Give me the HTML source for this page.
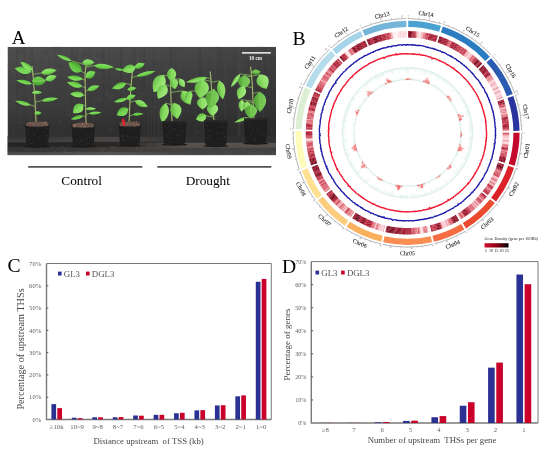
<!DOCTYPE html>
<html><head><meta charset="utf-8"><title>Figure</title><style>html,body{margin:0;padding:0;background:#fff;width:550px;height:452px;overflow:hidden}svg{display:block}</style></head><body>
<svg width="550" height="452" viewBox="0 0 550 452">
<rect width="550" height="452" fill="#fff"/>
<text x="11.7" y="44.2" font-family="Liberation Serif, Times New Roman, serif" font-size="19" fill="#000">A</text>
<defs><linearGradient id="bg" x1="0" y1="0" x2="0" y2="1"><stop offset="0" stop-color="#4c4c4c"/><stop offset="0.3" stop-color="#3f3f3f"/><stop offset="0.55" stop-color="#393939"/><stop offset="0.75" stop-color="#2f2f2f"/><stop offset="0.88" stop-color="#303030"/><stop offset="1" stop-color="#333"/></linearGradient><linearGradient id="bgh" x1="0" y1="0" x2="1" y2="0"><stop offset="0" stop-color="#fff" stop-opacity="0.02"/><stop offset="0.5" stop-color="#000" stop-opacity="0.02"/><stop offset="1" stop-color="#000" stop-opacity="0.1"/></linearGradient><linearGradient id="fl" x1="0" y1="0" x2="0" y2="1"><stop offset="0" stop-color="#3e3e3e"/><stop offset="0.1" stop-color="#57514f"/><stop offset="0.28" stop-color="#4a4644"/><stop offset="0.45" stop-color="#333"/><stop offset="0.7" stop-color="#393939"/><stop offset="0.85" stop-color="#4f4b48"/><stop offset="1" stop-color="#57534f"/></linearGradient><clipPath id="ph"><rect x="7.5" y="46.8" width="268.5" height="108.5"/></clipPath></defs>
<g clip-path="url(#ph)">
<rect x="7.5" y="46.8" width="268.5" height="108.50000000000001" fill="url(#bg)"/>
<rect x="7.5" y="46.8" width="268.5" height="108.50000000000001" fill="url(#bgh)"/>
<rect x="71.39" y="46.8" width="1.32" height="96" fill="#363636" opacity="0.22"/>
<rect x="253.43" y="46.8" width="1.21" height="96" fill="#4e4e4e" opacity="0.22"/>
<rect x="170.1" y="46.8" width="1.86" height="96" fill="#363636" opacity="0.22"/>
<rect x="77.14" y="46.8" width="0.85" height="96" fill="#363636" opacity="0.22"/>
<rect x="152.75" y="46.8" width="1.32" height="96" fill="#363636" opacity="0.22"/>
<rect x="179.09" y="46.8" width="0.73" height="96" fill="#4e4e4e" opacity="0.22"/>
<rect x="240.57" y="46.8" width="1.28" height="96" fill="#4e4e4e" opacity="0.22"/>
<rect x="187.77" y="46.8" width="0.6" height="96" fill="#4e4e4e" opacity="0.22"/>
<rect x="88.39" y="46.8" width="0.55" height="96" fill="#363636" opacity="0.22"/>
<rect x="134.43" y="46.8" width="1.58" height="96" fill="#363636" opacity="0.22"/>
<rect x="199.24" y="46.8" width="1.88" height="96" fill="#363636" opacity="0.22"/>
<rect x="203" y="46.8" width="1.37" height="96" fill="#4e4e4e" opacity="0.22"/>
<rect x="243.48" y="46.8" width="0.65" height="96" fill="#4e4e4e" opacity="0.22"/>
<rect x="140.38" y="46.8" width="0.89" height="96" fill="#363636" opacity="0.22"/>
<rect x="216.65" y="46.8" width="1.78" height="96" fill="#363636" opacity="0.22"/>
<rect x="143.69" y="46.8" width="1.08" height="96" fill="#363636" opacity="0.22"/>
<rect x="150.91" y="46.8" width="1.11" height="96" fill="#4e4e4e" opacity="0.22"/>
<rect x="250.28" y="46.8" width="1.52" height="96" fill="#4e4e4e" opacity="0.22"/>
<rect x="237.44" y="46.8" width="1.99" height="96" fill="#4e4e4e" opacity="0.22"/>
<rect x="195.08" y="46.8" width="0.99" height="96" fill="#4e4e4e" opacity="0.22"/>
<rect x="199.16" y="46.8" width="0.82" height="96" fill="#363636" opacity="0.22"/>
<rect x="84.01" y="46.8" width="0.6" height="96" fill="#363636" opacity="0.22"/>
<rect x="31.27" y="46.8" width="1.7" height="96" fill="#363636" opacity="0.22"/>
<rect x="248.37" y="46.8" width="0.53" height="96" fill="#363636" opacity="0.22"/>
<rect x="213.92" y="46.8" width="1.81" height="96" fill="#4e4e4e" opacity="0.22"/>
<rect x="169.94" y="46.8" width="1.64" height="96" fill="#363636" opacity="0.22"/>
<rect x="200.4" y="46.8" width="1" height="96" fill="#363636" opacity="0.22"/>
<rect x="143.21" y="46.8" width="2" height="96" fill="#363636" opacity="0.22"/>
<rect x="9.44" y="46.8" width="0.66" height="96" fill="#4e4e4e" opacity="0.22"/>
<rect x="262.28" y="46.8" width="1.96" height="96" fill="#363636" opacity="0.22"/>
<rect x="171.41" y="46.8" width="0.73" height="96" fill="#4e4e4e" opacity="0.22"/>
<rect x="270.6" y="46.8" width="1.01" height="96" fill="#363636" opacity="0.22"/>
<rect x="264.9" y="46.8" width="1.84" height="96" fill="#363636" opacity="0.22"/>
<rect x="108.66" y="46.8" width="1.8" height="96" fill="#363636" opacity="0.22"/>
<rect x="180.38" y="46.8" width="1.39" height="96" fill="#4e4e4e" opacity="0.22"/>
<rect x="174" y="46.8" width="1.91" height="96" fill="#363636" opacity="0.22"/>
<rect x="123.27" y="46.8" width="1.58" height="96" fill="#4e4e4e" opacity="0.22"/>
<rect x="258.93" y="46.8" width="1.16" height="96" fill="#363636" opacity="0.22"/>
<rect x="147.42" y="46.8" width="1.32" height="96" fill="#4e4e4e" opacity="0.22"/>
<rect x="219.18" y="46.8" width="1.98" height="96" fill="#363636" opacity="0.22"/>
<rect x="12.88" y="46.8" width="1.42" height="96" fill="#4e4e4e" opacity="0.22"/>
<rect x="23.63" y="46.8" width="1.44" height="96" fill="#363636" opacity="0.22"/>
<rect x="102.26" y="46.8" width="1.88" height="96" fill="#363636" opacity="0.22"/>
<rect x="205.66" y="46.8" width="0.53" height="96" fill="#4e4e4e" opacity="0.22"/>
<rect x="263.87" y="46.8" width="0.53" height="96" fill="#363636" opacity="0.22"/>
<rect x="74.93" y="46.8" width="1.18" height="96" fill="#363636" opacity="0.22"/>
<rect x="55.14" y="46.8" width="0.78" height="96" fill="#363636" opacity="0.22"/>
<rect x="234.07" y="46.8" width="0.9" height="96" fill="#363636" opacity="0.22"/>
<rect x="35.66" y="46.8" width="1.72" height="96" fill="#4e4e4e" opacity="0.22"/>
<rect x="90.74" y="46.8" width="0.83" height="96" fill="#363636" opacity="0.22"/>
<rect x="71.59" y="46.8" width="0.78" height="96" fill="#363636" opacity="0.22"/>
<rect x="181.9" y="46.8" width="0.65" height="96" fill="#363636" opacity="0.22"/>
<rect x="262.35" y="46.8" width="1.51" height="96" fill="#4e4e4e" opacity="0.22"/>
<rect x="125.22" y="46.8" width="1.78" height="96" fill="#4e4e4e" opacity="0.22"/>
<rect x="28.97" y="46.8" width="1.61" height="96" fill="#4e4e4e" opacity="0.22"/>
<rect x="245.1" y="46.8" width="1.18" height="96" fill="#4e4e4e" opacity="0.22"/>
<rect x="218.81" y="46.8" width="0.55" height="96" fill="#4e4e4e" opacity="0.22"/>
<rect x="92.12" y="46.8" width="1.75" height="96" fill="#4e4e4e" opacity="0.22"/>
<rect x="239.41" y="46.8" width="1.01" height="96" fill="#4e4e4e" opacity="0.22"/>
<rect x="223.98" y="46.8" width="1.02" height="96" fill="#4e4e4e" opacity="0.22"/>
<rect x="120.61" y="46.8" width="1.28" height="96" fill="#363636" opacity="0.22"/>
<rect x="132.28" y="46.8" width="1.45" height="96" fill="#363636" opacity="0.22"/>
<rect x="120.21" y="46.8" width="1.11" height="96" fill="#363636" opacity="0.22"/>
<rect x="49.39" y="46.8" width="0.51" height="96" fill="#363636" opacity="0.22"/>
<rect x="157.56" y="46.8" width="1.98" height="96" fill="#4e4e4e" opacity="0.22"/>
<rect x="16.18" y="46.8" width="1.19" height="96" fill="#363636" opacity="0.22"/>
<rect x="153.53" y="46.8" width="1.83" height="96" fill="#4e4e4e" opacity="0.22"/>
<rect x="237.87" y="46.8" width="1.96" height="96" fill="#4e4e4e" opacity="0.22"/>
<rect x="225.04" y="46.8" width="0.57" height="96" fill="#4e4e4e" opacity="0.22"/>
<rect x="248.23" y="46.8" width="1.85" height="96" fill="#4e4e4e" opacity="0.22"/>
<ellipse cx="11.03" cy="116.86" rx="3.01" ry="1.72" fill="#3a3a3a" opacity="0.16"/>
<ellipse cx="12.83" cy="97.28" rx="4.76" ry="2.84" fill="#525252" opacity="0.16"/>
<ellipse cx="99.15" cy="70.53" rx="4.25" ry="1.18" fill="#363636" opacity="0.16"/>
<ellipse cx="66.79" cy="58.29" rx="1.69" ry="3.38" fill="#525252" opacity="0.16"/>
<ellipse cx="254.99" cy="122.57" rx="2.95" ry="2.71" fill="#525252" opacity="0.16"/>
<ellipse cx="114.97" cy="117.91" rx="2.07" ry="2.58" fill="#3a3a3a" opacity="0.16"/>
<ellipse cx="121.07" cy="91.25" rx="4.43" ry="3.33" fill="#525252" opacity="0.16"/>
<ellipse cx="19.9" cy="51.48" rx="4.9" ry="3.56" fill="#363636" opacity="0.16"/>
<ellipse cx="30.63" cy="94" rx="1.63" ry="1.22" fill="#4e4e4e" opacity="0.16"/>
<ellipse cx="111.09" cy="83.43" rx="2.44" ry="1.57" fill="#4e4e4e" opacity="0.16"/>
<ellipse cx="95.78" cy="58.43" rx="3.86" ry="2.14" fill="#525252" opacity="0.16"/>
<ellipse cx="28.95" cy="63.58" rx="2.84" ry="2.95" fill="#4e4e4e" opacity="0.16"/>
<ellipse cx="152.85" cy="106.65" rx="3.49" ry="2.29" fill="#525252" opacity="0.16"/>
<ellipse cx="107.49" cy="93.44" rx="2.68" ry="3.08" fill="#4e4e4e" opacity="0.16"/>
<ellipse cx="131.24" cy="69.84" rx="3.78" ry="1.21" fill="#4e4e4e" opacity="0.16"/>
<ellipse cx="121.58" cy="86.83" rx="4.75" ry="2.12" fill="#525252" opacity="0.16"/>
<ellipse cx="248.57" cy="121.15" rx="1.49" ry="3.07" fill="#4e4e4e" opacity="0.16"/>
<ellipse cx="259.64" cy="115.56" rx="3.67" ry="3.2" fill="#363636" opacity="0.16"/>
<ellipse cx="158.89" cy="56.49" rx="2.89" ry="1.71" fill="#525252" opacity="0.16"/>
<ellipse cx="111.86" cy="96.36" rx="3.64" ry="2.13" fill="#525252" opacity="0.16"/>
<ellipse cx="227.52" cy="78.9" rx="1.1" ry="1.35" fill="#525252" opacity="0.16"/>
<ellipse cx="136.9" cy="112.26" rx="3.32" ry="3.4" fill="#4e4e4e" opacity="0.16"/>
<ellipse cx="17.24" cy="118.94" rx="1.43" ry="3.25" fill="#3a3a3a" opacity="0.16"/>
<ellipse cx="258.43" cy="52.55" rx="4.48" ry="1.54" fill="#4e4e4e" opacity="0.16"/>
<ellipse cx="28.27" cy="140.64" rx="2.82" ry="3.1" fill="#3a3a3a" opacity="0.16"/>
<ellipse cx="260.59" cy="70.57" rx="4.76" ry="2.67" fill="#363636" opacity="0.16"/>
<ellipse cx="266.96" cy="82.08" rx="4.89" ry="2.24" fill="#3a3a3a" opacity="0.16"/>
<ellipse cx="208.18" cy="61.9" rx="1.62" ry="2.2" fill="#363636" opacity="0.16"/>
<ellipse cx="245.81" cy="62.08" rx="3.99" ry="3.75" fill="#363636" opacity="0.16"/>
<ellipse cx="146.38" cy="88.45" rx="1.55" ry="3.26" fill="#3a3a3a" opacity="0.16"/>
<ellipse cx="46.85" cy="95.27" rx="4.41" ry="2.61" fill="#3a3a3a" opacity="0.16"/>
<ellipse cx="216.81" cy="109.91" rx="3.38" ry="2.75" fill="#363636" opacity="0.16"/>
<ellipse cx="271.64" cy="130.4" rx="1.09" ry="2.44" fill="#4e4e4e" opacity="0.16"/>
<ellipse cx="110.27" cy="62.99" rx="1.96" ry="2.45" fill="#4e4e4e" opacity="0.16"/>
<ellipse cx="239.43" cy="86.13" rx="3.81" ry="1.62" fill="#363636" opacity="0.16"/>
<ellipse cx="163.37" cy="131.56" rx="2.93" ry="3.16" fill="#525252" opacity="0.16"/>
<ellipse cx="237.51" cy="84.42" rx="2.87" ry="1.69" fill="#525252" opacity="0.16"/>
<ellipse cx="70.54" cy="114.26" rx="4.83" ry="3.56" fill="#525252" opacity="0.16"/>
<ellipse cx="72.5" cy="64.62" rx="1.55" ry="2.87" fill="#4e4e4e" opacity="0.16"/>
<ellipse cx="188.78" cy="50.26" rx="1.68" ry="1.14" fill="#4e4e4e" opacity="0.16"/>
<ellipse cx="56.71" cy="55.35" rx="1.47" ry="1.79" fill="#525252" opacity="0.16"/>
<ellipse cx="252.84" cy="50.2" rx="3.32" ry="3.03" fill="#363636" opacity="0.16"/>
<ellipse cx="9.35" cy="78.27" rx="2.52" ry="1.23" fill="#363636" opacity="0.16"/>
<ellipse cx="180.5" cy="116.58" rx="2.56" ry="2.63" fill="#363636" opacity="0.16"/>
<ellipse cx="39.5" cy="72.63" rx="1.45" ry="3.66" fill="#363636" opacity="0.16"/>
<ellipse cx="251.5" cy="55.91" rx="3.71" ry="2.11" fill="#4e4e4e" opacity="0.16"/>
<ellipse cx="128.44" cy="109.11" rx="1.43" ry="3.83" fill="#4e4e4e" opacity="0.16"/>
<ellipse cx="98.4" cy="100.01" rx="3.67" ry="2.53" fill="#525252" opacity="0.16"/>
<ellipse cx="23.48" cy="74.48" rx="3.58" ry="3.19" fill="#3a3a3a" opacity="0.16"/>
<ellipse cx="47.65" cy="81.65" rx="1.49" ry="3.8" fill="#363636" opacity="0.16"/>
<ellipse cx="45.46" cy="77.96" rx="3.22" ry="2.94" fill="#363636" opacity="0.16"/>
<ellipse cx="130.39" cy="76.17" rx="3.82" ry="1.32" fill="#3a3a3a" opacity="0.16"/>
<ellipse cx="56.16" cy="98.85" rx="2.44" ry="1.8" fill="#363636" opacity="0.16"/>
<ellipse cx="110.44" cy="128.82" rx="2.91" ry="1.81" fill="#525252" opacity="0.16"/>
<ellipse cx="194.23" cy="95.18" rx="4.78" ry="2.34" fill="#4e4e4e" opacity="0.16"/>
<ellipse cx="224.76" cy="53.31" rx="4.39" ry="1.34" fill="#363636" opacity="0.16"/>
<ellipse cx="80.13" cy="56.17" rx="3.26" ry="3.73" fill="#525252" opacity="0.16"/>
<ellipse cx="37.6" cy="112.43" rx="3.68" ry="2.17" fill="#363636" opacity="0.16"/>
<ellipse cx="271.55" cy="58.88" rx="4.44" ry="3.39" fill="#3a3a3a" opacity="0.16"/>
<ellipse cx="153.76" cy="62.81" rx="1.81" ry="1.75" fill="#3a3a3a" opacity="0.16"/>
<ellipse cx="217.38" cy="49.63" rx="4.56" ry="3.85" fill="#363636" opacity="0.16"/>
<ellipse cx="110.37" cy="98.75" rx="3.53" ry="3.93" fill="#4e4e4e" opacity="0.16"/>
<ellipse cx="191.86" cy="74.94" rx="1.12" ry="1.57" fill="#363636" opacity="0.16"/>
<ellipse cx="177.74" cy="56.9" rx="2.97" ry="2.57" fill="#3a3a3a" opacity="0.16"/>
<ellipse cx="131.15" cy="64.98" rx="1.15" ry="2.5" fill="#3a3a3a" opacity="0.16"/>
<ellipse cx="180.94" cy="88.56" rx="4.84" ry="3.68" fill="#4e4e4e" opacity="0.16"/>
<ellipse cx="43.91" cy="121.28" rx="1.1" ry="2.86" fill="#525252" opacity="0.16"/>
<ellipse cx="143.35" cy="93.67" rx="4.72" ry="1.97" fill="#525252" opacity="0.16"/>
<ellipse cx="241.23" cy="112.1" rx="1.32" ry="3.52" fill="#3a3a3a" opacity="0.16"/>
<ellipse cx="215.68" cy="49.99" rx="3.96" ry="2.03" fill="#525252" opacity="0.16"/>
<ellipse cx="224.09" cy="134.38" rx="2.75" ry="3.27" fill="#3a3a3a" opacity="0.16"/>
<ellipse cx="137.72" cy="57.06" rx="2.63" ry="3.54" fill="#525252" opacity="0.16"/>
<ellipse cx="197.02" cy="83.6" rx="3.8" ry="2.61" fill="#363636" opacity="0.16"/>
<ellipse cx="120.84" cy="107.83" rx="1.09" ry="2.37" fill="#4e4e4e" opacity="0.16"/>
<ellipse cx="193.11" cy="88.01" rx="4.6" ry="3.16" fill="#363636" opacity="0.16"/>
<ellipse cx="106.02" cy="81.67" rx="3.39" ry="1.67" fill="#4e4e4e" opacity="0.16"/>
<ellipse cx="8.23" cy="66.45" rx="1.57" ry="2.38" fill="#4e4e4e" opacity="0.16"/>
<ellipse cx="59.94" cy="66.47" rx="3.34" ry="2.51" fill="#3a3a3a" opacity="0.16"/>
<ellipse cx="178.46" cy="59.89" rx="2.77" ry="1.55" fill="#3a3a3a" opacity="0.16"/>
<ellipse cx="233.47" cy="84.69" rx="2.63" ry="3.11" fill="#4e4e4e" opacity="0.16"/>
<ellipse cx="21.22" cy="84.71" rx="2.97" ry="3.73" fill="#363636" opacity="0.16"/>
<ellipse cx="244.61" cy="69.51" rx="2.9" ry="1.49" fill="#363636" opacity="0.16"/>
<ellipse cx="174.63" cy="79.36" rx="3.38" ry="3.42" fill="#525252" opacity="0.16"/>
<ellipse cx="85.58" cy="139.04" rx="4.16" ry="3.88" fill="#363636" opacity="0.16"/>
<ellipse cx="138.68" cy="99.55" rx="4.26" ry="2.89" fill="#525252" opacity="0.16"/>
<ellipse cx="100.06" cy="55.61" rx="4.88" ry="2.78" fill="#363636" opacity="0.16"/>
<ellipse cx="8.48" cy="49.65" rx="1.08" ry="2.51" fill="#525252" opacity="0.16"/>
<ellipse cx="136.88" cy="64.58" rx="1.8" ry="3.92" fill="#4e4e4e" opacity="0.16"/>
<ellipse cx="135.54" cy="122.34" rx="4.76" ry="1.1" fill="#4e4e4e" opacity="0.16"/>
<ellipse cx="89.32" cy="103.85" rx="1.35" ry="1.88" fill="#363636" opacity="0.16"/>
<ellipse cx="235.7" cy="57.58" rx="3.19" ry="2.61" fill="#363636" opacity="0.16"/>
<ellipse cx="216.48" cy="84.66" rx="4.34" ry="2.66" fill="#363636" opacity="0.16"/>
<ellipse cx="255.46" cy="80.91" rx="2.75" ry="2.33" fill="#363636" opacity="0.16"/>
<ellipse cx="196.19" cy="79.25" rx="3.03" ry="3.26" fill="#3a3a3a" opacity="0.16"/>
<ellipse cx="253.19" cy="112.31" rx="1.17" ry="1.52" fill="#363636" opacity="0.16"/>
<ellipse cx="209.32" cy="124.14" rx="4.03" ry="3.03" fill="#525252" opacity="0.16"/>
<ellipse cx="33.57" cy="69.09" rx="4.51" ry="3.62" fill="#525252" opacity="0.16"/>
<ellipse cx="128.3" cy="131.11" rx="4.99" ry="1" fill="#4e4e4e" opacity="0.16"/>
<ellipse cx="59.81" cy="120.77" rx="2.35" ry="1.93" fill="#525252" opacity="0.16"/>
<ellipse cx="128.41" cy="124.06" rx="1.96" ry="1.15" fill="#3a3a3a" opacity="0.16"/>
<ellipse cx="48.49" cy="107.39" rx="1.45" ry="1.86" fill="#525252" opacity="0.16"/>
<ellipse cx="63.55" cy="126.77" rx="3.02" ry="3.72" fill="#363636" opacity="0.16"/>
<ellipse cx="93.13" cy="129.79" rx="2.87" ry="2.87" fill="#3a3a3a" opacity="0.16"/>
<ellipse cx="18.59" cy="122.59" rx="4.44" ry="1.3" fill="#525252" opacity="0.16"/>
<ellipse cx="260.74" cy="70.77" rx="2.86" ry="1.67" fill="#525252" opacity="0.16"/>
<ellipse cx="230.21" cy="104.65" rx="4.05" ry="3.62" fill="#363636" opacity="0.16"/>
<ellipse cx="100.41" cy="103.49" rx="4.11" ry="1.88" fill="#363636" opacity="0.16"/>
<ellipse cx="261.25" cy="88.51" rx="1.82" ry="2.62" fill="#363636" opacity="0.16"/>
<ellipse cx="132.13" cy="115.23" rx="2.37" ry="1.58" fill="#525252" opacity="0.16"/>
<ellipse cx="209.84" cy="133.65" rx="2.69" ry="2.95" fill="#4e4e4e" opacity="0.16"/>
<ellipse cx="170.18" cy="66.93" rx="4.35" ry="1.19" fill="#4e4e4e" opacity="0.16"/>
<ellipse cx="70.9" cy="88.07" rx="1.87" ry="1.5" fill="#4e4e4e" opacity="0.16"/>
<ellipse cx="257.46" cy="115.08" rx="4.73" ry="2.61" fill="#363636" opacity="0.16"/>
<ellipse cx="119.93" cy="135.92" rx="2.94" ry="3.32" fill="#363636" opacity="0.16"/>
<ellipse cx="116.77" cy="140.55" rx="2.17" ry="3.8" fill="#525252" opacity="0.16"/>
<ellipse cx="57.06" cy="55.81" rx="2.18" ry="2.56" fill="#3a3a3a" opacity="0.16"/>
<ellipse cx="179.14" cy="50.61" rx="2.1" ry="2.3" fill="#3a3a3a" opacity="0.16"/>
<ellipse cx="100.08" cy="116.56" rx="1.57" ry="2.33" fill="#4e4e4e" opacity="0.16"/>
<ellipse cx="251.42" cy="88.52" rx="1.61" ry="3.29" fill="#3a3a3a" opacity="0.16"/>
<ellipse cx="195.56" cy="138.58" rx="4.77" ry="2.29" fill="#4e4e4e" opacity="0.16"/>
<ellipse cx="259.89" cy="91.37" rx="2.44" ry="3.56" fill="#3a3a3a" opacity="0.16"/>
<ellipse cx="84.07" cy="90.34" rx="4.23" ry="1.89" fill="#4e4e4e" opacity="0.16"/>
<ellipse cx="72.64" cy="122.63" rx="1.06" ry="2.89" fill="#525252" opacity="0.16"/>
<ellipse cx="47.54" cy="48.76" rx="1.01" ry="3.95" fill="#525252" opacity="0.16"/>
<ellipse cx="220.46" cy="80.16" rx="4.92" ry="1.11" fill="#4e4e4e" opacity="0.16"/>
<ellipse cx="57.18" cy="48.04" rx="4.62" ry="3.51" fill="#363636" opacity="0.16"/>
<ellipse cx="169.54" cy="123.06" rx="2.25" ry="1.74" fill="#363636" opacity="0.16"/>
<ellipse cx="222.87" cy="86.11" rx="2.36" ry="1.09" fill="#4e4e4e" opacity="0.16"/>
<ellipse cx="17.52" cy="140.42" rx="4.65" ry="3.43" fill="#3a3a3a" opacity="0.16"/>
<ellipse cx="73.92" cy="59.55" rx="3.04" ry="3.49" fill="#363636" opacity="0.16"/>
<ellipse cx="155.67" cy="73.08" rx="1.18" ry="2.46" fill="#3a3a3a" opacity="0.16"/>
<ellipse cx="23.72" cy="123.53" rx="2.87" ry="3" fill="#363636" opacity="0.16"/>
<ellipse cx="256.83" cy="123.32" rx="2.48" ry="2.9" fill="#363636" opacity="0.16"/>
<ellipse cx="86.37" cy="53.73" rx="4.97" ry="2.64" fill="#3a3a3a" opacity="0.16"/>
<ellipse cx="117.09" cy="79.88" rx="2.11" ry="1.77" fill="#363636" opacity="0.16"/>
<ellipse cx="83.5" cy="96.6" rx="1.56" ry="1.11" fill="#4e4e4e" opacity="0.16"/>
<ellipse cx="137.88" cy="68.47" rx="4.73" ry="2.84" fill="#363636" opacity="0.16"/>
<ellipse cx="15.72" cy="100.8" rx="2.95" ry="1.84" fill="#525252" opacity="0.16"/>
<ellipse cx="197.97" cy="132.49" rx="2.74" ry="1.23" fill="#525252" opacity="0.16"/>
<ellipse cx="16.54" cy="92.58" rx="1.78" ry="3.76" fill="#363636" opacity="0.16"/>
<ellipse cx="56.13" cy="82.83" rx="2.26" ry="1.81" fill="#363636" opacity="0.16"/>
<ellipse cx="262.55" cy="135.52" rx="3.44" ry="2.67" fill="#4e4e4e" opacity="0.16"/>
<ellipse cx="17.05" cy="86.03" rx="4.92" ry="1.24" fill="#363636" opacity="0.16"/>
<ellipse cx="69.19" cy="65.6" rx="3.79" ry="1.35" fill="#525252" opacity="0.16"/>
<ellipse cx="177.27" cy="58.42" rx="4.77" ry="3.92" fill="#525252" opacity="0.16"/>
<ellipse cx="193.32" cy="87.34" rx="2.85" ry="1.87" fill="#363636" opacity="0.16"/>
<ellipse cx="157.74" cy="63.22" rx="4.83" ry="1.43" fill="#363636" opacity="0.16"/>
<ellipse cx="250.62" cy="63.52" rx="3.7" ry="2.94" fill="#363636" opacity="0.16"/>
<ellipse cx="45.68" cy="51.93" rx="2.24" ry="2.95" fill="#3a3a3a" opacity="0.16"/>
<ellipse cx="42.61" cy="60.59" rx="3.14" ry="2.15" fill="#3a3a3a" opacity="0.16"/>
<ellipse cx="36.25" cy="83.45" rx="2.12" ry="1.39" fill="#525252" opacity="0.16"/>
<ellipse cx="46.5" cy="58.73" rx="4.75" ry="2.81" fill="#4e4e4e" opacity="0.16"/>
<ellipse cx="258.43" cy="47.5" rx="4.99" ry="3.94" fill="#4e4e4e" opacity="0.16"/>
<ellipse cx="73.54" cy="80.11" rx="1.42" ry="3.54" fill="#363636" opacity="0.16"/>
<ellipse cx="134.43" cy="116.31" rx="3.28" ry="2.39" fill="#363636" opacity="0.16"/>
<ellipse cx="151.99" cy="88.38" rx="4.33" ry="1.6" fill="#363636" opacity="0.16"/>
<ellipse cx="167.07" cy="134.48" rx="2.2" ry="3.58" fill="#3a3a3a" opacity="0.16"/>
<ellipse cx="265" cy="76.59" rx="1.52" ry="2.81" fill="#3a3a3a" opacity="0.16"/>
<ellipse cx="22.79" cy="104.55" rx="1.46" ry="1.04" fill="#3a3a3a" opacity="0.16"/>
<ellipse cx="241.04" cy="121.44" rx="3.1" ry="3.3" fill="#4e4e4e" opacity="0.16"/>
<defs><linearGradient id="fl0" x1="0" y1="0" x2="0" y2="1"><stop offset="0" stop-color="#323232"/><stop offset="0.02" stop-color="#333333"/><stop offset="0.04" stop-color="#343434"/><stop offset="0.06" stop-color="#353535"/><stop offset="0.08" stop-color="#363636"/><stop offset="0.1" stop-color="#373737"/><stop offset="0.12" stop-color="#373737"/><stop offset="0.15" stop-color="#383838"/><stop offset="0.17" stop-color="#393939"/><stop offset="0.19" stop-color="#3b3b3b"/><stop offset="0.21" stop-color="#3d3d3d"/><stop offset="0.23" stop-color="#3f3f3f"/><stop offset="0.25" stop-color="#3f3f3f"/><stop offset="0.27" stop-color="#3e3e3e"/><stop offset="0.29" stop-color="#3e3e3e"/><stop offset="0.31" stop-color="#3d3d3d"/><stop offset="0.33" stop-color="#373737"/><stop offset="0.35" stop-color="#232323"/><stop offset="0.37" stop-color="#232323"/><stop offset="0.39" stop-color="#242424"/><stop offset="0.41" stop-color="#242424"/><stop offset="0.44" stop-color="#242424"/><stop offset="0.46" stop-color="#242424"/><stop offset="0.48" stop-color="#252525"/><stop offset="0.5" stop-color="#252525"/><stop offset="0.52" stop-color="#252525"/><stop offset="0.54" stop-color="#262626"/><stop offset="0.56" stop-color="#262626"/><stop offset="0.58" stop-color="#2f2f2f"/><stop offset="0.6" stop-color="#353535"/><stop offset="0.62" stop-color="#353535"/><stop offset="0.64" stop-color="#353535"/><stop offset="0.66" stop-color="#353535"/><stop offset="0.68" stop-color="#353535"/><stop offset="0.7" stop-color="#363636"/><stop offset="0.73" stop-color="#363636"/><stop offset="0.75" stop-color="#363636"/><stop offset="0.77" stop-color="#363636"/><stop offset="0.79" stop-color="#363636"/><stop offset="0.81" stop-color="#383838"/><stop offset="0.83" stop-color="#404040"/><stop offset="0.85" stop-color="#484848"/><stop offset="0.87" stop-color="#4b4b4b"/><stop offset="0.89" stop-color="#4b4b4b"/><stop offset="0.91" stop-color="#4c4c4c"/><stop offset="0.93" stop-color="#4d4d4d"/><stop offset="0.95" stop-color="#4e4e4e"/><stop offset="0.97" stop-color="#4f4f4f"/><stop offset="0.99" stop-color="#505050"/></linearGradient><linearGradient id="fl1" x1="0" y1="0" x2="0" y2="1"><stop offset="0" stop-color="#323232"/><stop offset="0.02" stop-color="#333333"/><stop offset="0.04" stop-color="#343434"/><stop offset="0.06" stop-color="#353535"/><stop offset="0.08" stop-color="#363636"/><stop offset="0.1" stop-color="#373737"/><stop offset="0.12" stop-color="#373737"/><stop offset="0.15" stop-color="#383838"/><stop offset="0.17" stop-color="#393939"/><stop offset="0.19" stop-color="#3b3b3b"/><stop offset="0.21" stop-color="#3d3d3d"/><stop offset="0.23" stop-color="#3f3f3f"/><stop offset="0.25" stop-color="#3f3f3f"/><stop offset="0.27" stop-color="#3e3e3e"/><stop offset="0.29" stop-color="#3e3e3e"/><stop offset="0.31" stop-color="#3d3d3d"/><stop offset="0.33" stop-color="#373737"/><stop offset="0.35" stop-color="#232323"/><stop offset="0.37" stop-color="#232323"/><stop offset="0.39" stop-color="#242424"/><stop offset="0.41" stop-color="#242424"/><stop offset="0.44" stop-color="#242424"/><stop offset="0.46" stop-color="#242424"/><stop offset="0.48" stop-color="#252525"/><stop offset="0.5" stop-color="#252525"/><stop offset="0.52" stop-color="#252525"/><stop offset="0.54" stop-color="#262626"/><stop offset="0.56" stop-color="#262626"/><stop offset="0.58" stop-color="#2f2f2f"/><stop offset="0.6" stop-color="#353535"/><stop offset="0.62" stop-color="#353535"/><stop offset="0.64" stop-color="#353535"/><stop offset="0.66" stop-color="#353535"/><stop offset="0.68" stop-color="#353535"/><stop offset="0.7" stop-color="#363636"/><stop offset="0.73" stop-color="#363636"/><stop offset="0.75" stop-color="#363636"/><stop offset="0.77" stop-color="#363636"/><stop offset="0.79" stop-color="#363636"/><stop offset="0.81" stop-color="#383838"/><stop offset="0.83" stop-color="#404040"/><stop offset="0.85" stop-color="#484848"/><stop offset="0.87" stop-color="#4b4b4b"/><stop offset="0.89" stop-color="#4b4b4b"/><stop offset="0.91" stop-color="#4c4c4c"/><stop offset="0.93" stop-color="#4d4d4d"/><stop offset="0.95" stop-color="#4e4e4e"/><stop offset="0.97" stop-color="#4f4f4f"/><stop offset="0.99" stop-color="#505050"/></linearGradient><linearGradient id="fl2" x1="0" y1="0" x2="0" y2="1"><stop offset="0" stop-color="#323232"/><stop offset="0.02" stop-color="#333333"/><stop offset="0.04" stop-color="#343434"/><stop offset="0.06" stop-color="#353535"/><stop offset="0.08" stop-color="#363636"/><stop offset="0.1" stop-color="#373737"/><stop offset="0.12" stop-color="#373737"/><stop offset="0.15" stop-color="#383838"/><stop offset="0.17" stop-color="#393939"/><stop offset="0.19" stop-color="#3b3b3b"/><stop offset="0.21" stop-color="#3d3d3d"/><stop offset="0.23" stop-color="#3f3f3f"/><stop offset="0.25" stop-color="#3f3f3f"/><stop offset="0.27" stop-color="#3e3e3e"/><stop offset="0.29" stop-color="#3e3e3e"/><stop offset="0.31" stop-color="#3d3d3d"/><stop offset="0.33" stop-color="#373737"/><stop offset="0.35" stop-color="#232323"/><stop offset="0.37" stop-color="#232323"/><stop offset="0.39" stop-color="#242424"/><stop offset="0.41" stop-color="#242424"/><stop offset="0.44" stop-color="#242424"/><stop offset="0.46" stop-color="#242424"/><stop offset="0.48" stop-color="#252525"/><stop offset="0.5" stop-color="#252525"/><stop offset="0.52" stop-color="#252525"/><stop offset="0.54" stop-color="#262626"/><stop offset="0.56" stop-color="#262626"/><stop offset="0.58" stop-color="#2f2f2f"/><stop offset="0.6" stop-color="#353535"/><stop offset="0.62" stop-color="#353535"/><stop offset="0.64" stop-color="#353535"/><stop offset="0.66" stop-color="#353535"/><stop offset="0.68" stop-color="#353535"/><stop offset="0.7" stop-color="#363636"/><stop offset="0.73" stop-color="#363636"/><stop offset="0.75" stop-color="#363636"/><stop offset="0.77" stop-color="#363636"/><stop offset="0.79" stop-color="#363636"/><stop offset="0.81" stop-color="#383838"/><stop offset="0.83" stop-color="#404040"/><stop offset="0.85" stop-color="#484848"/><stop offset="0.87" stop-color="#4b4b4b"/><stop offset="0.89" stop-color="#4b4b4b"/><stop offset="0.91" stop-color="#4c4c4c"/><stop offset="0.93" stop-color="#4d4d4d"/><stop offset="0.95" stop-color="#4e4e4e"/><stop offset="0.97" stop-color="#4f4f4f"/><stop offset="0.99" stop-color="#505050"/></linearGradient><linearGradient id="fl3" x1="0" y1="0" x2="0" y2="1"><stop offset="0" stop-color="#323232"/><stop offset="0.02" stop-color="#333333"/><stop offset="0.04" stop-color="#343434"/><stop offset="0.06" stop-color="#353535"/><stop offset="0.08" stop-color="#363636"/><stop offset="0.1" stop-color="#373737"/><stop offset="0.12" stop-color="#383838"/><stop offset="0.15" stop-color="#393939"/><stop offset="0.17" stop-color="#3a3a3a"/><stop offset="0.19" stop-color="#3b3b3b"/><stop offset="0.21" stop-color="#3d3d3d"/><stop offset="0.23" stop-color="#404040"/><stop offset="0.25" stop-color="#40403f"/><stop offset="0.27" stop-color="#3f3f3f"/><stop offset="0.29" stop-color="#3e3e3e"/><stop offset="0.31" stop-color="#3c3c3c"/><stop offset="0.33" stop-color="#363636"/><stop offset="0.35" stop-color="#232323"/><stop offset="0.37" stop-color="#232323"/><stop offset="0.39" stop-color="#242424"/><stop offset="0.41" stop-color="#242424"/><stop offset="0.44" stop-color="#242424"/><stop offset="0.46" stop-color="#252525"/><stop offset="0.48" stop-color="#252525"/><stop offset="0.5" stop-color="#252525"/><stop offset="0.52" stop-color="#252525"/><stop offset="0.54" stop-color="#262626"/><stop offset="0.56" stop-color="#262626"/><stop offset="0.58" stop-color="#2f2f2f"/><stop offset="0.6" stop-color="#353535"/><stop offset="0.62" stop-color="#353535"/><stop offset="0.64" stop-color="#363535"/><stop offset="0.66" stop-color="#363635"/><stop offset="0.68" stop-color="#363636"/><stop offset="0.7" stop-color="#363636"/><stop offset="0.73" stop-color="#363636"/><stop offset="0.75" stop-color="#363636"/><stop offset="0.77" stop-color="#363636"/><stop offset="0.79" stop-color="#363636"/><stop offset="0.81" stop-color="#383838"/><stop offset="0.83" stop-color="#404040"/><stop offset="0.85" stop-color="#484848"/><stop offset="0.87" stop-color="#4b4b4b"/><stop offset="0.89" stop-color="#4c4c4c"/><stop offset="0.91" stop-color="#4d4d4d"/><stop offset="0.93" stop-color="#4d4d4d"/><stop offset="0.95" stop-color="#4e4e4e"/><stop offset="0.97" stop-color="#4f4f4f"/><stop offset="0.99" stop-color="#505050"/></linearGradient><linearGradient id="fl4" x1="0" y1="0" x2="0" y2="1"><stop offset="0" stop-color="#323232"/><stop offset="0.02" stop-color="#333333"/><stop offset="0.04" stop-color="#343434"/><stop offset="0.06" stop-color="#363636"/><stop offset="0.08" stop-color="#393938"/><stop offset="0.1" stop-color="#3a3939"/><stop offset="0.12" stop-color="#3b3a3a"/><stop offset="0.15" stop-color="#3b3b3a"/><stop offset="0.17" stop-color="#3c3c3b"/><stop offset="0.19" stop-color="#3d3d3c"/><stop offset="0.21" stop-color="#3f3f3e"/><stop offset="0.23" stop-color="#414140"/><stop offset="0.25" stop-color="#414040"/><stop offset="0.27" stop-color="#40403f"/><stop offset="0.29" stop-color="#3f3e3e"/><stop offset="0.31" stop-color="#3b3b3b"/><stop offset="0.33" stop-color="#343434"/><stop offset="0.35" stop-color="#242424"/><stop offset="0.37" stop-color="#242424"/><stop offset="0.39" stop-color="#242424"/><stop offset="0.41" stop-color="#242424"/><stop offset="0.44" stop-color="#252525"/><stop offset="0.46" stop-color="#252525"/><stop offset="0.48" stop-color="#252525"/><stop offset="0.5" stop-color="#262626"/><stop offset="0.52" stop-color="#262626"/><stop offset="0.54" stop-color="#262626"/><stop offset="0.56" stop-color="#282727"/><stop offset="0.58" stop-color="#30302f"/><stop offset="0.6" stop-color="#373636"/><stop offset="0.62" stop-color="#373636"/><stop offset="0.64" stop-color="#373636"/><stop offset="0.66" stop-color="#373636"/><stop offset="0.68" stop-color="#373636"/><stop offset="0.7" stop-color="#373636"/><stop offset="0.73" stop-color="#373736"/><stop offset="0.75" stop-color="#373736"/><stop offset="0.77" stop-color="#383736"/><stop offset="0.79" stop-color="#383737"/><stop offset="0.81" stop-color="#3a3939"/><stop offset="0.83" stop-color="#424141"/><stop offset="0.85" stop-color="#4a4a4a"/><stop offset="0.87" stop-color="#4c4c4c"/><stop offset="0.89" stop-color="#4d4d4d"/><stop offset="0.91" stop-color="#4e4e4e"/><stop offset="0.93" stop-color="#4f4f4f"/><stop offset="0.95" stop-color="#4f4f4f"/><stop offset="0.97" stop-color="#505050"/><stop offset="0.99" stop-color="#515151"/></linearGradient><linearGradient id="fl5" x1="0" y1="0" x2="0" y2="1"><stop offset="0" stop-color="#323232"/><stop offset="0.02" stop-color="#333333"/><stop offset="0.04" stop-color="#343434"/><stop offset="0.06" stop-color="#383737"/><stop offset="0.08" stop-color="#3c3b3a"/><stop offset="0.1" stop-color="#3d3b3b"/><stop offset="0.12" stop-color="#3d3c3b"/><stop offset="0.15" stop-color="#3e3d3c"/><stop offset="0.17" stop-color="#3f3d3d"/><stop offset="0.19" stop-color="#3f3e3e"/><stop offset="0.21" stop-color="#41403f"/><stop offset="0.23" stop-color="#434141"/><stop offset="0.25" stop-color="#434141"/><stop offset="0.27" stop-color="#424140"/><stop offset="0.29" stop-color="#403f3e"/><stop offset="0.31" stop-color="#3a3939"/><stop offset="0.33" stop-color="#323232"/><stop offset="0.35" stop-color="#242424"/><stop offset="0.37" stop-color="#242424"/><stop offset="0.39" stop-color="#252525"/><stop offset="0.41" stop-color="#252525"/><stop offset="0.44" stop-color="#252525"/><stop offset="0.46" stop-color="#252525"/><stop offset="0.48" stop-color="#262626"/><stop offset="0.5" stop-color="#262626"/><stop offset="0.52" stop-color="#262626"/><stop offset="0.54" stop-color="#262626"/><stop offset="0.56" stop-color="#292828"/><stop offset="0.58" stop-color="#313030"/><stop offset="0.6" stop-color="#383736"/><stop offset="0.62" stop-color="#383736"/><stop offset="0.64" stop-color="#383736"/><stop offset="0.66" stop-color="#383736"/><stop offset="0.68" stop-color="#383737"/><stop offset="0.7" stop-color="#393737"/><stop offset="0.73" stop-color="#393737"/><stop offset="0.75" stop-color="#393837"/><stop offset="0.77" stop-color="#393837"/><stop offset="0.79" stop-color="#393837"/><stop offset="0.81" stop-color="#3b3a39"/><stop offset="0.83" stop-color="#434342"/><stop offset="0.85" stop-color="#4b4b4b"/><stop offset="0.87" stop-color="#4e4e4e"/><stop offset="0.89" stop-color="#4f4f4f"/><stop offset="0.91" stop-color="#4f4f4f"/><stop offset="0.93" stop-color="#505050"/><stop offset="0.95" stop-color="#505050"/><stop offset="0.97" stop-color="#515151"/><stop offset="0.99" stop-color="#515151"/></linearGradient><linearGradient id="fl6" x1="0" y1="0" x2="0" y2="1"><stop offset="0" stop-color="#323232"/><stop offset="0.02" stop-color="#333333"/><stop offset="0.04" stop-color="#333333"/><stop offset="0.06" stop-color="#393838"/><stop offset="0.08" stop-color="#3f3d3c"/><stop offset="0.1" stop-color="#3f3e3d"/><stop offset="0.12" stop-color="#403e3d"/><stop offset="0.15" stop-color="#403f3e"/><stop offset="0.17" stop-color="#413f3e"/><stop offset="0.19" stop-color="#42403f"/><stop offset="0.21" stop-color="#434140"/><stop offset="0.23" stop-color="#444242"/><stop offset="0.25" stop-color="#444241"/><stop offset="0.27" stop-color="#444241"/><stop offset="0.29" stop-color="#41403f"/><stop offset="0.31" stop-color="#383837"/><stop offset="0.33" stop-color="#2f2f2f"/><stop offset="0.35" stop-color="#242424"/><stop offset="0.37" stop-color="#252525"/><stop offset="0.39" stop-color="#252525"/><stop offset="0.41" stop-color="#252525"/><stop offset="0.44" stop-color="#252525"/><stop offset="0.46" stop-color="#262626"/><stop offset="0.48" stop-color="#262626"/><stop offset="0.5" stop-color="#262626"/><stop offset="0.52" stop-color="#262626"/><stop offset="0.54" stop-color="#272727"/><stop offset="0.56" stop-color="#2a2929"/><stop offset="0.58" stop-color="#333131"/><stop offset="0.6" stop-color="#393736"/><stop offset="0.62" stop-color="#393737"/><stop offset="0.64" stop-color="#393837"/><stop offset="0.66" stop-color="#3a3837"/><stop offset="0.68" stop-color="#3a3837"/><stop offset="0.7" stop-color="#3a3837"/><stop offset="0.73" stop-color="#3a3837"/><stop offset="0.75" stop-color="#3a3837"/><stop offset="0.77" stop-color="#3a3838"/><stop offset="0.79" stop-color="#3a3938"/><stop offset="0.81" stop-color="#3d3b3a"/><stop offset="0.83" stop-color="#454443"/><stop offset="0.85" stop-color="#4d4d4d"/><stop offset="0.87" stop-color="#4f4f4f"/><stop offset="0.89" stop-color="#505050"/><stop offset="0.91" stop-color="#505050"/><stop offset="0.93" stop-color="#515151"/><stop offset="0.95" stop-color="#515151"/><stop offset="0.97" stop-color="#525252"/><stop offset="0.99" stop-color="#525252"/></linearGradient><linearGradient id="fl7" x1="0" y1="0" x2="0" y2="1"><stop offset="0" stop-color="#323232"/><stop offset="0.02" stop-color="#333333"/><stop offset="0.04" stop-color="#333333"/><stop offset="0.06" stop-color="#3b3939"/><stop offset="0.08" stop-color="#423f3e"/><stop offset="0.1" stop-color="#42403f"/><stop offset="0.12" stop-color="#43403f"/><stop offset="0.15" stop-color="#43413f"/><stop offset="0.17" stop-color="#434140"/><stop offset="0.19" stop-color="#444140"/><stop offset="0.21" stop-color="#454241"/><stop offset="0.23" stop-color="#464342"/><stop offset="0.25" stop-color="#464342"/><stop offset="0.27" stop-color="#454342"/><stop offset="0.29" stop-color="#42403f"/><stop offset="0.31" stop-color="#373636"/><stop offset="0.33" stop-color="#2d2d2d"/><stop offset="0.35" stop-color="#252525"/><stop offset="0.37" stop-color="#252525"/><stop offset="0.39" stop-color="#252525"/><stop offset="0.41" stop-color="#262626"/><stop offset="0.44" stop-color="#262626"/><stop offset="0.46" stop-color="#262626"/><stop offset="0.48" stop-color="#262626"/><stop offset="0.5" stop-color="#272727"/><stop offset="0.52" stop-color="#272727"/><stop offset="0.54" stop-color="#272727"/><stop offset="0.56" stop-color="#2b2a2a"/><stop offset="0.58" stop-color="#343231"/><stop offset="0.6" stop-color="#3a3837"/><stop offset="0.62" stop-color="#3b3837"/><stop offset="0.64" stop-color="#3b3837"/><stop offset="0.66" stop-color="#3b3937"/><stop offset="0.68" stop-color="#3b3937"/><stop offset="0.7" stop-color="#3b3938"/><stop offset="0.73" stop-color="#3b3938"/><stop offset="0.75" stop-color="#3c3938"/><stop offset="0.77" stop-color="#3c3938"/><stop offset="0.79" stop-color="#3c3938"/><stop offset="0.81" stop-color="#3e3c3b"/><stop offset="0.83" stop-color="#464545"/><stop offset="0.85" stop-color="#4f4e4e"/><stop offset="0.87" stop-color="#515151"/><stop offset="0.89" stop-color="#515151"/><stop offset="0.91" stop-color="#525252"/><stop offset="0.93" stop-color="#525252"/><stop offset="0.95" stop-color="#525252"/><stop offset="0.97" stop-color="#535353"/><stop offset="0.99" stop-color="#535353"/></linearGradient><linearGradient id="fl8" x1="0" y1="0" x2="0" y2="1"><stop offset="0" stop-color="#323232"/><stop offset="0.02" stop-color="#333333"/><stop offset="0.04" stop-color="#333333"/><stop offset="0.06" stop-color="#3c3b3a"/><stop offset="0.08" stop-color="#454240"/><stop offset="0.1" stop-color="#454241"/><stop offset="0.12" stop-color="#454241"/><stop offset="0.15" stop-color="#454341"/><stop offset="0.17" stop-color="#464341"/><stop offset="0.19" stop-color="#464342"/><stop offset="0.21" stop-color="#474442"/><stop offset="0.23" stop-color="#474443"/><stop offset="0.25" stop-color="#474443"/><stop offset="0.27" stop-color="#474443"/><stop offset="0.29" stop-color="#434140"/><stop offset="0.31" stop-color="#363534"/><stop offset="0.33" stop-color="#2a2a2a"/><stop offset="0.35" stop-color="#252525"/><stop offset="0.37" stop-color="#262626"/><stop offset="0.39" stop-color="#262626"/><stop offset="0.41" stop-color="#262626"/><stop offset="0.44" stop-color="#262626"/><stop offset="0.46" stop-color="#262626"/><stop offset="0.48" stop-color="#272727"/><stop offset="0.5" stop-color="#272727"/><stop offset="0.52" stop-color="#272727"/><stop offset="0.54" stop-color="#272727"/><stop offset="0.56" stop-color="#2c2c2b"/><stop offset="0.58" stop-color="#353332"/><stop offset="0.6" stop-color="#3c3937"/><stop offset="0.62" stop-color="#3c3937"/><stop offset="0.64" stop-color="#3c3938"/><stop offset="0.66" stop-color="#3c3938"/><stop offset="0.68" stop-color="#3c3938"/><stop offset="0.7" stop-color="#3d3a38"/><stop offset="0.73" stop-color="#3d3a38"/><stop offset="0.75" stop-color="#3d3a38"/><stop offset="0.77" stop-color="#3d3a39"/><stop offset="0.79" stop-color="#3d3a39"/><stop offset="0.81" stop-color="#403d3b"/><stop offset="0.83" stop-color="#484646"/><stop offset="0.85" stop-color="#505050"/><stop offset="0.87" stop-color="#525252"/><stop offset="0.89" stop-color="#535353"/><stop offset="0.91" stop-color="#535353"/><stop offset="0.93" stop-color="#535353"/><stop offset="0.95" stop-color="#535353"/><stop offset="0.97" stop-color="#535353"/><stop offset="0.99" stop-color="#545454"/></linearGradient><linearGradient id="fl9" x1="0" y1="0" x2="0" y2="1"><stop offset="0" stop-color="#323232"/><stop offset="0.02" stop-color="#333333"/><stop offset="0.04" stop-color="#333333"/><stop offset="0.06" stop-color="#3d3c3b"/><stop offset="0.08" stop-color="#484442"/><stop offset="0.1" stop-color="#484442"/><stop offset="0.12" stop-color="#484443"/><stop offset="0.15" stop-color="#484443"/><stop offset="0.17" stop-color="#484543"/><stop offset="0.19" stop-color="#484543"/><stop offset="0.21" stop-color="#494543"/><stop offset="0.23" stop-color="#494543"/><stop offset="0.25" stop-color="#494543"/><stop offset="0.27" stop-color="#494543"/><stop offset="0.29" stop-color="#454140"/><stop offset="0.31" stop-color="#353333"/><stop offset="0.33" stop-color="#282828"/><stop offset="0.35" stop-color="#262626"/><stop offset="0.37" stop-color="#262626"/><stop offset="0.39" stop-color="#262626"/><stop offset="0.41" stop-color="#262626"/><stop offset="0.44" stop-color="#272727"/><stop offset="0.46" stop-color="#272727"/><stop offset="0.48" stop-color="#272727"/><stop offset="0.5" stop-color="#272727"/><stop offset="0.52" stop-color="#272727"/><stop offset="0.54" stop-color="#282828"/><stop offset="0.56" stop-color="#2e2d2c"/><stop offset="0.58" stop-color="#363433"/><stop offset="0.6" stop-color="#3d3938"/><stop offset="0.62" stop-color="#3d3a38"/><stop offset="0.64" stop-color="#3d3a38"/><stop offset="0.66" stop-color="#3e3a38"/><stop offset="0.68" stop-color="#3e3a38"/><stop offset="0.7" stop-color="#3e3a39"/><stop offset="0.73" stop-color="#3e3b39"/><stop offset="0.75" stop-color="#3e3b39"/><stop offset="0.77" stop-color="#3f3b39"/><stop offset="0.79" stop-color="#3f3b39"/><stop offset="0.81" stop-color="#413e3c"/><stop offset="0.83" stop-color="#494847"/><stop offset="0.85" stop-color="#525151"/><stop offset="0.87" stop-color="#545454"/><stop offset="0.89" stop-color="#545454"/><stop offset="0.91" stop-color="#545454"/><stop offset="0.93" stop-color="#545454"/><stop offset="0.95" stop-color="#545454"/><stop offset="0.97" stop-color="#545454"/><stop offset="0.99" stop-color="#545454"/></linearGradient><linearGradient id="fl10" x1="0" y1="0" x2="0" y2="1"><stop offset="0" stop-color="#323232"/><stop offset="0.02" stop-color="#323232"/><stop offset="0.04" stop-color="#333333"/><stop offset="0.06" stop-color="#3e3c3b"/><stop offset="0.08" stop-color="#494544"/><stop offset="0.1" stop-color="#494544"/><stop offset="0.12" stop-color="#494544"/><stop offset="0.15" stop-color="#494544"/><stop offset="0.17" stop-color="#494544"/><stop offset="0.19" stop-color="#494544"/><stop offset="0.21" stop-color="#494544"/><stop offset="0.23" stop-color="#494544"/><stop offset="0.25" stop-color="#494544"/><stop offset="0.27" stop-color="#494544"/><stop offset="0.29" stop-color="#454240"/><stop offset="0.31" stop-color="#333231"/><stop offset="0.33" stop-color="#262626"/><stop offset="0.35" stop-color="#272727"/><stop offset="0.37" stop-color="#282727"/><stop offset="0.39" stop-color="#282828"/><stop offset="0.41" stop-color="#282828"/><stop offset="0.44" stop-color="#282828"/><stop offset="0.46" stop-color="#282828"/><stop offset="0.48" stop-color="#292828"/><stop offset="0.5" stop-color="#292928"/><stop offset="0.52" stop-color="#292929"/><stop offset="0.54" stop-color="#292929"/><stop offset="0.56" stop-color="#302e2e"/><stop offset="0.58" stop-color="#383534"/><stop offset="0.6" stop-color="#3f3a38"/><stop offset="0.62" stop-color="#3f3b39"/><stop offset="0.64" stop-color="#3f3b39"/><stop offset="0.66" stop-color="#3f3b39"/><stop offset="0.68" stop-color="#3f3b39"/><stop offset="0.7" stop-color="#3f3b39"/><stop offset="0.73" stop-color="#3f3b39"/><stop offset="0.75" stop-color="#403c3a"/><stop offset="0.77" stop-color="#403c3a"/><stop offset="0.79" stop-color="#403c3a"/><stop offset="0.81" stop-color="#423f3d"/><stop offset="0.83" stop-color="#4a4847"/><stop offset="0.85" stop-color="#535252"/><stop offset="0.87" stop-color="#555555"/><stop offset="0.89" stop-color="#555555"/><stop offset="0.91" stop-color="#555555"/><stop offset="0.93" stop-color="#555555"/><stop offset="0.95" stop-color="#555555"/><stop offset="0.97" stop-color="#555555"/><stop offset="0.99" stop-color="#555555"/></linearGradient><linearGradient id="fl11" x1="0" y1="0" x2="0" y2="1"><stop offset="0" stop-color="#323232"/><stop offset="0.02" stop-color="#323232"/><stop offset="0.04" stop-color="#333333"/><stop offset="0.06" stop-color="#3c3b3a"/><stop offset="0.08" stop-color="#464341"/><stop offset="0.1" stop-color="#464341"/><stop offset="0.12" stop-color="#464341"/><stop offset="0.15" stop-color="#464341"/><stop offset="0.17" stop-color="#464341"/><stop offset="0.19" stop-color="#464341"/><stop offset="0.21" stop-color="#464341"/><stop offset="0.23" stop-color="#464341"/><stop offset="0.25" stop-color="#464341"/><stop offset="0.27" stop-color="#464341"/><stop offset="0.29" stop-color="#423f3e"/><stop offset="0.31" stop-color="#333231"/><stop offset="0.33" stop-color="#282828"/><stop offset="0.35" stop-color="#2b2a2a"/><stop offset="0.37" stop-color="#2e2d2c"/><stop offset="0.39" stop-color="#2e2d2c"/><stop offset="0.41" stop-color="#2e2d2d"/><stop offset="0.44" stop-color="#2e2d2d"/><stop offset="0.46" stop-color="#2e2d2d"/><stop offset="0.48" stop-color="#2e2e2d"/><stop offset="0.5" stop-color="#2f2e2d"/><stop offset="0.52" stop-color="#2f2e2d"/><stop offset="0.54" stop-color="#2f2e2d"/><stop offset="0.56" stop-color="#343231"/><stop offset="0.58" stop-color="#3c3837"/><stop offset="0.6" stop-color="#413d3b"/><stop offset="0.62" stop-color="#403c3a"/><stop offset="0.64" stop-color="#3f3b3a"/><stop offset="0.66" stop-color="#3f3b3a"/><stop offset="0.68" stop-color="#3f3c3a"/><stop offset="0.7" stop-color="#3f3c3a"/><stop offset="0.73" stop-color="#403c3a"/><stop offset="0.75" stop-color="#403c3b"/><stop offset="0.77" stop-color="#403d3b"/><stop offset="0.79" stop-color="#403d3b"/><stop offset="0.81" stop-color="#423f3e"/><stop offset="0.83" stop-color="#494847"/><stop offset="0.85" stop-color="#515050"/><stop offset="0.87" stop-color="#535353"/><stop offset="0.89" stop-color="#535353"/><stop offset="0.91" stop-color="#535353"/><stop offset="0.93" stop-color="#535353"/><stop offset="0.95" stop-color="#535353"/><stop offset="0.97" stop-color="#535353"/><stop offset="0.99" stop-color="#545454"/></linearGradient><linearGradient id="fl12" x1="0" y1="0" x2="0" y2="1"><stop offset="0" stop-color="#313131"/><stop offset="0.02" stop-color="#323232"/><stop offset="0.04" stop-color="#323232"/><stop offset="0.06" stop-color="#3b3938"/><stop offset="0.08" stop-color="#43403f"/><stop offset="0.1" stop-color="#43403f"/><stop offset="0.12" stop-color="#43403f"/><stop offset="0.15" stop-color="#43403f"/><stop offset="0.17" stop-color="#43403f"/><stop offset="0.19" stop-color="#43403f"/><stop offset="0.21" stop-color="#43403f"/><stop offset="0.23" stop-color="#43403f"/><stop offset="0.25" stop-color="#43403f"/><stop offset="0.27" stop-color="#43403f"/><stop offset="0.29" stop-color="#403d3c"/><stop offset="0.31" stop-color="#333131"/><stop offset="0.33" stop-color="#292929"/><stop offset="0.35" stop-color="#2f2e2d"/><stop offset="0.37" stop-color="#343331"/><stop offset="0.39" stop-color="#343331"/><stop offset="0.41" stop-color="#343331"/><stop offset="0.44" stop-color="#343331"/><stop offset="0.46" stop-color="#343331"/><stop offset="0.48" stop-color="#343331"/><stop offset="0.5" stop-color="#343331"/><stop offset="0.52" stop-color="#343331"/><stop offset="0.54" stop-color="#343332"/><stop offset="0.56" stop-color="#393735"/><stop offset="0.58" stop-color="#3f3c39"/><stop offset="0.6" stop-color="#433f3d"/><stop offset="0.62" stop-color="#413e3c"/><stop offset="0.64" stop-color="#3f3c3b"/><stop offset="0.66" stop-color="#3f3c3b"/><stop offset="0.68" stop-color="#3f3c3b"/><stop offset="0.7" stop-color="#403d3b"/><stop offset="0.73" stop-color="#403d3b"/><stop offset="0.75" stop-color="#403d3c"/><stop offset="0.77" stop-color="#403d3c"/><stop offset="0.79" stop-color="#413e3c"/><stop offset="0.81" stop-color="#42403e"/><stop offset="0.83" stop-color="#494746"/><stop offset="0.85" stop-color="#4f4f4e"/><stop offset="0.87" stop-color="#515151"/><stop offset="0.89" stop-color="#515151"/><stop offset="0.91" stop-color="#515151"/><stop offset="0.93" stop-color="#525252"/><stop offset="0.95" stop-color="#525252"/><stop offset="0.97" stop-color="#525252"/><stop offset="0.99" stop-color="#525252"/></linearGradient><linearGradient id="fl13" x1="0" y1="0" x2="0" y2="1"><stop offset="0" stop-color="#313131"/><stop offset="0.02" stop-color="#323232"/><stop offset="0.04" stop-color="#323232"/><stop offset="0.06" stop-color="#393837"/><stop offset="0.08" stop-color="#403d3c"/><stop offset="0.1" stop-color="#403d3c"/><stop offset="0.12" stop-color="#403d3c"/><stop offset="0.15" stop-color="#403d3c"/><stop offset="0.17" stop-color="#403d3c"/><stop offset="0.19" stop-color="#403d3c"/><stop offset="0.21" stop-color="#403d3c"/><stop offset="0.23" stop-color="#403d3c"/><stop offset="0.25" stop-color="#403d3c"/><stop offset="0.27" stop-color="#403d3c"/><stop offset="0.29" stop-color="#3d3b3a"/><stop offset="0.31" stop-color="#323131"/><stop offset="0.33" stop-color="#2a2a2a"/><stop offset="0.35" stop-color="#323130"/><stop offset="0.37" stop-color="#3b3836"/><stop offset="0.39" stop-color="#3b3836"/><stop offset="0.41" stop-color="#3b3836"/><stop offset="0.44" stop-color="#3b3836"/><stop offset="0.46" stop-color="#3a3836"/><stop offset="0.48" stop-color="#3a3836"/><stop offset="0.5" stop-color="#3a3836"/><stop offset="0.52" stop-color="#3a3836"/><stop offset="0.54" stop-color="#3a3836"/><stop offset="0.56" stop-color="#3e3b39"/><stop offset="0.58" stop-color="#433f3c"/><stop offset="0.6" stop-color="#46413f"/><stop offset="0.62" stop-color="#433f3d"/><stop offset="0.64" stop-color="#403d3c"/><stop offset="0.66" stop-color="#3f3d3c"/><stop offset="0.68" stop-color="#403d3c"/><stop offset="0.7" stop-color="#403d3c"/><stop offset="0.73" stop-color="#403e3d"/><stop offset="0.75" stop-color="#403e3d"/><stop offset="0.77" stop-color="#413e3d"/><stop offset="0.79" stop-color="#413f3d"/><stop offset="0.81" stop-color="#42403f"/><stop offset="0.83" stop-color="#484746"/><stop offset="0.85" stop-color="#4d4d4d"/><stop offset="0.87" stop-color="#4f4f4f"/><stop offset="0.89" stop-color="#4f4f4f"/><stop offset="0.91" stop-color="#505050"/><stop offset="0.93" stop-color="#505050"/><stop offset="0.95" stop-color="#505050"/><stop offset="0.97" stop-color="#515151"/><stop offset="0.99" stop-color="#515151"/></linearGradient><linearGradient id="fl14" x1="0" y1="0" x2="0" y2="1"><stop offset="0" stop-color="#313131"/><stop offset="0.02" stop-color="#313131"/><stop offset="0.04" stop-color="#313131"/><stop offset="0.06" stop-color="#373636"/><stop offset="0.08" stop-color="#3c3b3a"/><stop offset="0.1" stop-color="#3c3b3a"/><stop offset="0.12" stop-color="#3c3b3a"/><stop offset="0.15" stop-color="#3c3b3a"/><stop offset="0.17" stop-color="#3c3b3a"/><stop offset="0.19" stop-color="#3c3b3a"/><stop offset="0.21" stop-color="#3c3b3a"/><stop offset="0.23" stop-color="#3c3b3a"/><stop offset="0.25" stop-color="#3c3b3a"/><stop offset="0.27" stop-color="#3c3b3a"/><stop offset="0.29" stop-color="#3a3938"/><stop offset="0.31" stop-color="#323131"/><stop offset="0.33" stop-color="#2b2b2b"/><stop offset="0.35" stop-color="#363433"/><stop offset="0.37" stop-color="#413e3b"/><stop offset="0.39" stop-color="#413e3b"/><stop offset="0.41" stop-color="#413d3b"/><stop offset="0.44" stop-color="#413d3b"/><stop offset="0.46" stop-color="#413d3b"/><stop offset="0.48" stop-color="#403d3b"/><stop offset="0.5" stop-color="#403d3a"/><stop offset="0.52" stop-color="#403d3a"/><stop offset="0.54" stop-color="#403c3a"/><stop offset="0.56" stop-color="#433f3c"/><stop offset="0.58" stop-color="#47423f"/><stop offset="0.6" stop-color="#484441"/><stop offset="0.62" stop-color="#44413f"/><stop offset="0.64" stop-color="#403e3d"/><stop offset="0.66" stop-color="#403e3d"/><stop offset="0.68" stop-color="#403e3d"/><stop offset="0.7" stop-color="#403e3d"/><stop offset="0.73" stop-color="#403f3e"/><stop offset="0.75" stop-color="#413f3e"/><stop offset="0.77" stop-color="#413f3e"/><stop offset="0.79" stop-color="#413f3e"/><stop offset="0.81" stop-color="#434140"/><stop offset="0.83" stop-color="#474645"/><stop offset="0.85" stop-color="#4b4b4b"/><stop offset="0.87" stop-color="#4d4d4d"/><stop offset="0.89" stop-color="#4d4d4d"/><stop offset="0.91" stop-color="#4e4e4e"/><stop offset="0.93" stop-color="#4e4e4e"/><stop offset="0.95" stop-color="#4f4f4f"/><stop offset="0.97" stop-color="#505050"/><stop offset="0.99" stop-color="#505050"/></linearGradient><linearGradient id="fl15" x1="0" y1="0" x2="0" y2="1"><stop offset="0" stop-color="#313131"/><stop offset="0.02" stop-color="#313131"/><stop offset="0.04" stop-color="#313131"/><stop offset="0.06" stop-color="#353434"/><stop offset="0.08" stop-color="#393837"/><stop offset="0.1" stop-color="#393837"/><stop offset="0.12" stop-color="#393837"/><stop offset="0.15" stop-color="#393837"/><stop offset="0.17" stop-color="#393837"/><stop offset="0.19" stop-color="#393837"/><stop offset="0.21" stop-color="#393837"/><stop offset="0.23" stop-color="#393837"/><stop offset="0.25" stop-color="#393837"/><stop offset="0.27" stop-color="#393837"/><stop offset="0.29" stop-color="#383636"/><stop offset="0.31" stop-color="#313130"/><stop offset="0.33" stop-color="#2c2c2c"/><stop offset="0.35" stop-color="#3a3836"/><stop offset="0.37" stop-color="#484340"/><stop offset="0.39" stop-color="#474340"/><stop offset="0.41" stop-color="#474340"/><stop offset="0.44" stop-color="#47433f"/><stop offset="0.46" stop-color="#47423f"/><stop offset="0.48" stop-color="#46423f"/><stop offset="0.5" stop-color="#46423f"/><stop offset="0.52" stop-color="#46423f"/><stop offset="0.54" stop-color="#45413f"/><stop offset="0.56" stop-color="#474340"/><stop offset="0.58" stop-color="#4a4542"/><stop offset="0.6" stop-color="#4b4643"/><stop offset="0.62" stop-color="#464240"/><stop offset="0.64" stop-color="#413f3e"/><stop offset="0.66" stop-color="#403e3e"/><stop offset="0.68" stop-color="#403f3e"/><stop offset="0.7" stop-color="#403f3e"/><stop offset="0.73" stop-color="#413f3f"/><stop offset="0.75" stop-color="#41403f"/><stop offset="0.77" stop-color="#41403f"/><stop offset="0.79" stop-color="#424040"/><stop offset="0.81" stop-color="#434141"/><stop offset="0.83" stop-color="#464545"/><stop offset="0.85" stop-color="#494949"/><stop offset="0.87" stop-color="#4b4b4b"/><stop offset="0.89" stop-color="#4b4b4b"/><stop offset="0.91" stop-color="#4c4c4c"/><stop offset="0.93" stop-color="#4d4d4d"/><stop offset="0.95" stop-color="#4e4e4e"/><stop offset="0.97" stop-color="#4e4e4e"/><stop offset="0.99" stop-color="#4f4f4f"/></linearGradient><linearGradient id="fl16" x1="0" y1="0" x2="0" y2="1"><stop offset="0" stop-color="#303030"/><stop offset="0.02" stop-color="#313131"/><stop offset="0.04" stop-color="#313131"/><stop offset="0.06" stop-color="#333333"/><stop offset="0.08" stop-color="#363535"/><stop offset="0.1" stop-color="#363535"/><stop offset="0.12" stop-color="#363535"/><stop offset="0.15" stop-color="#363535"/><stop offset="0.17" stop-color="#363535"/><stop offset="0.19" stop-color="#363535"/><stop offset="0.21" stop-color="#363535"/><stop offset="0.23" stop-color="#363535"/><stop offset="0.25" stop-color="#363535"/><stop offset="0.27" stop-color="#363535"/><stop offset="0.29" stop-color="#353434"/><stop offset="0.31" stop-color="#313030"/><stop offset="0.33" stop-color="#2e2e2e"/><stop offset="0.35" stop-color="#3e3b39"/><stop offset="0.37" stop-color="#4e4945"/><stop offset="0.39" stop-color="#4e4845"/><stop offset="0.41" stop-color="#4d4844"/><stop offset="0.44" stop-color="#4d4844"/><stop offset="0.46" stop-color="#4d4744"/><stop offset="0.48" stop-color="#4c4744"/><stop offset="0.5" stop-color="#4c4743"/><stop offset="0.52" stop-color="#4b4743"/><stop offset="0.54" stop-color="#4b4643"/><stop offset="0.56" stop-color="#4c4744"/><stop offset="0.58" stop-color="#4e4845"/><stop offset="0.6" stop-color="#4d4845"/><stop offset="0.62" stop-color="#474442"/><stop offset="0.64" stop-color="#41403f"/><stop offset="0.66" stop-color="#403f3f"/><stop offset="0.68" stop-color="#403f3f"/><stop offset="0.7" stop-color="#41403f"/><stop offset="0.73" stop-color="#414040"/><stop offset="0.75" stop-color="#414040"/><stop offset="0.77" stop-color="#424140"/><stop offset="0.79" stop-color="#424141"/><stop offset="0.81" stop-color="#434242"/><stop offset="0.83" stop-color="#454544"/><stop offset="0.85" stop-color="#474747"/><stop offset="0.87" stop-color="#494949"/><stop offset="0.89" stop-color="#494949"/><stop offset="0.91" stop-color="#4a4a4a"/><stop offset="0.93" stop-color="#4b4b4b"/><stop offset="0.95" stop-color="#4c4c4c"/><stop offset="0.97" stop-color="#4d4d4d"/><stop offset="0.99" stop-color="#4e4e4e"/></linearGradient><linearGradient id="fl17" x1="0" y1="0" x2="0" y2="1"><stop offset="0" stop-color="#303030"/><stop offset="0.02" stop-color="#303030"/><stop offset="0.04" stop-color="#303030"/><stop offset="0.06" stop-color="#323131"/><stop offset="0.08" stop-color="#333232"/><stop offset="0.1" stop-color="#333232"/><stop offset="0.12" stop-color="#333232"/><stop offset="0.15" stop-color="#333232"/><stop offset="0.17" stop-color="#333232"/><stop offset="0.19" stop-color="#333232"/><stop offset="0.21" stop-color="#333232"/><stop offset="0.23" stop-color="#333232"/><stop offset="0.25" stop-color="#333232"/><stop offset="0.27" stop-color="#333232"/><stop offset="0.29" stop-color="#323232"/><stop offset="0.31" stop-color="#303030"/><stop offset="0.33" stop-color="#2f2f2f"/><stop offset="0.35" stop-color="#423f3c"/><stop offset="0.37" stop-color="#554e4a"/><stop offset="0.39" stop-color="#544e49"/><stop offset="0.41" stop-color="#544d49"/><stop offset="0.44" stop-color="#534d49"/><stop offset="0.46" stop-color="#534d49"/><stop offset="0.48" stop-color="#524c48"/><stop offset="0.5" stop-color="#524c48"/><stop offset="0.52" stop-color="#514c48"/><stop offset="0.54" stop-color="#514b47"/><stop offset="0.56" stop-color="#514b47"/><stop offset="0.58" stop-color="#514c48"/><stop offset="0.6" stop-color="#504b47"/><stop offset="0.62" stop-color="#494644"/><stop offset="0.64" stop-color="#424140"/><stop offset="0.66" stop-color="#40403f"/><stop offset="0.68" stop-color="#414040"/><stop offset="0.7" stop-color="#414040"/><stop offset="0.73" stop-color="#414141"/><stop offset="0.75" stop-color="#424141"/><stop offset="0.77" stop-color="#424241"/><stop offset="0.79" stop-color="#424242"/><stop offset="0.81" stop-color="#434342"/><stop offset="0.83" stop-color="#444444"/><stop offset="0.85" stop-color="#454545"/><stop offset="0.87" stop-color="#474747"/><stop offset="0.89" stop-color="#484848"/><stop offset="0.91" stop-color="#494949"/><stop offset="0.93" stop-color="#4a4a4a"/><stop offset="0.95" stop-color="#4b4b4b"/><stop offset="0.97" stop-color="#4c4c4c"/><stop offset="0.99" stop-color="#4d4d4d"/></linearGradient><linearGradient id="fl18" x1="0" y1="0" x2="0" y2="1"><stop offset="0" stop-color="#303030"/><stop offset="0.02" stop-color="#303030"/><stop offset="0.04" stop-color="#303030"/><stop offset="0.06" stop-color="#303030"/><stop offset="0.08" stop-color="#303030"/><stop offset="0.1" stop-color="#303030"/><stop offset="0.12" stop-color="#303030"/><stop offset="0.15" stop-color="#303030"/><stop offset="0.17" stop-color="#303030"/><stop offset="0.19" stop-color="#303030"/><stop offset="0.21" stop-color="#303030"/><stop offset="0.23" stop-color="#303030"/><stop offset="0.25" stop-color="#303030"/><stop offset="0.27" stop-color="#303030"/><stop offset="0.29" stop-color="#303030"/><stop offset="0.31" stop-color="#303030"/><stop offset="0.33" stop-color="#303030"/><stop offset="0.35" stop-color="#45423f"/><stop offset="0.37" stop-color="#5a534e"/><stop offset="0.39" stop-color="#59534e"/><stop offset="0.41" stop-color="#59524d"/><stop offset="0.44" stop-color="#58524d"/><stop offset="0.46" stop-color="#58514d"/><stop offset="0.48" stop-color="#57514c"/><stop offset="0.5" stop-color="#57504c"/><stop offset="0.52" stop-color="#56504b"/><stop offset="0.54" stop-color="#564f4b"/><stop offset="0.56" stop-color="#554f4b"/><stop offset="0.58" stop-color="#544e4a"/><stop offset="0.6" stop-color="#524d49"/><stop offset="0.62" stop-color="#4a4745"/><stop offset="0.64" stop-color="#424141"/><stop offset="0.66" stop-color="#404040"/><stop offset="0.68" stop-color="#414141"/><stop offset="0.7" stop-color="#414141"/><stop offset="0.73" stop-color="#424242"/><stop offset="0.75" stop-color="#424242"/><stop offset="0.77" stop-color="#424242"/><stop offset="0.79" stop-color="#434343"/><stop offset="0.81" stop-color="#434343"/><stop offset="0.83" stop-color="#444444"/><stop offset="0.85" stop-color="#444444"/><stop offset="0.87" stop-color="#454545"/><stop offset="0.89" stop-color="#464646"/><stop offset="0.91" stop-color="#474747"/><stop offset="0.93" stop-color="#484848"/><stop offset="0.95" stop-color="#494949"/><stop offset="0.97" stop-color="#4b4b4b"/><stop offset="0.99" stop-color="#4c4c4c"/></linearGradient><linearGradient id="fl19" x1="0" y1="0" x2="0" y2="1"><stop offset="0" stop-color="#303030"/><stop offset="0.02" stop-color="#303030"/><stop offset="0.04" stop-color="#303030"/><stop offset="0.06" stop-color="#303030"/><stop offset="0.08" stop-color="#303030"/><stop offset="0.1" stop-color="#303030"/><stop offset="0.12" stop-color="#303030"/><stop offset="0.15" stop-color="#303030"/><stop offset="0.17" stop-color="#303030"/><stop offset="0.19" stop-color="#303030"/><stop offset="0.21" stop-color="#303030"/><stop offset="0.23" stop-color="#303030"/><stop offset="0.25" stop-color="#303030"/><stop offset="0.27" stop-color="#303030"/><stop offset="0.29" stop-color="#303030"/><stop offset="0.31" stop-color="#303030"/><stop offset="0.33" stop-color="#303030"/><stop offset="0.35" stop-color="#45423f"/><stop offset="0.37" stop-color="#5a534e"/><stop offset="0.39" stop-color="#59534e"/><stop offset="0.41" stop-color="#59524d"/><stop offset="0.44" stop-color="#58524d"/><stop offset="0.46" stop-color="#58514d"/><stop offset="0.48" stop-color="#57514c"/><stop offset="0.5" stop-color="#57504c"/><stop offset="0.52" stop-color="#56504b"/><stop offset="0.54" stop-color="#564f4b"/><stop offset="0.56" stop-color="#554f4b"/><stop offset="0.58" stop-color="#544e4a"/><stop offset="0.6" stop-color="#524d49"/><stop offset="0.62" stop-color="#4a4745"/><stop offset="0.64" stop-color="#424141"/><stop offset="0.66" stop-color="#404040"/><stop offset="0.68" stop-color="#414141"/><stop offset="0.7" stop-color="#414141"/><stop offset="0.73" stop-color="#424242"/><stop offset="0.75" stop-color="#424242"/><stop offset="0.77" stop-color="#424242"/><stop offset="0.79" stop-color="#434343"/><stop offset="0.81" stop-color="#434343"/><stop offset="0.83" stop-color="#444444"/><stop offset="0.85" stop-color="#444444"/><stop offset="0.87" stop-color="#454545"/><stop offset="0.89" stop-color="#464646"/><stop offset="0.91" stop-color="#474747"/><stop offset="0.93" stop-color="#484848"/><stop offset="0.95" stop-color="#494949"/><stop offset="0.97" stop-color="#4b4b4b"/><stop offset="0.99" stop-color="#4c4c4c"/></linearGradient><linearGradient id="fl20" x1="0" y1="0" x2="0" y2="1"><stop offset="0" stop-color="#303030"/><stop offset="0.02" stop-color="#303030"/><stop offset="0.04" stop-color="#303030"/><stop offset="0.06" stop-color="#303030"/><stop offset="0.08" stop-color="#303030"/><stop offset="0.1" stop-color="#303030"/><stop offset="0.12" stop-color="#303030"/><stop offset="0.15" stop-color="#303030"/><stop offset="0.17" stop-color="#303030"/><stop offset="0.19" stop-color="#303030"/><stop offset="0.21" stop-color="#303030"/><stop offset="0.23" stop-color="#303030"/><stop offset="0.25" stop-color="#303030"/><stop offset="0.27" stop-color="#303030"/><stop offset="0.29" stop-color="#303030"/><stop offset="0.31" stop-color="#303030"/><stop offset="0.33" stop-color="#303030"/><stop offset="0.35" stop-color="#45423f"/><stop offset="0.37" stop-color="#5a534e"/><stop offset="0.39" stop-color="#59534e"/><stop offset="0.41" stop-color="#59524d"/><stop offset="0.44" stop-color="#58524d"/><stop offset="0.46" stop-color="#58514d"/><stop offset="0.48" stop-color="#57514c"/><stop offset="0.5" stop-color="#57504c"/><stop offset="0.52" stop-color="#56504b"/><stop offset="0.54" stop-color="#564f4b"/><stop offset="0.56" stop-color="#554f4b"/><stop offset="0.58" stop-color="#544e4a"/><stop offset="0.6" stop-color="#524d49"/><stop offset="0.62" stop-color="#4a4745"/><stop offset="0.64" stop-color="#424141"/><stop offset="0.66" stop-color="#404040"/><stop offset="0.68" stop-color="#414141"/><stop offset="0.7" stop-color="#414141"/><stop offset="0.73" stop-color="#424242"/><stop offset="0.75" stop-color="#424242"/><stop offset="0.77" stop-color="#424242"/><stop offset="0.79" stop-color="#434343"/><stop offset="0.81" stop-color="#434343"/><stop offset="0.83" stop-color="#444444"/><stop offset="0.85" stop-color="#444444"/><stop offset="0.87" stop-color="#454545"/><stop offset="0.89" stop-color="#464646"/><stop offset="0.91" stop-color="#474747"/><stop offset="0.93" stop-color="#484848"/><stop offset="0.95" stop-color="#494949"/><stop offset="0.97" stop-color="#4b4b4b"/><stop offset="0.99" stop-color="#4c4c4c"/></linearGradient><linearGradient id="fl21" x1="0" y1="0" x2="0" y2="1"><stop offset="0" stop-color="#303030"/><stop offset="0.02" stop-color="#303030"/><stop offset="0.04" stop-color="#303030"/><stop offset="0.06" stop-color="#303030"/><stop offset="0.08" stop-color="#303030"/><stop offset="0.1" stop-color="#303030"/><stop offset="0.12" stop-color="#303030"/><stop offset="0.15" stop-color="#303030"/><stop offset="0.17" stop-color="#303030"/><stop offset="0.19" stop-color="#303030"/><stop offset="0.21" stop-color="#303030"/><stop offset="0.23" stop-color="#303030"/><stop offset="0.25" stop-color="#303030"/><stop offset="0.27" stop-color="#303030"/><stop offset="0.29" stop-color="#303030"/><stop offset="0.31" stop-color="#303030"/><stop offset="0.33" stop-color="#303030"/><stop offset="0.35" stop-color="#45423f"/><stop offset="0.37" stop-color="#5a534e"/><stop offset="0.39" stop-color="#59534e"/><stop offset="0.41" stop-color="#59524d"/><stop offset="0.44" stop-color="#58524d"/><stop offset="0.46" stop-color="#58514d"/><stop offset="0.48" stop-color="#57514c"/><stop offset="0.5" stop-color="#57504c"/><stop offset="0.52" stop-color="#56504b"/><stop offset="0.54" stop-color="#564f4b"/><stop offset="0.56" stop-color="#554f4b"/><stop offset="0.58" stop-color="#544e4a"/><stop offset="0.6" stop-color="#524d49"/><stop offset="0.62" stop-color="#4a4745"/><stop offset="0.64" stop-color="#424141"/><stop offset="0.66" stop-color="#404040"/><stop offset="0.68" stop-color="#414141"/><stop offset="0.7" stop-color="#414141"/><stop offset="0.73" stop-color="#424242"/><stop offset="0.75" stop-color="#424242"/><stop offset="0.77" stop-color="#424242"/><stop offset="0.79" stop-color="#434343"/><stop offset="0.81" stop-color="#434343"/><stop offset="0.83" stop-color="#444444"/><stop offset="0.85" stop-color="#444444"/><stop offset="0.87" stop-color="#454545"/><stop offset="0.89" stop-color="#464646"/><stop offset="0.91" stop-color="#474747"/><stop offset="0.93" stop-color="#484848"/><stop offset="0.95" stop-color="#494949"/><stop offset="0.97" stop-color="#4b4b4b"/><stop offset="0.99" stop-color="#4c4c4c"/></linearGradient><linearGradient id="fl22" x1="0" y1="0" x2="0" y2="1"><stop offset="0" stop-color="#303030"/><stop offset="0.02" stop-color="#303030"/><stop offset="0.04" stop-color="#303030"/><stop offset="0.06" stop-color="#303030"/><stop offset="0.08" stop-color="#303030"/><stop offset="0.1" stop-color="#303030"/><stop offset="0.12" stop-color="#303030"/><stop offset="0.15" stop-color="#303030"/><stop offset="0.17" stop-color="#303030"/><stop offset="0.19" stop-color="#303030"/><stop offset="0.21" stop-color="#303030"/><stop offset="0.23" stop-color="#303030"/><stop offset="0.25" stop-color="#303030"/><stop offset="0.27" stop-color="#303030"/><stop offset="0.29" stop-color="#303030"/><stop offset="0.31" stop-color="#303030"/><stop offset="0.33" stop-color="#303030"/><stop offset="0.35" stop-color="#45423f"/><stop offset="0.37" stop-color="#5a534e"/><stop offset="0.39" stop-color="#59534e"/><stop offset="0.41" stop-color="#59524d"/><stop offset="0.44" stop-color="#58524d"/><stop offset="0.46" stop-color="#58514d"/><stop offset="0.48" stop-color="#57514c"/><stop offset="0.5" stop-color="#57504c"/><stop offset="0.52" stop-color="#56504b"/><stop offset="0.54" stop-color="#564f4b"/><stop offset="0.56" stop-color="#554f4b"/><stop offset="0.58" stop-color="#544e4a"/><stop offset="0.6" stop-color="#524d49"/><stop offset="0.62" stop-color="#4a4745"/><stop offset="0.64" stop-color="#424141"/><stop offset="0.66" stop-color="#404040"/><stop offset="0.68" stop-color="#414141"/><stop offset="0.7" stop-color="#414141"/><stop offset="0.73" stop-color="#424242"/><stop offset="0.75" stop-color="#424242"/><stop offset="0.77" stop-color="#424242"/><stop offset="0.79" stop-color="#434343"/><stop offset="0.81" stop-color="#434343"/><stop offset="0.83" stop-color="#444444"/><stop offset="0.85" stop-color="#444444"/><stop offset="0.87" stop-color="#454545"/><stop offset="0.89" stop-color="#464646"/><stop offset="0.91" stop-color="#474747"/><stop offset="0.93" stop-color="#484848"/><stop offset="0.95" stop-color="#494949"/><stop offset="0.97" stop-color="#4b4b4b"/><stop offset="0.99" stop-color="#4c4c4c"/></linearGradient><linearGradient id="fl23" x1="0" y1="0" x2="0" y2="1"><stop offset="0" stop-color="#303030"/><stop offset="0.02" stop-color="#303030"/><stop offset="0.04" stop-color="#303030"/><stop offset="0.06" stop-color="#303030"/><stop offset="0.08" stop-color="#303030"/><stop offset="0.1" stop-color="#303030"/><stop offset="0.12" stop-color="#303030"/><stop offset="0.15" stop-color="#303030"/><stop offset="0.17" stop-color="#303030"/><stop offset="0.19" stop-color="#303030"/><stop offset="0.21" stop-color="#303030"/><stop offset="0.23" stop-color="#303030"/><stop offset="0.25" stop-color="#303030"/><stop offset="0.27" stop-color="#303030"/><stop offset="0.29" stop-color="#303030"/><stop offset="0.31" stop-color="#303030"/><stop offset="0.33" stop-color="#303030"/><stop offset="0.35" stop-color="#45423f"/><stop offset="0.37" stop-color="#5a534e"/><stop offset="0.39" stop-color="#59534e"/><stop offset="0.41" stop-color="#59524d"/><stop offset="0.44" stop-color="#58524d"/><stop offset="0.46" stop-color="#58514d"/><stop offset="0.48" stop-color="#57514c"/><stop offset="0.5" stop-color="#57504c"/><stop offset="0.52" stop-color="#56504b"/><stop offset="0.54" stop-color="#564f4b"/><stop offset="0.56" stop-color="#554f4b"/><stop offset="0.58" stop-color="#544e4a"/><stop offset="0.6" stop-color="#524d49"/><stop offset="0.62" stop-color="#4a4745"/><stop offset="0.64" stop-color="#424141"/><stop offset="0.66" stop-color="#404040"/><stop offset="0.68" stop-color="#414141"/><stop offset="0.7" stop-color="#414141"/><stop offset="0.73" stop-color="#424242"/><stop offset="0.75" stop-color="#424242"/><stop offset="0.77" stop-color="#424242"/><stop offset="0.79" stop-color="#434343"/><stop offset="0.81" stop-color="#434343"/><stop offset="0.83" stop-color="#444444"/><stop offset="0.85" stop-color="#444444"/><stop offset="0.87" stop-color="#454545"/><stop offset="0.89" stop-color="#464646"/><stop offset="0.91" stop-color="#474747"/><stop offset="0.93" stop-color="#484848"/><stop offset="0.95" stop-color="#494949"/><stop offset="0.97" stop-color="#4b4b4b"/><stop offset="0.99" stop-color="#4c4c4c"/></linearGradient><linearGradient id="fl24" x1="0" y1="0" x2="0" y2="1"><stop offset="0" stop-color="#303030"/><stop offset="0.02" stop-color="#303030"/><stop offset="0.04" stop-color="#303030"/><stop offset="0.06" stop-color="#303030"/><stop offset="0.08" stop-color="#303030"/><stop offset="0.1" stop-color="#303030"/><stop offset="0.12" stop-color="#303030"/><stop offset="0.15" stop-color="#303030"/><stop offset="0.17" stop-color="#303030"/><stop offset="0.19" stop-color="#303030"/><stop offset="0.21" stop-color="#303030"/><stop offset="0.23" stop-color="#303030"/><stop offset="0.25" stop-color="#303030"/><stop offset="0.27" stop-color="#303030"/><stop offset="0.29" stop-color="#303030"/><stop offset="0.31" stop-color="#303030"/><stop offset="0.33" stop-color="#303030"/><stop offset="0.35" stop-color="#45423f"/><stop offset="0.37" stop-color="#5a534e"/><stop offset="0.39" stop-color="#59534e"/><stop offset="0.41" stop-color="#59524d"/><stop offset="0.44" stop-color="#58524d"/><stop offset="0.46" stop-color="#58514d"/><stop offset="0.48" stop-color="#57514c"/><stop offset="0.5" stop-color="#57504c"/><stop offset="0.52" stop-color="#56504b"/><stop offset="0.54" stop-color="#564f4b"/><stop offset="0.56" stop-color="#554f4b"/><stop offset="0.58" stop-color="#544e4a"/><stop offset="0.6" stop-color="#524d49"/><stop offset="0.62" stop-color="#4a4745"/><stop offset="0.64" stop-color="#424141"/><stop offset="0.66" stop-color="#404040"/><stop offset="0.68" stop-color="#414141"/><stop offset="0.7" stop-color="#414141"/><stop offset="0.73" stop-color="#424242"/><stop offset="0.75" stop-color="#424242"/><stop offset="0.77" stop-color="#424242"/><stop offset="0.79" stop-color="#434343"/><stop offset="0.81" stop-color="#434343"/><stop offset="0.83" stop-color="#444444"/><stop offset="0.85" stop-color="#444444"/><stop offset="0.87" stop-color="#454545"/><stop offset="0.89" stop-color="#464646"/><stop offset="0.91" stop-color="#474747"/><stop offset="0.93" stop-color="#484848"/><stop offset="0.95" stop-color="#494949"/><stop offset="0.97" stop-color="#4b4b4b"/><stop offset="0.99" stop-color="#4c4c4c"/></linearGradient><linearGradient id="fl25" x1="0" y1="0" x2="0" y2="1"><stop offset="0" stop-color="#303030"/><stop offset="0.02" stop-color="#303030"/><stop offset="0.04" stop-color="#303030"/><stop offset="0.06" stop-color="#303030"/><stop offset="0.08" stop-color="#303030"/><stop offset="0.1" stop-color="#303030"/><stop offset="0.12" stop-color="#303030"/><stop offset="0.15" stop-color="#303030"/><stop offset="0.17" stop-color="#303030"/><stop offset="0.19" stop-color="#303030"/><stop offset="0.21" stop-color="#303030"/><stop offset="0.23" stop-color="#303030"/><stop offset="0.25" stop-color="#303030"/><stop offset="0.27" stop-color="#303030"/><stop offset="0.29" stop-color="#303030"/><stop offset="0.31" stop-color="#303030"/><stop offset="0.33" stop-color="#303030"/><stop offset="0.35" stop-color="#45423f"/><stop offset="0.37" stop-color="#5a534e"/><stop offset="0.39" stop-color="#59534e"/><stop offset="0.41" stop-color="#59524d"/><stop offset="0.44" stop-color="#58524d"/><stop offset="0.46" stop-color="#58514d"/><stop offset="0.48" stop-color="#57514c"/><stop offset="0.5" stop-color="#57504c"/><stop offset="0.52" stop-color="#56504b"/><stop offset="0.54" stop-color="#564f4b"/><stop offset="0.56" stop-color="#554f4b"/><stop offset="0.58" stop-color="#544e4a"/><stop offset="0.6" stop-color="#524d49"/><stop offset="0.62" stop-color="#4a4745"/><stop offset="0.64" stop-color="#424141"/><stop offset="0.66" stop-color="#404040"/><stop offset="0.68" stop-color="#414141"/><stop offset="0.7" stop-color="#414141"/><stop offset="0.73" stop-color="#424242"/><stop offset="0.75" stop-color="#424242"/><stop offset="0.77" stop-color="#424242"/><stop offset="0.79" stop-color="#434343"/><stop offset="0.81" stop-color="#434343"/><stop offset="0.83" stop-color="#444444"/><stop offset="0.85" stop-color="#444444"/><stop offset="0.87" stop-color="#454545"/><stop offset="0.89" stop-color="#464646"/><stop offset="0.91" stop-color="#474747"/><stop offset="0.93" stop-color="#484848"/><stop offset="0.95" stop-color="#494949"/><stop offset="0.97" stop-color="#4b4b4b"/><stop offset="0.99" stop-color="#4c4c4c"/></linearGradient><linearGradient id="fl26" x1="0" y1="0" x2="0" y2="1"><stop offset="0" stop-color="#303030"/><stop offset="0.02" stop-color="#303030"/><stop offset="0.04" stop-color="#303030"/><stop offset="0.06" stop-color="#303030"/><stop offset="0.08" stop-color="#303030"/><stop offset="0.1" stop-color="#303030"/><stop offset="0.12" stop-color="#303030"/><stop offset="0.15" stop-color="#303030"/><stop offset="0.17" stop-color="#303030"/><stop offset="0.19" stop-color="#303030"/><stop offset="0.21" stop-color="#303030"/><stop offset="0.23" stop-color="#303030"/><stop offset="0.25" stop-color="#303030"/><stop offset="0.27" stop-color="#303030"/><stop offset="0.29" stop-color="#303030"/><stop offset="0.31" stop-color="#303030"/><stop offset="0.33" stop-color="#303030"/><stop offset="0.35" stop-color="#45423f"/><stop offset="0.37" stop-color="#5a534e"/><stop offset="0.39" stop-color="#59534e"/><stop offset="0.41" stop-color="#59524d"/><stop offset="0.44" stop-color="#58524d"/><stop offset="0.46" stop-color="#58514d"/><stop offset="0.48" stop-color="#57514c"/><stop offset="0.5" stop-color="#57504c"/><stop offset="0.52" stop-color="#56504b"/><stop offset="0.54" stop-color="#564f4b"/><stop offset="0.56" stop-color="#554f4b"/><stop offset="0.58" stop-color="#544e4a"/><stop offset="0.6" stop-color="#524d49"/><stop offset="0.62" stop-color="#4a4745"/><stop offset="0.64" stop-color="#424141"/><stop offset="0.66" stop-color="#404040"/><stop offset="0.68" stop-color="#414141"/><stop offset="0.7" stop-color="#414141"/><stop offset="0.73" stop-color="#424242"/><stop offset="0.75" stop-color="#424242"/><stop offset="0.77" stop-color="#424242"/><stop offset="0.79" stop-color="#434343"/><stop offset="0.81" stop-color="#434343"/><stop offset="0.83" stop-color="#444444"/><stop offset="0.85" stop-color="#444444"/><stop offset="0.87" stop-color="#454545"/><stop offset="0.89" stop-color="#464646"/><stop offset="0.91" stop-color="#474747"/><stop offset="0.93" stop-color="#484848"/><stop offset="0.95" stop-color="#494949"/><stop offset="0.97" stop-color="#4b4b4b"/><stop offset="0.99" stop-color="#4c4c4c"/></linearGradient></defs>
<rect x="7.2" y="136" width="10.54" height="19.3" fill="url(#fl0)"/><rect x="17.14" y="136" width="10.54" height="19.3" fill="url(#fl1)"/><rect x="27.09" y="136" width="10.54" height="19.3" fill="url(#fl2)"/><rect x="37.03" y="136" width="10.54" height="19.3" fill="url(#fl3)"/><rect x="46.98" y="136" width="10.54" height="19.3" fill="url(#fl4)"/><rect x="56.92" y="136" width="10.54" height="19.3" fill="url(#fl5)"/><rect x="66.87" y="136" width="10.54" height="19.3" fill="url(#fl6)"/><rect x="76.81" y="136" width="10.54" height="19.3" fill="url(#fl7)"/><rect x="86.76" y="136" width="10.54" height="19.3" fill="url(#fl8)"/><rect x="96.7" y="136" width="10.54" height="19.3" fill="url(#fl9)"/><rect x="106.64" y="136" width="10.54" height="19.3" fill="url(#fl10)"/><rect x="116.59" y="136" width="10.54" height="19.3" fill="url(#fl11)"/><rect x="126.53" y="136" width="10.54" height="19.3" fill="url(#fl12)"/><rect x="136.48" y="136" width="10.54" height="19.3" fill="url(#fl13)"/><rect x="146.42" y="136" width="10.54" height="19.3" fill="url(#fl14)"/><rect x="156.37" y="136" width="10.54" height="19.3" fill="url(#fl15)"/><rect x="166.31" y="136" width="10.54" height="19.3" fill="url(#fl16)"/><rect x="176.26" y="136" width="10.54" height="19.3" fill="url(#fl17)"/><rect x="186.2" y="136" width="10.54" height="19.3" fill="url(#fl18)"/><rect x="196.14" y="136" width="10.54" height="19.3" fill="url(#fl19)"/><rect x="206.09" y="136" width="10.54" height="19.3" fill="url(#fl20)"/><rect x="216.03" y="136" width="10.54" height="19.3" fill="url(#fl21)"/><rect x="225.98" y="136" width="10.54" height="19.3" fill="url(#fl22)"/><rect x="235.92" y="136" width="10.54" height="19.3" fill="url(#fl23)"/><rect x="245.87" y="136" width="10.54" height="19.3" fill="url(#fl24)"/><rect x="255.81" y="136" width="10.54" height="19.3" fill="url(#fl25)"/><rect x="265.76" y="136" width="10.54" height="19.3" fill="url(#fl26)"/>
<circle cx="32.34" cy="150.32" r="0.48" fill="#6a6662" opacity="0.6"/>
<circle cx="46.79" cy="150.8" r="0.43" fill="#6a6662" opacity="0.6"/>
<circle cx="143.47" cy="148.99" r="0.43" fill="#6a6662" opacity="0.6"/>
<circle cx="103.74" cy="150.81" r="0.69" fill="#6a6662" opacity="0.6"/>
<circle cx="258.86" cy="152.9" r="0.63" fill="#6a6662" opacity="0.6"/>
<circle cx="84.5" cy="153.81" r="0.41" fill="#6a6662" opacity="0.6"/>
<circle cx="40.57" cy="150.01" r="0.59" fill="#6a6662" opacity="0.6"/>
<circle cx="99.06" cy="151.16" r="0.41" fill="#6a6662" opacity="0.6"/>
<circle cx="267.12" cy="149.62" r="0.49" fill="#6a6662" opacity="0.6"/>
<circle cx="150.19" cy="153" r="0.69" fill="#6a6662" opacity="0.6"/>
<circle cx="149.4" cy="149.53" r="0.55" fill="#6a6662" opacity="0.6"/>
<circle cx="26.1" cy="149.4" r="0.64" fill="#6a6662" opacity="0.6"/>
<circle cx="216.23" cy="146.47" r="0.64" fill="#6a6662" opacity="0.6"/>
<circle cx="110.61" cy="153.85" r="0.45" fill="#6a6662" opacity="0.6"/>
<circle cx="65.13" cy="150.39" r="0.65" fill="#6a6662" opacity="0.6"/>
<circle cx="123.25" cy="152.94" r="0.58" fill="#6a6662" opacity="0.6"/>
<circle cx="104.57" cy="148.4" r="0.5" fill="#6a6662" opacity="0.6"/>
<circle cx="114.63" cy="148.98" r="0.56" fill="#6a6662" opacity="0.6"/>
<circle cx="242.47" cy="150.68" r="0.36" fill="#6a6662" opacity="0.6"/>
<circle cx="66.55" cy="148.97" r="0.55" fill="#6a6662" opacity="0.6"/>
<circle cx="44.96" cy="146.65" r="0.43" fill="#6a6662" opacity="0.6"/>
<circle cx="83.48" cy="146.24" r="0.52" fill="#6a6662" opacity="0.6"/>
<circle cx="254.87" cy="150.27" r="0.59" fill="#6a6662" opacity="0.6"/>
<circle cx="229.93" cy="152.7" r="0.67" fill="#6a6662" opacity="0.6"/>
<circle cx="126.02" cy="151.46" r="0.35" fill="#6a6662" opacity="0.6"/>
<circle cx="243.77" cy="149.03" r="0.49" fill="#6a6662" opacity="0.6"/>
<circle cx="246.55" cy="148.29" r="0.38" fill="#6a6662" opacity="0.6"/>
<circle cx="228.63" cy="150.79" r="0.33" fill="#6a6662" opacity="0.6"/>
<circle cx="15.03" cy="148.81" r="0.3" fill="#6a6662" opacity="0.6"/>
<circle cx="231.01" cy="147.47" r="0.41" fill="#6a6662" opacity="0.6"/>
<circle cx="111.89" cy="150.09" r="0.47" fill="#6a6662" opacity="0.6"/>
<circle cx="176.3" cy="151.28" r="0.47" fill="#6a6662" opacity="0.6"/>
<circle cx="33.55" cy="153.83" r="0.58" fill="#6a6662" opacity="0.6"/>
<circle cx="29.93" cy="149.53" r="0.6" fill="#6a6662" opacity="0.6"/>
<circle cx="273.79" cy="146.53" r="0.3" fill="#6a6662" opacity="0.6"/>
<circle cx="136.36" cy="149.38" r="0.66" fill="#6a6662" opacity="0.6"/>
<circle cx="229.41" cy="148.65" r="0.47" fill="#6a6662" opacity="0.6"/>
<circle cx="164" cy="153.07" r="0.38" fill="#6a6662" opacity="0.6"/>
<circle cx="112.72" cy="146.71" r="0.56" fill="#6a6662" opacity="0.6"/>
<circle cx="14.63" cy="153.48" r="0.51" fill="#6a6662" opacity="0.6"/>
<circle cx="161.59" cy="146.68" r="0.39" fill="#6a6662" opacity="0.6"/>
<circle cx="133.37" cy="152.86" r="0.52" fill="#6a6662" opacity="0.6"/>
<circle cx="83.92" cy="153.86" r="0.56" fill="#6a6662" opacity="0.6"/>
<circle cx="149.37" cy="147.62" r="0.42" fill="#6a6662" opacity="0.6"/>
<circle cx="249.11" cy="147.06" r="0.51" fill="#6a6662" opacity="0.6"/>
<circle cx="173.96" cy="148.84" r="0.61" fill="#6a6662" opacity="0.6"/>
<circle cx="251.82" cy="152.86" r="0.6" fill="#6a6662" opacity="0.6"/>
<circle cx="62.16" cy="146.48" r="0.47" fill="#6a6662" opacity="0.6"/>
<circle cx="91.3" cy="147.55" r="0.65" fill="#6a6662" opacity="0.6"/>
<circle cx="65.52" cy="152.58" r="0.68" fill="#6a6662" opacity="0.6"/>
<circle cx="39.65" cy="153.31" r="0.46" fill="#6a6662" opacity="0.6"/>
<circle cx="64.41" cy="147.49" r="0.32" fill="#6a6662" opacity="0.6"/>
<circle cx="141.42" cy="149.07" r="0.64" fill="#6a6662" opacity="0.6"/>
<circle cx="231.16" cy="146.46" r="0.46" fill="#6a6662" opacity="0.6"/>
<circle cx="112" cy="147.42" r="0.4" fill="#6a6662" opacity="0.6"/>
<circle cx="78.21" cy="151.55" r="0.44" fill="#6a6662" opacity="0.6"/>
<circle cx="37.35" cy="147.76" r="0.48" fill="#6a6662" opacity="0.6"/>
<circle cx="159.16" cy="147.96" r="0.58" fill="#6a6662" opacity="0.6"/>
<circle cx="65.34" cy="151.37" r="0.54" fill="#6a6662" opacity="0.6"/>
<circle cx="54.69" cy="152.01" r="0.46" fill="#6a6662" opacity="0.6"/>
<circle cx="152.37" cy="150.78" r="0.55" fill="#6a6662" opacity="0.6"/>
<circle cx="126.27" cy="146.45" r="0.61" fill="#6a6662" opacity="0.6"/>
<circle cx="238.31" cy="149.92" r="0.53" fill="#6a6662" opacity="0.6"/>
<circle cx="79.58" cy="153.19" r="0.57" fill="#6a6662" opacity="0.6"/>
<circle cx="67.08" cy="152.54" r="0.69" fill="#6a6662" opacity="0.6"/>
<circle cx="100.39" cy="153.96" r="0.49" fill="#6a6662" opacity="0.6"/>
<circle cx="55.49" cy="151.74" r="0.44" fill="#6a6662" opacity="0.6"/>
<circle cx="204.13" cy="150.67" r="0.34" fill="#6a6662" opacity="0.6"/>
<circle cx="149.29" cy="152.81" r="0.49" fill="#6a6662" opacity="0.6"/>
<circle cx="152.31" cy="152.91" r="0.48" fill="#6a6662" opacity="0.6"/>
<circle cx="139.79" cy="150.66" r="0.63" fill="#6a6662" opacity="0.6"/>
<circle cx="62.04" cy="146.75" r="0.6" fill="#6a6662" opacity="0.6"/>
<circle cx="155.87" cy="148.42" r="0.66" fill="#6a6662" opacity="0.6"/>
<circle cx="245.02" cy="150.33" r="0.7" fill="#6a6662" opacity="0.6"/>
<circle cx="231.96" cy="151.98" r="0.42" fill="#6a6662" opacity="0.6"/>
<circle cx="10.41" cy="151.43" r="0.59" fill="#6a6662" opacity="0.6"/>
<circle cx="101.65" cy="149.83" r="0.53" fill="#6a6662" opacity="0.6"/>
<circle cx="74.58" cy="151.58" r="0.53" fill="#6a6662" opacity="0.6"/>
<circle cx="111.01" cy="146.88" r="0.52" fill="#6a6662" opacity="0.6"/>
<circle cx="93.33" cy="151.8" r="0.37" fill="#6a6662" opacity="0.6"/>
<circle cx="113.39" cy="147.57" r="0.46" fill="#6a6662" opacity="0.6"/>
<circle cx="162.26" cy="146.86" r="0.32" fill="#6a6662" opacity="0.6"/>
<circle cx="136.99" cy="147.61" r="0.5" fill="#6a6662" opacity="0.6"/>
<circle cx="52.39" cy="146.81" r="0.52" fill="#6a6662" opacity="0.6"/>
<circle cx="255.38" cy="152.95" r="0.51" fill="#6a6662" opacity="0.6"/>
<circle cx="114.18" cy="146.53" r="0.41" fill="#6a6662" opacity="0.6"/>
<circle cx="91.87" cy="153.53" r="0.35" fill="#6a6662" opacity="0.6"/>
<circle cx="262.03" cy="149.81" r="0.47" fill="#6a6662" opacity="0.6"/>
<circle cx="77.92" cy="153.7" r="0.37" fill="#6a6662" opacity="0.6"/>
<circle cx="160.91" cy="150.09" r="0.38" fill="#6a6662" opacity="0.6"/>
</g>
<defs><linearGradient id="lg1a" x1="0" y1="0" x2="0" y2="1"><stop offset="0" stop-color="#84e064"/><stop offset="0.5" stop-color="#6cd048"/><stop offset="1" stop-color="#56b43a"/></linearGradient><linearGradient id="lg1b" x1="0" y1="0" x2="0" y2="1"><stop offset="0" stop-color="#74d054"/><stop offset="0.5" stop-color="#5cc03c"/><stop offset="1" stop-color="#46a030"/></linearGradient><linearGradient id="lg1c" x1="0" y1="0" x2="0" y2="1"><stop offset="0" stop-color="#94e674"/><stop offset="0.5" stop-color="#7ad854"/><stop offset="1" stop-color="#60be44"/></linearGradient><linearGradient id="lg2a" x1="0" y1="0" x2="0" y2="1"><stop offset="0" stop-color="#98e472"/><stop offset="0.5" stop-color="#80d858"/><stop offset="1" stop-color="#62b444"/></linearGradient><linearGradient id="lg2b" x1="0" y1="0" x2="0" y2="1"><stop offset="0" stop-color="#82d060"/><stop offset="0.5" stop-color="#6ac048"/><stop offset="1" stop-color="#4e9e36"/></linearGradient><linearGradient id="lg2c" x1="0" y1="0" x2="0" y2="1"><stop offset="0" stop-color="#a6ea82"/><stop offset="0.5" stop-color="#8cde64"/><stop offset="1" stop-color="#6ec050"/></linearGradient></defs>
<g clip-path="url(#ph)">
<polyline points="36,122 35,100 33,75 32,66" fill="none" stroke="#a6b870" stroke-width="1.1"/>
<line x1="32.81" y1="73.27" x2="31.31" y2="71.77" stroke="#8cc860" stroke-width="0.7"/>
<path d="M0,0 C3.74,-5.04 10.54,-4.79 17,0 C10.54,4.79 3.74,5.04 0,0 Z" transform="translate(31.31 71.77) rotate(192)" fill="url(#lg1a)"/>
<line x1="0" y1="0" x2="14.45" y2="0" transform="translate(31.31 71.77) rotate(192)" stroke="#a8ec8c" stroke-width="0.35" opacity="0.8"/>
<line x1="32.64" y1="71.8" x2="32.64" y2="70.3" stroke="#8cc860" stroke-width="0.7"/>
<path d="M0,0 C3.3,-3.64 9.3,-3.46 15,0 C9.3,3.46 3.3,3.64 0,0 Z" transform="translate(32.64 70.3) rotate(215)" fill="url(#lg1c)"/>
<line x1="0" y1="0" x2="12.75" y2="0" transform="translate(32.64 70.3) rotate(215)" stroke="#a8ec8c" stroke-width="0.35" opacity="0.8"/>
<line x1="32.93" y1="74.39" x2="41.12" y2="72.89" stroke="#8cc860" stroke-width="0.7"/>
<path d="M0,0 C3.52,-4.2 9.92,-3.99 16,0 C9.92,3.99 3.52,4.2 0,0 Z" transform="translate(41.12 72.89) rotate(-10)" fill="url(#lg1c)"/>
<line x1="0" y1="0" x2="13.6" y2="0" transform="translate(41.12 72.89) rotate(-10)" stroke="#a8ec8c" stroke-width="0.35" opacity="0.8"/>
<line x1="33.6" y1="82.5" x2="32" y2="81" stroke="#8cc860" stroke-width="0.7"/>
<path d="M0,0 C3.08,-6.3 8.68,-5.98 14,0 C8.68,5.98 3.08,6.3 0,0 Z" transform="translate(32 81) rotate(0)" fill="url(#lg1b)"/>
<line x1="0" y1="0" x2="11.9" y2="0" transform="translate(32 81) rotate(0)" stroke="#a8ec8c" stroke-width="0.35" opacity="0.8"/>
<line x1="33.52" y1="81.55" x2="45.36" y2="80.05" stroke="#8cc860" stroke-width="0.7"/>
<path d="M0,0 C2.64,-4.2 7.44,-3.99 12,0 C7.44,3.99 2.64,4.2 0,0 Z" transform="translate(45.36 80.05) rotate(-20)" fill="url(#lg1c)"/>
<line x1="0" y1="0" x2="10.2" y2="0" transform="translate(45.36 80.05) rotate(-20)" stroke="#a8ec8c" stroke-width="0.35" opacity="0.8"/>
<line x1="33.81" y1="85.16" x2="31.83" y2="83.66" stroke="#8cc860" stroke-width="0.7"/>
<path d="M0,0 C3.52,-2.8 9.92,-2.66 16,0 C9.92,2.66 3.52,2.8 0,0 Z" transform="translate(31.83 83.66) rotate(192)" fill="url(#lg1a)"/>
<line x1="0" y1="0" x2="13.6" y2="0" transform="translate(31.83 83.66) rotate(192)" stroke="#a8ec8c" stroke-width="0.35" opacity="0.8"/>
<line x1="34.52" y1="94" x2="32" y2="92.5" stroke="#8cc860" stroke-width="0.7"/>
<path d="M0,0 C2.2,-2.24 6.2,-2.13 10,0 C6.2,2.13 2.2,2.24 0,0 Z" transform="translate(32 92.5) rotate(0)" fill="url(#lg1c)"/>
<line x1="0" y1="0" x2="8.5" y2="0" transform="translate(32 92.5) rotate(0)" stroke="#a8ec8c" stroke-width="0.35" opacity="0.8"/>
<line x1="35.1" y1="102.18" x2="41.58" y2="100.68" stroke="#8cc860" stroke-width="0.7"/>
<path d="M0,0 C3.74,-2.8 10.54,-2.66 17,0 C10.54,2.66 3.74,2.8 0,0 Z" transform="translate(41.58 100.68) rotate(-8)" fill="url(#lg1a)"/>
<line x1="0" y1="0" x2="14.45" y2="0" transform="translate(41.58 100.68) rotate(-8)" stroke="#a8ec8c" stroke-width="0.35" opacity="0.8"/>
<line x1="35.3" y1="106.57" x2="30.73" y2="105.07" stroke="#8cc860" stroke-width="0.7"/>
<path d="M0,0 C3.52,-2.8 9.92,-2.66 16,0 C9.92,2.66 3.52,2.8 0,0 Z" transform="translate(30.73 105.07) rotate(195)" fill="url(#lg1a)"/>
<line x1="0" y1="0" x2="13.6" y2="0" transform="translate(30.73 105.07) rotate(195)" stroke="#a8ec8c" stroke-width="0.35" opacity="0.8"/>
<line x1="35.66" y1="114.5" x2="34.5" y2="113" stroke="#8cc860" stroke-width="0.7"/>
<path d="M0,0 C1.54,-2.52 4.34,-2.39 7,0 C4.34,2.39 1.54,2.52 0,0 Z" transform="translate(34.5 113) rotate(0)" fill="url(#lg1a)"/>
<line x1="0" y1="0" x2="5.95" y2="0" transform="translate(34.5 113) rotate(0)" stroke="#a8ec8c" stroke-width="0.35" opacity="0.8"/>
<polyline points="86,123 85.5,100 85,75 86,65" fill="none" stroke="#a6b870" stroke-width="1.1"/>
<line x1="86" y1="65" x2="71.42" y2="60.8" stroke="#8cc860" stroke-width="0.7"/>
<path d="M0,0 C3.52,-2.52 9.92,-2.39 16,0 C9.92,2.39 3.52,2.52 0,0 Z" transform="translate(71.42 60.8) rotate(202)" fill="url(#lg1a)"/>
<line x1="0" y1="0" x2="13.6" y2="0" transform="translate(71.42 60.8) rotate(202)" stroke="#a8ec8c" stroke-width="0.35" opacity="0.8"/>
<line x1="85.19" y1="73.09" x2="81.55" y2="71.59" stroke="#8cc860" stroke-width="0.7"/>
<path d="M0,0 C3.52,-6.3 9.92,-5.98 16,0 C9.92,5.98 3.52,6.3 0,0 Z" transform="translate(81.55 71.59) rotate(215)" fill="url(#lg1b)"/>
<line x1="0" y1="0" x2="13.6" y2="0" transform="translate(81.55 71.59) rotate(215)" stroke="#a8ec8c" stroke-width="0.35" opacity="0.8"/>
<line x1="86" y1="65" x2="82.5" y2="62.4" stroke="#8cc860" stroke-width="0.7"/>
<path d="M0,0 C2.64,-4.2 7.44,-3.99 12,0 C7.44,3.99 2.64,4.2 0,0 Z" transform="translate(82.5 62.4) rotate(0)" fill="url(#lg1c)"/>
<line x1="0" y1="0" x2="10.2" y2="0" transform="translate(82.5 62.4) rotate(0)" stroke="#a8ec8c" stroke-width="0.35" opacity="0.8"/>
<line x1="85.79" y1="67.13" x2="94.04" y2="65.63" stroke="#8cc860" stroke-width="0.7"/>
<path d="M0,0 C4.4,-3.64 12.4,-3.46 20,0 C12.4,3.46 4.4,3.64 0,0 Z" transform="translate(94.04 65.63) rotate(5)" fill="url(#lg1a)"/>
<line x1="0" y1="0" x2="17" y2="0" transform="translate(94.04 65.63) rotate(5)" stroke="#a8ec8c" stroke-width="0.35" opacity="0.8"/>
<line x1="85.08" y1="78.75" x2="85.84" y2="77.25" stroke="#8cc860" stroke-width="0.7"/>
<path d="M0,0 C2.42,-4.9 6.82,-4.65 11,0 C6.82,4.65 2.42,4.9 0,0 Z" transform="translate(85.84 77.25) rotate(-30)" fill="url(#lg1a)"/>
<line x1="0" y1="0" x2="9.35" y2="0" transform="translate(85.84 77.25) rotate(-30)" stroke="#a8ec8c" stroke-width="0.35" opacity="0.8"/>
<line x1="85.11" y1="80.61" x2="82.92" y2="79.11" stroke="#8cc860" stroke-width="0.7"/>
<path d="M0,0 C3.52,-3.5 9.92,-3.32 16,0 C9.92,3.32 3.52,3.5 0,0 Z" transform="translate(82.92 79.11) rotate(188)" fill="url(#lg1a)"/>
<line x1="0" y1="0" x2="13.6" y2="0" transform="translate(82.92 79.11) rotate(188)" stroke="#a8ec8c" stroke-width="0.35" opacity="0.8"/>
<line x1="85.26" y1="87.97" x2="82.23" y2="86.47" stroke="#8cc860" stroke-width="0.7"/>
<path d="M0,0 C3.52,-3.92 9.92,-3.72 16,0 C9.92,3.72 3.52,3.92 0,0 Z" transform="translate(82.23 86.47) rotate(195)" fill="url(#lg1a)"/>
<line x1="0" y1="0" x2="13.6" y2="0" transform="translate(82.23 86.47) rotate(195)" stroke="#a8ec8c" stroke-width="0.35" opacity="0.8"/>
<line x1="85.33" y1="91.72" x2="87.39" y2="90.22" stroke="#8cc860" stroke-width="0.7"/>
<path d="M0,0 C2.86,-3.5 8.06,-3.32 13,0 C8.06,3.32 2.86,3.5 0,0 Z" transform="translate(87.39 90.22) rotate(-20)" fill="url(#lg1a)"/>
<line x1="0" y1="0" x2="11.05" y2="0" transform="translate(87.39 90.22) rotate(-20)" stroke="#a8ec8c" stroke-width="0.35" opacity="0.8"/>
<line x1="85.43" y1="96.41" x2="83.97" y2="94.91" stroke="#8cc860" stroke-width="0.7"/>
<path d="M0,0 C3.08,-3.92 8.68,-3.72 14,0 C8.68,3.72 3.08,3.92 0,0 Z" transform="translate(83.97 94.91) rotate(185)" fill="url(#lg1c)"/>
<line x1="0" y1="0" x2="11.9" y2="0" transform="translate(83.97 94.91) rotate(185)" stroke="#a8ec8c" stroke-width="0.35" opacity="0.8"/>
<line x1="85.63" y1="106.12" x2="82.98" y2="104.62" stroke="#8cc860" stroke-width="0.7"/>
<path d="M0,0 C2.86,-6.3 8.06,-5.98 13,0 C8.06,5.98 2.86,6.3 0,0 Z" transform="translate(82.98 104.62) rotate(140)" fill="url(#lg1c)"/>
<line x1="0" y1="0" x2="11.05" y2="0" transform="translate(82.98 104.62) rotate(140)" stroke="#a8ec8c" stroke-width="0.35" opacity="0.8"/>
<line x1="85.72" y1="110.3" x2="86" y2="108.8" stroke="#8cc860" stroke-width="0.7"/>
<path d="M0,0 C2.2,-2.1 6.2,-1.99 10,0 C6.2,1.99 2.2,2.1 0,0 Z" transform="translate(86 108.8) rotate(0)" fill="url(#lg1c)"/>
<line x1="0" y1="0" x2="8.5" y2="0" transform="translate(86 108.8) rotate(0)" stroke="#a8ec8c" stroke-width="0.35" opacity="0.8"/>
<line x1="85.83" y1="115.07" x2="88.52" y2="113.57" stroke="#8cc860" stroke-width="0.7"/>
<path d="M0,0 C2.86,-2.1 8.06,-1.99 13,0 C8.06,1.99 2.86,2.1 0,0 Z" transform="translate(88.52 113.57) rotate(-5)" fill="url(#lg1a)"/>
<line x1="0" y1="0" x2="11.05" y2="0" transform="translate(88.52 113.57) rotate(-5)" stroke="#a8ec8c" stroke-width="0.35" opacity="0.8"/>
<line x1="85.88" y1="117.32" x2="83.28" y2="115.82" stroke="#8cc860" stroke-width="0.7"/>
<path d="M0,0 C2.86,-2.8 8.06,-2.66 13,0 C8.06,2.66 2.86,2.8 0,0 Z" transform="translate(83.28 115.82) rotate(165)" fill="url(#lg1b)"/>
<line x1="0" y1="0" x2="11.05" y2="0" transform="translate(83.28 115.82) rotate(165)" stroke="#a8ec8c" stroke-width="0.35" opacity="0.8"/>
<polyline points="129,123 130,100 132,75 133,68" fill="none" stroke="#a6b870" stroke-width="1.1"/>
<line x1="132.9" y1="68.69" x2="135.76" y2="67.19" stroke="#8cc860" stroke-width="0.7"/>
<path d="M0,0 C3.08,-5.6 8.68,-5.32 14,0 C8.68,5.32 3.08,5.6 0,0 Z" transform="translate(135.76 67.19) rotate(165)" fill="url(#lg1c)"/>
<line x1="0" y1="0" x2="11.9" y2="0" transform="translate(135.76 67.19) rotate(165)" stroke="#a8ec8c" stroke-width="0.35" opacity="0.8"/>
<line x1="132.87" y1="68.88" x2="134.63" y2="67.38" stroke="#8cc860" stroke-width="0.7"/>
<path d="M0,0 C2.42,-3.92 6.82,-3.72 11,0 C6.82,3.72 2.42,3.92 0,0 Z" transform="translate(134.63 67.38) rotate(-20)" fill="url(#lg1a)"/>
<line x1="0" y1="0" x2="9.35" y2="0" transform="translate(134.63 67.38) rotate(-20)" stroke="#a8ec8c" stroke-width="0.35" opacity="0.8"/>
<line x1="132.49" y1="71.6" x2="123.53" y2="70.1" stroke="#8cc860" stroke-width="0.7"/>
<path d="M0,0 C2.02,-1.82 5.7,-1.73 9.2,0 C5.7,1.73 2.02,1.82 0,0 Z" transform="translate(123.53 70.1) rotate(190)" fill="url(#lg1b)"/>
<line x1="0" y1="0" x2="7.82" y2="0" transform="translate(123.53 70.1) rotate(190)" stroke="#a8ec8c" stroke-width="0.35" opacity="0.8"/>
<line x1="131.78" y1="77.69" x2="136.34" y2="76.19" stroke="#8cc860" stroke-width="0.7"/>
<path d="M0,0 C4.4,-2.8 12.4,-2.66 20,0 C12.4,2.66 4.4,2.8 0,0 Z" transform="translate(136.34 76.19) rotate(-15)" fill="url(#lg1a)"/>
<line x1="0" y1="0" x2="17" y2="0" transform="translate(136.34 76.19) rotate(-15)" stroke="#a8ec8c" stroke-width="0.35" opacity="0.8"/>
<line x1="131.21" y1="84.93" x2="126.05" y2="83.43" stroke="#8cc860" stroke-width="0.7"/>
<path d="M0,0 C3.3,-4.2 9.3,-3.99 15,0 C9.3,3.99 3.3,4.2 0,0 Z" transform="translate(126.05 83.43) rotate(160)" fill="url(#lg1a)"/>
<line x1="0" y1="0" x2="12.75" y2="0" transform="translate(126.05 83.43) rotate(160)" stroke="#a8ec8c" stroke-width="0.35" opacity="0.8"/>
<line x1="130.72" y1="90.98" x2="127.57" y2="89.48" stroke="#8cc860" stroke-width="0.7"/>
<path d="M0,0 C1.98,-2.8 5.58,-2.66 9,0 C5.58,2.66 1.98,2.8 0,0 Z" transform="translate(127.57 89.48) rotate(-10)" fill="url(#lg1a)"/>
<line x1="0" y1="0" x2="7.65" y2="0" transform="translate(127.57 89.48) rotate(-10)" stroke="#a8ec8c" stroke-width="0.35" opacity="0.8"/>
<line x1="129.99" y1="100.21" x2="126.3" y2="98.71" stroke="#8cc860" stroke-width="0.7"/>
<path d="M0,0 C2.2,-3.5 6.2,-3.32 10,0 C6.2,3.32 2.2,3.5 0,0 Z" transform="translate(126.3 98.71) rotate(-20)" fill="url(#lg1a)"/>
<line x1="0" y1="0" x2="8.5" y2="0" transform="translate(126.3 98.71) rotate(-20)" stroke="#a8ec8c" stroke-width="0.35" opacity="0.8"/>
<line x1="130" y1="99.99" x2="127.26" y2="98.49" stroke="#8cc860" stroke-width="0.7"/>
<path d="M0,0 C3.08,-2.52 8.68,-2.39 14,0 C8.68,2.39 3.08,2.52 0,0 Z" transform="translate(127.26 98.49) rotate(165)" fill="url(#lg1a)"/>
<line x1="0" y1="0" x2="11.9" y2="0" transform="translate(127.26 98.49) rotate(165)" stroke="#a8ec8c" stroke-width="0.35" opacity="0.8"/>
<line x1="129.9" y1="102.34" x2="135.06" y2="100.84" stroke="#8cc860" stroke-width="0.7"/>
<path d="M0,0 C3.08,-4.2 8.68,-3.99 14,0 C8.68,3.99 3.08,4.2 0,0 Z" transform="translate(135.06 100.84) rotate(25)" fill="url(#lg1c)"/>
<line x1="0" y1="0" x2="11.9" y2="0" transform="translate(135.06 100.84) rotate(25)" stroke="#a8ec8c" stroke-width="0.35" opacity="0.8"/>
<line x1="129.55" y1="110.25" x2="128.03" y2="108.75" stroke="#8cc860" stroke-width="0.7"/>
<path d="M0,0 C2.86,-5.6 8.06,-5.32 13,0 C8.06,5.32 2.86,5.6 0,0 Z" transform="translate(128.03 108.75) rotate(150)" fill="url(#lg1a)"/>
<line x1="0" y1="0" x2="11.05" y2="0" transform="translate(128.03 108.75) rotate(150)" stroke="#a8ec8c" stroke-width="0.35" opacity="0.8"/>
<line x1="129.29" y1="116.28" x2="132.52" y2="114.78" stroke="#8cc860" stroke-width="0.7"/>
<path d="M0,0 C2.42,-2.1 6.82,-1.99 11,0 C6.82,1.99 2.42,2.1 0,0 Z" transform="translate(132.52 114.78) rotate(-5)" fill="url(#lg1b)"/>
<line x1="0" y1="0" x2="9.35" y2="0" transform="translate(132.52 114.78) rotate(-5)" stroke="#a8ec8c" stroke-width="0.35" opacity="0.8"/>
<polyline points="172,121 171,100 170.5,82 171,70" fill="none" stroke="#a6b870" stroke-width="1.1"/>
<line x1="170.73" y1="76.54" x2="163.7" y2="75.04" stroke="#8cc860" stroke-width="0.7"/>
<path d="M0,0 C4.4,-8.4 12.4,-7.98 20,0 C12.4,7.98 4.4,8.4 0,0 Z" transform="translate(163.7 75.04) rotate(120)" fill="url(#lg2c)"/>
<line x1="0" y1="0" x2="17" y2="0" transform="translate(163.7 75.04) rotate(120)" stroke="#a8ec8c" stroke-width="0.35" opacity="0.8"/>
<line x1="170.62" y1="86.27" x2="166" y2="84.77" stroke="#8cc860" stroke-width="0.7"/>
<path d="M0,0 C3.52,-7 9.92,-6.65 16,0 C9.92,6.65 3.52,7 0,0 Z" transform="translate(166 84.77) rotate(120)" fill="url(#lg2c)"/>
<line x1="0" y1="0" x2="13.6" y2="0" transform="translate(166 84.77) rotate(120)" stroke="#a8ec8c" stroke-width="0.35" opacity="0.8"/>
<line x1="171" y1="70" x2="171.6" y2="68" stroke="#8cc860" stroke-width="0.7"/>
<path d="M0,0 C3.08,-6.3 8.68,-5.98 14,0 C8.68,5.98 3.08,6.3 0,0 Z" transform="translate(171.6 68) rotate(90)" fill="url(#lg2a)"/>
<line x1="0" y1="0" x2="11.9" y2="0" transform="translate(171.6 68) rotate(90)" stroke="#a8ec8c" stroke-width="0.35" opacity="0.8"/>
<line x1="170.63" y1="78.99" x2="172.96" y2="77.49" stroke="#8cc860" stroke-width="0.7"/>
<path d="M0,0 C2.64,-5.6 7.44,-5.32 12,0 C7.44,5.32 2.64,5.6 0,0 Z" transform="translate(172.96 77.49) rotate(80)" fill="url(#lg2a)"/>
<line x1="0" y1="0" x2="10.2" y2="0" transform="translate(172.96 77.49) rotate(80)" stroke="#a8ec8c" stroke-width="0.35" opacity="0.8"/>
<line x1="170.79" y1="92.37" x2="182.4" y2="90.87" stroke="#8cc860" stroke-width="0.7"/>
<path d="M0,0 C3.52,-7 9.92,-6.65 16,0 C9.92,6.65 3.52,7 0,0 Z" transform="translate(182.4 90.87) rotate(60)" fill="url(#lg2a)"/>
<line x1="0" y1="0" x2="13.6" y2="0" transform="translate(182.4 90.87) rotate(60)" stroke="#a8ec8c" stroke-width="0.35" opacity="0.8"/>
<line x1="170.58" y1="80.17" x2="179.5" y2="78.67" stroke="#8cc860" stroke-width="0.7"/>
<path d="M0,0 C2.2,-4.2 6.2,-3.99 10,0 C6.2,3.99 2.2,4.2 0,0 Z" transform="translate(179.5 78.67) rotate(60)" fill="url(#lg2c)"/>
<line x1="0" y1="0" x2="8.5" y2="0" transform="translate(179.5 78.67) rotate(60)" stroke="#a8ec8c" stroke-width="0.35" opacity="0.8"/>
<line x1="171.22" y1="104.65" x2="165.74" y2="103.15" stroke="#8cc860" stroke-width="0.7"/>
<path d="M0,0 C4.4,-6.3 12.4,-5.98 20,0 C12.4,5.98 4.4,6.3 0,0 Z" transform="translate(165.74 103.15) rotate(100)" fill="url(#lg2a)"/>
<line x1="0" y1="0" x2="17" y2="0" transform="translate(165.74 103.15) rotate(100)" stroke="#a8ec8c" stroke-width="0.35" opacity="0.8"/>
<line x1="171.22" y1="104.62" x2="174.61" y2="103.12" stroke="#8cc860" stroke-width="0.7"/>
<path d="M0,0 C3.52,-7.7 9.92,-7.31 16,0 C9.92,7.31 3.52,7.7 0,0 Z" transform="translate(174.61 103.12) rotate(80)" fill="url(#lg2a)"/>
<line x1="0" y1="0" x2="13.6" y2="0" transform="translate(174.61 103.12) rotate(80)" stroke="#a8ec8c" stroke-width="0.35" opacity="0.8"/>
<polyline points="214,120 212,100 211,80 210.2,71.5" fill="none" stroke="#a6b870" stroke-width="1.1"/>
<line x1="210.93" y1="79.21" x2="207.26" y2="77.71" stroke="#8cc860" stroke-width="0.7"/>
<path d="M0,0 C4.84,-3.36 13.64,-3.19 22,0 C13.64,3.19 4.84,3.36 0,0 Z" transform="translate(207.26 77.71) rotate(168)" fill="url(#lg2a)"/>
<line x1="0" y1="0" x2="18.7" y2="0" transform="translate(207.26 77.71) rotate(168)" stroke="#a8ec8c" stroke-width="0.35" opacity="0.8"/>
<line x1="211.07" y1="81.34" x2="203.25" y2="79.84" stroke="#8cc860" stroke-width="0.7"/>
<path d="M0,0 C4.18,-9.8 11.78,-9.31 19,0 C11.78,9.31 4.18,9.8 0,0 Z" transform="translate(203.25 79.84) rotate(100)" fill="url(#lg2a)"/>
<line x1="0" y1="0" x2="16.15" y2="0" transform="translate(203.25 79.84) rotate(100)" stroke="#a8ec8c" stroke-width="0.35" opacity="0.8"/>
<line x1="211.12" y1="82.34" x2="219.65" y2="80.84" stroke="#8cc860" stroke-width="0.7"/>
<path d="M0,0 C4.18,-5.6 11.78,-5.32 19,0 C11.78,5.32 4.18,5.6 0,0 Z" transform="translate(219.65 80.84) rotate(80)" fill="url(#lg2a)"/>
<line x1="0" y1="0" x2="16.15" y2="0" transform="translate(219.65 80.84) rotate(80)" stroke="#a8ec8c" stroke-width="0.35" opacity="0.8"/>
<line x1="211.57" y1="91.31" x2="214.33" y2="89.81" stroke="#8cc860" stroke-width="0.7"/>
<path d="M0,0 C3.96,-9.1 11.16,-8.64 18,0 C11.16,8.64 3.96,9.1 0,0 Z" transform="translate(214.33 89.81) rotate(105)" fill="url(#lg2a)"/>
<line x1="0" y1="0" x2="15.3" y2="0" transform="translate(214.33 89.81) rotate(105)" stroke="#a8ec8c" stroke-width="0.35" opacity="0.8"/>
<line x1="211.95" y1="99" x2="202.6" y2="97.5" stroke="#8cc860" stroke-width="0.7"/>
<path d="M0,0 C2.64,-7.7 7.44,-7.31 12,0 C7.44,7.31 2.64,7.7 0,0 Z" transform="translate(202.6 97.5) rotate(90)" fill="url(#lg2c)"/>
<line x1="0" y1="0" x2="10.2" y2="0" transform="translate(202.6 97.5) rotate(90)" stroke="#a8ec8c" stroke-width="0.35" opacity="0.8"/>
<line x1="212.45" y1="104.5" x2="212.5" y2="103" stroke="#8cc860" stroke-width="0.7"/>
<path d="M0,0 C2.86,-7.7 8.06,-7.31 13,0 C8.06,7.31 2.86,7.7 0,0 Z" transform="translate(212.5 103) rotate(90)" fill="url(#lg2c)"/>
<line x1="0" y1="0" x2="11.05" y2="0" transform="translate(212.5 103) rotate(90)" stroke="#a8ec8c" stroke-width="0.35" opacity="0.8"/>
<line x1="213.72" y1="117.22" x2="206.37" y2="115.72" stroke="#8cc860" stroke-width="0.7"/>
<path d="M0,0 C2.42,-5.6 6.82,-5.32 11,0 C6.82,5.32 2.42,5.6 0,0 Z" transform="translate(206.37 115.72) rotate(160)" fill="url(#lg2a)"/>
<line x1="0" y1="0" x2="9.35" y2="0" transform="translate(206.37 115.72) rotate(160)" stroke="#a8ec8c" stroke-width="0.35" opacity="0.8"/>
<line x1="211.53" y1="90.65" x2="213.74" y2="89.15" stroke="#8cc860" stroke-width="0.7"/>
<path d="M0,0 C4.4,-8.4 12.4,-7.98 20,0 C12.4,7.98 4.4,8.4 0,0 Z" transform="translate(213.74 89.15) rotate(100)" fill="url(#lg2b)"/>
<line x1="0" y1="0" x2="17" y2="0" transform="translate(213.74 89.15) rotate(100)" stroke="#a8ec8c" stroke-width="0.35" opacity="0.8"/>
<line x1="211.62" y1="92.39" x2="190.72" y2="90.89" stroke="#8cc860" stroke-width="0.7"/>
<path d="M0,0 C2.86,-4.9 8.06,-4.65 13,0 C8.06,4.65 2.86,4.9 0,0 Z" transform="translate(190.72 90.89) rotate(110)" fill="url(#lg2a)"/>
<line x1="0" y1="0" x2="11.05" y2="0" transform="translate(190.72 90.89) rotate(110)" stroke="#a8ec8c" stroke-width="0.35" opacity="0.8"/>
<polyline points="254,120 253,100 252,80 250.6,66.6" fill="none" stroke="#a6b870" stroke-width="1.1"/>
<line x1="251.52" y1="75.45" x2="240.09" y2="73.95" stroke="#8cc860" stroke-width="0.7"/>
<path d="M0,0 C3.52,-2.8 9.92,-2.66 16,0 C9.92,2.66 3.52,2.8 0,0 Z" transform="translate(240.09 73.95) rotate(125)" fill="url(#lg2c)"/>
<line x1="0" y1="0" x2="13.6" y2="0" transform="translate(240.09 73.95) rotate(125)" stroke="#a8ec8c" stroke-width="0.35" opacity="0.8"/>
<line x1="251.69" y1="77" x2="244" y2="75.5" stroke="#8cc860" stroke-width="0.7"/>
<path d="M0,0 C2.86,-8.4 8.06,-7.98 13,0 C8.06,7.98 2.86,8.4 0,0 Z" transform="translate(244 75.5) rotate(90)" fill="url(#lg2b)"/>
<line x1="0" y1="0" x2="11.05" y2="0" transform="translate(244 75.5) rotate(90)" stroke="#a8ec8c" stroke-width="0.35" opacity="0.8"/>
<line x1="251.32" y1="73.5" x2="251.8" y2="72" stroke="#8cc860" stroke-width="0.7"/>
<path d="M0,0 C1.98,-3.5 5.58,-3.32 9,0 C5.58,3.32 1.98,3.5 0,0 Z" transform="translate(251.8 72) rotate(0)" fill="url(#lg2b)"/>
<line x1="0" y1="0" x2="7.65" y2="0" transform="translate(251.8 72) rotate(0)" stroke="#a8ec8c" stroke-width="0.35" opacity="0.8"/>
<line x1="251.59" y1="76.05" x2="259.62" y2="74.55" stroke="#8cc860" stroke-width="0.7"/>
<path d="M0,0 C3.52,-8.4 9.92,-7.98 16,0 C9.92,7.98 3.52,8.4 0,0 Z" transform="translate(259.62 74.55) rotate(65)" fill="url(#lg2c)"/>
<line x1="0" y1="0" x2="13.6" y2="0" transform="translate(259.62 74.55) rotate(65)" stroke="#a8ec8c" stroke-width="0.35" opacity="0.8"/>
<line x1="252.38" y1="87.52" x2="243.59" y2="86.02" stroke="#8cc860" stroke-width="0.7"/>
<path d="M0,0 C3.08,-6.3 8.68,-5.98 14,0 C8.68,5.98 3.08,6.3 0,0 Z" transform="translate(243.59 86.02) rotate(110)" fill="url(#lg2c)"/>
<line x1="0" y1="0" x2="11.9" y2="0" transform="translate(243.59 86.02) rotate(110)" stroke="#a8ec8c" stroke-width="0.35" opacity="0.8"/>
<line x1="252.68" y1="93.5" x2="260" y2="92" stroke="#8cc860" stroke-width="0.7"/>
<path d="M0,0 C4.4,-8.4 12.4,-7.98 20,0 C12.4,7.98 4.4,8.4 0,0 Z" transform="translate(260 92) rotate(90)" fill="url(#lg2b)"/>
<line x1="0" y1="0" x2="17" y2="0" transform="translate(260 92) rotate(90)" stroke="#a8ec8c" stroke-width="0.35" opacity="0.8"/>
<line x1="253.06" y1="101.2" x2="241.7" y2="99.7" stroke="#8cc860" stroke-width="0.7"/>
<path d="M0,0 C2.64,-4.2 7.44,-3.99 12,0 C7.44,3.99 2.64,4.2 0,0 Z" transform="translate(241.7 99.7) rotate(90)" fill="url(#lg2c)"/>
<line x1="0" y1="0" x2="10.2" y2="0" transform="translate(241.7 99.7) rotate(90)" stroke="#a8ec8c" stroke-width="0.35" opacity="0.8"/>
<line x1="253.15" y1="103" x2="246.7" y2="101.5" stroke="#8cc860" stroke-width="0.7"/>
<path d="M0,0 C2.2,-5.6 6.2,-5.32 10,0 C6.2,5.32 2.2,5.6 0,0 Z" transform="translate(246.7 101.5) rotate(90)" fill="url(#lg2c)"/>
<line x1="0" y1="0" x2="8.5" y2="0" transform="translate(246.7 101.5) rotate(90)" stroke="#a8ec8c" stroke-width="0.35" opacity="0.8"/>
<line x1="253.3" y1="106" x2="251" y2="104.5" stroke="#8cc860" stroke-width="0.7"/>
<path d="M0,0 C3.08,-8.4 8.68,-7.98 14,0 C8.68,7.98 3.08,8.4 0,0 Z" transform="translate(251 104.5) rotate(90)" fill="url(#lg2b)"/>
<line x1="0" y1="0" x2="11.9" y2="0" transform="translate(251 104.5) rotate(90)" stroke="#a8ec8c" stroke-width="0.35" opacity="0.8"/>
<line x1="253.96" y1="119.11" x2="247.58" y2="117.61" stroke="#8cc860" stroke-width="0.7"/>
<path d="M0,0 C3.08,-2.24 8.68,-2.13 14,0 C8.68,2.13 3.08,2.24 0,0 Z" transform="translate(247.58 117.61) rotate(160)" fill="url(#lg2a)"/>
<line x1="0" y1="0" x2="11.9" y2="0" transform="translate(247.58 117.61) rotate(160)" stroke="#a8ec8c" stroke-width="0.35" opacity="0.8"/>
<ellipse cx="37.25" cy="146.5" rx="13.25" ry="1.2" fill="#181818"/>
<path d="M25,122.5 L49.5,122.5 L48.3,143.5 Q47.9,146.5 45,146.5 L29.5,146.5 Q26.6,146.5 26.2,143.5 Z" fill="#1e1e1e"/>
<circle cx="39.77" cy="139.34" r="0.7" fill="#3a3a3a" opacity="0.8"/>
<circle cx="46.32" cy="139.3" r="0.76" fill="#3a3a3a" opacity="0.8"/>
<circle cx="27.59" cy="133.81" r="0.77" fill="#3a3a3a" opacity="0.8"/>
<circle cx="40.3" cy="142.52" r="0.36" fill="#3a3a3a" opacity="0.8"/>
<circle cx="36.62" cy="129.43" r="0.57" fill="#3a3a3a" opacity="0.8"/>
<circle cx="38.77" cy="124.76" r="0.41" fill="#3a3a3a" opacity="0.8"/>
<circle cx="32.73" cy="142.83" r="0.68" fill="#3a3a3a" opacity="0.8"/>
<circle cx="30.27" cy="140.44" r="0.37" fill="#3a3a3a" opacity="0.8"/>
<circle cx="39.66" cy="127.03" r="0.3" fill="#3a3a3a" opacity="0.8"/>
<circle cx="44.86" cy="128.69" r="0.41" fill="#3a3a3a" opacity="0.8"/>
<circle cx="47.14" cy="141.95" r="0.44" fill="#3a3a3a" opacity="0.8"/>
<circle cx="46.71" cy="135.28" r="0.64" fill="#3a3a3a" opacity="0.8"/>
<circle cx="31.2" cy="143.32" r="0.65" fill="#3a3a3a" opacity="0.8"/>
<circle cx="46.81" cy="142.37" r="0.45" fill="#3a3a3a" opacity="0.8"/>
<circle cx="34.4" cy="127.82" r="0.37" fill="#3a3a3a" opacity="0.8"/>
<circle cx="28.34" cy="130.53" r="0.6" fill="#3a3a3a" opacity="0.8"/>
<circle cx="27.07" cy="138.06" r="0.47" fill="#3a3a3a" opacity="0.8"/>
<circle cx="33.35" cy="140.87" r="0.54" fill="#3a3a3a" opacity="0.8"/>
<circle cx="33.47" cy="134.12" r="0.65" fill="#3a3a3a" opacity="0.8"/>
<circle cx="28.17" cy="144" r="0.31" fill="#3a3a3a" opacity="0.8"/>
<circle cx="42.37" cy="141.4" r="0.31" fill="#3a3a3a" opacity="0.8"/>
<circle cx="43.15" cy="131.82" r="0.59" fill="#3a3a3a" opacity="0.8"/>
<circle cx="27.19" cy="125.43" r="0.39" fill="#3a3a3a" opacity="0.8"/>
<circle cx="46.58" cy="128.43" r="0.68" fill="#3a3a3a" opacity="0.8"/>
<circle cx="46.06" cy="143.34" r="0.47" fill="#3a3a3a" opacity="0.8"/>
<circle cx="34.27" cy="134.99" r="0.69" fill="#3a3a3a" opacity="0.8"/>
<circle cx="29.22" cy="139.47" r="0.7" fill="#3a3a3a" opacity="0.8"/>
<circle cx="44.62" cy="125.23" r="0.77" fill="#3a3a3a" opacity="0.8"/>
<rect x="25" y="122.5" width="24.5" height="1.6" fill="#2a2826"/>
<ellipse cx="83.25" cy="146.5" rx="12.75" ry="1.2" fill="#181818"/>
<path d="M71.5,123.5 L95,123.5 L93.8,143.5 Q93.4,146.5 90.5,146.5 L76,146.5 Q73.1,146.5 72.7,143.5 Z" fill="#1e1e1e"/>
<circle cx="75.28" cy="131.97" r="0.61" fill="#3a3a3a" opacity="0.8"/>
<circle cx="91.4" cy="131.96" r="0.76" fill="#3a3a3a" opacity="0.8"/>
<circle cx="84.13" cy="131.44" r="0.46" fill="#3a3a3a" opacity="0.8"/>
<circle cx="76.96" cy="126.99" r="0.37" fill="#3a3a3a" opacity="0.8"/>
<circle cx="86.94" cy="144.44" r="0.38" fill="#3a3a3a" opacity="0.8"/>
<circle cx="74.45" cy="144.25" r="0.57" fill="#3a3a3a" opacity="0.8"/>
<circle cx="81.41" cy="130.01" r="0.6" fill="#3a3a3a" opacity="0.8"/>
<circle cx="89.61" cy="134.16" r="0.51" fill="#3a3a3a" opacity="0.8"/>
<circle cx="74.59" cy="142.91" r="0.32" fill="#3a3a3a" opacity="0.8"/>
<circle cx="83.12" cy="141.43" r="0.37" fill="#3a3a3a" opacity="0.8"/>
<circle cx="87.77" cy="143.55" r="0.62" fill="#3a3a3a" opacity="0.8"/>
<circle cx="88.87" cy="127.53" r="0.52" fill="#3a3a3a" opacity="0.8"/>
<circle cx="76.41" cy="141.55" r="0.45" fill="#3a3a3a" opacity="0.8"/>
<circle cx="82.34" cy="144.49" r="0.73" fill="#3a3a3a" opacity="0.8"/>
<circle cx="92.53" cy="134.12" r="0.54" fill="#3a3a3a" opacity="0.8"/>
<circle cx="87.73" cy="134.6" r="0.45" fill="#3a3a3a" opacity="0.8"/>
<circle cx="81.37" cy="128.28" r="0.49" fill="#3a3a3a" opacity="0.8"/>
<circle cx="92.77" cy="143.74" r="0.61" fill="#3a3a3a" opacity="0.8"/>
<circle cx="83.24" cy="131.93" r="0.34" fill="#3a3a3a" opacity="0.8"/>
<circle cx="78.81" cy="140.36" r="0.73" fill="#3a3a3a" opacity="0.8"/>
<circle cx="80.55" cy="140.43" r="0.69" fill="#3a3a3a" opacity="0.8"/>
<circle cx="87.04" cy="138.12" r="0.68" fill="#3a3a3a" opacity="0.8"/>
<circle cx="80.59" cy="138.88" r="0.44" fill="#3a3a3a" opacity="0.8"/>
<circle cx="82.97" cy="140.13" r="0.65" fill="#3a3a3a" opacity="0.8"/>
<circle cx="79.23" cy="143.47" r="0.62" fill="#3a3a3a" opacity="0.8"/>
<circle cx="84.82" cy="125.72" r="0.57" fill="#3a3a3a" opacity="0.8"/>
<circle cx="78.39" cy="138.26" r="0.53" fill="#3a3a3a" opacity="0.8"/>
<circle cx="89.43" cy="137.8" r="0.7" fill="#3a3a3a" opacity="0.8"/>
<rect x="71.5" y="123.5" width="23.5" height="1.6" fill="#2a2826"/>
<ellipse cx="129.8" cy="145.5" rx="12.2" ry="1.2" fill="#181818"/>
<path d="M118.6,122.3 L141,122.3 L139.8,142.5 Q139.4,145.5 136.5,145.5 L123.1,145.5 Q120.2,145.5 119.8,142.5 Z" fill="#1e1e1e"/>
<circle cx="127" cy="136.67" r="0.67" fill="#3a3a3a" opacity="0.8"/>
<circle cx="135.84" cy="131.02" r="0.72" fill="#3a3a3a" opacity="0.8"/>
<circle cx="136.61" cy="137.52" r="0.79" fill="#3a3a3a" opacity="0.8"/>
<circle cx="138.2" cy="134.25" r="0.56" fill="#3a3a3a" opacity="0.8"/>
<circle cx="123.66" cy="140.36" r="0.77" fill="#3a3a3a" opacity="0.8"/>
<circle cx="129.38" cy="137.58" r="0.66" fill="#3a3a3a" opacity="0.8"/>
<circle cx="134.04" cy="127.6" r="0.69" fill="#3a3a3a" opacity="0.8"/>
<circle cx="131.29" cy="137.08" r="0.51" fill="#3a3a3a" opacity="0.8"/>
<circle cx="132.08" cy="139.17" r="0.62" fill="#3a3a3a" opacity="0.8"/>
<circle cx="133.86" cy="124.83" r="0.38" fill="#3a3a3a" opacity="0.8"/>
<circle cx="128.72" cy="136.78" r="0.41" fill="#3a3a3a" opacity="0.8"/>
<circle cx="133.22" cy="136.41" r="0.32" fill="#3a3a3a" opacity="0.8"/>
<circle cx="129.28" cy="128.64" r="0.33" fill="#3a3a3a" opacity="0.8"/>
<circle cx="123.06" cy="130.39" r="0.39" fill="#3a3a3a" opacity="0.8"/>
<circle cx="124.16" cy="124.98" r="0.53" fill="#3a3a3a" opacity="0.8"/>
<circle cx="127.6" cy="136.05" r="0.6" fill="#3a3a3a" opacity="0.8"/>
<circle cx="124.98" cy="141.64" r="0.3" fill="#3a3a3a" opacity="0.8"/>
<circle cx="128.06" cy="129.65" r="0.51" fill="#3a3a3a" opacity="0.8"/>
<circle cx="122.72" cy="140.26" r="0.49" fill="#3a3a3a" opacity="0.8"/>
<circle cx="121.26" cy="136.08" r="0.35" fill="#3a3a3a" opacity="0.8"/>
<circle cx="130.63" cy="130.82" r="0.59" fill="#3a3a3a" opacity="0.8"/>
<circle cx="138.23" cy="140.02" r="0.51" fill="#3a3a3a" opacity="0.8"/>
<circle cx="135.56" cy="136.63" r="0.48" fill="#3a3a3a" opacity="0.8"/>
<circle cx="123.21" cy="135.74" r="0.58" fill="#3a3a3a" opacity="0.8"/>
<circle cx="138.21" cy="142.89" r="0.6" fill="#3a3a3a" opacity="0.8"/>
<circle cx="127.06" cy="141.45" r="0.3" fill="#3a3a3a" opacity="0.8"/>
<circle cx="122.59" cy="135.16" r="0.61" fill="#3a3a3a" opacity="0.8"/>
<circle cx="123.19" cy="136.39" r="0.75" fill="#3a3a3a" opacity="0.8"/>
<rect x="118.6" y="122.3" width="22.4" height="1.6" fill="#2a2826"/>
<ellipse cx="174.4" cy="144.5" rx="13.1" ry="1.2" fill="#181818"/>
<path d="M162.3,121 L186.5,121 L185.3,141.5 Q184.9,144.5 182,144.5 L166.8,144.5 Q163.9,144.5 163.5,141.5 Z" fill="#1e1e1e"/>
<circle cx="171.89" cy="131.42" r="0.41" fill="#3a3a3a" opacity="0.8"/>
<circle cx="170.19" cy="141.96" r="0.49" fill="#3a3a3a" opacity="0.8"/>
<circle cx="183.72" cy="140.82" r="0.6" fill="#3a3a3a" opacity="0.8"/>
<circle cx="169.55" cy="142.13" r="0.55" fill="#3a3a3a" opacity="0.8"/>
<circle cx="172.69" cy="129.22" r="0.79" fill="#3a3a3a" opacity="0.8"/>
<circle cx="174.23" cy="128.58" r="0.54" fill="#3a3a3a" opacity="0.8"/>
<circle cx="166.76" cy="135.12" r="0.52" fill="#3a3a3a" opacity="0.8"/>
<circle cx="170.22" cy="138.24" r="0.71" fill="#3a3a3a" opacity="0.8"/>
<circle cx="164.57" cy="133.39" r="0.44" fill="#3a3a3a" opacity="0.8"/>
<circle cx="183.19" cy="138.25" r="0.42" fill="#3a3a3a" opacity="0.8"/>
<circle cx="169.71" cy="126.02" r="0.79" fill="#3a3a3a" opacity="0.8"/>
<circle cx="170.22" cy="134.86" r="0.54" fill="#3a3a3a" opacity="0.8"/>
<circle cx="177.33" cy="134.78" r="0.67" fill="#3a3a3a" opacity="0.8"/>
<circle cx="166.69" cy="137.83" r="0.45" fill="#3a3a3a" opacity="0.8"/>
<circle cx="175.08" cy="129.55" r="0.45" fill="#3a3a3a" opacity="0.8"/>
<circle cx="175" cy="132.05" r="0.48" fill="#3a3a3a" opacity="0.8"/>
<circle cx="179.35" cy="134.52" r="0.32" fill="#3a3a3a" opacity="0.8"/>
<circle cx="169.4" cy="131.88" r="0.76" fill="#3a3a3a" opacity="0.8"/>
<circle cx="182.24" cy="133.64" r="0.31" fill="#3a3a3a" opacity="0.8"/>
<circle cx="180.02" cy="131.34" r="0.59" fill="#3a3a3a" opacity="0.8"/>
<circle cx="178.61" cy="135.33" r="0.54" fill="#3a3a3a" opacity="0.8"/>
<circle cx="182.72" cy="130.52" r="0.5" fill="#3a3a3a" opacity="0.8"/>
<circle cx="181.51" cy="126.83" r="0.45" fill="#3a3a3a" opacity="0.8"/>
<circle cx="181.07" cy="124.29" r="0.72" fill="#3a3a3a" opacity="0.8"/>
<circle cx="178.33" cy="131.44" r="0.44" fill="#3a3a3a" opacity="0.8"/>
<circle cx="180.07" cy="140.76" r="0.37" fill="#3a3a3a" opacity="0.8"/>
<circle cx="173.96" cy="133.71" r="0.55" fill="#3a3a3a" opacity="0.8"/>
<circle cx="170.98" cy="125.99" r="0.59" fill="#3a3a3a" opacity="0.8"/>
<rect x="162.3" y="121" width="24.2" height="1.6" fill="#2a2826"/>
<ellipse cx="215.75" cy="146" rx="12.75" ry="1.2" fill="#181818"/>
<path d="M204,120.5 L227.5,120.5 L226.3,143 Q225.9,146 223,146 L208.5,146 Q205.6,146 205.2,143 Z" fill="#1e1e1e"/>
<circle cx="221.83" cy="123.97" r="0.42" fill="#3a3a3a" opacity="0.8"/>
<circle cx="221.98" cy="139.52" r="0.63" fill="#3a3a3a" opacity="0.8"/>
<circle cx="206.5" cy="138.04" r="0.79" fill="#3a3a3a" opacity="0.8"/>
<circle cx="225.47" cy="137.58" r="0.32" fill="#3a3a3a" opacity="0.8"/>
<circle cx="222.42" cy="127.21" r="0.62" fill="#3a3a3a" opacity="0.8"/>
<circle cx="224.57" cy="137.82" r="0.37" fill="#3a3a3a" opacity="0.8"/>
<circle cx="211.7" cy="142.24" r="0.37" fill="#3a3a3a" opacity="0.8"/>
<circle cx="217.91" cy="131.4" r="0.38" fill="#3a3a3a" opacity="0.8"/>
<circle cx="218.14" cy="123.44" r="0.35" fill="#3a3a3a" opacity="0.8"/>
<circle cx="213.39" cy="124.05" r="0.33" fill="#3a3a3a" opacity="0.8"/>
<circle cx="217.22" cy="138.46" r="0.74" fill="#3a3a3a" opacity="0.8"/>
<circle cx="208.62" cy="131.78" r="0.46" fill="#3a3a3a" opacity="0.8"/>
<circle cx="217.7" cy="133.03" r="0.77" fill="#3a3a3a" opacity="0.8"/>
<circle cx="213.3" cy="123.7" r="0.65" fill="#3a3a3a" opacity="0.8"/>
<circle cx="208.95" cy="136.07" r="0.55" fill="#3a3a3a" opacity="0.8"/>
<circle cx="223.75" cy="134.43" r="0.61" fill="#3a3a3a" opacity="0.8"/>
<circle cx="211.13" cy="134.36" r="0.43" fill="#3a3a3a" opacity="0.8"/>
<circle cx="220.64" cy="133.62" r="0.37" fill="#3a3a3a" opacity="0.8"/>
<circle cx="210.57" cy="130.48" r="0.67" fill="#3a3a3a" opacity="0.8"/>
<circle cx="209.5" cy="137.84" r="0.63" fill="#3a3a3a" opacity="0.8"/>
<circle cx="207.66" cy="136.86" r="0.35" fill="#3a3a3a" opacity="0.8"/>
<circle cx="208.43" cy="135.27" r="0.42" fill="#3a3a3a" opacity="0.8"/>
<circle cx="223.1" cy="132.83" r="0.46" fill="#3a3a3a" opacity="0.8"/>
<circle cx="221.53" cy="123.13" r="0.66" fill="#3a3a3a" opacity="0.8"/>
<circle cx="207.05" cy="125.74" r="0.78" fill="#3a3a3a" opacity="0.8"/>
<circle cx="219.28" cy="127.3" r="0.36" fill="#3a3a3a" opacity="0.8"/>
<circle cx="224.97" cy="136.8" r="0.71" fill="#3a3a3a" opacity="0.8"/>
<circle cx="208.73" cy="135.93" r="0.48" fill="#3a3a3a" opacity="0.8"/>
<rect x="204" y="120.5" width="23.5" height="1.6" fill="#2a2826"/>
<ellipse cx="255.75" cy="143.5" rx="12.75" ry="1.2" fill="#181818"/>
<path d="M244,118.5 L267.5,118.5 L266.3,140.5 Q265.9,143.5 263,143.5 L248.5,143.5 Q245.6,143.5 245.2,140.5 Z" fill="#1e1e1e"/>
<circle cx="250.58" cy="127.5" r="0.61" fill="#3a3a3a" opacity="0.8"/>
<circle cx="252.8" cy="128.6" r="0.37" fill="#3a3a3a" opacity="0.8"/>
<circle cx="262.21" cy="134.11" r="0.7" fill="#3a3a3a" opacity="0.8"/>
<circle cx="254.45" cy="138.38" r="0.56" fill="#3a3a3a" opacity="0.8"/>
<circle cx="257.56" cy="132.54" r="0.67" fill="#3a3a3a" opacity="0.8"/>
<circle cx="253.71" cy="122.54" r="0.32" fill="#3a3a3a" opacity="0.8"/>
<circle cx="249.95" cy="121.33" r="0.74" fill="#3a3a3a" opacity="0.8"/>
<circle cx="255.38" cy="136.47" r="0.3" fill="#3a3a3a" opacity="0.8"/>
<circle cx="255.17" cy="139.19" r="0.61" fill="#3a3a3a" opacity="0.8"/>
<circle cx="254.36" cy="130.28" r="0.35" fill="#3a3a3a" opacity="0.8"/>
<circle cx="249.02" cy="123.84" r="0.49" fill="#3a3a3a" opacity="0.8"/>
<circle cx="253.52" cy="138.99" r="0.38" fill="#3a3a3a" opacity="0.8"/>
<circle cx="250.95" cy="126.33" r="0.38" fill="#3a3a3a" opacity="0.8"/>
<circle cx="251.6" cy="125.44" r="0.54" fill="#3a3a3a" opacity="0.8"/>
<circle cx="246.63" cy="139.91" r="0.48" fill="#3a3a3a" opacity="0.8"/>
<circle cx="264.29" cy="134.94" r="0.64" fill="#3a3a3a" opacity="0.8"/>
<circle cx="255.2" cy="140.35" r="0.36" fill="#3a3a3a" opacity="0.8"/>
<circle cx="259.04" cy="126.61" r="0.64" fill="#3a3a3a" opacity="0.8"/>
<circle cx="260.22" cy="123.93" r="0.4" fill="#3a3a3a" opacity="0.8"/>
<circle cx="246.49" cy="125.34" r="0.34" fill="#3a3a3a" opacity="0.8"/>
<circle cx="253.82" cy="140.95" r="0.48" fill="#3a3a3a" opacity="0.8"/>
<circle cx="252.08" cy="130.33" r="0.44" fill="#3a3a3a" opacity="0.8"/>
<circle cx="260.28" cy="135.58" r="0.38" fill="#3a3a3a" opacity="0.8"/>
<circle cx="250.69" cy="134.62" r="0.77" fill="#3a3a3a" opacity="0.8"/>
<circle cx="258.59" cy="129.54" r="0.79" fill="#3a3a3a" opacity="0.8"/>
<circle cx="246.12" cy="121.78" r="0.69" fill="#3a3a3a" opacity="0.8"/>
<circle cx="254" cy="121.44" r="0.57" fill="#3a3a3a" opacity="0.8"/>
<circle cx="265.3" cy="131.4" r="0.48" fill="#3a3a3a" opacity="0.8"/>
<rect x="244" y="118.5" width="23.5" height="1.6" fill="#2a2826"/>
<path d="M25.6,122.9 Q37.25,120.3 48.9,122.9 L48.3,126.1 Q37.25,127.5 26.2,126.1 Z" fill="#65534a"/>
<circle cx="36.49" cy="123.47" r="0.35" fill="#a08070"/>
<circle cx="33.94" cy="123.85" r="0.51" fill="#c0a090"/>
<circle cx="38.36" cy="124.49" r="0.31" fill="#b04040"/>
<circle cx="30.47" cy="125.87" r="0.63" fill="#b04040"/>
<circle cx="30.22" cy="122.9" r="0.34" fill="#a08070"/>
<circle cx="42.87" cy="123.51" r="0.56" fill="#a08070"/>
<circle cx="45.84" cy="122.76" r="0.38" fill="#b04040"/>
<circle cx="45.24" cy="125.14" r="0.62" fill="#b04040"/>
<circle cx="32.76" cy="125.3" r="0.37" fill="#a08070"/>
<circle cx="45.03" cy="122.13" r="0.43" fill="#b04040"/>
<circle cx="29.85" cy="122.89" r="0.56" fill="#a08070"/>
<circle cx="46.76" cy="121.92" r="0.57" fill="#8a6a5a"/>
<circle cx="45.35" cy="122.75" r="0.3" fill="#a08070"/>
<circle cx="29.73" cy="125.75" r="0.48" fill="#b04040"/>
<circle cx="38.02" cy="122.73" r="0.32" fill="#8a6a5a"/>
<circle cx="40.09" cy="122.29" r="0.5" fill="#8a6a5a"/>
<circle cx="46.26" cy="124.92" r="0.31" fill="#c0a090"/>
<circle cx="38.38" cy="124.45" r="0.35" fill="#c0a090"/>
<circle cx="42.11" cy="124.32" r="0.31" fill="#b04040"/>
<circle cx="46.49" cy="122.89" r="0.51" fill="#a08070"/>
<circle cx="42.09" cy="125.45" r="0.48" fill="#a08070"/>
<circle cx="44.78" cy="122.36" r="0.61" fill="#c0a090"/>
<path d="M72.1,123.9 Q83.25,121.3 94.4,123.9 L93.8,127.1 Q83.25,128.5 72.7,127.1 Z" fill="#65534a"/>
<circle cx="82.3" cy="124.59" r="0.65" fill="#a08070"/>
<circle cx="80.89" cy="125.45" r="0.3" fill="#a08070"/>
<circle cx="77.66" cy="124.76" r="0.41" fill="#a08070"/>
<circle cx="79.49" cy="124.1" r="0.48" fill="#a08070"/>
<circle cx="74" cy="126.18" r="0.58" fill="#b04040"/>
<circle cx="80.25" cy="126.17" r="0.5" fill="#a08070"/>
<circle cx="81.79" cy="123.87" r="0.64" fill="#b04040"/>
<circle cx="83.44" cy="126.91" r="0.5" fill="#8a6a5a"/>
<circle cx="86.52" cy="123.62" r="0.6" fill="#c0a090"/>
<circle cx="74.07" cy="126.85" r="0.58" fill="#c0a090"/>
<circle cx="91.96" cy="127.04" r="0.51" fill="#a08070"/>
<circle cx="74.45" cy="124.79" r="0.58" fill="#c0a090"/>
<circle cx="85.43" cy="126.96" r="0.42" fill="#8a6a5a"/>
<circle cx="82.88" cy="124.07" r="0.64" fill="#c0a090"/>
<circle cx="87.07" cy="123.18" r="0.46" fill="#b04040"/>
<circle cx="84.97" cy="126.27" r="0.53" fill="#c0a090"/>
<circle cx="88.55" cy="126.6" r="0.47" fill="#a08070"/>
<circle cx="91.5" cy="124.06" r="0.34" fill="#a08070"/>
<circle cx="76.66" cy="126.22" r="0.6" fill="#8a6a5a"/>
<circle cx="76.93" cy="124.82" r="0.5" fill="#b04040"/>
<circle cx="75.12" cy="125.2" r="0.51" fill="#c0a090"/>
<circle cx="83.94" cy="126.85" r="0.31" fill="#b04040"/>
<path d="M119.2,122.7 Q129.8,120.1 140.4,122.7 L139.8,125.9 Q129.8,127.3 119.8,125.9 Z" fill="#65534a"/>
<circle cx="130.62" cy="123.9" r="0.49" fill="#a08070"/>
<circle cx="136.74" cy="124.11" r="0.63" fill="#a08070"/>
<circle cx="133.94" cy="124.73" r="0.34" fill="#b04040"/>
<circle cx="128.94" cy="123.76" r="0.52" fill="#a08070"/>
<circle cx="133.09" cy="121.82" r="0.39" fill="#b04040"/>
<circle cx="124.85" cy="125.16" r="0.56" fill="#b04040"/>
<circle cx="136.72" cy="121.85" r="0.51" fill="#a08070"/>
<circle cx="133.08" cy="123.41" r="0.32" fill="#8a6a5a"/>
<circle cx="121.23" cy="124.86" r="0.33" fill="#a08070"/>
<circle cx="127.13" cy="123.68" r="0.49" fill="#a08070"/>
<circle cx="133.55" cy="122.02" r="0.33" fill="#c0a090"/>
<circle cx="120.76" cy="125.71" r="0.51" fill="#b04040"/>
<circle cx="138.75" cy="125.2" r="0.34" fill="#c0a090"/>
<circle cx="132.95" cy="123.6" r="0.35" fill="#8a6a5a"/>
<circle cx="122.6" cy="121.92" r="0.33" fill="#a08070"/>
<circle cx="127.45" cy="124.81" r="0.46" fill="#8a6a5a"/>
<circle cx="127.4" cy="124.37" r="0.38" fill="#c0a090"/>
<circle cx="134.65" cy="124.57" r="0.31" fill="#c0a090"/>
<circle cx="137.97" cy="121.79" r="0.34" fill="#b04040"/>
<circle cx="121.66" cy="122.76" r="0.6" fill="#8a6a5a"/>
<circle cx="132.36" cy="124.56" r="0.35" fill="#a08070"/>
<circle cx="135.33" cy="125.8" r="0.58" fill="#b04040"/>
<rect x="122.2" y="119" width="2.6" height="6.5" fill="#e8202c" transform="rotate(-12 123.5 122)"/>
</g>
<rect x="242" y="52" width="28.8" height="1.7" fill="#dedede"/>
<text x="255.5" y="59.6" font-family="Liberation Serif, Times New Roman, serif" font-size="5.1" font-weight="bold" fill="#f4f4f4" text-anchor="middle">10 cm</text>
<rect x="28.2" y="166.2" width="114.1" height="1.4" fill="#2a2a2a"/>
<rect x="157.3" y="166.2" width="114" height="1.4" fill="#2a2a2a"/>
<text x="81.6" y="184.8" font-family="Liberation Serif, Times New Roman, serif" font-size="13.3" fill="#000" text-anchor="middle">Control</text>
<text x="207.8" y="184.8" font-family="Liberation Serif, Times New Roman, serif" font-size="13.3" fill="#000" text-anchor="middle">Drought</text>
<text x="292.6" y="44.7" font-family="Liberation Serif, Times New Roman, serif" font-size="19.6" fill="#000">B</text>
<path d="M521.8,132.8 A114.3,114.3 0 0 1 516.72,166.49" fill="none" stroke="#888" stroke-width="0.6"/>
<line x1="521.8" y1="132.8" x2="523.4" y2="132.8" stroke="#888" stroke-width="0.4"/>
<text x="523.8" y="132.8" font-family="Liberation Serif, Times New Roman, serif" font-size="2.2" fill="#777" text-anchor="middle" transform="rotate(90 523.8 132.8)">0</text>
<line x1="521.68" y1="138.04" x2="522.48" y2="138.08" stroke="#888" stroke-width="0.4"/>
<line x1="521.32" y1="143.28" x2="522.91" y2="143.42" stroke="#888" stroke-width="0.4"/>
<line x1="520.72" y1="148.49" x2="521.51" y2="148.59" stroke="#888" stroke-width="0.4"/>
<line x1="519.88" y1="153.66" x2="521.45" y2="153.95" stroke="#888" stroke-width="0.4"/>
<text x="521.85" y="154.03" font-family="Liberation Serif, Times New Roman, serif" font-size="2.2" fill="#777" text-anchor="middle" transform="rotate(-79.48 521.85 154.03)">20</text>
<line x1="518.8" y1="158.8" x2="519.58" y2="158.98" stroke="#888" stroke-width="0.4"/>
<line x1="517.5" y1="163.87" x2="519.03" y2="164.31" stroke="#888" stroke-width="0.4"/>
<path d="M519.6,132.8 A112.1,112.1 0 0 1 514.62,165.84 L508.7,164.01 A105.9,105.9 0 0 0 513.4,132.8 Z" fill="#c40a2c"/>
<path d="M509.2,132.8 A101.7,101.7 0 0 1 509.2,133.78 L502.7,133.72 A95.2,95.2 0 0 0 502.7,132.8 Z" fill="#ba2339"/>
<path d="M509.2,133.69 A101.7,101.7 0 0 1 509.18,134.68 L502.68,134.56 A95.2,95.2 0 0 0 502.7,133.64 Z" fill="#db606e"/>
<path d="M509.18,134.59 A101.7,101.7 0 0 1 509.16,135.57 L502.66,135.4 A95.2,95.2 0 0 0 502.69,134.48 Z" fill="#e3727e"/>
<path d="M509.16,135.48 A101.7,101.7 0 0 1 509.13,136.47 L502.64,136.23 A95.2,95.2 0 0 0 502.67,135.31 Z" fill="#f1acb4"/>
<path d="M509.14,136.38 A101.7,101.7 0 0 1 509.1,137.36 L502.6,137.07 A95.2,95.2 0 0 0 502.64,136.15 Z" fill="#f6bfc6"/>
<path d="M509.1,137.27 A101.7,101.7 0 0 1 509.05,138.26 L502.56,137.91 A95.2,95.2 0 0 0 502.61,136.99 Z" fill="#f6c0c6"/>
<path d="M509.06,138.17 A101.7,101.7 0 0 1 509,139.15 L502.51,138.74 A95.2,95.2 0 0 0 502.57,137.82 Z" fill="#fbdcdf"/>
<path d="M509.01,139.06 A101.7,101.7 0 0 1 508.94,140.04 L502.46,139.58 A95.2,95.2 0 0 0 502.52,138.66 Z" fill="#fad3d8"/>
<path d="M508.95,139.95 A101.7,101.7 0 0 1 508.87,140.93 L502.39,140.41 A95.2,95.2 0 0 0 502.46,139.5 Z" fill="#f6bec4"/>
<path d="M508.88,140.85 A101.7,101.7 0 0 1 508.8,141.83 L502.32,141.25 A95.2,95.2 0 0 0 502.4,140.33 Z" fill="#e88893"/>
<path d="M508.81,141.74 A101.7,101.7 0 0 1 508.72,142.72 L502.25,142.08 A95.2,95.2 0 0 0 502.33,141.17 Z" fill="#f8cbd0"/>
<path d="M508.72,142.63 A101.7,101.7 0 0 1 508.62,143.61 L502.16,142.92 A95.2,95.2 0 0 0 502.25,142 Z" fill="#f8cbd1"/>
<path d="M508.63,143.52 A101.7,101.7 0 0 1 508.53,144.5 L502.07,143.75 A95.2,95.2 0 0 0 502.17,142.83 Z" fill="#fad5d9"/>
<path d="M508.54,144.41 A101.7,101.7 0 0 1 508.42,145.39 L501.97,144.58 A95.2,95.2 0 0 0 502.08,143.67 Z" fill="#e88892"/>
<path d="M508.43,145.3 A101.7,101.7 0 0 1 508.3,146.27 L501.86,145.41 A95.2,95.2 0 0 0 501.98,144.5 Z" fill="#da5e6c"/>
<path d="M508.32,146.18 A101.7,101.7 0 0 1 508.18,147.16 L501.75,146.24 A95.2,95.2 0 0 0 501.87,145.33 Z" fill="#efa4ac"/>
<path d="M508.19,147.07 A101.7,101.7 0 0 1 508.05,148.04 L501.62,147.07 A95.2,95.2 0 0 0 501.76,146.16 Z" fill="#cb4355"/>
<path d="M508.06,147.96 A101.7,101.7 0 0 1 507.91,148.93 L501.5,147.9 A95.2,95.2 0 0 0 501.64,146.99 Z" fill="#b01b31"/>
<path d="M507.93,148.84 A101.7,101.7 0 0 1 507.77,149.81 L501.36,148.72 A95.2,95.2 0 0 0 501.51,147.82 Z" fill="#b82036"/>
<path d="M507.78,149.72 A101.7,101.7 0 0 1 507.61,150.69 L501.21,149.55 A95.2,95.2 0 0 0 501.37,148.64 Z" fill="#be2a3f"/>
<path d="M507.63,150.61 A101.7,101.7 0 0 1 507.45,151.57 L501.06,150.37 A95.2,95.2 0 0 0 501.23,149.47 Z" fill="#df6976"/>
<path d="M507.47,151.49 A101.7,101.7 0 0 1 507.28,152.45 L500.91,151.2 A95.2,95.2 0 0 0 501.08,150.29 Z" fill="#ea8f99"/>
<path d="M507.3,152.37 A101.7,101.7 0 0 1 507.11,153.33 L500.74,152.02 A95.2,95.2 0 0 0 500.92,151.11 Z" fill="#d14f5f"/>
<path d="M507.12,153.24 A101.7,101.7 0 0 1 506.92,154.21 L500.57,152.84 A95.2,95.2 0 0 0 500.76,151.94 Z" fill="#dc6270"/>
<path d="M506.94,154.12 A101.7,101.7 0 0 1 506.73,155.08 L500.39,153.66 A95.2,95.2 0 0 0 500.58,152.76 Z" fill="#d25161"/>
<path d="M506.75,154.99 A101.7,101.7 0 0 1 506.53,155.95 L500.2,154.47 A95.2,95.2 0 0 0 500.41,153.57 Z" fill="#c43649"/>
<path d="M506.55,155.87 A101.7,101.7 0 0 1 506.32,156.82 L500.01,155.29 A95.2,95.2 0 0 0 500.22,154.39 Z" fill="#d25060"/>
<path d="M506.34,156.74 A101.7,101.7 0 0 1 506.11,157.69 L499.8,156.1 A95.2,95.2 0 0 0 500.03,155.21 Z" fill="#bb253a"/>
<path d="M506.13,157.6 A101.7,101.7 0 0 1 505.88,158.56 L499.6,156.91 A95.2,95.2 0 0 0 499.82,156.02 Z" fill="#ae1a30"/>
<path d="M505.91,158.47 A101.7,101.7 0 0 1 505.65,159.42 L499.38,157.72 A95.2,95.2 0 0 0 499.62,156.83 Z" fill="#85051c"/>
<path d="M505.68,159.34 A101.7,101.7 0 0 1 505.42,160.29 L499.16,158.53 A95.2,95.2 0 0 0 499.4,157.64 Z" fill="#8a061e"/>
<path d="M505.44,160.2 A101.7,101.7 0 0 1 505.17,161.15 L498.93,159.33 A95.2,95.2 0 0 0 499.18,158.45 Z" fill="#83041b"/>
<path d="M505.19,161.06 A101.7,101.7 0 0 1 504.92,162 L498.69,160.14 A95.2,95.2 0 0 0 498.95,159.25 Z" fill="#8a061e"/>
<path d="M504.94,161.92 A101.7,101.7 0 0 1 504.68,162.78 L498.47,160.86 A95.2,95.2 0 0 0 498.71,160.06 Z" fill="#81041b"/>
<text x="528.53" y="151.04" font-family="Liberation Serif, Times New Roman, serif" font-size="6" fill="#1a1a1a" stroke="#1a1a1a" stroke-width="0.07" text-anchor="middle" transform="rotate(-81.43 528.53 151.04)">Chr01</text>
<path d="M516.12,168.39 A114.3,114.3 0 0 1 497.8,202.87" fill="none" stroke="#888" stroke-width="0.6"/>
<line x1="516.12" y1="168.39" x2="517.64" y2="168.89" stroke="#888" stroke-width="0.4"/>
<text x="518.02" y="169.01" font-family="Liberation Serif, Times New Roman, serif" font-size="2.2" fill="#777" text-anchor="middle" transform="rotate(-71.86 518.02 169.01)">0</text>
<line x1="514.37" y1="173.34" x2="515.12" y2="173.62" stroke="#888" stroke-width="0.4"/>
<line x1="512.4" y1="178.19" x2="513.87" y2="178.83" stroke="#888" stroke-width="0.4"/>
<line x1="510.21" y1="182.96" x2="510.93" y2="183.31" stroke="#888" stroke-width="0.4"/>
<line x1="507.8" y1="187.62" x2="509.2" y2="188.38" stroke="#888" stroke-width="0.4"/>
<text x="509.55" y="188.58" font-family="Liberation Serif, Times New Roman, serif" font-size="2.2" fill="#777" text-anchor="middle" transform="rotate(-61.34 509.55 188.58)">20</text>
<line x1="505.18" y1="192.16" x2="505.86" y2="192.58" stroke="#888" stroke-width="0.4"/>
<line x1="502.35" y1="196.58" x2="503.68" y2="197.47" stroke="#888" stroke-width="0.4"/>
<line x1="499.33" y1="200.86" x2="499.97" y2="201.34" stroke="#888" stroke-width="0.4"/>
<path d="M514.03,167.71 A112.1,112.1 0 0 1 496.07,201.52 L491.17,197.72 A105.9,105.9 0 0 0 508.14,165.77 Z" fill="#dc2027"/>
<path d="M504.14,164.47 A101.7,101.7 0 0 1 503.83,165.4 L497.68,163.32 A95.2,95.2 0 0 0 497.97,162.44 Z" fill="#980c24"/>
<path d="M503.86,165.32 A101.7,101.7 0 0 1 503.54,166.25 L497.4,164.11 A95.2,95.2 0 0 0 497.7,163.24 Z" fill="#ae1a30"/>
<path d="M503.57,166.16 A101.7,101.7 0 0 1 503.24,167.09 L497.13,164.9 A95.2,95.2 0 0 0 497.43,164.03 Z" fill="#81041b"/>
<path d="M503.27,167.01 A101.7,101.7 0 0 1 502.94,167.93 L496.84,165.69 A95.2,95.2 0 0 0 497.15,164.82 Z" fill="#700016"/>
<path d="M502.97,167.85 A101.7,101.7 0 0 1 502.63,168.77 L496.55,166.47 A95.2,95.2 0 0 0 496.87,165.61 Z" fill="#700016"/>
<path d="M502.66,168.69 A101.7,101.7 0 0 1 502.31,169.61 L496.25,167.25 A95.2,95.2 0 0 0 496.58,166.39 Z" fill="#7b0319"/>
<path d="M502.34,169.52 A101.7,101.7 0 0 1 501.98,170.44 L495.94,168.03 A95.2,95.2 0 0 0 496.28,167.18 Z" fill="#a5142b"/>
<path d="M502.01,170.36 A101.7,101.7 0 0 1 501.64,171.27 L495.63,168.81 A95.2,95.2 0 0 0 495.97,167.96 Z" fill="#c4374a"/>
<path d="M501.68,171.19 A101.7,101.7 0 0 1 501.3,172.1 L495.31,169.58 A95.2,95.2 0 0 0 495.66,168.73 Z" fill="#d45463"/>
<path d="M501.34,172.01 A101.7,101.7 0 0 1 500.95,172.92 L494.98,170.36 A95.2,95.2 0 0 0 495.34,169.51 Z" fill="#e98c96"/>
<path d="M500.99,172.84 A101.7,101.7 0 0 1 500.6,173.74 L494.65,171.12 A95.2,95.2 0 0 0 495.01,170.28 Z" fill="#d14e5f"/>
<path d="M500.63,173.66 A101.7,101.7 0 0 1 500.23,174.56 L494.3,171.89 A95.2,95.2 0 0 0 494.68,171.05 Z" fill="#de6673"/>
<path d="M500.27,174.48 A101.7,101.7 0 0 1 499.86,175.37 L493.96,172.65 A95.2,95.2 0 0 0 494.34,171.81 Z" fill="#c83e50"/>
<path d="M499.9,175.29 A101.7,101.7 0 0 1 499.48,176.18 L493.6,173.41 A95.2,95.2 0 0 0 493.99,172.58 Z" fill="#e06b77"/>
<path d="M499.52,176.1 A101.7,101.7 0 0 1 499.1,176.99 L493.24,174.17 A95.2,95.2 0 0 0 493.64,173.34 Z" fill="#c83e51"/>
<path d="M499.13,176.91 A101.7,101.7 0 0 1 498.7,177.8 L492.87,174.92 A95.2,95.2 0 0 0 493.28,174.09 Z" fill="#c63b4d"/>
<path d="M498.74,177.72 A101.7,101.7 0 0 1 498.3,178.6 L492.5,175.67 A95.2,95.2 0 0 0 492.91,174.85 Z" fill="#f4bac1"/>
<path d="M498.34,178.52 A101.7,101.7 0 0 1 497.9,179.4 L492.12,176.42 A95.2,95.2 0 0 0 492.54,175.6 Z" fill="#fad4d9"/>
<path d="M497.94,179.32 A101.7,101.7 0 0 1 497.48,180.19 L491.73,177.16 A95.2,95.2 0 0 0 492.16,176.34 Z" fill="#ea8f99"/>
<path d="M497.53,180.11 A101.7,101.7 0 0 1 497.06,180.98 L491.34,177.9 A95.2,95.2 0 0 0 491.77,177.09 Z" fill="#ee9ea6"/>
<path d="M497.11,180.9 A101.7,101.7 0 0 1 496.64,181.77 L490.94,178.64 A95.2,95.2 0 0 0 491.38,177.83 Z" fill="#d75968"/>
<path d="M496.68,181.69 A101.7,101.7 0 0 1 496.2,182.55 L490.53,179.37 A95.2,95.2 0 0 0 490.98,178.56 Z" fill="#e88690"/>
<path d="M496.25,182.47 A101.7,101.7 0 0 1 495.76,183.33 L490.12,180.1 A95.2,95.2 0 0 0 490.57,179.3 Z" fill="#f8cbd1"/>
<path d="M495.8,183.25 A101.7,101.7 0 0 1 495.31,184.1 L489.7,180.82 A95.2,95.2 0 0 0 490.16,180.03 Z" fill="#eea1aa"/>
<path d="M495.36,184.03 A101.7,101.7 0 0 1 494.86,184.87 L489.27,181.54 A95.2,95.2 0 0 0 489.74,180.75 Z" fill="#de6673"/>
<path d="M494.9,184.8 A101.7,101.7 0 0 1 494.4,185.64 L488.84,182.26 A95.2,95.2 0 0 0 489.32,181.47 Z" fill="#e98b95"/>
<path d="M494.44,185.56 A101.7,101.7 0 0 1 493.93,186.4 L488.4,182.98 A95.2,95.2 0 0 0 488.89,182.19 Z" fill="#f3b5bc"/>
<path d="M493.97,186.33 A101.7,101.7 0 0 1 493.45,187.16 L487.96,183.69 A95.2,95.2 0 0 0 488.45,182.91 Z" fill="#eea0a9"/>
<path d="M493.5,187.09 A101.7,101.7 0 0 1 492.97,187.92 L487.51,184.39 A95.2,95.2 0 0 0 488,183.62 Z" fill="#c4374a"/>
<path d="M493.02,187.84 A101.7,101.7 0 0 1 492.48,188.67 L487.05,185.09 A95.2,95.2 0 0 0 487.55,184.32 Z" fill="#b11c32"/>
<path d="M492.53,188.59 A101.7,101.7 0 0 1 491.99,189.41 L486.59,185.79 A95.2,95.2 0 0 0 487.1,185.03 Z" fill="#d35362"/>
<path d="M492.04,189.34 A101.7,101.7 0 0 1 491.49,190.15 L486.12,186.49 A95.2,95.2 0 0 0 486.63,185.72 Z" fill="#da5f6d"/>
<path d="M491.54,190.08 A101.7,101.7 0 0 1 490.98,190.89 L485.64,187.18 A95.2,95.2 0 0 0 486.16,186.42 Z" fill="#e57985"/>
<path d="M491.03,190.82 A101.7,101.7 0 0 1 490.46,191.62 L485.16,187.86 A95.2,95.2 0 0 0 485.69,187.11 Z" fill="#e98c96"/>
<path d="M490.51,191.55 A101.7,101.7 0 0 1 489.94,192.35 L484.67,188.54 A95.2,95.2 0 0 0 485.21,187.79 Z" fill="#be2b40"/>
<path d="M489.99,192.28 A101.7,101.7 0 0 1 489.42,193.07 L484.18,189.22 A95.2,95.2 0 0 0 484.72,188.48 Z" fill="#cd4758"/>
<path d="M489.47,193 A101.7,101.7 0 0 1 488.88,193.79 L483.68,189.89 A95.2,95.2 0 0 0 484.23,189.15 Z" fill="#b82036"/>
<path d="M488.93,193.72 A101.7,101.7 0 0 1 488.34,194.51 L483.17,190.56 A95.2,95.2 0 0 0 483.73,189.83 Z" fill="#b21c32"/>
<path d="M488.4,194.43 A101.7,101.7 0 0 1 487.85,195.14 L482.71,191.16 A95.2,95.2 0 0 0 483.23,190.5 Z" fill="#c13044"/>
<text x="515.6" y="190.22" font-family="Liberation Serif, Times New Roman, serif" font-size="6" fill="#1a1a1a" stroke="#1a1a1a" stroke-width="0.07" text-anchor="middle" transform="rotate(-62.02 515.6 190.22)">Chr02</text>
<path d="M496.57,204.43 A114.3,114.3 0 0 1 467.18,230.28" fill="none" stroke="#888" stroke-width="0.6"/>
<line x1="496.57" y1="204.43" x2="497.81" y2="205.44" stroke="#888" stroke-width="0.4"/>
<text x="498.13" y="205.69" font-family="Liberation Serif, Times New Roman, serif" font-size="2.2" fill="#777" text-anchor="middle" transform="rotate(-51.19 498.13 205.69)">0</text>
<line x1="493.19" y1="208.44" x2="493.79" y2="208.97" stroke="#888" stroke-width="0.4"/>
<line x1="489.63" y1="212.29" x2="490.78" y2="213.41" stroke="#888" stroke-width="0.4"/>
<line x1="485.9" y1="215.98" x2="486.44" y2="216.56" stroke="#888" stroke-width="0.4"/>
<line x1="482" y1="219.49" x2="483.04" y2="220.7" stroke="#888" stroke-width="0.4"/>
<text x="483.3" y="221" font-family="Liberation Serif, Times New Roman, serif" font-size="2.2" fill="#777" text-anchor="middle" transform="rotate(-40.68 483.3 221)">20</text>
<line x1="477.94" y1="222.81" x2="478.44" y2="223.44" stroke="#888" stroke-width="0.4"/>
<line x1="473.74" y1="225.95" x2="474.67" y2="227.25" stroke="#888" stroke-width="0.4"/>
<line x1="469.4" y1="228.89" x2="469.83" y2="229.56" stroke="#888" stroke-width="0.4"/>
<path d="M494.85,203.05 A112.1,112.1 0 0 1 466.03,228.41 L462.79,223.12 A105.9,105.9 0 0 0 490.02,199.17 Z" fill="#ea4a2e"/>
<path d="M486.75,196.54 A101.7,101.7 0 0 1 486.13,197.3 L481.1,193.18 A95.2,95.2 0 0 0 481.68,192.46 Z" fill="#8f071f"/>
<path d="M486.18,197.23 A101.7,101.7 0 0 1 485.56,197.99 L480.57,193.83 A95.2,95.2 0 0 0 481.16,193.12 Z" fill="#be2c40"/>
<path d="M485.61,197.93 A101.7,101.7 0 0 1 484.98,198.68 L480.03,194.47 A95.2,95.2 0 0 0 480.62,193.76 Z" fill="#b21c33"/>
<path d="M485.03,198.61 A101.7,101.7 0 0 1 484.39,199.36 L479.48,195.11 A95.2,95.2 0 0 0 480.08,194.41 Z" fill="#d65766"/>
<path d="M484.45,199.29 A101.7,101.7 0 0 1 483.8,200.04 L478.93,195.74 A95.2,95.2 0 0 0 479.53,195.04 Z" fill="#d65766"/>
<path d="M483.86,199.97 A101.7,101.7 0 0 1 483.21,200.71 L478.37,196.37 A95.2,95.2 0 0 0 478.98,195.68 Z" fill="#e57a86"/>
<path d="M483.27,200.64 A101.7,101.7 0 0 1 482.6,201.37 L477.8,196.99 A95.2,95.2 0 0 0 478.42,196.31 Z" fill="#ea8d97"/>
<path d="M482.66,201.31 A101.7,101.7 0 0 1 482,202.03 L477.23,197.61 A95.2,95.2 0 0 0 477.86,196.93 Z" fill="#c73b4d"/>
<path d="M482.06,201.97 A101.7,101.7 0 0 1 481.38,202.69 L476.66,198.22 A95.2,95.2 0 0 0 477.29,197.55 Z" fill="#be2c40"/>
<path d="M481.44,202.62 A101.7,101.7 0 0 1 480.76,203.34 L476.08,198.83 A95.2,95.2 0 0 0 476.72,198.16 Z" fill="#e06b78"/>
<path d="M480.82,203.27 A101.7,101.7 0 0 1 480.14,203.98 L475.49,199.43 A95.2,95.2 0 0 0 476.14,198.77 Z" fill="#cd4758"/>
<path d="M480.2,203.92 A101.7,101.7 0 0 1 479.51,204.62 L474.9,200.03 A95.2,95.2 0 0 0 475.55,199.37 Z" fill="#ec97a0"/>
<path d="M479.57,204.56 A101.7,101.7 0 0 1 478.87,205.25 L474.31,200.62 A95.2,95.2 0 0 0 474.96,199.97 Z" fill="#f2b1b9"/>
<path d="M478.93,205.19 A101.7,101.7 0 0 1 478.23,205.88 L473.71,201.21 A95.2,95.2 0 0 0 474.37,200.56 Z" fill="#e67f8a"/>
<path d="M478.29,205.82 A101.7,101.7 0 0 1 477.58,206.5 L473.1,201.79 A95.2,95.2 0 0 0 473.77,201.15 Z" fill="#e98b95"/>
<path d="M477.64,206.44 A101.7,101.7 0 0 1 476.93,207.12 L472.49,202.37 A95.2,95.2 0 0 0 473.16,201.73 Z" fill="#fad4d9"/>
<path d="M476.99,207.05 A101.7,101.7 0 0 1 476.27,207.73 L471.87,202.94 A95.2,95.2 0 0 0 472.55,202.31 Z" fill="#e57a85"/>
<path d="M476.33,207.67 A101.7,101.7 0 0 1 475.6,208.33 L471.25,203.5 A95.2,95.2 0 0 0 471.93,202.88 Z" fill="#efa4ad"/>
<path d="M475.67,208.27 A101.7,101.7 0 0 1 474.94,208.93 L470.63,204.06 A95.2,95.2 0 0 0 471.31,203.45 Z" fill="#f0a9b1"/>
<path d="M475,208.87 A101.7,101.7 0 0 1 474.26,209.52 L469.99,204.62 A95.2,95.2 0 0 0 470.69,204.01 Z" fill="#d55564"/>
<path d="M474.33,209.46 A101.7,101.7 0 0 1 473.58,210.11 L469.36,205.16 A95.2,95.2 0 0 0 470.06,204.56 Z" fill="#d85c6a"/>
<path d="M473.65,210.05 A101.7,101.7 0 0 1 472.9,210.69 L468.72,205.71 A95.2,95.2 0 0 0 469.42,205.11 Z" fill="#d75a69"/>
<path d="M472.96,210.63 A101.7,101.7 0 0 1 472.21,211.26 L468.07,206.25 A95.2,95.2 0 0 0 468.78,205.65 Z" fill="#e16d79"/>
<path d="M472.28,211.2 A101.7,101.7 0 0 1 471.51,211.83 L467.42,206.78 A95.2,95.2 0 0 0 468.14,206.19 Z" fill="#e16c78"/>
<path d="M471.58,211.77 A101.7,101.7 0 0 1 470.81,212.39 L466.77,207.3 A95.2,95.2 0 0 0 467.49,206.72 Z" fill="#c02f43"/>
<path d="M470.88,212.33 A101.7,101.7 0 0 1 470.11,212.95 L466.11,207.82 A95.2,95.2 0 0 0 466.83,207.25 Z" fill="#c5384b"/>
<path d="M470.18,212.89 A101.7,101.7 0 0 1 469.4,213.49 L465.44,208.34 A95.2,95.2 0 0 0 466.17,207.77 Z" fill="#aa172e"/>
<path d="M469.47,213.44 A101.7,101.7 0 0 1 468.68,214.04 L464.77,208.85 A95.2,95.2 0 0 0 465.51,208.29 Z" fill="#ab182f"/>
<path d="M468.75,213.98 A101.7,101.7 0 0 1 467.96,214.57 L464.1,209.35 A95.2,95.2 0 0 0 464.84,208.8 Z" fill="#a3132a"/>
<path d="M468.04,214.52 A101.7,101.7 0 0 1 467.24,215.1 L463.42,209.84 A95.2,95.2 0 0 0 464.17,209.3 Z" fill="#790219"/>
<path d="M467.31,215.05 A101.7,101.7 0 0 1 466.51,215.63 L462.74,210.33 A95.2,95.2 0 0 0 463.49,209.8 Z" fill="#950a22"/>
<path d="M466.58,215.58 A101.7,101.7 0 0 1 465.78,216.15 L462.05,210.82 A95.2,95.2 0 0 0 462.81,210.29 Z" fill="#a5142b"/>
<path d="M465.85,216.1 A101.7,101.7 0 0 1 465.04,216.66 L461.36,211.3 A95.2,95.2 0 0 0 462.12,210.77 Z" fill="#9b0e25"/>
<path d="M465.11,216.61 A101.7,101.7 0 0 1 464.3,217.16 L460.67,211.77 A95.2,95.2 0 0 0 461.43,211.25 Z" fill="#d25161"/>
<path d="M464.37,217.11 A101.7,101.7 0 0 1 463.55,217.66 L459.97,212.24 A95.2,95.2 0 0 0 460.74,211.72 Z" fill="#ec98a1"/>
<path d="M463.63,217.61 A101.7,101.7 0 0 1 462.8,218.15 L459.27,212.7 A95.2,95.2 0 0 0 460.04,212.19 Z" fill="#d55665"/>
<path d="M462.87,218.1 A101.7,101.7 0 0 1 462.04,218.64 L458.56,213.15 A95.2,95.2 0 0 0 459.34,212.65 Z" fill="#c73c4f"/>
<path d="M462.12,218.59 A101.7,101.7 0 0 1 461.29,219.11 L457.85,213.6 A95.2,95.2 0 0 0 458.63,213.1 Z" fill="#e67e89"/>
<path d="M461.36,219.07 A101.7,101.7 0 0 1 460.6,219.54 L457.2,213.99 A95.2,95.2 0 0 0 457.92,213.55 Z" fill="#f3b2ba"/>
<text x="488.34" y="224.71" font-family="Liberation Serif, Times New Roman, serif" font-size="6" fill="#1a1a1a" stroke="#1a1a1a" stroke-width="0.07" text-anchor="middle" transform="rotate(-41.33 488.34 224.71)">Chr03</text>
<path d="M465.47,231.31 A114.3,114.3 0 0 1 434.47,243.87" fill="none" stroke="#888" stroke-width="0.6"/>
<line x1="465.47" y1="231.31" x2="466.28" y2="232.69" stroke="#888" stroke-width="0.4"/>
<text x="466.48" y="233.04" font-family="Liberation Serif, Times New Roman, serif" font-size="2.2" fill="#777" text-anchor="middle" transform="rotate(-30.47 466.48 233.04)">0</text>
<line x1="460.89" y1="233.87" x2="461.26" y2="234.57" stroke="#888" stroke-width="0.4"/>
<line x1="456.19" y1="236.21" x2="456.87" y2="237.66" stroke="#888" stroke-width="0.4"/>
<line x1="451.4" y1="238.33" x2="451.71" y2="239.07" stroke="#888" stroke-width="0.4"/>
<line x1="446.51" y1="240.24" x2="447.06" y2="241.74" stroke="#888" stroke-width="0.4"/>
<text x="447.19" y="242.12" font-family="Liberation Serif, Times New Roman, serif" font-size="2.2" fill="#777" text-anchor="middle" transform="rotate(-19.96 447.19 242.12)">20</text>
<line x1="441.54" y1="241.91" x2="441.78" y2="242.68" stroke="#888" stroke-width="0.4"/>
<line x1="436.5" y1="243.36" x2="436.91" y2="244.91" stroke="#888" stroke-width="0.4"/>
<path d="M464.35,229.42 A112.1,112.1 0 0 1 433.95,241.74 L432.49,235.71 A105.9,105.9 0 0 0 461.21,224.07 Z" fill="#f46d43"/>
<path d="M459.08,220.45 A101.7,101.7 0 0 1 458.22,220.95 L454.98,215.32 A95.2,95.2 0 0 0 455.78,214.85 Z" fill="#8c071e"/>
<path d="M458.29,220.91 A101.7,101.7 0 0 1 457.43,221.4 L454.24,215.74 A95.2,95.2 0 0 0 455.05,215.28 Z" fill="#750118"/>
<path d="M457.51,221.36 A101.7,101.7 0 0 1 456.64,221.84 L453.5,216.15 A95.2,95.2 0 0 0 454.31,215.7 Z" fill="#a5142b"/>
<path d="M456.72,221.8 A101.7,101.7 0 0 1 455.85,222.27 L452.76,216.56 A95.2,95.2 0 0 0 453.57,216.11 Z" fill="#84051c"/>
<path d="M455.92,222.23 A101.7,101.7 0 0 1 455.05,222.7 L452.01,216.95 A95.2,95.2 0 0 0 452.83,216.52 Z" fill="#790219"/>
<path d="M455.13,222.66 A101.7,101.7 0 0 1 454.25,223.12 L451.26,217.35 A95.2,95.2 0 0 0 452.08,216.92 Z" fill="#8a061e"/>
<path d="M454.32,223.08 A101.7,101.7 0 0 1 453.44,223.53 L450.5,217.73 A95.2,95.2 0 0 0 451.33,217.31 Z" fill="#a4132a"/>
<path d="M453.52,223.49 A101.7,101.7 0 0 1 452.63,223.94 L449.75,218.11 A95.2,95.2 0 0 0 450.58,217.7 Z" fill="#cc4556"/>
<path d="M452.71,223.9 A101.7,101.7 0 0 1 451.82,224.34 L448.98,218.49 A95.2,95.2 0 0 0 449.82,218.08 Z" fill="#e67d88"/>
<path d="M451.9,224.3 A101.7,101.7 0 0 1 451,224.73 L448.22,218.85 A95.2,95.2 0 0 0 449.06,218.45 Z" fill="#c5384b"/>
<path d="M451.08,224.69 A101.7,101.7 0 0 1 450.18,225.11 L447.45,219.21 A95.2,95.2 0 0 0 448.3,218.82 Z" fill="#e7848e"/>
<path d="M450.26,225.07 A101.7,101.7 0 0 1 449.36,225.49 L446.68,219.56 A95.2,95.2 0 0 0 447.53,219.18 Z" fill="#e57b87"/>
<path d="M449.44,225.45 A101.7,101.7 0 0 1 448.53,225.86 L445.91,219.91 A95.2,95.2 0 0 0 446.76,219.53 Z" fill="#f8c9cf"/>
<path d="M448.61,225.82 A101.7,101.7 0 0 1 447.7,226.22 L445.13,220.25 A95.2,95.2 0 0 0 445.99,219.87 Z" fill="#efa5ad"/>
<path d="M447.78,226.18 A101.7,101.7 0 0 1 446.87,226.57 L444.35,220.58 A95.2,95.2 0 0 0 445.21,220.21 Z" fill="#eea1a9"/>
<path d="M446.95,226.54 A101.7,101.7 0 0 1 446.03,226.92 L443.57,220.9 A95.2,95.2 0 0 0 444.43,220.55 Z" fill="#f8c9cf"/>
<path d="M446.11,226.88 A101.7,101.7 0 0 1 445.19,227.26 L442.78,221.22 A95.2,95.2 0 0 0 443.65,220.87 Z" fill="#fad7db"/>
<path d="M445.28,227.22 A101.7,101.7 0 0 1 444.35,227.59 L442,221.53 A95.2,95.2 0 0 0 442.86,221.19 Z" fill="#f3b2ba"/>
<path d="M444.43,227.56 A101.7,101.7 0 0 1 443.51,227.91 L441.21,221.83 A95.2,95.2 0 0 0 442.07,221.5 Z" fill="#f9d1d6"/>
<path d="M443.59,227.88 A101.7,101.7 0 0 1 442.66,228.23 L440.41,222.13 A95.2,95.2 0 0 0 441.28,221.8 Z" fill="#f6c1c8"/>
<path d="M442.74,228.2 A101.7,101.7 0 0 1 441.81,228.54 L439.62,222.42 A95.2,95.2 0 0 0 440.49,222.1 Z" fill="#df6975"/>
<path d="M441.89,228.51 A101.7,101.7 0 0 1 440.95,228.84 L438.82,222.7 A95.2,95.2 0 0 0 439.69,222.39 Z" fill="#a7152c"/>
<path d="M441.04,228.81 A101.7,101.7 0 0 1 440.1,229.13 L438.02,222.98 A95.2,95.2 0 0 0 438.89,222.67 Z" fill="#8d071f"/>
<path d="M440.18,229.11 A101.7,101.7 0 0 1 439.24,229.42 L437.21,223.24 A95.2,95.2 0 0 0 438.09,222.95 Z" fill="#990d24"/>
<path d="M439.32,229.39 A101.7,101.7 0 0 1 438.38,229.7 L436.41,223.51 A95.2,95.2 0 0 0 437.29,223.22 Z" fill="#760118"/>
<path d="M438.46,229.67 A101.7,101.7 0 0 1 437.52,229.97 L435.6,223.76 A95.2,95.2 0 0 0 436.48,223.48 Z" fill="#9a0d25"/>
<path d="M437.6,229.94 A101.7,101.7 0 0 1 436.65,230.23 L434.79,224.01 A95.2,95.2 0 0 0 435.68,223.73 Z" fill="#bf2c41"/>
<path d="M436.73,230.21 A101.7,101.7 0 0 1 435.78,230.49 L433.97,224.24 A95.2,95.2 0 0 0 434.87,223.98 Z" fill="#be2b40"/>
<path d="M435.87,230.46 A101.7,101.7 0 0 1 434.91,230.74 L433.16,224.48 A95.2,95.2 0 0 0 434.05,224.22 Z" fill="#b01b31"/>
<path d="M435,230.71 A101.7,101.7 0 0 1 434.04,230.98 L432.34,224.7 A95.2,95.2 0 0 0 433.24,224.45 Z" fill="#c5394c"/>
<path d="M434.12,230.95 A101.7,101.7 0 0 1 433.16,231.21 L431.52,224.92 A95.2,95.2 0 0 0 432.42,224.68 Z" fill="#c83e50"/>
<path d="M433.25,231.19 A101.7,101.7 0 0 1 432.29,231.43 L430.7,225.13 A95.2,95.2 0 0 0 431.6,224.9 Z" fill="#bc283d"/>
<path d="M432.37,231.41 A101.7,101.7 0 0 1 431.49,231.63 L429.96,225.31 A95.2,95.2 0 0 0 430.78,225.11 Z" fill="#a3132a"/>
<text x="453.47" y="246.24" font-family="Liberation Serif, Times New Roman, serif" font-size="6" fill="#1a1a1a" stroke="#1a1a1a" stroke-width="0.07" text-anchor="middle" transform="rotate(-22.06 453.47 246.24)">Chr04</text>
<path d="M432.52,244.33 A114.3,114.3 0 0 1 382.68,244.37" fill="none" stroke="#888" stroke-width="0.6"/>
<line x1="432.52" y1="244.33" x2="432.87" y2="245.89" stroke="#888" stroke-width="0.4"/>
<text x="432.96" y="246.28" font-family="Liberation Serif, Times New Roman, serif" font-size="2.2" fill="#777" text-anchor="middle" transform="rotate(-12.65 432.96 246.28)">0</text>
<line x1="427.38" y1="245.36" x2="427.52" y2="246.15" stroke="#888" stroke-width="0.4"/>
<line x1="422.2" y1="246.15" x2="422.4" y2="247.74" stroke="#888" stroke-width="0.4"/>
<line x1="416.98" y1="246.71" x2="417.05" y2="247.5" stroke="#888" stroke-width="0.4"/>
<line x1="411.75" y1="247.02" x2="411.81" y2="248.62" stroke="#888" stroke-width="0.4"/>
<text x="411.82" y="249.02" font-family="Liberation Serif, Times New Roman, serif" font-size="2.2" fill="#777" text-anchor="middle" transform="rotate(-2.13 411.82 249.02)">20</text>
<line x1="406.5" y1="247.1" x2="406.5" y2="247.9" stroke="#888" stroke-width="0.4"/>
<line x1="401.26" y1="246.93" x2="401.17" y2="248.53" stroke="#888" stroke-width="0.4"/>
<line x1="396.03" y1="246.52" x2="395.95" y2="247.32" stroke="#888" stroke-width="0.4"/>
<line x1="390.83" y1="245.88" x2="390.6" y2="247.46" stroke="#888" stroke-width="0.4"/>
<text x="390.54" y="247.86" font-family="Liberation Serif, Times New Roman, serif" font-size="2.2" fill="#777" text-anchor="middle" transform="rotate(8.39 390.54 247.86)">40</text>
<line x1="385.66" y1="244.99" x2="385.51" y2="245.78" stroke="#888" stroke-width="0.4"/>
<path d="M432.04,242.18 A112.1,112.1 0 0 1 383.16,242.23 L384.51,236.17 A105.9,105.9 0 0 0 430.69,236.13 Z" fill="#f98d52"/>
<path d="M429.77,232.03 A101.7,101.7 0 0 1 428.81,232.24 L427.44,225.89 A95.2,95.2 0 0 0 428.34,225.69 Z" fill="#fbdcdf"/>
<path d="M428.89,232.22 A101.7,101.7 0 0 1 427.93,232.43 L426.62,226.06 A95.2,95.2 0 0 0 427.53,225.87 Z" fill="#fbd9dd"/>
<path d="M428.02,232.41 A101.7,101.7 0 0 1 427.05,232.6 L425.8,226.22 A95.2,95.2 0 0 0 426.71,226.04 Z" fill="#efa3ac"/>
<path d="M427.14,232.59 A101.7,101.7 0 0 1 426.18,232.77 L424.98,226.38 A95.2,95.2 0 0 0 425.89,226.21 Z" fill="#de6774"/>
<path d="M426.26,232.75 A101.7,101.7 0 0 1 425.3,232.93 L424.16,226.53 A95.2,95.2 0 0 0 425.06,226.37 Z" fill="#e37480"/>
<path d="M425.38,232.92 A101.7,101.7 0 0 1 424.41,233.08 L423.33,226.67 A95.2,95.2 0 0 0 424.24,226.52 Z" fill="#e47681"/>
<path d="M424.5,233.07 A101.7,101.7 0 0 1 423.53,233.23 L422.51,226.81 A95.2,95.2 0 0 0 423.42,226.66 Z" fill="#e88690"/>
<path d="M423.62,233.21 A101.7,101.7 0 0 1 422.65,233.37 L421.68,226.94 A95.2,95.2 0 0 0 422.59,226.8 Z" fill="#f9ccd1"/>
<path d="M422.74,233.35 A101.7,101.7 0 0 1 421.76,233.49 L420.85,227.06 A95.2,95.2 0 0 0 421.76,226.93 Z" fill="#fbe0e3"/>
<path d="M421.85,233.48 A101.7,101.7 0 0 1 420.88,233.62 L420.02,227.17 A95.2,95.2 0 0 0 420.93,227.05 Z" fill="#fdebed"/>
<path d="M420.97,233.6 A101.7,101.7 0 0 1 419.99,233.73 L419.19,227.28 A95.2,95.2 0 0 0 420.11,227.16 Z" fill="#f2b0b7"/>
<path d="M420.08,233.72 A101.7,101.7 0 0 1 419.1,233.84 L418.36,227.38 A95.2,95.2 0 0 0 419.28,227.27 Z" fill="#e7848e"/>
<path d="M419.19,233.83 A101.7,101.7 0 0 1 418.21,233.93 L417.53,227.47 A95.2,95.2 0 0 0 418.44,227.37 Z" fill="#cc4556"/>
<path d="M418.3,233.92 A101.7,101.7 0 0 1 417.33,234.02 L416.7,227.55 A95.2,95.2 0 0 0 417.61,227.46 Z" fill="#efa4ac"/>
<path d="M417.41,234.02 A101.7,101.7 0 0 1 416.43,234.11 L415.86,227.63 A95.2,95.2 0 0 0 416.78,227.55 Z" fill="#e47883"/>
<path d="M416.52,234.1 A101.7,101.7 0 0 1 415.54,234.18 L415.03,227.7 A95.2,95.2 0 0 0 415.95,227.62 Z" fill="#e3737e"/>
<path d="M415.63,234.17 A101.7,101.7 0 0 1 414.65,234.25 L414.2,227.76 A95.2,95.2 0 0 0 415.11,227.7 Z" fill="#cf4a5b"/>
<path d="M414.74,234.24 A101.7,101.7 0 0 1 413.76,234.31 L413.36,227.82 A95.2,95.2 0 0 0 414.28,227.76 Z" fill="#de6673"/>
<path d="M413.85,234.3 A101.7,101.7 0 0 1 412.87,234.36 L412.52,227.87 A95.2,95.2 0 0 0 413.44,227.81 Z" fill="#b21c33"/>
<path d="M412.96,234.35 A101.7,101.7 0 0 1 411.97,234.4 L411.69,227.91 A95.2,95.2 0 0 0 412.61,227.86 Z" fill="#db626f"/>
<path d="M412.06,234.4 A101.7,101.7 0 0 1 411.08,234.44 L410.85,227.94 A95.2,95.2 0 0 0 411.77,227.9 Z" fill="#d04c5c"/>
<path d="M411.17,234.43 A101.7,101.7 0 0 1 410.19,234.46 L410.02,227.97 A95.2,95.2 0 0 0 410.94,227.94 Z" fill="#bc283d"/>
<path d="M410.28,234.46 A101.7,101.7 0 0 1 409.29,234.48 L409.18,227.99 A95.2,95.2 0 0 0 410.1,227.96 Z" fill="#a21229"/>
<path d="M409.38,234.48 A101.7,101.7 0 0 1 408.4,234.5 L408.34,228 A95.2,95.2 0 0 0 409.26,227.98 Z" fill="#a01128"/>
<path d="M408.49,234.5 A101.7,101.7 0 0 1 407.5,234.5 L407.5,228 A95.2,95.2 0 0 0 408.42,228 Z" fill="#a11229"/>
<path d="M407.59,234.5 A101.7,101.7 0 0 1 406.61,234.5 L406.67,228 A95.2,95.2 0 0 0 407.59,228 Z" fill="#9a0d25"/>
<path d="M406.7,234.5 A101.7,101.7 0 0 1 405.72,234.48 L405.83,227.99 A95.2,95.2 0 0 0 406.75,228 Z" fill="#8b061e"/>
<path d="M405.81,234.49 A101.7,101.7 0 0 1 404.82,234.46 L404.99,227.97 A95.2,95.2 0 0 0 405.91,227.99 Z" fill="#b21c33"/>
<path d="M404.91,234.47 A101.7,101.7 0 0 1 403.93,234.44 L404.16,227.94 A95.2,95.2 0 0 0 405.08,227.97 Z" fill="#ab182e"/>
<path d="M404.02,234.44 A101.7,101.7 0 0 1 403.04,234.4 L403.32,227.91 A95.2,95.2 0 0 0 404.24,227.94 Z" fill="#930921"/>
<path d="M403.12,234.41 A101.7,101.7 0 0 1 402.14,234.36 L402.48,227.87 A95.2,95.2 0 0 0 403.4,227.91 Z" fill="#88061d"/>
<path d="M402.23,234.36 A101.7,101.7 0 0 1 401.25,234.31 L401.65,227.82 A95.2,95.2 0 0 0 402.57,227.87 Z" fill="#a4132a"/>
<path d="M401.34,234.31 A101.7,101.7 0 0 1 400.36,234.25 L400.81,227.76 A95.2,95.2 0 0 0 401.73,227.83 Z" fill="#910820"/>
<path d="M400.45,234.26 A101.7,101.7 0 0 1 399.47,234.18 L399.98,227.7 A95.2,95.2 0 0 0 400.9,227.77 Z" fill="#80041b"/>
<path d="M399.55,234.19 A101.7,101.7 0 0 1 398.57,234.11 L399.15,227.63 A95.2,95.2 0 0 0 400.06,227.71 Z" fill="#8b061e"/>
<path d="M398.66,234.12 A101.7,101.7 0 0 1 397.68,234.03 L398.31,227.56 A95.2,95.2 0 0 0 399.23,227.64 Z" fill="#8b061e"/>
<path d="M397.77,234.03 A101.7,101.7 0 0 1 396.8,233.94 L397.48,227.47 A95.2,95.2 0 0 0 398.39,227.56 Z" fill="#9d0f27"/>
<path d="M396.88,233.94 A101.7,101.7 0 0 1 395.91,233.84 L396.65,227.38 A95.2,95.2 0 0 0 397.56,227.48 Z" fill="#940921"/>
<path d="M395.99,233.85 A101.7,101.7 0 0 1 395.02,233.73 L395.82,227.28 A95.2,95.2 0 0 0 396.73,227.39 Z" fill="#8b061e"/>
<path d="M395.11,233.74 A101.7,101.7 0 0 1 394.13,233.62 L394.99,227.17 A95.2,95.2 0 0 0 395.9,227.29 Z" fill="#b01b32"/>
<path d="M394.22,233.63 A101.7,101.7 0 0 1 393.25,233.5 L394.16,227.06 A95.2,95.2 0 0 0 395.07,227.18 Z" fill="#950a22"/>
<path d="M393.33,233.51 A101.7,101.7 0 0 1 392.36,233.37 L393.33,226.94 A95.2,95.2 0 0 0 394.24,227.07 Z" fill="#700016"/>
<path d="M392.45,233.38 A101.7,101.7 0 0 1 391.48,233.23 L392.5,226.81 A95.2,95.2 0 0 0 393.41,226.95 Z" fill="#700016"/>
<path d="M391.56,233.24 A101.7,101.7 0 0 1 390.59,233.09 L391.68,226.68 A95.2,95.2 0 0 0 392.58,226.82 Z" fill="#700016"/>
<path d="M390.68,233.1 A101.7,101.7 0 0 1 389.71,232.93 L390.85,226.53 A95.2,95.2 0 0 0 391.76,226.69 Z" fill="#82041b"/>
<path d="M389.8,232.95 A101.7,101.7 0 0 1 388.83,232.77 L390.03,226.38 A95.2,95.2 0 0 0 390.93,226.55 Z" fill="#770218"/>
<path d="M388.92,232.79 A101.7,101.7 0 0 1 387.96,232.6 L389.21,226.23 A95.2,95.2 0 0 0 390.11,226.4 Z" fill="#7d031a"/>
<path d="M388.04,232.62 A101.7,101.7 0 0 1 387.08,232.43 L388.38,226.06 A95.2,95.2 0 0 0 389.29,226.24 Z" fill="#8b061e"/>
<path d="M387.17,232.45 A101.7,101.7 0 0 1 386.2,232.25 L387.57,225.89 A95.2,95.2 0 0 0 388.47,226.08 Z" fill="#740117"/>
<path d="M386.29,232.26 A101.7,101.7 0 0 1 385.42,232.07 L386.83,225.73 A95.2,95.2 0 0 0 387.65,225.91 Z" fill="#a3132a"/>
<text x="407.61" y="255.2" font-family="Liberation Serif, Times New Roman, serif" font-size="6" fill="#1a1a1a" stroke="#1a1a1a" stroke-width="0.07" text-anchor="middle" transform="rotate(-0.05 407.61 255.2)">Chr05</text>
<path d="M380.74,243.92 A114.3,114.3 0 0 1 345.34,228.72" fill="none" stroke="#888" stroke-width="0.6"/>
<line x1="380.74" y1="243.92" x2="380.36" y2="245.48" stroke="#888" stroke-width="0.4"/>
<text x="380.27" y="245.87" font-family="Liberation Serif, Times New Roman, serif" font-size="2.2" fill="#777" text-anchor="middle" transform="rotate(13.54 380.27 245.87)">0</text>
<line x1="375.67" y1="242.58" x2="375.45" y2="243.35" stroke="#888" stroke-width="0.4"/>
<line x1="370.67" y1="241" x2="370.15" y2="242.52" stroke="#888" stroke-width="0.4"/>
<line x1="365.74" y1="239.2" x2="365.45" y2="239.94" stroke="#888" stroke-width="0.4"/>
<line x1="360.91" y1="237.17" x2="360.25" y2="238.63" stroke="#888" stroke-width="0.4"/>
<text x="360.09" y="239" font-family="Liberation Serif, Times New Roman, serif" font-size="2.2" fill="#777" text-anchor="middle" transform="rotate(24.06 360.09 239)">20</text>
<line x1="356.17" y1="234.92" x2="355.81" y2="235.64" stroke="#888" stroke-width="0.4"/>
<line x1="351.54" y1="232.46" x2="350.75" y2="233.86" stroke="#888" stroke-width="0.4"/>
<line x1="347.02" y1="229.79" x2="346.6" y2="230.47" stroke="#888" stroke-width="0.4"/>
<path d="M381.25,241.78 A112.1,112.1 0 0 1 346.54,226.87 L349.91,221.67 A105.9,105.9 0 0 0 382.7,235.76 Z" fill="#fbb05e"/>
<path d="M383.69,231.67 A101.7,101.7 0 0 1 382.72,231.44 L384.31,225.13 A95.2,95.2 0 0 0 385.21,225.35 Z" fill="#eea0a9"/>
<path d="M382.81,231.46 A101.7,101.7 0 0 1 381.84,231.21 L383.48,224.92 A95.2,95.2 0 0 0 384.39,225.15 Z" fill="#fad9dc"/>
<path d="M381.93,231.23 A101.7,101.7 0 0 1 380.97,230.98 L382.66,224.7 A95.2,95.2 0 0 0 383.56,224.94 Z" fill="#f8cad0"/>
<path d="M381.05,231 A101.7,101.7 0 0 1 380.09,230.74 L381.85,224.48 A95.2,95.2 0 0 0 382.74,224.72 Z" fill="#f8c7cd"/>
<path d="M380.18,230.76 A101.7,101.7 0 0 1 379.22,230.49 L381.03,224.25 A95.2,95.2 0 0 0 381.93,224.5 Z" fill="#fad4d8"/>
<path d="M379.31,230.51 A101.7,101.7 0 0 1 378.35,230.23 L380.22,224.01 A95.2,95.2 0 0 0 381.11,224.27 Z" fill="#f3b3ba"/>
<path d="M378.44,230.26 A101.7,101.7 0 0 1 377.49,229.97 L379.4,223.76 A95.2,95.2 0 0 0 380.3,224.03 Z" fill="#f3b3ba"/>
<path d="M377.57,230 A101.7,101.7 0 0 1 376.62,229.7 L378.59,223.51 A95.2,95.2 0 0 0 379.48,223.78 Z" fill="#ee9fa8"/>
<path d="M376.71,229.73 A101.7,101.7 0 0 1 375.76,229.42 L377.79,223.24 A95.2,95.2 0 0 0 378.67,223.53 Z" fill="#d65867"/>
<path d="M375.84,229.45 A101.7,101.7 0 0 1 374.9,229.13 L376.98,222.98 A95.2,95.2 0 0 0 377.87,223.27 Z" fill="#e88691"/>
<path d="M374.98,229.16 A101.7,101.7 0 0 1 374.04,228.84 L376.18,222.7 A95.2,95.2 0 0 0 377.06,223 Z" fill="#f6bec5"/>
<path d="M374.13,228.87 A101.7,101.7 0 0 1 373.19,228.54 L375.38,222.42 A95.2,95.2 0 0 0 376.26,222.73 Z" fill="#f0a7af"/>
<path d="M373.27,228.57 A101.7,101.7 0 0 1 372.34,228.23 L374.58,222.13 A95.2,95.2 0 0 0 375.46,222.45 Z" fill="#d75a69"/>
<path d="M372.42,228.26 A101.7,101.7 0 0 1 371.49,227.91 L373.79,221.83 A95.2,95.2 0 0 0 374.66,222.16 Z" fill="#e16b78"/>
<path d="M371.57,227.94 A101.7,101.7 0 0 1 370.64,227.59 L373,221.53 A95.2,95.2 0 0 0 373.87,221.86 Z" fill="#e3727d"/>
<path d="M370.72,227.62 A101.7,101.7 0 0 1 369.8,227.25 L372.21,221.22 A95.2,95.2 0 0 0 373.07,221.56 Z" fill="#ad1930"/>
<path d="M369.88,227.29 A101.7,101.7 0 0 1 368.96,226.91 L371.42,220.9 A95.2,95.2 0 0 0 372.28,221.25 Z" fill="#a3132a"/>
<path d="M369.04,226.95 A101.7,101.7 0 0 1 368.12,226.57 L370.64,220.57 A95.2,95.2 0 0 0 371.5,220.93 Z" fill="#b01b31"/>
<path d="M368.2,226.6 A101.7,101.7 0 0 1 367.29,226.21 L369.86,220.24 A95.2,95.2 0 0 0 370.71,220.61 Z" fill="#90071f"/>
<path d="M367.37,226.25 A101.7,101.7 0 0 1 366.45,225.85 L369.08,219.9 A95.2,95.2 0 0 0 369.93,220.27 Z" fill="#ae1a30"/>
<path d="M366.54,225.88 A101.7,101.7 0 0 1 365.63,225.48 L368.3,219.56 A95.2,95.2 0 0 0 369.15,219.94 Z" fill="#a11129"/>
<path d="M365.71,225.52 A101.7,101.7 0 0 1 364.8,225.1 L367.53,219.2 A95.2,95.2 0 0 0 368.38,219.59 Z" fill="#c02f43"/>
<path d="M364.88,225.14 A101.7,101.7 0 0 1 363.98,224.72 L366.76,218.84 A95.2,95.2 0 0 0 367.61,219.24 Z" fill="#be2b3f"/>
<path d="M364.06,224.76 A101.7,101.7 0 0 1 363.16,224.33 L366,218.48 A95.2,95.2 0 0 0 366.84,218.88 Z" fill="#9d0f26"/>
<path d="M363.24,224.37 A101.7,101.7 0 0 1 362.35,223.93 L365.24,218.1 A95.2,95.2 0 0 0 366.07,218.51 Z" fill="#82041b"/>
<path d="M362.43,223.97 A101.7,101.7 0 0 1 361.54,223.52 L364.48,217.72 A95.2,95.2 0 0 0 365.31,218.14 Z" fill="#760118"/>
<path d="M361.62,223.56 A101.7,101.7 0 0 1 360.73,223.11 L363.72,217.34 A95.2,95.2 0 0 0 364.55,217.76 Z" fill="#960a22"/>
<path d="M360.81,223.15 A101.7,101.7 0 0 1 359.93,222.69 L362.97,216.94 A95.2,95.2 0 0 0 363.8,217.38 Z" fill="#920820"/>
<path d="M360.01,222.73 A101.7,101.7 0 0 1 359.13,222.26 L362.22,216.54 A95.2,95.2 0 0 0 363.04,216.98 Z" fill="#a4132a"/>
<path d="M359.21,222.3 A101.7,101.7 0 0 1 358.34,221.83 L361.48,216.14 A95.2,95.2 0 0 0 362.3,216.58 Z" fill="#ba2339"/>
<path d="M358.41,221.87 A101.7,101.7 0 0 1 357.54,221.39 L360.74,215.72 A95.2,95.2 0 0 0 361.55,216.18 Z" fill="#a4142b"/>
<path d="M357.62,221.43 A101.7,101.7 0 0 1 356.76,220.94 L360,215.3 A95.2,95.2 0 0 0 360.81,215.76 Z" fill="#7b0319"/>
<path d="M356.83,220.98 A101.7,101.7 0 0 1 355.97,220.48 L359.27,214.88 A95.2,95.2 0 0 0 360.07,215.34 Z" fill="#700016"/>
<path d="M356.05,220.53 A101.7,101.7 0 0 1 355.19,220.02 L358.54,214.44 A95.2,95.2 0 0 0 359.34,214.92 Z" fill="#700016"/>
<path d="M355.27,220.06 A101.7,101.7 0 0 1 354.42,219.55 L357.81,214 A95.2,95.2 0 0 0 358.61,214.49 Z" fill="#700016"/>
<path d="M354.49,219.59 A101.7,101.7 0 0 1 353.65,219.07 L357.09,213.56 A95.2,95.2 0 0 0 357.88,214.05 Z" fill="#80041b"/>
<path d="M353.72,219.12 A101.7,101.7 0 0 1 352.88,218.59 L356.37,213.11 A95.2,95.2 0 0 0 357.16,213.6 Z" fill="#a3132a"/>
<path d="M352.96,218.64 A101.7,101.7 0 0 1 352.19,218.15 L355.73,212.69 A95.2,95.2 0 0 0 356.44,213.15 Z" fill="#a01128"/>
<text x="359.2" y="245.27" font-family="Liberation Serif, Times New Roman, serif" font-size="6" fill="#1a1a1a" stroke="#1a1a1a" stroke-width="0.07" text-anchor="middle" transform="rotate(23.24 359.2 245.27)">Chr06</text>
<path d="M343.68,227.62 A114.3,114.3 0 0 1 316.24,201.62" fill="none" stroke="#888" stroke-width="0.6"/>
<line x1="343.68" y1="227.62" x2="342.78" y2="228.95" stroke="#888" stroke-width="0.4"/>
<text x="342.56" y="229.28" font-family="Liberation Serif, Times New Roman, serif" font-size="2.2" fill="#777" text-anchor="middle" transform="rotate(33.94 342.56 229.28)">0</text>
<line x1="339.39" y1="224.59" x2="338.92" y2="225.24" stroke="#888" stroke-width="0.4"/>
<line x1="335.26" y1="221.37" x2="334.24" y2="222.61" stroke="#888" stroke-width="0.4"/>
<line x1="331.27" y1="217.97" x2="330.73" y2="218.56" stroke="#888" stroke-width="0.4"/>
<line x1="327.44" y1="214.38" x2="326.32" y2="215.52" stroke="#888" stroke-width="0.4"/>
<text x="326.04" y="215.81" font-family="Liberation Serif, Times New Roman, serif" font-size="2.2" fill="#777" text-anchor="middle" transform="rotate(44.46 326.04 215.81)">20</text>
<line x1="323.78" y1="210.62" x2="323.2" y2="211.17" stroke="#888" stroke-width="0.4"/>
<line x1="320.3" y1="206.7" x2="319.08" y2="207.73" stroke="#888" stroke-width="0.4"/>
<line x1="317" y1="202.62" x2="316.37" y2="203.11" stroke="#888" stroke-width="0.4"/>
<path d="M344.91,225.8 A112.1,112.1 0 0 1 318,200.3 L322.95,196.56 A105.9,105.9 0 0 0 348.37,220.65 Z" fill="#fccd7e"/>
<path d="M350.71,217.17 A101.7,101.7 0 0 1 349.9,216.62 L353.59,211.26 A95.2,95.2 0 0 0 354.34,211.78 Z" fill="#e57c87"/>
<path d="M349.98,216.67 A101.7,101.7 0 0 1 349.17,216.11 L352.9,210.79 A95.2,95.2 0 0 0 353.65,211.31 Z" fill="#ed9ca5"/>
<path d="M349.25,216.16 A101.7,101.7 0 0 1 348.45,215.6 L352.22,210.31 A95.2,95.2 0 0 0 352.97,210.83 Z" fill="#eb919b"/>
<path d="M348.52,215.65 A101.7,101.7 0 0 1 347.73,215.08 L351.55,209.82 A95.2,95.2 0 0 0 352.29,210.36 Z" fill="#e16d79"/>
<path d="M347.8,215.13 A101.7,101.7 0 0 1 347.01,214.55 L350.87,209.33 A95.2,95.2 0 0 0 351.61,209.87 Z" fill="#e26e7a"/>
<path d="M347.08,214.61 A101.7,101.7 0 0 1 346.3,214.02 L350.21,208.83 A95.2,95.2 0 0 0 350.94,209.38 Z" fill="#e98c96"/>
<path d="M346.37,214.08 A101.7,101.7 0 0 1 345.59,213.48 L349.55,208.33 A95.2,95.2 0 0 0 350.27,208.88 Z" fill="#d35262"/>
<path d="M345.66,213.54 A101.7,101.7 0 0 1 344.89,212.94 L348.89,207.82 A95.2,95.2 0 0 0 349.61,208.38 Z" fill="#ba2439"/>
<path d="M344.96,212.99 A101.7,101.7 0 0 1 344.19,212.39 L348.23,207.3 A95.2,95.2 0 0 0 348.95,207.87 Z" fill="#d35261"/>
<path d="M344.26,212.44 A101.7,101.7 0 0 1 343.49,211.83 L347.58,206.78 A95.2,95.2 0 0 0 348.3,207.35 Z" fill="#f0a6ae"/>
<path d="M343.56,211.89 A101.7,101.7 0 0 1 342.81,211.27 L346.94,206.25 A95.2,95.2 0 0 0 347.65,206.83 Z" fill="#f9d0d5"/>
<path d="M342.87,211.33 A101.7,101.7 0 0 1 342.12,210.7 L346.3,205.72 A95.2,95.2 0 0 0 347,206.31 Z" fill="#e67f8a"/>
<path d="M342.19,210.76 A101.7,101.7 0 0 1 341.44,210.13 L345.66,205.18 A95.2,95.2 0 0 0 346.36,205.78 Z" fill="#f6c1c8"/>
<path d="M341.51,210.18 A101.7,101.7 0 0 1 340.77,209.55 L345.03,204.64 A95.2,95.2 0 0 0 345.73,205.24 Z" fill="#e67d88"/>
<path d="M340.84,209.6 A101.7,101.7 0 0 1 340.1,208.96 L344.41,204.09 A95.2,95.2 0 0 0 345.1,204.7 Z" fill="#e06b77"/>
<path d="M340.17,209.02 A101.7,101.7 0 0 1 339.44,208.37 L343.79,203.54 A95.2,95.2 0 0 0 344.47,204.15 Z" fill="#e88590"/>
<path d="M339.5,208.43 A101.7,101.7 0 0 1 338.78,207.77 L343.17,202.98 A95.2,95.2 0 0 0 343.85,203.59 Z" fill="#d04d5d"/>
<path d="M338.85,207.83 A101.7,101.7 0 0 1 338.13,207.17 L342.56,202.41 A95.2,95.2 0 0 0 343.23,203.03 Z" fill="#ec99a2"/>
<path d="M338.19,207.23 A101.7,101.7 0 0 1 337.48,206.56 L341.95,201.84 A95.2,95.2 0 0 0 342.62,202.47 Z" fill="#f2b1b9"/>
<path d="M337.54,206.62 A101.7,101.7 0 0 1 336.84,205.94 L341.35,201.27 A95.2,95.2 0 0 0 342.01,201.9 Z" fill="#e88791"/>
<path d="M336.9,206 A101.7,101.7 0 0 1 336.2,205.32 L340.76,200.69 A95.2,95.2 0 0 0 341.41,201.32 Z" fill="#f0a8b0"/>
<path d="M336.26,205.38 A101.7,101.7 0 0 1 335.57,204.69 L340.17,200.1 A95.2,95.2 0 0 0 340.82,200.74 Z" fill="#c94052"/>
<path d="M335.63,204.76 A101.7,101.7 0 0 1 334.94,204.06 L339.58,199.51 A95.2,95.2 0 0 0 340.23,200.16 Z" fill="#d45363"/>
<path d="M335.01,204.13 A101.7,101.7 0 0 1 334.32,203.43 L339,198.91 A95.2,95.2 0 0 0 339.64,199.57 Z" fill="#dd6572"/>
<path d="M334.38,203.49 A101.7,101.7 0 0 1 333.71,202.78 L338.42,198.31 A95.2,95.2 0 0 0 339.06,198.97 Z" fill="#e47782"/>
<path d="M333.77,202.85 A101.7,101.7 0 0 1 333.1,202.14 L337.85,197.7 A95.2,95.2 0 0 0 338.48,198.37 Z" fill="#be2c40"/>
<path d="M333.16,202.2 A101.7,101.7 0 0 1 332.5,201.48 L337.29,197.09 A95.2,95.2 0 0 0 337.91,197.77 Z" fill="#b11c32"/>
<path d="M332.56,201.55 A101.7,101.7 0 0 1 331.9,200.82 L336.73,196.48 A95.2,95.2 0 0 0 337.35,197.15 Z" fill="#9c0e26"/>
<path d="M331.96,200.89 A101.7,101.7 0 0 1 331.31,200.16 L336.18,195.86 A95.2,95.2 0 0 0 336.79,196.54 Z" fill="#8f071f"/>
<path d="M331.37,200.23 A101.7,101.7 0 0 1 330.72,199.49 L335.63,195.23 A95.2,95.2 0 0 0 336.23,195.92 Z" fill="#7c0319"/>
<path d="M330.78,199.56 A101.7,101.7 0 0 1 330.14,198.82 L335.08,194.6 A95.2,95.2 0 0 0 335.68,195.29 Z" fill="#700016"/>
<path d="M330.2,198.89 A101.7,101.7 0 0 1 329.57,198.14 L334.55,193.96 A95.2,95.2 0 0 0 335.14,194.66 Z" fill="#700016"/>
<path d="M329.62,198.21 A101.7,101.7 0 0 1 329,197.46 L334.02,193.32 A95.2,95.2 0 0 0 334.6,194.03 Z" fill="#980c23"/>
<path d="M329.05,197.52 A101.7,101.7 0 0 1 328.44,196.77 L333.49,192.68 A95.2,95.2 0 0 0 334.07,193.39 Z" fill="#990c24"/>
<path d="M328.49,196.84 A101.7,101.7 0 0 1 327.88,196.07 L332.97,192.03 A95.2,95.2 0 0 0 333.54,192.74 Z" fill="#b31d33"/>
<path d="M327.93,196.14 A101.7,101.7 0 0 1 327.33,195.37 L332.45,191.38 A95.2,95.2 0 0 0 333.02,192.09 Z" fill="#cb4354"/>
<path d="M327.38,195.44 A101.7,101.7 0 0 1 326.79,194.67 L331.94,190.72 A95.2,95.2 0 0 0 332.5,191.44 Z" fill="#b61f35"/>
<path d="M326.84,194.74 A101.7,101.7 0 0 1 326.3,194.03 L331.49,190.12 A95.2,95.2 0 0 0 331.99,190.78 Z" fill="#930921"/>
<text x="323.3" y="221.64" font-family="Liberation Serif, Times New Roman, serif" font-size="6" fill="#1a1a1a" stroke="#1a1a1a" stroke-width="0.07" text-anchor="middle" transform="rotate(43.46 323.3 221.64)">Chr07</text>
<path d="M315.05,200.02 A114.3,114.3 0 0 1 299.83,171.17" fill="none" stroke="#888" stroke-width="0.6"/>
<line x1="315.05" y1="200.02" x2="313.76" y2="200.96" stroke="#888" stroke-width="0.4"/>
<text x="313.44" y="201.19" font-family="Liberation Serif, Times New Roman, serif" font-size="2.2" fill="#777" text-anchor="middle" transform="rotate(53.98 313.44 201.19)">0</text>
<line x1="312.07" y1="195.71" x2="311.4" y2="196.15" stroke="#888" stroke-width="0.4"/>
<line x1="309.28" y1="191.26" x2="307.91" y2="192.08" stroke="#888" stroke-width="0.4"/>
<line x1="306.7" y1="186.7" x2="306" y2="187.07" stroke="#888" stroke-width="0.4"/>
<line x1="304.34" y1="182.02" x2="302.89" y2="182.7" stroke="#888" stroke-width="0.4"/>
<text x="302.53" y="182.88" font-family="Liberation Serif, Times New Roman, serif" font-size="2.2" fill="#777" text-anchor="middle" transform="rotate(64.5 302.53 182.88)">20</text>
<line x1="302.19" y1="177.23" x2="301.45" y2="177.54" stroke="#888" stroke-width="0.4"/>
<line x1="300.26" y1="172.35" x2="298.76" y2="172.91" stroke="#888" stroke-width="0.4"/>
<path d="M316.83,198.72 A112.1,112.1 0 0 1 301.91,170.43 L307.75,168.35 A105.9,105.9 0 0 0 321.85,195.08 Z" fill="#fee090"/>
<path d="M325.24,192.61 A101.7,101.7 0 0 1 324.66,191.8 L329.96,188.03 A95.2,95.2 0 0 0 330.5,188.79 Z" fill="#e47681"/>
<path d="M324.71,191.87 A101.7,101.7 0 0 1 324.14,191.05 L329.46,187.33 A95.2,95.2 0 0 0 330,188.09 Z" fill="#e98994"/>
<path d="M324.19,191.13 A101.7,101.7 0 0 1 323.62,190.31 L328.98,186.63 A95.2,95.2 0 0 0 329.51,187.4 Z" fill="#e98c96"/>
<path d="M323.67,190.38 A101.7,101.7 0 0 1 323.11,189.55 L328.5,185.93 A95.2,95.2 0 0 0 329.03,186.7 Z" fill="#d95e6c"/>
<path d="M323.16,189.63 A101.7,101.7 0 0 1 322.6,188.79 L328.03,185.22 A95.2,95.2 0 0 0 328.55,185.99 Z" fill="#db606e"/>
<path d="M322.65,188.87 A101.7,101.7 0 0 1 322.11,188.03 L327.56,184.5 A95.2,95.2 0 0 0 328.08,185.29 Z" fill="#d65867"/>
<path d="M322.15,188.11 A101.7,101.7 0 0 1 321.61,187.27 L327.1,183.79 A95.2,95.2 0 0 0 327.61,184.57 Z" fill="#cb4455"/>
<path d="M321.66,187.34 A101.7,101.7 0 0 1 321.13,186.5 L326.65,183.06 A95.2,95.2 0 0 0 327.15,183.86 Z" fill="#e16b78"/>
<path d="M321.18,186.57 A101.7,101.7 0 0 1 320.65,185.72 L326.2,182.34 A95.2,95.2 0 0 0 326.69,183.13 Z" fill="#d14f5f"/>
<path d="M320.7,185.8 A101.7,101.7 0 0 1 320.18,184.94 L325.76,181.61 A95.2,95.2 0 0 0 326.25,182.41 Z" fill="#c23346"/>
<path d="M320.23,185.02 A101.7,101.7 0 0 1 319.72,184.16 L325.33,180.88 A95.2,95.2 0 0 0 325.81,181.68 Z" fill="#e98c96"/>
<path d="M319.77,184.24 A101.7,101.7 0 0 1 319.26,183.37 L324.9,180.14 A95.2,95.2 0 0 0 325.37,180.95 Z" fill="#cb4355"/>
<path d="M319.31,183.45 A101.7,101.7 0 0 1 318.82,182.58 L324.48,179.4 A95.2,95.2 0 0 0 324.95,180.21 Z" fill="#c43649"/>
<path d="M318.86,182.66 A101.7,101.7 0 0 1 318.37,181.78 L324.07,178.65 A95.2,95.2 0 0 0 324.52,179.47 Z" fill="#e67d88"/>
<path d="M318.42,181.86 A101.7,101.7 0 0 1 317.94,180.98 L323.66,177.9 A95.2,95.2 0 0 0 324.11,178.73 Z" fill="#e47480"/>
<path d="M317.98,181.06 A101.7,101.7 0 0 1 317.51,180.18 L323.26,177.15 A95.2,95.2 0 0 0 323.7,177.98 Z" fill="#d55665"/>
<path d="M317.55,180.26 A101.7,101.7 0 0 1 317.09,179.37 L322.87,176.4 A95.2,95.2 0 0 0 323.3,177.23 Z" fill="#b51e34"/>
<path d="M317.13,179.45 A101.7,101.7 0 0 1 316.68,178.56 L322.48,175.64 A95.2,95.2 0 0 0 322.91,176.47 Z" fill="#c83d4f"/>
<path d="M316.72,178.64 A101.7,101.7 0 0 1 316.27,177.75 L322.1,174.88 A95.2,95.2 0 0 0 322.52,175.71 Z" fill="#c23245"/>
<path d="M316.31,177.83 A101.7,101.7 0 0 1 315.87,176.93 L321.73,174.11 A95.2,95.2 0 0 0 322.14,174.95 Z" fill="#a21229"/>
<path d="M315.91,177.01 A101.7,101.7 0 0 1 315.48,176.11 L321.36,173.34 A95.2,95.2 0 0 0 321.77,174.18 Z" fill="#940921"/>
<path d="M315.52,176.19 A101.7,101.7 0 0 1 315.1,175.28 L321,172.57 A95.2,95.2 0 0 0 321.4,173.42 Z" fill="#7f041b"/>
<path d="M315.14,175.36 A101.7,101.7 0 0 1 314.72,174.46 L320.65,171.79 A95.2,95.2 0 0 0 321.04,172.64 Z" fill="#970b23"/>
<path d="M314.76,174.54 A101.7,101.7 0 0 1 314.35,173.62 L320.31,171.01 A95.2,95.2 0 0 0 320.69,171.87 Z" fill="#950a22"/>
<path d="M314.39,173.7 A101.7,101.7 0 0 1 313.99,172.79 L319.97,170.23 A95.2,95.2 0 0 0 320.34,171.09 Z" fill="#b82036"/>
<path d="M314.03,172.87 A101.7,101.7 0 0 1 313.64,171.95 L319.64,169.45 A95.2,95.2 0 0 0 320,170.31 Z" fill="#9d0f27"/>
<path d="M313.67,172.03 A101.7,101.7 0 0 1 313.29,171.11 L319.31,168.66 A95.2,95.2 0 0 0 319.67,169.52 Z" fill="#86051c"/>
<path d="M313.32,171.19 A101.7,101.7 0 0 1 312.95,170.26 L318.99,167.87 A95.2,95.2 0 0 0 319.34,168.74 Z" fill="#86051c"/>
<path d="M312.98,170.35 A101.7,101.7 0 0 1 312.62,169.42 L318.68,167.08 A95.2,95.2 0 0 0 319.03,167.95 Z" fill="#7e031a"/>
<path d="M312.65,169.5 A101.7,101.7 0 0 1 312.3,168.57 L318.38,166.28 A95.2,95.2 0 0 0 318.71,167.15 Z" fill="#a11129"/>
<path d="M312.33,168.65 A101.7,101.7 0 0 1 311.98,167.71 L318.09,165.48 A95.2,95.2 0 0 0 318.41,166.36 Z" fill="#7b0319"/>
<path d="M312.01,167.8 A101.7,101.7 0 0 1 311.7,166.94 L317.82,164.76 A95.2,95.2 0 0 0 318.11,165.56 Z" fill="#700016"/>
<text x="299.25" y="189.92" font-family="Liberation Serif, Times New Roman, serif" font-size="6" fill="#1a1a1a" stroke="#1a1a1a" stroke-width="0.07" text-anchor="middle" transform="rotate(62.18 299.25 189.92)">Chr08</text>
<path d="M299.18,169.29 A114.3,114.3 0 0 1 293.21,131.02" fill="none" stroke="#888" stroke-width="0.6"/>
<line x1="299.18" y1="169.29" x2="297.66" y2="169.8" stroke="#888" stroke-width="0.4"/>
<text x="297.28" y="169.92" font-family="Liberation Serif, Times New Roman, serif" font-size="2.2" fill="#777" text-anchor="middle" transform="rotate(71.39 297.28 169.92)">0</text>
<line x1="297.62" y1="164.28" x2="296.85" y2="164.5" stroke="#888" stroke-width="0.4"/>
<line x1="296.29" y1="159.2" x2="294.73" y2="159.57" stroke="#888" stroke-width="0.4"/>
<line x1="295.2" y1="154.08" x2="294.41" y2="154.22" stroke="#888" stroke-width="0.4"/>
<line x1="294.34" y1="148.9" x2="292.76" y2="149.13" stroke="#888" stroke-width="0.4"/>
<text x="292.36" y="149.18" font-family="Liberation Serif, Times New Roman, serif" font-size="2.2" fill="#777" text-anchor="middle" transform="rotate(81.9 292.36 149.18)">20</text>
<line x1="293.72" y1="143.69" x2="292.92" y2="143.77" stroke="#888" stroke-width="0.4"/>
<line x1="293.34" y1="138.46" x2="291.74" y2="138.54" stroke="#888" stroke-width="0.4"/>
<line x1="293.2" y1="133.22" x2="292.4" y2="133.22" stroke="#888" stroke-width="0.4"/>
<path d="M301.26,168.58 A112.1,112.1 0 0 1 295.41,131.05 L301.61,131.15 A105.9,105.9 0 0 0 307.14,166.6 Z" fill="#fefcb8"/>
<path d="M311.12,165.26 A101.7,101.7 0 0 1 310.81,164.34 L316.99,162.32 A95.2,95.2 0 0 0 317.28,163.19 Z" fill="#700016"/>
<path d="M310.84,164.42 A101.7,101.7 0 0 1 310.54,163.49 L316.74,161.53 A95.2,95.2 0 0 0 317.02,162.4 Z" fill="#7e031a"/>
<path d="M310.57,163.58 A101.7,101.7 0 0 1 310.28,162.64 L316.49,160.74 A95.2,95.2 0 0 0 316.76,161.61 Z" fill="#740117"/>
<path d="M310.3,162.73 A101.7,101.7 0 0 1 310.02,161.79 L316.25,159.94 A95.2,95.2 0 0 0 316.52,160.82 Z" fill="#930921"/>
<path d="M310.05,161.88 A101.7,101.7 0 0 1 309.77,160.94 L316.02,159.14 A95.2,95.2 0 0 0 316.27,160.02 Z" fill="#780218"/>
<path d="M309.8,161.03 A101.7,101.7 0 0 1 309.53,160.09 L315.79,158.34 A95.2,95.2 0 0 0 316.04,159.22 Z" fill="#700016"/>
<path d="M309.55,160.17 A101.7,101.7 0 0 1 309.29,159.23 L315.57,157.54 A95.2,95.2 0 0 0 315.81,158.42 Z" fill="#910820"/>
<path d="M309.32,159.32 A101.7,101.7 0 0 1 309.07,158.37 L315.36,156.74 A95.2,95.2 0 0 0 315.59,157.62 Z" fill="#bd293e"/>
<path d="M309.09,158.46 A101.7,101.7 0 0 1 308.85,157.51 L315.15,155.93 A95.2,95.2 0 0 0 315.38,156.82 Z" fill="#b82137"/>
<path d="M308.87,157.6 A101.7,101.7 0 0 1 308.64,156.65 L314.95,155.13 A95.2,95.2 0 0 0 315.17,156.01 Z" fill="#ad1930"/>
<path d="M308.66,156.74 A101.7,101.7 0 0 1 308.43,155.79 L314.76,154.32 A95.2,95.2 0 0 0 314.97,155.21 Z" fill="#950a22"/>
<path d="M308.45,155.87 A101.7,101.7 0 0 1 308.23,154.92 L314.58,153.51 A95.2,95.2 0 0 0 314.78,154.4 Z" fill="#a11229"/>
<path d="M308.25,155.01 A101.7,101.7 0 0 1 308.05,154.05 L314.4,152.69 A95.2,95.2 0 0 0 314.6,153.59 Z" fill="#cd4859"/>
<path d="M308.06,154.14 A101.7,101.7 0 0 1 307.86,153.18 L314.23,151.88 A95.2,95.2 0 0 0 314.42,152.78 Z" fill="#ab182f"/>
<path d="M307.88,153.27 A101.7,101.7 0 0 1 307.69,152.31 L314.07,151.07 A95.2,95.2 0 0 0 314.25,151.96 Z" fill="#d25161"/>
<path d="M307.71,152.4 A101.7,101.7 0 0 1 307.52,151.44 L313.91,150.25 A95.2,95.2 0 0 0 314.08,151.15 Z" fill="#b31d33"/>
<path d="M307.54,151.53 A101.7,101.7 0 0 1 307.36,150.57 L313.76,149.43 A95.2,95.2 0 0 0 313.93,150.33 Z" fill="#d14e5e"/>
<path d="M307.38,150.65 A101.7,101.7 0 0 1 307.21,149.69 L313.62,148.61 A95.2,95.2 0 0 0 313.78,149.51 Z" fill="#d75a68"/>
<path d="M307.23,149.78 A101.7,101.7 0 0 1 307.07,148.82 L313.49,147.79 A95.2,95.2 0 0 0 313.64,148.69 Z" fill="#bb263c"/>
<path d="M307.08,148.9 A101.7,101.7 0 0 1 306.93,147.94 L313.36,146.97 A95.2,95.2 0 0 0 313.5,147.87 Z" fill="#dc6370"/>
<path d="M306.95,148.03 A101.7,101.7 0 0 1 306.8,147.06 L313.24,146.15 A95.2,95.2 0 0 0 313.37,147.05 Z" fill="#e98993"/>
<path d="M306.82,147.15 A101.7,101.7 0 0 1 306.68,146.18 L313.13,145.33 A95.2,95.2 0 0 0 313.25,146.23 Z" fill="#e16b78"/>
<path d="M306.7,146.27 A101.7,101.7 0 0 1 306.57,145.3 L313.02,144.5 A95.2,95.2 0 0 0 313.14,145.41 Z" fill="#d35261"/>
<path d="M306.58,145.39 A101.7,101.7 0 0 1 306.47,144.42 L312.92,143.68 A95.2,95.2 0 0 0 313.03,144.58 Z" fill="#c83d50"/>
<path d="M306.48,144.51 A101.7,101.7 0 0 1 306.37,143.54 L312.83,142.85 A95.2,95.2 0 0 0 312.93,143.76 Z" fill="#d14f5f"/>
<path d="M306.38,143.62 A101.7,101.7 0 0 1 306.28,142.65 L312.75,142.02 A95.2,95.2 0 0 0 312.84,142.93 Z" fill="#c94052"/>
<path d="M306.29,142.74 A101.7,101.7 0 0 1 306.2,141.77 L312.67,141.2 A95.2,95.2 0 0 0 312.76,142.11 Z" fill="#e67f8a"/>
<path d="M306.2,141.86 A101.7,101.7 0 0 1 306.12,140.88 L312.6,140.37 A95.2,95.2 0 0 0 312.68,141.28 Z" fill="#e06a77"/>
<path d="M306.13,140.97 A101.7,101.7 0 0 1 306.06,140 L312.54,139.54 A95.2,95.2 0 0 0 312.61,140.45 Z" fill="#fad5d9"/>
<path d="M306.06,140.09 A101.7,101.7 0 0 1 306,139.11 L312.48,138.71 A95.2,95.2 0 0 0 312.54,139.62 Z" fill="#fce1e4"/>
<path d="M306,139.2 A101.7,101.7 0 0 1 305.94,138.23 L312.44,137.88 A95.2,95.2 0 0 0 312.49,138.79 Z" fill="#ec98a1"/>
<path d="M305.95,138.31 A101.7,101.7 0 0 1 305.9,137.34 L312.39,137.05 A95.2,95.2 0 0 0 312.44,137.96 Z" fill="#e16c78"/>
<path d="M305.91,137.43 A101.7,101.7 0 0 1 305.87,136.45 L312.36,136.22 A95.2,95.2 0 0 0 312.4,137.13 Z" fill="#c5374a"/>
<path d="M305.87,136.54 A101.7,101.7 0 0 1 305.84,135.56 L312.34,135.39 A95.2,95.2 0 0 0 312.36,136.3 Z" fill="#ba2439"/>
<path d="M305.84,135.65 A101.7,101.7 0 0 1 305.82,134.68 L312.32,134.56 A95.2,95.2 0 0 0 312.34,135.47 Z" fill="#bc273c"/>
<path d="M305.82,134.77 A101.7,101.7 0 0 1 305.8,133.79 L312.3,133.73 A95.2,95.2 0 0 0 312.32,134.64 Z" fill="#a01128"/>
<path d="M305.81,133.88 A101.7,101.7 0 0 1 305.8,132.9 L312.3,132.89 A95.2,95.2 0 0 0 312.31,133.81 Z" fill="#a8162c"/>
<path d="M305.8,132.99 A101.7,101.7 0 0 1 305.8,132.01 L312.3,132.06 A95.2,95.2 0 0 0 312.3,132.98 Z" fill="#be2c40"/>
<path d="M305.8,132.1 A101.7,101.7 0 0 1 305.81,131.21 L312.31,131.32 A95.2,95.2 0 0 0 312.3,132.15 Z" fill="#c33548"/>
<text x="286.56" y="151.65" font-family="Liberation Serif, Times New Roman, serif" font-size="6" fill="#1a1a1a" stroke="#1a1a1a" stroke-width="0.07" text-anchor="middle" transform="rotate(81.14 286.56 151.65)">Chr09</text>
<path d="M293.26,129.02 A114.3,114.3 0 0 1 302.89,86.73" fill="none" stroke="#888" stroke-width="0.6"/>
<line x1="293.26" y1="129.02" x2="291.66" y2="128.97" stroke="#888" stroke-width="0.4"/>
<text x="291.26" y="128.96" font-family="Liberation Serif, Times New Roman, serif" font-size="2.2" fill="#777" text-anchor="middle" transform="rotate(271.89 291.26 128.96)">0</text>
<line x1="293.56" y1="123.79" x2="292.76" y2="123.72" stroke="#888" stroke-width="0.4"/>
<line x1="294.09" y1="118.57" x2="292.5" y2="118.37" stroke="#888" stroke-width="0.4"/>
<line x1="294.86" y1="113.38" x2="294.07" y2="113.25" stroke="#888" stroke-width="0.4"/>
<line x1="295.87" y1="108.24" x2="294.31" y2="107.89" stroke="#888" stroke-width="0.4"/>
<text x="293.92" y="107.81" font-family="Liberation Serif, Times New Roman, serif" font-size="2.2" fill="#777" text-anchor="middle" transform="rotate(282.41 293.92 107.81)">20</text>
<line x1="297.11" y1="103.14" x2="296.34" y2="102.93" stroke="#888" stroke-width="0.4"/>
<line x1="298.59" y1="98.11" x2="297.07" y2="97.62" stroke="#888" stroke-width="0.4"/>
<line x1="300.3" y1="93.15" x2="299.55" y2="92.87" stroke="#888" stroke-width="0.4"/>
<line x1="302.23" y1="88.27" x2="300.76" y2="87.65" stroke="#888" stroke-width="0.4"/>
<text x="300.39" y="87.49" font-family="Liberation Serif, Times New Roman, serif" font-size="2.2" fill="#777" text-anchor="middle" transform="rotate(292.93 300.39 87.49)">40</text>
<path d="M295.46,129.1 A112.1,112.1 0 0 1 304.91,87.62 L310.58,90.12 A105.9,105.9 0 0 0 301.66,129.3 Z" fill="#dcefd4"/>
<path d="M305.86,129.44 A101.7,101.7 0 0 1 305.89,128.45 L312.39,128.73 A95.2,95.2 0 0 0 312.35,129.65 Z" fill="#b51e34"/>
<path d="M305.89,128.54 A101.7,101.7 0 0 1 305.94,127.55 L312.43,127.88 A95.2,95.2 0 0 0 312.38,128.81 Z" fill="#a11229"/>
<path d="M305.93,127.64 A101.7,101.7 0 0 1 305.99,126.65 L312.47,127.04 A95.2,95.2 0 0 0 312.42,127.97 Z" fill="#cf4a5b"/>
<path d="M305.98,126.73 A101.7,101.7 0 0 1 306.05,125.74 L312.53,126.2 A95.2,95.2 0 0 0 312.47,127.12 Z" fill="#b82137"/>
<path d="M306.04,125.83 A101.7,101.7 0 0 1 306.11,124.84 L312.59,125.35 A95.2,95.2 0 0 0 312.52,126.28 Z" fill="#a01128"/>
<path d="M306.1,124.93 A101.7,101.7 0 0 1 306.19,123.94 L312.66,124.51 A95.2,95.2 0 0 0 312.59,125.44 Z" fill="#ba2339"/>
<path d="M306.18,124.03 A101.7,101.7 0 0 1 306.27,123.04 L312.74,123.67 A95.2,95.2 0 0 0 312.65,124.59 Z" fill="#c33448"/>
<path d="M306.26,123.13 A101.7,101.7 0 0 1 306.36,122.15 L312.82,122.83 A95.2,95.2 0 0 0 312.73,123.75 Z" fill="#e3717c"/>
<path d="M306.35,122.23 A101.7,101.7 0 0 1 306.46,121.25 L312.92,121.99 A95.2,95.2 0 0 0 312.82,122.91 Z" fill="#de6673"/>
<path d="M306.45,121.34 A101.7,101.7 0 0 1 306.56,120.35 L313.02,121.15 A95.2,95.2 0 0 0 312.91,122.07 Z" fill="#de6673"/>
<path d="M306.55,120.44 A101.7,101.7 0 0 1 306.68,119.46 L313.12,120.31 A95.2,95.2 0 0 0 313.01,121.23 Z" fill="#d75a69"/>
<path d="M306.67,119.54 A101.7,101.7 0 0 1 306.8,118.56 L313.24,119.47 A95.2,95.2 0 0 0 313.11,120.39 Z" fill="#f1a9b1"/>
<path d="M306.79,118.65 A101.7,101.7 0 0 1 306.93,117.67 L313.36,118.64 A95.2,95.2 0 0 0 313.23,119.55 Z" fill="#d04d5d"/>
<path d="M306.92,117.76 A101.7,101.7 0 0 1 307.07,116.78 L313.49,117.8 A95.2,95.2 0 0 0 313.35,118.72 Z" fill="#d75968"/>
<path d="M307.06,116.86 A101.7,101.7 0 0 1 307.22,115.88 L313.63,116.97 A95.2,95.2 0 0 0 313.48,117.88 Z" fill="#e16d79"/>
<path d="M307.2,115.97 A101.7,101.7 0 0 1 307.37,115 L313.77,116.13 A95.2,95.2 0 0 0 313.61,117.05 Z" fill="#ca4253"/>
<path d="M307.36,115.08 A101.7,101.7 0 0 1 307.53,114.11 L313.92,115.3 A95.2,95.2 0 0 0 313.76,116.21 Z" fill="#ce4859"/>
<path d="M307.52,114.19 A101.7,101.7 0 0 1 307.7,113.22 L314.08,114.47 A95.2,95.2 0 0 0 313.91,115.38 Z" fill="#d45564"/>
<path d="M307.69,113.31 A101.7,101.7 0 0 1 307.88,112.33 L314.25,113.64 A95.2,95.2 0 0 0 314.07,114.55 Z" fill="#c94052"/>
<path d="M307.86,112.42 A101.7,101.7 0 0 1 308.07,111.45 L314.42,112.82 A95.2,95.2 0 0 0 314.23,113.72 Z" fill="#e98a94"/>
<path d="M308.05,111.54 A101.7,101.7 0 0 1 308.26,110.57 L314.6,111.99 A95.2,95.2 0 0 0 314.4,112.9 Z" fill="#e26d79"/>
<path d="M308.24,110.66 A101.7,101.7 0 0 1 308.46,109.69 L314.79,111.17 A95.2,95.2 0 0 0 314.58,112.07 Z" fill="#e26f7b"/>
<path d="M308.44,109.78 A101.7,101.7 0 0 1 308.67,108.81 L314.99,110.34 A95.2,95.2 0 0 0 314.77,111.25 Z" fill="#b71f35"/>
<path d="M308.65,108.9 A101.7,101.7 0 0 1 308.89,107.93 L315.19,109.52 A95.2,95.2 0 0 0 314.97,110.42 Z" fill="#990d24"/>
<path d="M308.87,108.02 A101.7,101.7 0 0 1 309.11,107.06 L315.4,108.7 A95.2,95.2 0 0 0 315.17,109.6 Z" fill="#bd293e"/>
<path d="M309.09,107.15 A101.7,101.7 0 0 1 309.34,106.19 L315.62,107.89 A95.2,95.2 0 0 0 315.38,108.78 Z" fill="#bc283d"/>
<path d="M309.32,106.27 A101.7,101.7 0 0 1 309.58,105.32 L315.84,107.07 A95.2,95.2 0 0 0 315.6,107.97 Z" fill="#d25160"/>
<path d="M309.56,105.4 A101.7,101.7 0 0 1 309.83,104.45 L316.07,106.26 A95.2,95.2 0 0 0 315.82,107.15 Z" fill="#c5394c"/>
<path d="M309.81,104.53 A101.7,101.7 0 0 1 310.09,103.58 L316.31,105.45 A95.2,95.2 0 0 0 316.05,106.34 Z" fill="#9c0e26"/>
<path d="M310.06,103.67 A101.7,101.7 0 0 1 310.35,102.72 L316.56,104.64 A95.2,95.2 0 0 0 316.29,105.53 Z" fill="#7b0319"/>
<path d="M310.32,102.8 A101.7,101.7 0 0 1 310.62,101.86 L316.81,103.83 A95.2,95.2 0 0 0 316.54,104.72 Z" fill="#8a061e"/>
<path d="M310.59,101.94 A101.7,101.7 0 0 1 310.9,101 L317.07,103.03 A95.2,95.2 0 0 0 316.79,103.91 Z" fill="#a11229"/>
<path d="M310.87,101.08 A101.7,101.7 0 0 1 311.19,100.14 L317.34,102.23 A95.2,95.2 0 0 0 317.05,103.11 Z" fill="#b92237"/>
<path d="M311.16,100.23 A101.7,101.7 0 0 1 311.48,99.29 L317.62,101.43 A95.2,95.2 0 0 0 317.32,102.31 Z" fill="#a11129"/>
<path d="M311.45,99.37 A101.7,101.7 0 0 1 311.78,98.44 L317.9,100.63 A95.2,95.2 0 0 0 317.59,101.51 Z" fill="#7b0319"/>
<path d="M311.75,98.52 A101.7,101.7 0 0 1 312.09,97.59 L318.19,99.84 A95.2,95.2 0 0 0 317.87,100.71 Z" fill="#a7152c"/>
<path d="M312.06,97.67 A101.7,101.7 0 0 1 312.41,96.74 L318.48,99.05 A95.2,95.2 0 0 0 318.16,99.92 Z" fill="#89061d"/>
<path d="M312.38,96.83 A101.7,101.7 0 0 1 312.73,95.9 L318.79,98.26 A95.2,95.2 0 0 0 318.46,99.12 Z" fill="#b72036"/>
<path d="M312.7,95.98 A101.7,101.7 0 0 1 313.06,95.06 L319.1,97.47 A95.2,95.2 0 0 0 318.76,98.34 Z" fill="#c13044"/>
<path d="M313.03,95.14 A101.7,101.7 0 0 1 313.4,94.22 L319.41,96.69 A95.2,95.2 0 0 0 319.07,97.55 Z" fill="#c33448"/>
<path d="M313.37,94.3 A101.7,101.7 0 0 1 313.75,93.39 L319.74,95.91 A95.2,95.2 0 0 0 319.38,96.77 Z" fill="#9f1027"/>
<path d="M313.71,93.47 A101.7,101.7 0 0 1 314.1,92.56 L320.07,95.13 A95.2,95.2 0 0 0 319.71,95.98 Z" fill="#a8162d"/>
<path d="M314.07,92.64 A101.7,101.7 0 0 1 314.43,91.81 L320.37,94.43 A95.2,95.2 0 0 0 320.04,95.21 Z" fill="#aa172e"/>
<text x="292.06" y="106.51" font-family="Liberation Serif, Times New Roman, serif" font-size="6" fill="#1a1a1a" stroke="#1a1a1a" stroke-width="0.07" text-anchor="middle" transform="rotate(282.83 292.06 106.51)">Chr10</text>
<path d="M303.71,84.91 A114.3,114.3 0 0 1 329.49,49.26" fill="none" stroke="#888" stroke-width="0.6"/>
<line x1="303.71" y1="84.91" x2="302.26" y2="84.24" stroke="#888" stroke-width="0.4"/>
<text x="301.9" y="84.08" font-family="Liberation Serif, Times New Roman, serif" font-size="2.2" fill="#777" text-anchor="middle" transform="rotate(294.77 301.9 84.08)">0</text>
<line x1="306.02" y1="80.2" x2="305.31" y2="79.84" stroke="#888" stroke-width="0.4"/>
<line x1="308.54" y1="75.6" x2="307.15" y2="74.8" stroke="#888" stroke-width="0.4"/>
<line x1="311.27" y1="71.13" x2="310.59" y2="70.69" stroke="#888" stroke-width="0.4"/>
<line x1="314.2" y1="66.78" x2="312.89" y2="65.85" stroke="#888" stroke-width="0.4"/>
<text x="312.57" y="65.62" font-family="Liberation Serif, Times New Roman, serif" font-size="2.2" fill="#777" text-anchor="middle" transform="rotate(305.28 312.57 65.62)">20</text>
<line x1="317.32" y1="62.57" x2="316.69" y2="62.07" stroke="#888" stroke-width="0.4"/>
<line x1="320.64" y1="58.5" x2="319.43" y2="57.46" stroke="#888" stroke-width="0.4"/>
<line x1="324.14" y1="54.6" x2="323.56" y2="54.05" stroke="#888" stroke-width="0.4"/>
<line x1="327.82" y1="50.86" x2="326.7" y2="49.71" stroke="#888" stroke-width="0.4"/>
<text x="326.42" y="49.42" font-family="Liberation Serif, Times New Roman, serif" font-size="2.2" fill="#777" text-anchor="middle" transform="rotate(315.8 326.42 49.42)">40</text>
<path d="M305.71,85.84 A112.1,112.1 0 0 1 330.99,50.87 L335.22,55.4 A105.9,105.9 0 0 0 311.34,88.43 Z" fill="#b4dcea"/>
<path d="M315.16,90.19 A101.7,101.7 0 0 1 315.57,89.3 L321.45,92.08 A95.2,95.2 0 0 0 321.06,92.92 Z" fill="#970b23"/>
<path d="M315.53,89.38 A101.7,101.7 0 0 1 315.96,88.49 L321.81,91.33 A95.2,95.2 0 0 0 321.41,92.16 Z" fill="#c02f43"/>
<path d="M315.92,88.57 A101.7,101.7 0 0 1 316.35,87.69 L322.18,90.57 A95.2,95.2 0 0 0 321.77,91.4 Z" fill="#a5142b"/>
<path d="M316.31,87.77 A101.7,101.7 0 0 1 316.75,86.89 L322.55,89.82 A95.2,95.2 0 0 0 322.14,90.65 Z" fill="#c93f51"/>
<path d="M316.71,86.97 A101.7,101.7 0 0 1 317.16,86.09 L322.93,89.08 A95.2,95.2 0 0 0 322.51,89.9 Z" fill="#c02f43"/>
<path d="M317.12,86.17 A101.7,101.7 0 0 1 317.57,85.3 L323.32,88.34 A95.2,95.2 0 0 0 322.9,89.15 Z" fill="#d04c5c"/>
<path d="M317.53,85.38 A101.7,101.7 0 0 1 318,84.51 L323.72,87.6 A95.2,95.2 0 0 0 323.28,88.41 Z" fill="#de6673"/>
<path d="M317.95,84.59 A101.7,101.7 0 0 1 318.42,83.72 L324.12,86.86 A95.2,95.2 0 0 0 323.68,87.67 Z" fill="#cf4b5b"/>
<path d="M318.38,83.8 A101.7,101.7 0 0 1 318.86,82.94 L324.53,86.13 A95.2,95.2 0 0 0 324.08,86.93 Z" fill="#cf4c5c"/>
<path d="M318.82,83.02 A101.7,101.7 0 0 1 319.3,82.16 L324.94,85.4 A95.2,95.2 0 0 0 324.48,86.2 Z" fill="#d65867"/>
<path d="M319.26,82.24 A101.7,101.7 0 0 1 319.75,81.39 L325.36,84.67 A95.2,95.2 0 0 0 324.9,85.47 Z" fill="#da5f6d"/>
<path d="M319.71,81.47 A101.7,101.7 0 0 1 320.21,80.62 L325.79,83.95 A95.2,95.2 0 0 0 325.32,84.75 Z" fill="#d65766"/>
<path d="M320.16,80.69 A101.7,101.7 0 0 1 320.67,79.85 L326.22,83.24 A95.2,95.2 0 0 0 325.74,84.03 Z" fill="#e98c96"/>
<path d="M320.62,79.93 A101.7,101.7 0 0 1 321.14,79.09 L326.66,82.52 A95.2,95.2 0 0 0 326.18,83.31 Z" fill="#f0a9b1"/>
<path d="M321.09,79.17 A101.7,101.7 0 0 1 321.62,78.33 L327.1,81.81 A95.2,95.2 0 0 0 326.62,82.59 Z" fill="#e57c87"/>
<path d="M321.57,78.41 A101.7,101.7 0 0 1 322.1,77.58 L327.56,81.11 A95.2,95.2 0 0 0 327.06,81.88 Z" fill="#de6774"/>
<path d="M322.05,77.65 A101.7,101.7 0 0 1 322.59,76.83 L328.01,80.41 A95.2,95.2 0 0 0 327.51,81.18 Z" fill="#e2707c"/>
<path d="M322.54,76.9 A101.7,101.7 0 0 1 323.08,76.08 L328.48,79.71 A95.2,95.2 0 0 0 327.97,80.48 Z" fill="#d14e5e"/>
<path d="M323.03,76.16 A101.7,101.7 0 0 1 323.59,75.34 L328.95,79.01 A95.2,95.2 0 0 0 328.43,79.78 Z" fill="#da5f6d"/>
<path d="M323.54,75.42 A101.7,101.7 0 0 1 324.1,74.61 L329.43,78.33 A95.2,95.2 0 0 0 328.9,79.08 Z" fill="#cf4b5c"/>
<path d="M324.04,74.68 A101.7,101.7 0 0 1 324.61,73.87 L329.91,77.64 A95.2,95.2 0 0 0 329.38,78.39 Z" fill="#eb959e"/>
<path d="M324.56,73.95 A101.7,101.7 0 0 1 325.13,73.15 L330.4,76.96 A95.2,95.2 0 0 0 329.86,77.71 Z" fill="#e26e7a"/>
<path d="M325.08,73.22 A101.7,101.7 0 0 1 325.66,72.42 L330.89,76.28 A95.2,95.2 0 0 0 330.35,77.03 Z" fill="#d35161"/>
<path d="M325.61,72.5 A101.7,101.7 0 0 1 326.2,71.71 L331.39,75.61 A95.2,95.2 0 0 0 330.84,76.35 Z" fill="#c33447"/>
<path d="M326.14,71.78 A101.7,101.7 0 0 1 326.74,70.99 L331.9,74.94 A95.2,95.2 0 0 0 331.34,75.68 Z" fill="#e3707c"/>
<path d="M326.68,71.06 A101.7,101.7 0 0 1 327.28,70.28 L332.41,74.28 A95.2,95.2 0 0 0 331.85,75.01 Z" fill="#ec959f"/>
<path d="M327.23,70.35 A101.7,101.7 0 0 1 327.84,69.58 L332.93,73.62 A95.2,95.2 0 0 0 332.36,74.35 Z" fill="#d14f5f"/>
<path d="M327.78,69.65 A101.7,101.7 0 0 1 328.4,68.88 L333.45,72.97 A95.2,95.2 0 0 0 332.88,73.69 Z" fill="#e67f8a"/>
<path d="M328.34,68.95 A101.7,101.7 0 0 1 328.96,68.19 L333.98,72.32 A95.2,95.2 0 0 0 333.4,73.03 Z" fill="#bd293e"/>
<path d="M328.91,68.26 A101.7,101.7 0 0 1 329.53,67.5 L334.52,71.67 A95.2,95.2 0 0 0 333.93,72.38 Z" fill="#a6142b"/>
<path d="M329.48,67.57 A101.7,101.7 0 0 1 330.11,66.82 L335.06,71.03 A95.2,95.2 0 0 0 334.46,71.74 Z" fill="#d04d5d"/>
<path d="M330.05,66.88 A101.7,101.7 0 0 1 330.7,66.14 L335.6,70.4 A95.2,95.2 0 0 0 335,71.1 Z" fill="#db616f"/>
<path d="M330.64,66.2 A101.7,101.7 0 0 1 331.28,65.46 L336.16,69.77 A95.2,95.2 0 0 0 335.55,70.46 Z" fill="#bb263b"/>
<path d="M331.23,65.53 A101.7,101.7 0 0 1 331.88,64.8 L336.71,69.14 A95.2,95.2 0 0 0 336.1,69.83 Z" fill="#c83d50"/>
<path d="M331.82,64.86 A101.7,101.7 0 0 1 332.48,64.13 L337.28,68.52 A95.2,95.2 0 0 0 336.66,69.2 Z" fill="#d75a68"/>
<path d="M332.42,64.2 A101.7,101.7 0 0 1 333.09,63.48 L337.85,67.91 A95.2,95.2 0 0 0 337.22,68.58 Z" fill="#a7152c"/>
<path d="M333.03,63.54 A101.7,101.7 0 0 1 333.7,62.82 L338.42,67.3 A95.2,95.2 0 0 0 337.79,67.97 Z" fill="#ae1a30"/>
<path d="M333.64,62.89 A101.7,101.7 0 0 1 334.32,62.18 L339,66.69 A95.2,95.2 0 0 0 338.36,67.36 Z" fill="#910820"/>
<path d="M334.26,62.24 A101.7,101.7 0 0 1 334.95,61.53 L339.58,66.09 A95.2,95.2 0 0 0 338.94,66.75 Z" fill="#ba2439"/>
<path d="M334.88,61.6 A101.7,101.7 0 0 1 335.58,60.9 L340.17,65.49 A95.2,95.2 0 0 0 339.52,66.15 Z" fill="#b82137"/>
<path d="M335.51,60.96 A101.7,101.7 0 0 1 336.21,60.27 L340.77,64.9 A95.2,95.2 0 0 0 340.11,65.55 Z" fill="#9e1027"/>
<path d="M336.15,60.33 A101.7,101.7 0 0 1 336.85,59.64 L341.37,64.32 A95.2,95.2 0 0 0 340.71,64.96 Z" fill="#c63a4d"/>
<path d="M336.79,59.71 A101.7,101.7 0 0 1 337.5,59.02 L341.97,63.74 A95.2,95.2 0 0 0 341.31,64.38 Z" fill="#cc4556"/>
<path d="M337.43,59.09 A101.7,101.7 0 0 1 338.09,58.47 L342.52,63.22 A95.2,95.2 0 0 0 341.91,63.8 Z" fill="#aa172e"/>
<text x="311.55" y="63.44" font-family="Liberation Serif, Times New Roman, serif" font-size="6" fill="#1a1a1a" stroke="#1a1a1a" stroke-width="0.07" text-anchor="middle" transform="rotate(305.86 311.55 63.44)">Chr11</text>
<path d="M330.96,47.91 A114.3,114.3 0 0 1 359.66,28.99" fill="none" stroke="#888" stroke-width="0.6"/>
<line x1="330.96" y1="47.91" x2="329.88" y2="46.73" stroke="#888" stroke-width="0.4"/>
<text x="329.62" y="46.43" font-family="Liberation Serif, Times New Roman, serif" font-size="2.2" fill="#777" text-anchor="middle" transform="rotate(317.96 329.62 46.43)">0</text>
<line x1="334.93" y1="44.49" x2="334.42" y2="43.87" stroke="#888" stroke-width="0.4"/>
<line x1="339.06" y1="41.26" x2="338.1" y2="39.98" stroke="#888" stroke-width="0.4"/>
<line x1="343.33" y1="38.21" x2="342.88" y2="37.55" stroke="#888" stroke-width="0.4"/>
<line x1="347.74" y1="35.37" x2="346.9" y2="34.01" stroke="#888" stroke-width="0.4"/>
<text x="346.69" y="33.66" font-family="Liberation Serif, Times New Roman, serif" font-size="2.2" fill="#777" text-anchor="middle" transform="rotate(328.47 346.69 33.66)">20</text>
<line x1="352.27" y1="32.73" x2="351.88" y2="32.03" stroke="#888" stroke-width="0.4"/>
<line x1="356.92" y1="30.3" x2="356.21" y2="28.87" stroke="#888" stroke-width="0.4"/>
<path d="M332.43,49.55 A112.1,112.1 0 0 1 360.58,30.99 L363.18,36.62 A105.9,105.9 0 0 0 336.58,54.15 Z" fill="#a6d4e8"/>
<path d="M339.39,57.27 A101.7,101.7 0 0 1 340.13,56.61 L344.44,61.48 A95.2,95.2 0 0 0 343.75,62.1 Z" fill="#81041b"/>
<path d="M340.07,56.67 A101.7,101.7 0 0 1 340.81,56.02 L345.08,60.92 A95.2,95.2 0 0 0 344.38,61.54 Z" fill="#720017"/>
<path d="M340.75,56.07 A101.7,101.7 0 0 1 341.5,55.43 L345.72,60.37 A95.2,95.2 0 0 0 345.01,60.98 Z" fill="#b21c32"/>
<path d="M341.43,55.48 A101.7,101.7 0 0 1 342.19,54.84 L346.36,59.83 A95.2,95.2 0 0 0 345.65,60.43 Z" fill="#b82137"/>
<path d="M342.12,54.9 A101.7,101.7 0 0 1 342.88,54.27 L347.01,59.29 A95.2,95.2 0 0 0 346.3,59.88 Z" fill="#aa172e"/>
<path d="M342.81,54.32 A101.7,101.7 0 0 1 343.58,53.7 L347.67,58.75 A95.2,95.2 0 0 0 346.95,59.34 Z" fill="#bb253a"/>
<path d="M343.51,53.75 A101.7,101.7 0 0 1 344.29,53.13 L348.33,58.22 A95.2,95.2 0 0 0 347.6,58.8 Z" fill="#b82036"/>
<path d="M344.22,53.19 A101.7,101.7 0 0 1 345,52.57 L348.99,57.7 A95.2,95.2 0 0 0 348.26,58.28 Z" fill="#e57b86"/>
<path d="M344.93,52.63 A101.7,101.7 0 0 1 345.71,52.02 L349.66,57.18 A95.2,95.2 0 0 0 348.93,57.75 Z" fill="#f9d0d5"/>
<path d="M345.64,52.08 A101.7,101.7 0 0 1 346.43,51.48 L350.34,56.67 A95.2,95.2 0 0 0 349.6,57.23 Z" fill="#fde9eb"/>
<path d="M346.36,51.53 A101.7,101.7 0 0 1 347.16,50.94 L351.01,56.17 A95.2,95.2 0 0 0 350.27,56.72 Z" fill="#fff8f8"/>
<path d="M347.09,50.99 A101.7,101.7 0 0 1 347.89,50.4 L351.7,55.67 A95.2,95.2 0 0 0 350.95,56.22 Z" fill="#f9d1d6"/>
<path d="M347.81,50.46 A101.7,101.7 0 0 1 348.62,49.88 L352.38,55.18 A95.2,95.2 0 0 0 351.63,55.72 Z" fill="#eb949e"/>
<path d="M348.55,49.93 A101.7,101.7 0 0 1 349.36,49.36 L353.07,54.69 A95.2,95.2 0 0 0 352.32,55.23 Z" fill="#d25161"/>
<path d="M349.29,49.41 A101.7,101.7 0 0 1 350.1,48.85 L353.77,54.21 A95.2,95.2 0 0 0 353.01,54.74 Z" fill="#e16c79"/>
<path d="M350.03,48.9 A101.7,101.7 0 0 1 350.85,48.34 L354.47,53.74 A95.2,95.2 0 0 0 353.7,54.26 Z" fill="#e3727d"/>
<path d="M350.78,48.39 A101.7,101.7 0 0 1 351.6,47.84 L355.17,53.27 A95.2,95.2 0 0 0 354.4,53.78 Z" fill="#e06b77"/>
<path d="M351.53,47.89 A101.7,101.7 0 0 1 352.36,47.35 L355.88,52.81 A95.2,95.2 0 0 0 355.11,53.32 Z" fill="#ab182f"/>
<path d="M352.28,47.39 A101.7,101.7 0 0 1 353.12,46.86 L356.6,52.35 A95.2,95.2 0 0 0 355.81,52.85 Z" fill="#7b0319"/>
<path d="M353.04,46.91 A101.7,101.7 0 0 1 353.89,46.38 L357.31,51.9 A95.2,95.2 0 0 0 356.53,52.4 Z" fill="#700016"/>
<path d="M353.81,46.43 A101.7,101.7 0 0 1 354.65,45.91 L358.03,51.46 A95.2,95.2 0 0 0 357.24,51.95 Z" fill="#940921"/>
<path d="M354.58,45.95 A101.7,101.7 0 0 1 355.43,45.44 L358.76,51.03 A95.2,95.2 0 0 0 357.96,51.5 Z" fill="#b92137"/>
<path d="M355.35,45.49 A101.7,101.7 0 0 1 356.21,44.98 L359.48,50.6 A95.2,95.2 0 0 0 358.69,51.07 Z" fill="#82041b"/>
<path d="M356.13,45.03 A101.7,101.7 0 0 1 356.99,44.53 L360.22,50.17 A95.2,95.2 0 0 0 359.41,50.64 Z" fill="#8c071e"/>
<path d="M356.91,44.57 A101.7,101.7 0 0 1 357.77,44.09 L360.95,49.76 A95.2,95.2 0 0 0 360.14,50.21 Z" fill="#7a0219"/>
<path d="M357.7,44.13 A101.7,101.7 0 0 1 358.56,43.65 L361.69,49.35 A95.2,95.2 0 0 0 360.88,49.8 Z" fill="#920820"/>
<path d="M358.49,43.69 A101.7,101.7 0 0 1 359.36,43.22 L362.43,48.94 A95.2,95.2 0 0 0 361.62,49.39 Z" fill="#950a22"/>
<path d="M359.28,43.26 A101.7,101.7 0 0 1 360.16,42.79 L363.18,48.55 A95.2,95.2 0 0 0 362.36,48.98 Z" fill="#920820"/>
<path d="M360.08,42.83 A101.7,101.7 0 0 1 360.96,42.38 L363.93,48.15 A95.2,95.2 0 0 0 363.11,48.58 Z" fill="#980c24"/>
<path d="M360.88,42.42 A101.7,101.7 0 0 1 361.76,41.97 L364.68,47.77 A95.2,95.2 0 0 0 363.86,48.19 Z" fill="#8d071f"/>
<path d="M361.68,42.01 A101.7,101.7 0 0 1 362.57,41.56 L365.44,47.39 A95.2,95.2 0 0 0 364.61,47.81 Z" fill="#b92237"/>
<path d="M362.49,41.6 A101.7,101.7 0 0 1 363.38,41.17 L366.2,47.02 A95.2,95.2 0 0 0 365.37,47.43 Z" fill="#960b22"/>
<path d="M363.3,41.21 A101.7,101.7 0 0 1 364.2,40.78 L366.96,46.66 A95.2,95.2 0 0 0 366.13,47.06 Z" fill="#7a0219"/>
<path d="M364.12,40.82 A101.7,101.7 0 0 1 364.94,40.44 L367.66,46.34 A95.2,95.2 0 0 0 366.89,46.7 Z" fill="#9e1027"/>
<text x="342.34" y="33.94" font-family="Liberation Serif, Times New Roman, serif" font-size="6" fill="#1a1a1a" stroke="#1a1a1a" stroke-width="0.07" text-anchor="middle" transform="rotate(326.61 342.34 33.94)">Chr12</text>
<path d="M361.48,28.17 A114.3,114.3 0 0 1 406.29,18.51" fill="none" stroke="#888" stroke-width="0.6"/>
<line x1="361.48" y1="28.17" x2="360.84" y2="26.71" stroke="#888" stroke-width="0.4"/>
<text x="360.68" y="26.34" font-family="Liberation Serif, Times New Roman, serif" font-size="2.2" fill="#777" text-anchor="middle" transform="rotate(336.26 360.68 26.34)">0</text>
<line x1="366.33" y1="26.17" x2="366.04" y2="25.43" stroke="#888" stroke-width="0.4"/>
<line x1="371.26" y1="24.4" x2="370.76" y2="22.88" stroke="#888" stroke-width="0.4"/>
<line x1="376.27" y1="22.85" x2="376.06" y2="22.08" stroke="#888" stroke-width="0.4"/>
<line x1="381.35" y1="21.53" x2="380.98" y2="19.97" stroke="#888" stroke-width="0.4"/>
<text x="380.89" y="19.58" font-family="Liberation Serif, Times New Roman, serif" font-size="2.2" fill="#777" text-anchor="middle" transform="rotate(346.77 380.89 19.58)">20</text>
<line x1="386.48" y1="20.45" x2="386.33" y2="19.66" stroke="#888" stroke-width="0.4"/>
<line x1="391.66" y1="19.6" x2="391.44" y2="18.02" stroke="#888" stroke-width="0.4"/>
<line x1="396.87" y1="19" x2="396.79" y2="18.2" stroke="#888" stroke-width="0.4"/>
<line x1="402.1" y1="18.63" x2="402.02" y2="17.03" stroke="#888" stroke-width="0.4"/>
<text x="402" y="16.63" font-family="Liberation Serif, Times New Roman, serif" font-size="2.2" fill="#777" text-anchor="middle" transform="rotate(357.29 402 16.63)">40</text>
<path d="M362.37,30.19 A112.1,112.1 0 0 1 406.32,20.71 L406.38,26.91 A105.9,105.9 0 0 0 364.86,35.86 Z" fill="#74b4d8"/>
<path d="M366.55,39.71 A101.7,101.7 0 0 1 367.45,39.32 L370.01,45.29 A95.2,95.2 0 0 0 369.17,45.66 Z" fill="#8b061e"/>
<path d="M367.37,39.35 A101.7,101.7 0 0 1 368.28,38.97 L370.78,44.97 A95.2,95.2 0 0 0 369.94,45.32 Z" fill="#780218"/>
<path d="M368.19,39 A101.7,101.7 0 0 1 369.1,38.63 L371.56,44.65 A95.2,95.2 0 0 0 370.71,45 Z" fill="#88061d"/>
<path d="M369.02,38.66 A101.7,101.7 0 0 1 369.93,38.29 L372.33,44.33 A95.2,95.2 0 0 0 371.48,44.68 Z" fill="#a3132a"/>
<path d="M369.85,38.33 A101.7,101.7 0 0 1 370.76,37.97 L373.11,44.03 A95.2,95.2 0 0 0 372.25,44.37 Z" fill="#b61f35"/>
<path d="M370.68,38 A101.7,101.7 0 0 1 371.59,37.65 L373.89,43.73 A95.2,95.2 0 0 0 373.03,44.06 Z" fill="#a3132a"/>
<path d="M371.51,37.68 A101.7,101.7 0 0 1 372.43,37.34 L374.67,43.44 A95.2,95.2 0 0 0 373.81,43.76 Z" fill="#c23347"/>
<path d="M372.35,37.37 A101.7,101.7 0 0 1 373.27,37.03 L375.46,43.15 A95.2,95.2 0 0 0 374.59,43.47 Z" fill="#8c071e"/>
<path d="M373.19,37.06 A101.7,101.7 0 0 1 374.11,36.74 L376.25,42.88 A95.2,95.2 0 0 0 375.38,43.18 Z" fill="#780218"/>
<path d="M374.03,36.77 A101.7,101.7 0 0 1 374.96,36.45 L377.04,42.61 A95.2,95.2 0 0 0 376.17,42.9 Z" fill="#760118"/>
<path d="M374.87,36.48 A101.7,101.7 0 0 1 375.8,36.17 L377.83,42.34 A95.2,95.2 0 0 0 376.96,42.63 Z" fill="#700016"/>
<path d="M375.72,36.19 A101.7,101.7 0 0 1 376.65,35.89 L378.63,42.08 A95.2,95.2 0 0 0 377.75,42.37 Z" fill="#7e031a"/>
<path d="M376.57,35.92 A101.7,101.7 0 0 1 377.51,35.62 L379.42,41.83 A95.2,95.2 0 0 0 378.55,42.11 Z" fill="#9c0e26"/>
<path d="M377.42,35.65 A101.7,101.7 0 0 1 378.36,35.36 L380.22,41.59 A95.2,95.2 0 0 0 379.34,41.86 Z" fill="#a01128"/>
<path d="M378.27,35.39 A101.7,101.7 0 0 1 379.22,35.11 L381.02,41.36 A95.2,95.2 0 0 0 380.14,41.62 Z" fill="#ae1930"/>
<path d="M379.13,35.14 A101.7,101.7 0 0 1 380.07,34.87 L381.83,41.13 A95.2,95.2 0 0 0 380.94,41.38 Z" fill="#8f071f"/>
<path d="M379.99,34.89 A101.7,101.7 0 0 1 380.94,34.63 L382.63,40.9 A95.2,95.2 0 0 0 381.75,41.15 Z" fill="#910820"/>
<path d="M380.85,34.65 A101.7,101.7 0 0 1 381.8,34.4 L383.44,40.69 A95.2,95.2 0 0 0 382.55,40.93 Z" fill="#c13245"/>
<path d="M381.71,34.42 A101.7,101.7 0 0 1 382.66,34.18 L384.25,40.48 A95.2,95.2 0 0 0 383.36,40.71 Z" fill="#aa172e"/>
<path d="M382.58,34.2 A101.7,101.7 0 0 1 383.53,33.97 L385.06,40.28 A95.2,95.2 0 0 0 384.17,40.5 Z" fill="#ad192f"/>
<path d="M383.44,33.99 A101.7,101.7 0 0 1 384.4,33.76 L385.87,40.09 A95.2,95.2 0 0 0 384.98,40.3 Z" fill="#ad1930"/>
<path d="M384.31,33.78 A101.7,101.7 0 0 1 385.27,33.56 L386.69,39.9 A95.2,95.2 0 0 0 385.79,40.11 Z" fill="#ad1930"/>
<path d="M385.18,33.58 A101.7,101.7 0 0 1 386.14,33.37 L387.51,39.72 A95.2,95.2 0 0 0 386.61,39.92 Z" fill="#ce495a"/>
<path d="M386.05,33.39 A101.7,101.7 0 0 1 387.01,33.18 L388.32,39.55 A95.2,95.2 0 0 0 387.42,39.74 Z" fill="#be2c40"/>
<path d="M386.93,33.2 A101.7,101.7 0 0 1 387.89,33.01 L389.14,39.39 A95.2,95.2 0 0 0 388.24,39.57 Z" fill="#b92237"/>
<path d="M387.8,33.03 A101.7,101.7 0 0 1 388.77,32.84 L389.96,39.23 A95.2,95.2 0 0 0 389.06,39.4 Z" fill="#c63a4d"/>
<path d="M388.68,32.86 A101.7,101.7 0 0 1 389.64,32.68 L390.79,39.08 A95.2,95.2 0 0 0 389.88,39.24 Z" fill="#ce495a"/>
<path d="M389.56,32.7 A101.7,101.7 0 0 1 390.52,32.53 L391.61,38.94 A95.2,95.2 0 0 0 390.7,39.09 Z" fill="#d75968"/>
<path d="M390.44,32.54 A101.7,101.7 0 0 1 391.41,32.38 L392.43,38.8 A95.2,95.2 0 0 0 391.53,38.95 Z" fill="#eea0a9"/>
<path d="M391.32,32.4 A101.7,101.7 0 0 1 392.29,32.24 L393.26,38.67 A95.2,95.2 0 0 0 392.35,38.81 Z" fill="#efa2aa"/>
<path d="M392.2,32.26 A101.7,101.7 0 0 1 393.17,32.11 L394.09,38.55 A95.2,95.2 0 0 0 393.18,38.68 Z" fill="#fce1e4"/>
<path d="M393.08,32.13 A101.7,101.7 0 0 1 394.05,31.99 L394.91,38.44 A95.2,95.2 0 0 0 394,38.56 Z" fill="#fdebed"/>
<path d="M393.97,32 A101.7,101.7 0 0 1 394.94,31.88 L395.74,38.33 A95.2,95.2 0 0 0 394.83,38.45 Z" fill="#fdeaec"/>
<path d="M394.85,31.89 A101.7,101.7 0 0 1 395.83,31.77 L396.57,38.23 A95.2,95.2 0 0 0 395.66,38.34 Z" fill="#fff8f8"/>
<path d="M395.74,31.78 A101.7,101.7 0 0 1 396.71,31.67 L397.4,38.14 A95.2,95.2 0 0 0 396.49,38.24 Z" fill="#fff8f8"/>
<path d="M396.63,31.68 A101.7,101.7 0 0 1 397.6,31.58 L398.23,38.05 A95.2,95.2 0 0 0 397.32,38.15 Z" fill="#fce7e9"/>
<path d="M397.51,31.59 A101.7,101.7 0 0 1 398.49,31.5 L399.07,37.97 A95.2,95.2 0 0 0 398.15,38.06 Z" fill="#fbdde0"/>
<path d="M398.4,31.51 A101.7,101.7 0 0 1 399.38,31.42 L399.9,37.9 A95.2,95.2 0 0 0 398.98,37.98 Z" fill="#fdedee"/>
<path d="M399.29,31.43 A101.7,101.7 0 0 1 400.27,31.36 L400.73,37.84 A95.2,95.2 0 0 0 399.82,37.91 Z" fill="#f9cfd4"/>
<path d="M400.18,31.36 A101.7,101.7 0 0 1 401.16,31.3 L401.57,37.79 A95.2,95.2 0 0 0 400.65,37.85 Z" fill="#f9ced3"/>
<path d="M401.07,31.3 A101.7,101.7 0 0 1 402.05,31.25 L402.4,37.74 A95.2,95.2 0 0 0 401.48,37.79 Z" fill="#fbdfe2"/>
<path d="M401.96,31.25 A101.7,101.7 0 0 1 402.94,31.2 L403.24,37.7 A95.2,95.2 0 0 0 402.32,37.74 Z" fill="#fad7db"/>
<path d="M402.86,31.21 A101.7,101.7 0 0 1 403.84,31.17 L404.07,37.66 A95.2,95.2 0 0 0 403.15,37.7 Z" fill="#fad7db"/>
<path d="M403.75,31.17 A101.7,101.7 0 0 1 404.73,31.14 L404.91,37.64 A95.2,95.2 0 0 0 403.99,37.66 Z" fill="#fbd9dd"/>
<path d="M404.64,31.14 A101.7,101.7 0 0 1 405.62,31.12 L405.74,37.62 A95.2,95.2 0 0 0 404.82,37.64 Z" fill="#fce2e5"/>
<path d="M405.53,31.12 A101.7,101.7 0 0 1 406.43,31.11 L406.49,37.61 A95.2,95.2 0 0 0 405.66,37.62 Z" fill="#f7c3c9"/>
<text x="382.53" y="17.06" font-family="Liberation Serif, Times New Roman, serif" font-size="6" fill="#1a1a1a" stroke="#1a1a1a" stroke-width="0.07" text-anchor="middle" transform="rotate(347.83 382.53 17.06)">Chr13</text>
<path d="M408.29,18.5 A114.3,114.3 0 0 1 441.64,23.72" fill="none" stroke="#888" stroke-width="0.6"/>
<line x1="408.29" y1="18.5" x2="408.3" y2="16.9" stroke="#888" stroke-width="0.4"/>
<text x="408.3" y="16.5" font-family="Liberation Serif, Times New Roman, serif" font-size="2.2" fill="#777" text-anchor="middle" transform="rotate(360.39 408.3 16.5)">0</text>
<line x1="413.53" y1="18.66" x2="413.57" y2="17.86" stroke="#888" stroke-width="0.4"/>
<line x1="418.76" y1="19.06" x2="418.92" y2="17.46" stroke="#888" stroke-width="0.4"/>
<line x1="423.96" y1="19.69" x2="424.08" y2="18.9" stroke="#888" stroke-width="0.4"/>
<line x1="429.14" y1="20.57" x2="429.44" y2="19" stroke="#888" stroke-width="0.4"/>
<text x="429.51" y="18.6" font-family="Liberation Serif, Times New Roman, serif" font-size="2.2" fill="#777" text-anchor="middle" transform="rotate(370.91 429.51 18.6)">20</text>
<line x1="434.26" y1="21.68" x2="434.45" y2="20.9" stroke="#888" stroke-width="0.4"/>
<line x1="439.33" y1="23.02" x2="439.78" y2="21.48" stroke="#888" stroke-width="0.4"/>
<path d="M408.27,20.7 A112.1,112.1 0 0 1 440.98,25.82 L439.13,31.73 A105.9,105.9 0 0 0 408.23,26.9 Z" fill="#4ba2d2"/>
<path d="M408.2,31.1 A101.7,101.7 0 0 1 409.2,31.11 L409.09,37.61 A95.2,95.2 0 0 0 408.16,37.6 Z" fill="#89061d"/>
<path d="M409.11,31.11 A101.7,101.7 0 0 1 410.12,31.13 L409.95,37.63 A95.2,95.2 0 0 0 409.01,37.61 Z" fill="#83041b"/>
<path d="M410.03,31.13 A101.7,101.7 0 0 1 411.03,31.16 L410.8,37.66 A95.2,95.2 0 0 0 409.87,37.63 Z" fill="#7c031a"/>
<path d="M410.94,31.16 A101.7,101.7 0 0 1 411.94,31.2 L411.66,37.69 A95.2,95.2 0 0 0 410.72,37.65 Z" fill="#700016"/>
<path d="M411.85,31.19 A101.7,101.7 0 0 1 412.85,31.24 L412.51,37.73 A95.2,95.2 0 0 0 411.58,37.69 Z" fill="#ae1a30"/>
<path d="M412.77,31.24 A101.7,101.7 0 0 1 413.77,31.29 L413.37,37.78 A95.2,95.2 0 0 0 412.43,37.73 Z" fill="#a6142b"/>
<path d="M413.68,31.29 A101.7,101.7 0 0 1 414.68,31.35 L414.22,37.84 A95.2,95.2 0 0 0 413.28,37.78 Z" fill="#980c24"/>
<path d="M414.59,31.35 A101.7,101.7 0 0 1 415.59,31.42 L415.07,37.9 A95.2,95.2 0 0 0 414.14,37.83 Z" fill="#bc273c"/>
<path d="M415.5,31.42 A101.7,101.7 0 0 1 416.5,31.5 L415.92,37.97 A95.2,95.2 0 0 0 414.99,37.9 Z" fill="#c73c4e"/>
<path d="M416.41,31.49 A101.7,101.7 0 0 1 417.41,31.58 L416.78,38.05 A95.2,95.2 0 0 0 415.84,37.97 Z" fill="#eb939c"/>
<path d="M417.32,31.58 A101.7,101.7 0 0 1 418.32,31.68 L417.63,38.14 A95.2,95.2 0 0 0 416.69,38.04 Z" fill="#f6c1c8"/>
<path d="M418.23,31.67 A101.7,101.7 0 0 1 419.23,31.78 L418.48,38.23 A95.2,95.2 0 0 0 417.54,38.13 Z" fill="#f8cbd0"/>
<path d="M419.14,31.77 A101.7,101.7 0 0 1 420.13,31.89 L419.33,38.34 A95.2,95.2 0 0 0 418.39,38.23 Z" fill="#fce2e5"/>
<path d="M420.04,31.88 A101.7,101.7 0 0 1 421.04,32.01 L420.17,38.45 A95.2,95.2 0 0 0 419.24,38.33 Z" fill="#fde9eb"/>
<path d="M420.95,31.99 A101.7,101.7 0 0 1 421.94,32.13 L421.02,38.56 A95.2,95.2 0 0 0 420.09,38.44 Z" fill="#f4b9c0"/>
<path d="M421.86,32.12 A101.7,101.7 0 0 1 422.85,32.26 L421.87,38.69 A95.2,95.2 0 0 0 420.94,38.55 Z" fill="#f3b2ba"/>
<path d="M422.76,32.25 A101.7,101.7 0 0 1 423.75,32.41 L422.71,38.82 A95.2,95.2 0 0 0 421.78,38.68 Z" fill="#f3b4bb"/>
<path d="M423.66,32.39 A101.7,101.7 0 0 1 424.65,32.56 L423.55,38.96 A95.2,95.2 0 0 0 422.63,38.81 Z" fill="#e26d79"/>
<path d="M424.56,32.54 A101.7,101.7 0 0 1 425.55,32.71 L424.4,39.11 A95.2,95.2 0 0 0 423.47,38.95 Z" fill="#e7828c"/>
<path d="M425.46,32.7 A101.7,101.7 0 0 1 426.45,32.88 L425.24,39.27 A95.2,95.2 0 0 0 424.32,39.1 Z" fill="#d14f5f"/>
<path d="M426.36,32.86 A101.7,101.7 0 0 1 427.35,33.06 L426.08,39.43 A95.2,95.2 0 0 0 425.16,39.25 Z" fill="#cf4c5c"/>
<path d="M427.26,33.04 A101.7,101.7 0 0 1 428.24,33.24 L426.92,39.6 A95.2,95.2 0 0 0 426,39.41 Z" fill="#b71f35"/>
<path d="M428.15,33.22 A101.7,101.7 0 0 1 429.13,33.43 L427.75,39.78 A95.2,95.2 0 0 0 426.83,39.58 Z" fill="#d55665"/>
<path d="M429.05,33.41 A101.7,101.7 0 0 1 430.03,33.63 L428.59,39.96 A95.2,95.2 0 0 0 427.67,39.76 Z" fill="#b82036"/>
<path d="M429.94,33.61 A101.7,101.7 0 0 1 430.92,33.83 L429.42,40.16 A95.2,95.2 0 0 0 428.51,39.95 Z" fill="#8d071e"/>
<path d="M430.83,33.81 A101.7,101.7 0 0 1 431.8,34.05 L430.25,40.36 A95.2,95.2 0 0 0 429.34,40.14 Z" fill="#b72036"/>
<path d="M431.72,34.03 A101.7,101.7 0 0 1 432.69,34.27 L431.08,40.57 A95.2,95.2 0 0 0 430.17,40.34 Z" fill="#86051d"/>
<path d="M432.6,34.25 A101.7,101.7 0 0 1 433.57,34.5 L431.91,40.78 A95.2,95.2 0 0 0 431,40.55 Z" fill="#ab182f"/>
<path d="M433.49,34.48 A101.7,101.7 0 0 1 434.46,34.74 L432.73,41.01 A95.2,95.2 0 0 0 431.83,40.76 Z" fill="#a5142b"/>
<path d="M434.37,34.71 A101.7,101.7 0 0 1 435.34,34.98 L433.56,41.24 A95.2,95.2 0 0 0 432.65,40.98 Z" fill="#ba2339"/>
<path d="M435.25,34.96 A101.7,101.7 0 0 1 436.21,35.24 L434.38,41.47 A95.2,95.2 0 0 0 433.48,41.21 Z" fill="#a9172e"/>
<path d="M436.13,35.21 A101.7,101.7 0 0 1 437.09,35.5 L435.2,41.72 A95.2,95.2 0 0 0 434.3,41.45 Z" fill="#950a22"/>
<path d="M437,35.47 A101.7,101.7 0 0 1 437.88,35.74 L435.94,41.95 A95.2,95.2 0 0 0 435.12,41.69 Z" fill="#b92238"/>
<text x="425.79" y="15.82" font-family="Liberation Serif, Times New Roman, serif" font-size="6" fill="#1a1a1a" stroke="#1a1a1a" stroke-width="0.07" text-anchor="middle" transform="rotate(368.89 425.79 15.82)">Chr14</text>
<path d="M443.54,24.33 A114.3,114.3 0 0 1 491.43,55.21" fill="none" stroke="#888" stroke-width="0.6"/>
<line x1="443.54" y1="24.33" x2="444.04" y2="22.81" stroke="#888" stroke-width="0.4"/>
<text x="444.17" y="22.43" font-family="Liberation Serif, Times New Roman, serif" font-size="2.2" fill="#777" text-anchor="middle" transform="rotate(378.38 444.17 22.43)">0</text>
<line x1="448.48" y1="26.1" x2="448.76" y2="25.35" stroke="#888" stroke-width="0.4"/>
<line x1="453.33" y1="28.09" x2="453.97" y2="26.62" stroke="#888" stroke-width="0.4"/>
<line x1="458.08" y1="30.3" x2="458.44" y2="29.58" stroke="#888" stroke-width="0.4"/>
<line x1="462.73" y1="32.73" x2="463.5" y2="31.33" stroke="#888" stroke-width="0.4"/>
<text x="463.7" y="30.98" font-family="Liberation Serif, Times New Roman, serif" font-size="2.2" fill="#777" text-anchor="middle" transform="rotate(388.9 463.7 30.98)">20</text>
<line x1="467.26" y1="35.37" x2="467.68" y2="34.69" stroke="#888" stroke-width="0.4"/>
<line x1="471.67" y1="38.21" x2="472.57" y2="36.89" stroke="#888" stroke-width="0.4"/>
<line x1="475.94" y1="41.26" x2="476.42" y2="40.62" stroke="#888" stroke-width="0.4"/>
<line x1="480.07" y1="44.49" x2="481.08" y2="43.26" stroke="#888" stroke-width="0.4"/>
<text x="481.34" y="42.95" font-family="Liberation Serif, Times New Roman, serif" font-size="2.2" fill="#777" text-anchor="middle" transform="rotate(399.41 481.34 42.95)">40</text>
<line x1="484.04" y1="47.91" x2="484.58" y2="47.32" stroke="#888" stroke-width="0.4"/>
<line x1="487.86" y1="51.51" x2="488.98" y2="50.38" stroke="#888" stroke-width="0.4"/>
<path d="M442.85,26.42 A112.1,112.1 0 0 1 489.81,56.7 L485.26,60.91 A105.9,105.9 0 0 0 440.89,32.3 Z" fill="#2c7cc1"/>
<path d="M439.57,36.29 A101.7,101.7 0 0 1 440.5,36.6 L438.39,42.75 A95.2,95.2 0 0 0 437.52,42.46 Z" fill="#700016"/>
<path d="M440.42,36.57 A101.7,101.7 0 0 1 441.35,36.9 L439.19,43.03 A95.2,95.2 0 0 0 438.31,42.72 Z" fill="#87051d"/>
<path d="M441.27,36.87 A101.7,101.7 0 0 1 442.2,37.2 L439.98,43.31 A95.2,95.2 0 0 0 439.11,43 Z" fill="#8c071e"/>
<path d="M442.11,37.17 A101.7,101.7 0 0 1 443.04,37.51 L440.77,43.6 A95.2,95.2 0 0 0 439.9,43.28 Z" fill="#8a061e"/>
<path d="M442.96,37.48 A101.7,101.7 0 0 1 443.88,37.83 L441.56,43.9 A95.2,95.2 0 0 0 440.69,43.57 Z" fill="#9d0f26"/>
<path d="M443.8,37.8 A101.7,101.7 0 0 1 444.72,38.16 L442.34,44.2 A95.2,95.2 0 0 0 441.48,43.87 Z" fill="#af1a31"/>
<path d="M444.64,38.12 A101.7,101.7 0 0 1 445.55,38.49 L443.12,44.52 A95.2,95.2 0 0 0 442.26,44.17 Z" fill="#9a0d24"/>
<path d="M445.47,38.46 A101.7,101.7 0 0 1 446.39,38.83 L443.9,44.83 A95.2,95.2 0 0 0 443.05,44.48 Z" fill="#970b23"/>
<path d="M446.31,38.79 A101.7,101.7 0 0 1 447.22,39.18 L444.68,45.16 A95.2,95.2 0 0 0 443.82,44.8 Z" fill="#ae1a30"/>
<path d="M447.13,39.14 A101.7,101.7 0 0 1 448.04,39.53 L445.45,45.49 A95.2,95.2 0 0 0 444.6,45.13 Z" fill="#960a22"/>
<path d="M447.96,39.5 A101.7,101.7 0 0 1 448.87,39.89 L446.22,45.83 A95.2,95.2 0 0 0 445.37,45.46 Z" fill="#ad1930"/>
<path d="M448.78,39.86 A101.7,101.7 0 0 1 449.68,40.26 L446.99,46.18 A95.2,95.2 0 0 0 446.15,45.8 Z" fill="#cf4a5b"/>
<path d="M449.6,40.22 A101.7,101.7 0 0 1 450.5,40.64 L447.75,46.53 A95.2,95.2 0 0 0 446.91,46.14 Z" fill="#d04d5d"/>
<path d="M450.42,40.6 A101.7,101.7 0 0 1 451.31,41.02 L448.51,46.89 A95.2,95.2 0 0 0 447.68,46.49 Z" fill="#e06a77"/>
<path d="M451.23,40.98 A101.7,101.7 0 0 1 452.12,41.41 L449.27,47.25 A95.2,95.2 0 0 0 448.44,46.85 Z" fill="#e16c78"/>
<path d="M452.04,41.37 A101.7,101.7 0 0 1 452.93,41.81 L450.03,47.63 A95.2,95.2 0 0 0 449.2,47.22 Z" fill="#b72036"/>
<path d="M452.85,41.77 A101.7,101.7 0 0 1 453.73,42.22 L450.78,48.01 A95.2,95.2 0 0 0 449.95,47.59 Z" fill="#bb263b"/>
<path d="M453.65,42.18 A101.7,101.7 0 0 1 454.53,42.63 L451.53,48.39 A95.2,95.2 0 0 0 450.7,47.97 Z" fill="#940a21"/>
<path d="M454.45,42.59 A101.7,101.7 0 0 1 455.33,43.05 L452.27,48.78 A95.2,95.2 0 0 0 451.45,48.35 Z" fill="#8f071f"/>
<path d="M455.25,43.01 A101.7,101.7 0 0 1 456.12,43.47 L453.01,49.18 A95.2,95.2 0 0 0 452.2,48.74 Z" fill="#c73b4e"/>
<path d="M456.04,43.43 A101.7,101.7 0 0 1 456.91,43.91 L453.75,49.59 A95.2,95.2 0 0 0 452.94,49.14 Z" fill="#9b0e25"/>
<path d="M456.83,43.86 A101.7,101.7 0 0 1 457.69,44.35 L454.48,50 A95.2,95.2 0 0 0 453.68,49.55 Z" fill="#88061d"/>
<path d="M457.61,44.3 A101.7,101.7 0 0 1 458.47,44.79 L455.21,50.42 A95.2,95.2 0 0 0 454.41,49.96 Z" fill="#c73b4e"/>
<path d="M458.39,44.75 A101.7,101.7 0 0 1 459.25,45.25 L455.94,50.84 A95.2,95.2 0 0 0 455.14,50.38 Z" fill="#a8162d"/>
<path d="M459.17,45.2 A101.7,101.7 0 0 1 460.02,45.71 L456.66,51.28 A95.2,95.2 0 0 0 455.87,50.8 Z" fill="#bf2e42"/>
<path d="M459.94,45.66 A101.7,101.7 0 0 1 460.78,46.18 L457.38,51.71 A95.2,95.2 0 0 0 456.59,51.23 Z" fill="#c93f51"/>
<path d="M460.71,46.13 A101.7,101.7 0 0 1 461.55,46.65 L458.09,52.16 A95.2,95.2 0 0 0 457.31,51.67 Z" fill="#aa172e"/>
<path d="M461.47,46.6 A101.7,101.7 0 0 1 462.31,47.13 L458.8,52.61 A95.2,95.2 0 0 0 458.02,52.11 Z" fill="#d25161"/>
<path d="M462.23,47.08 A101.7,101.7 0 0 1 463.06,47.62 L459.51,53.06 A95.2,95.2 0 0 0 458.73,52.56 Z" fill="#d55665"/>
<path d="M462.99,47.57 A101.7,101.7 0 0 1 463.81,48.11 L460.21,53.53 A95.2,95.2 0 0 0 459.44,53.02 Z" fill="#bc273c"/>
<path d="M463.74,48.07 A101.7,101.7 0 0 1 464.56,48.62 L460.91,54 A95.2,95.2 0 0 0 460.15,53.48 Z" fill="#c02e42"/>
<path d="M464.49,48.57 A101.7,101.7 0 0 1 465.3,49.12 L461.61,54.47 A95.2,95.2 0 0 0 460.84,53.95 Z" fill="#d65866"/>
<path d="M465.23,49.07 A101.7,101.7 0 0 1 466.04,49.64 L462.3,54.95 A95.2,95.2 0 0 0 461.54,54.42 Z" fill="#c02f43"/>
<path d="M465.97,49.59 A101.7,101.7 0 0 1 466.77,50.16 L462.98,55.44 A95.2,95.2 0 0 0 462.23,54.9 Z" fill="#c23246"/>
<path d="M466.7,50.11 A101.7,101.7 0 0 1 467.5,50.69 L463.67,55.93 A95.2,95.2 0 0 0 462.92,55.39 Z" fill="#d45463"/>
<path d="M467.43,50.63 A101.7,101.7 0 0 1 468.22,51.22 L464.34,56.43 A95.2,95.2 0 0 0 463.6,55.88 Z" fill="#f3b5bd"/>
<path d="M468.15,51.17 A101.7,101.7 0 0 1 468.94,51.76 L465.02,56.94 A95.2,95.2 0 0 0 464.28,56.38 Z" fill="#efa4ac"/>
<path d="M468.87,51.7 A101.7,101.7 0 0 1 469.66,52.3 L465.68,57.45 A95.2,95.2 0 0 0 464.95,56.89 Z" fill="#f2aeb6"/>
<path d="M469.59,52.25 A101.7,101.7 0 0 1 470.37,52.86 L466.35,57.97 A95.2,95.2 0 0 0 465.62,57.4 Z" fill="#f8cad0"/>
<path d="M470.3,52.8 A101.7,101.7 0 0 1 471.07,53.42 L467.01,58.49 A95.2,95.2 0 0 0 466.28,57.92 Z" fill="#fad6da"/>
<path d="M471,53.36 A101.7,101.7 0 0 1 471.77,53.98 L467.66,59.02 A95.2,95.2 0 0 0 466.94,58.44 Z" fill="#f3b4bb"/>
<path d="M471.7,53.93 A101.7,101.7 0 0 1 472.46,54.55 L468.31,59.55 A95.2,95.2 0 0 0 467.6,58.97 Z" fill="#f8c9cf"/>
<path d="M472.39,54.5 A101.7,101.7 0 0 1 473.15,55.13 L468.96,60.09 A95.2,95.2 0 0 0 468.25,59.5 Z" fill="#eea1a9"/>
<path d="M473.08,55.07 A101.7,101.7 0 0 1 473.84,55.71 L469.6,60.64 A95.2,95.2 0 0 0 468.89,60.04 Z" fill="#dc6370"/>
<path d="M473.77,55.66 A101.7,101.7 0 0 1 474.51,56.3 L470.23,61.19 A95.2,95.2 0 0 0 469.53,60.59 Z" fill="#d85c6a"/>
<path d="M474.45,56.24 A101.7,101.7 0 0 1 475.19,56.9 L470.86,61.75 A95.2,95.2 0 0 0 470.17,61.14 Z" fill="#e16c78"/>
<path d="M475.12,56.84 A101.7,101.7 0 0 1 475.86,57.5 L471.49,62.31 A95.2,95.2 0 0 0 470.8,61.69 Z" fill="#ce4859"/>
<path d="M475.79,57.44 A101.7,101.7 0 0 1 476.52,58.11 L472.11,62.88 A95.2,95.2 0 0 0 471.43,62.26 Z" fill="#cd4657"/>
<path d="M476.45,58.05 A101.7,101.7 0 0 1 477.18,58.72 L472.72,63.45 A95.2,95.2 0 0 0 472.05,62.82 Z" fill="#af1a31"/>
<path d="M477.11,58.66 A101.7,101.7 0 0 1 477.83,59.34 L473.33,64.03 A95.2,95.2 0 0 0 472.66,63.4 Z" fill="#af1a31"/>
<path d="M477.77,59.28 A101.7,101.7 0 0 1 478.48,59.96 L473.94,64.62 A95.2,95.2 0 0 0 473.27,63.98 Z" fill="#86051c"/>
<path d="M478.41,59.9 A101.7,101.7 0 0 1 479.12,60.59 L474.54,65.21 A95.2,95.2 0 0 0 473.88,64.56 Z" fill="#720017"/>
<path d="M479.05,60.53 A101.7,101.7 0 0 1 479.75,61.23 L475.13,65.8 A95.2,95.2 0 0 0 474.48,65.15 Z" fill="#760118"/>
<path d="M479.69,61.17 A101.7,101.7 0 0 1 480.38,61.87 L475.72,66.4 A95.2,95.2 0 0 0 475.08,65.74 Z" fill="#9d0f26"/>
<path d="M480.32,61.81 A101.7,101.7 0 0 1 481.01,62.52 L476.31,67.01 A95.2,95.2 0 0 0 475.67,66.34 Z" fill="#bc273c"/>
<path d="M480.95,62.45 A101.7,101.7 0 0 1 481.62,63.17 L476.89,67.62 A95.2,95.2 0 0 0 476.25,66.95 Z" fill="#89061d"/>
<path d="M481.56,63.1 A101.7,101.7 0 0 1 482.18,63.76 L477.4,68.17 A95.2,95.2 0 0 0 476.83,67.56 Z" fill="#760118"/>
<text x="471.66" y="33.29" font-family="Liberation Serif, Times New Roman, serif" font-size="6" fill="#1a1a1a" stroke="#1a1a1a" stroke-width="0.07" text-anchor="middle" transform="rotate(392.81 471.66 33.29)">Chr15</text>
<path d="M492.77,56.69 A114.3,114.3 0 0 1 514.77,93.34" fill="none" stroke="#888" stroke-width="0.6"/>
<line x1="492.77" y1="56.69" x2="493.96" y2="55.62" stroke="#888" stroke-width="0.4"/>
<text x="494.26" y="55.35" font-family="Liberation Serif, Times New Roman, serif" font-size="2.2" fill="#777" text-anchor="middle" transform="rotate(408.25 494.26 55.35)">0</text>
<line x1="496.17" y1="60.68" x2="496.79" y2="60.17" stroke="#888" stroke-width="0.4"/>
<line x1="499.39" y1="64.82" x2="500.67" y2="63.87" stroke="#888" stroke-width="0.4"/>
<line x1="502.41" y1="69.11" x2="503.07" y2="68.66" stroke="#888" stroke-width="0.4"/>
<line x1="505.23" y1="73.53" x2="506.6" y2="72.7" stroke="#888" stroke-width="0.4"/>
<text x="506.94" y="72.49" font-family="Liberation Serif, Times New Roman, serif" font-size="2.2" fill="#777" text-anchor="middle" transform="rotate(418.76 506.94 72.49)">20</text>
<line x1="507.85" y1="78.07" x2="508.55" y2="77.69" stroke="#888" stroke-width="0.4"/>
<line x1="510.25" y1="82.73" x2="511.69" y2="82.03" stroke="#888" stroke-width="0.4"/>
<line x1="512.44" y1="87.5" x2="513.17" y2="87.18" stroke="#888" stroke-width="0.4"/>
<line x1="514.41" y1="92.36" x2="515.9" y2="91.8" stroke="#888" stroke-width="0.4"/>
<text x="516.28" y="91.65" font-family="Liberation Serif, Times New Roman, serif" font-size="2.2" fill="#777" text-anchor="middle" transform="rotate(429.28 516.28 91.65)">40</text>
<path d="M491.13,58.15 A112.1,112.1 0 0 1 512.71,94.1 L506.89,96.24 A105.9,105.9 0 0 0 486.5,62.28 Z" fill="#2a5bb0"/>
<path d="M483.37,65.08 A101.7,101.7 0 0 1 484.02,65.81 L479.13,70.09 A95.2,95.2 0 0 0 478.52,69.4 Z" fill="#740117"/>
<path d="M483.96,65.74 A101.7,101.7 0 0 1 484.6,66.48 L479.67,70.72 A95.2,95.2 0 0 0 479.07,70.03 Z" fill="#89061d"/>
<path d="M484.54,66.41 A101.7,101.7 0 0 1 485.18,67.16 L480.21,71.35 A95.2,95.2 0 0 0 479.62,70.66 Z" fill="#9e1027"/>
<path d="M485.12,67.09 A101.7,101.7 0 0 1 485.75,67.84 L480.75,71.99 A95.2,95.2 0 0 0 480.16,71.29 Z" fill="#8b061e"/>
<path d="M485.69,67.77 A101.7,101.7 0 0 1 486.32,68.53 L481.28,72.64 A95.2,95.2 0 0 0 480.7,71.93 Z" fill="#8c071e"/>
<path d="M486.26,68.46 A101.7,101.7 0 0 1 486.88,69.22 L481.8,73.28 A95.2,95.2 0 0 0 481.23,72.57 Z" fill="#8e071f"/>
<path d="M486.82,69.15 A101.7,101.7 0 0 1 487.43,69.92 L482.32,73.94 A95.2,95.2 0 0 0 481.75,73.22 Z" fill="#8d071f"/>
<path d="M487.37,69.85 A101.7,101.7 0 0 1 487.98,70.62 L482.83,74.59 A95.2,95.2 0 0 0 482.27,73.87 Z" fill="#86051d"/>
<path d="M487.92,70.55 A101.7,101.7 0 0 1 488.52,71.33 L483.34,75.25 A95.2,95.2 0 0 0 482.78,74.53 Z" fill="#b41d34"/>
<path d="M488.46,71.26 A101.7,101.7 0 0 1 489.05,72.04 L483.84,75.92 A95.2,95.2 0 0 0 483.29,75.19 Z" fill="#c83e50"/>
<path d="M489,71.97 A101.7,101.7 0 0 1 489.58,72.75 L484.33,76.59 A95.2,95.2 0 0 0 483.79,75.85 Z" fill="#9c0e26"/>
<path d="M489.53,72.68 A101.7,101.7 0 0 1 490.1,73.47 L484.82,77.27 A95.2,95.2 0 0 0 484.29,76.52 Z" fill="#8b061e"/>
<path d="M490.05,73.4 A101.7,101.7 0 0 1 490.62,74.2 L485.31,77.94 A95.2,95.2 0 0 0 484.78,77.2 Z" fill="#87051d"/>
<path d="M490.57,74.13 A101.7,101.7 0 0 1 491.13,74.93 L485.78,78.63 A95.2,95.2 0 0 0 485.26,77.88 Z" fill="#cb4354"/>
<path d="M491.08,74.86 A101.7,101.7 0 0 1 491.63,75.66 L486.25,79.31 A95.2,95.2 0 0 0 485.74,78.56 Z" fill="#e8858f"/>
<path d="M491.58,75.59 A101.7,101.7 0 0 1 492.13,76.4 L486.72,80.01 A95.2,95.2 0 0 0 486.21,79.25 Z" fill="#eb929c"/>
<path d="M492.08,76.33 A101.7,101.7 0 0 1 492.62,77.14 L487.18,80.7 A95.2,95.2 0 0 0 486.67,79.94 Z" fill="#e98993"/>
<path d="M492.57,77.07 A101.7,101.7 0 0 1 493.1,77.89 L487.63,81.4 A95.2,95.2 0 0 0 487.13,80.63 Z" fill="#e16c78"/>
<path d="M493.05,77.82 A101.7,101.7 0 0 1 493.58,78.64 L488.08,82.1 A95.2,95.2 0 0 0 487.59,81.33 Z" fill="#f2b1b8"/>
<path d="M493.53,78.57 A101.7,101.7 0 0 1 494.05,79.4 L488.52,82.81 A95.2,95.2 0 0 0 488.03,82.03 Z" fill="#ed99a3"/>
<path d="M494,79.32 A101.7,101.7 0 0 1 494.51,80.16 L488.95,83.52 A95.2,95.2 0 0 0 488.48,82.74 Z" fill="#f9cfd4"/>
<path d="M494.47,80.08 A101.7,101.7 0 0 1 494.97,80.92 L489.38,84.24 A95.2,95.2 0 0 0 488.91,83.45 Z" fill="#fbdde0"/>
<path d="M494.93,80.84 A101.7,101.7 0 0 1 495.42,81.69 L489.8,84.95 A95.2,95.2 0 0 0 489.34,84.16 Z" fill="#f7c3c9"/>
<path d="M495.38,81.61 A101.7,101.7 0 0 1 495.87,82.46 L490.22,85.68 A95.2,95.2 0 0 0 489.76,84.88 Z" fill="#f5bac1"/>
<path d="M495.82,82.38 A101.7,101.7 0 0 1 496.3,83.23 L490.63,86.4 A95.2,95.2 0 0 0 490.18,85.6 Z" fill="#efa5ad"/>
<path d="M496.26,83.16 A101.7,101.7 0 0 1 496.73,84.01 L491.03,87.13 A95.2,95.2 0 0 0 490.59,86.33 Z" fill="#f6c1c7"/>
<path d="M496.69,83.93 A101.7,101.7 0 0 1 497.16,84.8 L491.43,87.86 A95.2,95.2 0 0 0 490.99,87.06 Z" fill="#f6c1c8"/>
<path d="M497.12,84.72 A101.7,101.7 0 0 1 497.57,85.58 L491.82,88.6 A95.2,95.2 0 0 0 491.39,87.79 Z" fill="#fad4d9"/>
<path d="M497.53,85.5 A101.7,101.7 0 0 1 497.98,86.37 L492.2,89.34 A95.2,95.2 0 0 0 491.78,88.53 Z" fill="#fad6da"/>
<path d="M497.94,86.29 A101.7,101.7 0 0 1 498.39,87.17 L492.58,90.08 A95.2,95.2 0 0 0 492.16,89.27 Z" fill="#f3b4bc"/>
<path d="M498.35,87.09 A101.7,101.7 0 0 1 498.78,87.96 L492.95,90.83 A95.2,95.2 0 0 0 492.54,90.01 Z" fill="#e88791"/>
<path d="M498.74,87.88 A101.7,101.7 0 0 1 499.17,88.76 L493.31,91.58 A95.2,95.2 0 0 0 492.91,90.75 Z" fill="#f9d2d7"/>
<path d="M499.13,88.68 A101.7,101.7 0 0 1 499.55,89.57 L493.67,92.33 A95.2,95.2 0 0 0 493.28,91.5 Z" fill="#fce2e5"/>
<path d="M499.52,89.49 A101.7,101.7 0 0 1 499.93,90.37 L494.02,93.09 A95.2,95.2 0 0 0 493.63,92.25 Z" fill="#f6c1c7"/>
<path d="M499.89,90.29 A101.7,101.7 0 0 1 500.3,91.18 L494.36,93.84 A95.2,95.2 0 0 0 493.99,93.01 Z" fill="#f3b3ba"/>
<path d="M500.26,91.1 A101.7,101.7 0 0 1 500.66,92 L494.7,94.61 A95.2,95.2 0 0 0 494.33,93.77 Z" fill="#ec969f"/>
<path d="M500.62,91.92 A101.7,101.7 0 0 1 501.01,92.81 L495.03,95.37 A95.2,95.2 0 0 0 494.67,94.53 Z" fill="#f9cfd4"/>
<path d="M500.97,92.73 A101.7,101.7 0 0 1 501.36,93.63 L495.36,96.14 A95.2,95.2 0 0 0 495,95.29 Z" fill="#f9d2d7"/>
<path d="M501.32,93.55 A101.7,101.7 0 0 1 501.7,94.46 L495.67,96.91 A95.2,95.2 0 0 0 495.33,96.06 Z" fill="#fbdde0"/>
<path d="M501.66,94.37 A101.7,101.7 0 0 1 502.03,95.28 L495.99,97.68 A95.2,95.2 0 0 0 495.64,96.83 Z" fill="#f6c0c7"/>
<path d="M501.99,95.2 A101.7,101.7 0 0 1 502.35,96.11 L496.29,98.46 A95.2,95.2 0 0 0 495.95,97.6 Z" fill="#f9d1d6"/>
<path d="M502.32,96.03 A101.7,101.7 0 0 1 502.67,96.94 L496.59,99.23 A95.2,95.2 0 0 0 496.26,98.38 Z" fill="#f8c8ce"/>
<path d="M502.64,96.86 A101.7,101.7 0 0 1 502.95,97.69 L496.85,99.94 A95.2,95.2 0 0 0 496.56,99.16 Z" fill="#e88892"/>
<text x="509.02" y="71.87" font-family="Liberation Serif, Times New Roman, serif" font-size="6" fill="#1a1a1a" stroke="#1a1a1a" stroke-width="0.07" text-anchor="middle" transform="rotate(419.03 509.02 71.87)">Chr16</text>
<path d="M515.45,95.22 A114.3,114.3 0 0 1 521.78,130.81" fill="none" stroke="#888" stroke-width="0.6"/>
<line x1="515.45" y1="95.22" x2="516.96" y2="94.7" stroke="#888" stroke-width="0.4"/>
<text x="517.34" y="94.56" font-family="Liberation Serif, Times New Roman, serif" font-size="2.2" fill="#777" text-anchor="middle" transform="rotate(430.81 517.34 94.56)">0</text>
<line x1="517.06" y1="100.21" x2="517.82" y2="99.99" stroke="#888" stroke-width="0.4"/>
<line x1="518.44" y1="105.27" x2="519.99" y2="104.89" stroke="#888" stroke-width="0.4"/>
<line x1="519.58" y1="110.39" x2="520.37" y2="110.23" stroke="#888" stroke-width="0.4"/>
<line x1="520.49" y1="115.56" x2="522.07" y2="115.31" stroke="#888" stroke-width="0.4"/>
<text x="522.47" y="115.25" font-family="Liberation Serif, Times New Roman, serif" font-size="2.2" fill="#777" text-anchor="middle" transform="rotate(441.32 522.47 115.25)">20</text>
<line x1="521.16" y1="120.76" x2="521.96" y2="120.67" stroke="#888" stroke-width="0.4"/>
<line x1="521.6" y1="125.98" x2="523.19" y2="125.89" stroke="#888" stroke-width="0.4"/>
<path d="M513.37,95.95 A112.1,112.1 0 0 1 519.58,130.84 L513.38,130.95 A105.9,105.9 0 0 0 507.51,97.98 Z" fill="#2a34a0"/>
<path d="M503.55,99.36 A101.7,101.7 0 0 1 503.87,100.3 L497.71,102.37 A95.2,95.2 0 0 0 497.41,101.5 Z" fill="#a5142b"/>
<path d="M503.84,100.21 A101.7,101.7 0 0 1 504.15,101.15 L497.97,103.17 A95.2,95.2 0 0 0 497.68,102.3 Z" fill="#a3132a"/>
<path d="M504.12,101.06 A101.7,101.7 0 0 1 504.42,102 L498.23,103.97 A95.2,95.2 0 0 0 497.95,103.09 Z" fill="#950a22"/>
<path d="M504.4,101.92 A101.7,101.7 0 0 1 504.69,102.86 L498.48,104.77 A95.2,95.2 0 0 0 498.2,103.89 Z" fill="#84051c"/>
<path d="M504.67,102.77 A101.7,101.7 0 0 1 504.95,103.72 L498.72,105.58 A95.2,95.2 0 0 0 498.46,104.69 Z" fill="#a6152c"/>
<path d="M504.93,103.63 A101.7,101.7 0 0 1 505.21,104.58 L498.96,106.38 A95.2,95.2 0 0 0 498.7,105.5 Z" fill="#c13145"/>
<path d="M505.18,104.49 A101.7,101.7 0 0 1 505.45,105.44 L499.19,107.19 A95.2,95.2 0 0 0 498.94,106.3 Z" fill="#e47480"/>
<path d="M505.43,105.35 A101.7,101.7 0 0 1 505.69,106.31 L499.41,108 A95.2,95.2 0 0 0 499.17,107.11 Z" fill="#c43649"/>
<path d="M505.67,106.22 A101.7,101.7 0 0 1 505.92,107.17 L499.63,108.81 A95.2,95.2 0 0 0 499.39,107.92 Z" fill="#e8858f"/>
<path d="M505.9,107.09 A101.7,101.7 0 0 1 506.14,108.04 L499.84,109.62 A95.2,95.2 0 0 0 499.61,108.73 Z" fill="#f5bac1"/>
<path d="M506.12,107.96 A101.7,101.7 0 0 1 506.35,108.91 L500.04,110.44 A95.2,95.2 0 0 0 499.82,109.54 Z" fill="#eb939d"/>
<path d="M506.33,108.83 A101.7,101.7 0 0 1 506.56,109.79 L500.23,111.26 A95.2,95.2 0 0 0 500.02,110.36 Z" fill="#ea9099"/>
<path d="M506.54,109.7 A101.7,101.7 0 0 1 506.76,110.66 L500.42,112.08 A95.2,95.2 0 0 0 500.21,111.18 Z" fill="#e47580"/>
<path d="M506.74,110.57 A101.7,101.7 0 0 1 506.95,111.54 L500.6,112.9 A95.2,95.2 0 0 0 500.4,111.99 Z" fill="#f0a6af"/>
<path d="M506.93,111.45 A101.7,101.7 0 0 1 507.14,112.41 L500.77,113.72 A95.2,95.2 0 0 0 500.58,112.81 Z" fill="#e57b86"/>
<path d="M507.12,112.33 A101.7,101.7 0 0 1 507.31,113.29 L500.93,114.54 A95.2,95.2 0 0 0 500.75,113.64 Z" fill="#f2b0b8"/>
<path d="M507.29,113.21 A101.7,101.7 0 0 1 507.48,114.18 L501.09,115.37 A95.2,95.2 0 0 0 500.92,114.46 Z" fill="#f1adb5"/>
<path d="M507.46,114.09 A101.7,101.7 0 0 1 507.64,115.06 L501.24,116.19 A95.2,95.2 0 0 0 501.07,115.28 Z" fill="#d95e6c"/>
<path d="M507.62,114.97 A101.7,101.7 0 0 1 507.79,115.94 L501.38,117.02 A95.2,95.2 0 0 0 501.23,116.11 Z" fill="#e57c87"/>
<path d="M507.78,115.85 A101.7,101.7 0 0 1 507.94,116.83 L501.52,117.85 A95.2,95.2 0 0 0 501.37,116.94 Z" fill="#dc6370"/>
<path d="M507.92,116.74 A101.7,101.7 0 0 1 508.07,117.71 L501.65,118.68 A95.2,95.2 0 0 0 501.51,117.77 Z" fill="#b01b32"/>
<path d="M508.06,117.63 A101.7,101.7 0 0 1 508.2,118.6 L501.77,119.51 A95.2,95.2 0 0 0 501.63,118.6 Z" fill="#910820"/>
<path d="M508.19,118.51 A101.7,101.7 0 0 1 508.33,119.49 L501.88,120.34 A95.2,95.2 0 0 0 501.76,119.43 Z" fill="#aa172e"/>
<path d="M508.31,119.4 A101.7,101.7 0 0 1 508.44,120.38 L501.99,121.17 A95.2,95.2 0 0 0 501.87,120.26 Z" fill="#c43649"/>
<path d="M508.43,120.29 A101.7,101.7 0 0 1 508.54,121.27 L502.09,122.01 A95.2,95.2 0 0 0 501.98,121.09 Z" fill="#c23246"/>
<path d="M508.53,121.18 A101.7,101.7 0 0 1 508.64,122.16 L502.18,122.84 A95.2,95.2 0 0 0 502.08,121.93 Z" fill="#a4132a"/>
<path d="M508.63,122.07 A101.7,101.7 0 0 1 508.73,123.06 L502.26,123.68 A95.2,95.2 0 0 0 502.17,122.76 Z" fill="#b21c32"/>
<path d="M508.72,122.97 A101.7,101.7 0 0 1 508.81,123.95 L502.34,124.51 A95.2,95.2 0 0 0 502.25,123.6 Z" fill="#cc4556"/>
<path d="M508.81,123.86 A101.7,101.7 0 0 1 508.89,124.84 L502.41,125.35 A95.2,95.2 0 0 0 502.33,124.43 Z" fill="#ae1a30"/>
<path d="M508.88,124.75 A101.7,101.7 0 0 1 508.95,125.74 L502.47,126.19 A95.2,95.2 0 0 0 502.4,125.27 Z" fill="#b11c32"/>
<path d="M508.95,125.65 A101.7,101.7 0 0 1 509.01,126.63 L502.52,127.03 A95.2,95.2 0 0 0 502.46,126.11 Z" fill="#9d0f26"/>
<path d="M509.01,126.54 A101.7,101.7 0 0 1 509.06,127.53 L502.57,127.86 A95.2,95.2 0 0 0 502.52,126.94 Z" fill="#960b23"/>
<path d="M509.06,127.44 A101.7,101.7 0 0 1 509.11,128.42 L502.61,128.7 A95.2,95.2 0 0 0 502.57,127.78 Z" fill="#9b0e25"/>
<path d="M509.1,128.34 A101.7,101.7 0 0 1 509.14,129.32 L502.64,129.54 A95.2,95.2 0 0 0 502.61,128.62 Z" fill="#ca4153"/>
<path d="M509.14,129.23 A101.7,101.7 0 0 1 509.17,130.22 L502.67,130.38 A95.2,95.2 0 0 0 502.64,129.46 Z" fill="#cc4556"/>
<path d="M509.16,130.13 A101.7,101.7 0 0 1 509.18,131.03 L502.69,131.14 A95.2,95.2 0 0 0 502.67,130.3 Z" fill="#ec98a1"/>
<text x="524.07" y="112.04" font-family="Liberation Serif, Times New Roman, serif" font-size="6" fill="#1a1a1a" stroke="#1a1a1a" stroke-width="0.07" text-anchor="middle" transform="rotate(439.9 524.07 112.04)">Chr17</text>
<polygon points="407.5,44.93 408.01,44.5 408.52,44.98 409.03,44.91 409.55,44.9 410.05,45.05 410.58,44.65 411.09,44.64 411.58,45.12 412.12,44.65 412.6,45.28 413.13,44.95 413.66,44.69 414.17,44.84 414.66,45.06 415.14,45.42 415.7,45.02 416.16,45.52 416.67,45.53 417.22,45.23 417.69,45.59 418.23,45.44 418.72,45.59 419.28,45.26 419.75,45.66 420.28,45.58 420.8,45.52 421.3,45.66 421.81,45.72 422.32,45.82 422.84,45.82 423.29,46.21 423.83,46.11 424.28,46.47 424.83,46.35 425.28,46.7 425.75,46.93 426.27,46.97 426.73,47.24 427.24,47.32 427.84,46.98 428.22,47.59 428.8,47.36 429.21,47.85 429.73,47.88 430.23,47.98 430.79,47.87 431.2,48.28 431.69,48.43 432.21,48.48 432.8,48.28 433.18,48.81 433.8,48.52 434.22,48.92 434.69,49.12 435.08,49.57 435.73,49.23 436.16,49.58 436.58,49.91 437.15,49.83 437.48,50.43 438.05,50.37 438.61,50.32 438.95,50.87 439.47,50.95 440.09,50.78 440.5,51.12 440.88,51.55 441.32,51.82 441.75,52.12 442.45,51.77 442.71,52.47 443.35,52.27 443.75,52.63 444.36,52.54 444.8,52.82 445.24,53.08 445.74,53.22 446.18,53.5 446.55,53.9 446.89,54.37 447.39,54.51 447.77,54.89 448.35,54.88 448.77,55.19 449.13,55.59 449.7,55.61 450.28,55.63 450.44,56.38 451.13,56.21 451.52,56.55 451.77,57.14 452.49,56.93 452.87,57.3 453.22,57.71 453.62,58.02 454.09,58.24 454.48,58.59 455.09,58.58 455.6,58.74 455.94,59.15 456.41,59.37 456.57,60.05 457.2,60.03 457.43,60.61 458.11,60.52 458.23,61.24 458.67,61.5 459.19,61.66 459.81,61.67 460.05,62.21 460.57,62.37 460.82,62.89 461.09,63.38 461.76,63.34 462.21,63.61 462.28,64.35 462.81,64.5 463.1,64.95 463.68,65.06 464.21,65.21 464.3,65.9 465.03,65.84 465.17,66.46 465.45,66.91 466.23,66.81 466.48,67.29 466.62,67.9 467.2,68.03 467.32,68.65 467.93,68.75 468.18,69.23 468.56,69.57 468.81,70.04 469.18,70.4 469.75,70.55 470.12,70.91 470.65,71.1 470.96,71.52 470.97,72.22 471.4,72.51 471.73,72.91 472.38,73 472.58,73.51 472.65,74.14 473.49,74.07 473.66,74.61 474,74.99 474.19,75.51 474.19,76.17 474.89,76.25 475.18,76.68 475.39,77.17 475.76,77.52 476.12,77.89 476.27,78.42 476.65,78.77 477.21,78.98 477.42,79.47 477.89,79.76 478.23,80.14 478.67,80.46 478.89,80.93 478.96,81.52 479.52,81.74 479.6,82.32 480.11,82.58 479.91,83.34 480.69,83.43 480.8,83.98 480.91,84.52 481.05,85.04 481.55,85.32 481.79,85.77 482.24,86.09 482.24,86.7 482.6,87.08 482.67,87.63 483.47,87.75 483.67,88.23 483.9,88.69 484.11,89.16 484.46,89.55 484.65,90.04 484.74,90.57 484.65,91.2 485.08,91.55 485.17,92.08 485.87,92.29 485.82,92.89 485.86,93.45 486.62,93.64 486.59,94.22 487.12,94.54 486.85,95.23 487.52,95.48 487.28,96.16 487.59,96.58 487.68,97.1 488.42,97.34 488.39,97.91 488.75,98.31 488.45,98.99 488.78,99.41 489.33,99.74 489.05,100.4 489.76,100.67 489.38,101.37 489.71,101.79 489.82,102.3 490.02,102.77 490.56,103.12 490.64,103.63 490.77,104.13 490.74,104.68 491.14,105.08 491.29,105.58 491.67,105.99 491.52,106.58 491.35,107.16 491.66,107.6 492.15,107.99 491.95,108.59 492.06,109.08 492.4,109.52 492.77,109.95 492.32,110.6 492.93,110.97 493.18,111.44 492.79,112.06 493.23,112.48 493.35,112.98 493.37,113.5 493.71,113.95 493.59,114.5 493.46,115.05 493.55,115.55 493.7,116.04 494.17,116.48 494.27,116.98 494.16,117.52 494.31,118.01 494.01,118.58 494.57,119.01 494.75,119.5 494.32,120.08 494.6,120.56 494.55,121.08 494.48,121.61 494.89,122.07 495.11,122.56 494.72,123.12 494.7,123.63 495.15,124.1 494.96,124.64 494.88,125.16 494.98,125.66 495.01,126.17 495.52,126.65 495.01,127.19 495.26,127.69 495.71,128.18 495.4,128.71 495.77,129.2 495.42,129.73 495.14,130.25 495.75,130.75 495.41,131.27 495.44,131.78 495.17,132.29 495.68,132.8 495.31,133.31 495.53,133.82 495.46,134.34 495.38,134.85 495.8,135.37 495.12,135.86 495.53,136.39 495.3,136.89 495.63,137.42 495.62,137.93 495.25,138.42 495.2,138.93 495.05,139.43 494.99,139.94 494.93,140.45 494.92,140.96 494.94,141.48 495.36,142.03 495.22,142.54 494.82,143.01 494.98,143.54 493.87,143.91 494.55,144.52 494.94,145.09 494.41,145.53 494.26,146.02 494.32,146.55 494.49,147.1 493.92,147.52 494.08,148.07 494.34,148.63 494.17,149.12 493.58,149.53 493.6,150.06 493.44,150.55 493.26,151.03 493.42,151.59 493.11,152.04 493.08,152.56 493.24,153.12 492.81,153.54 493.03,154.13 492.68,154.57 492.45,155.03 492.4,155.55 492.06,155.99 492.32,156.59 492.3,157.12 491.81,157.51 492.08,158.12 491.78,158.57 491.81,159.11 491.17,159.45 490.92,159.9 490.96,160.46 490.79,160.94 490.7,161.45 490.31,161.85 490.35,162.41 490.3,162.94 489.75,163.28 489.79,163.84 489.71,164.36 489.5,164.83 488.97,165.17 489,165.73 488.84,166.21 488.7,166.71 488.48,167.18 488.14,167.59 488,168.08 487.93,168.61 487.79,169.11 487.45,169.52 487.54,170.12 487.09,170.48 486.99,171 486.67,171.41 486.32,171.81 486.35,172.4 485.83,172.71 485.39,173.06 485.44,173.66 485.11,174.07 484.74,174.45 484.55,174.92 484.4,175.42 484.15,175.87 483.96,176.35 483.74,176.82 483.49,177.26 483.48,177.85 482.84,178.07 482.55,178.49 482.51,179.07 482.4,179.6 481.65,179.74 481.58,180.29 481.23,180.68 481.17,181.25 480.59,181.48 480.35,181.94 480.18,182.44 479.63,182.68 479.36,183.12 479.07,183.54 479.15,184.22 478.5,184.39 478.6,185.09 477.95,185.25 477.95,185.88 477.59,186.26 477.28,186.67 476.75,186.91 476.72,187.53 476.25,187.81 476,188.27 475.74,188.72 475.04,188.8 475,189.44 474.57,189.75 474.48,190.35 473.72,190.36 473.54,190.88 473.18,191.25 473.15,191.91 472.66,192.16 471.97,192.22 471.98,192.93 471.32,193.01 470.92,193.33 470.79,193.92 470.35,194.2 470.25,194.83 469.67,194.97 469.49,195.52 468.94,195.69 468.65,196.13 468.09,196.28 467.7,196.61 467.4,197.03 466.96,197.31 466.54,197.6 466.22,198.01 465.9,198.42 465.61,198.87 465.12,199.09 464.65,199.32 464.37,199.78 463.92,200.04 463.89,200.81 463.44,201.06 462.84,201.14 462.44,201.45 462.1,201.86 461.73,202.21 461.46,202.7 461.08,203.05 460.6,203.27 459.91,203.2 459.5,203.5 459.05,203.75 458.91,204.44 458,204.03 458.2,205.2 457.68,205.36 457.23,205.6 456.83,205.93 456.39,206.2 455.7,206.09 455.39,206.55 454.9,206.73 454.39,206.87 454.03,207.27 453.65,207.62 453.37,208.15 452.87,208.31 452.3,208.36 451.88,208.65 451.44,208.91 450.96,209.09 450.63,209.55 450.05,209.57 449.59,209.79 449.24,210.22 448.78,210.44 448.37,210.76 447.81,210.79 447.39,211.1 446.87,211.19 446.51,211.62 445.99,211.72 445.68,212.25 445.09,212.19 444.82,212.84 444.13,212.57 443.9,213.29 443.33,213.28 442.86,213.49 442.39,213.68 441.98,214.03 441.41,214.01 440.84,213.95 440.52,214.52 440.03,214.69 439.48,214.7 439.06,215.02 438.56,215.15 438.11,215.4 437.62,215.55 437.22,215.95 436.63,215.82 436.2,216.16 435.72,216.33 435.16,216.27 434.61,216.24 434.2,216.64 433.79,217.03 433.32,217.25 432.8,217.3 432.34,217.58 431.83,217.64 431.22,217.36 430.76,217.64 430.34,218.05 429.74,217.78 429.21,217.77 428.84,218.38 428.25,218.13 427.85,218.67 427.3,218.58 426.84,218.86 426.28,218.68 425.73,218.56 425.35,219.23 424.74,218.82 424.28,219.11 423.8,219.36 423.23,219.08 422.75,219.26 422.32,219.81 421.74,219.43 421.2,219.29 420.74,219.67 420.23,219.72 419.77,220.08 419.21,219.76 418.73,220.06 418.19,219.88 417.73,220.28 417.18,220.05 416.71,220.45 416.18,220.27 415.67,220.36 415.18,220.56 414.68,220.73 414.15,220.52 413.66,220.89 413.14,220.76 412.62,220.71 412.12,220.94 411.61,220.95 411.08,220.7 410.57,220.67 410.06,220.83 409.54,220.47 409.03,220.63 408.53,221.11 408.01,220.93 407.5,220.62 406.99,220.54 406.48,220.62 405.97,220.68 405.45,221.02 404.94,220.79 404.42,221.02 403.92,220.63 403.4,220.86 402.9,220.57 402.36,220.97 401.87,220.71 401.37,220.49 400.86,220.42 400.33,220.58 399.8,220.8 399.33,220.35 398.8,220.47 398.27,220.66 397.8,220.24 397.27,220.31 396.73,220.48 396.28,219.99 395.77,219.94 395.29,219.65 394.73,219.97 394.21,219.96 393.7,219.93 393.2,219.83 392.58,220.38 392.16,219.77 391.77,219.05 391.21,219.3 390.76,218.92 390.23,218.95 389.76,218.72 389.26,218.62 388.7,218.78 388.16,218.85 387.72,218.49 387.25,218.24 386.7,218.35 386.15,218.42 385.65,218.3 385.14,218.25 384.74,217.74 384.16,217.91 383.98,216.67 383.18,217.61 382.71,217.39 382.26,217.12 381.85,216.69 381.18,217.12 380.72,216.88 380.32,216.44 379.87,216.17 379.24,216.45 378.85,216 378.28,216.09 377.87,215.71 377.31,215.76 376.97,215.18 376.5,214.98 375.98,214.91 375.52,214.68 375.02,214.55 374.45,214.61 374.05,214.22 373.61,213.94 373.23,213.55 372.7,213.48 372.25,213.23 371.8,212.98 371.01,213.48 370.64,213.06 370.28,212.62 369.91,212.21 369.36,212.17 368.92,211.89 368.39,211.83 368.13,211.18 367.62,211.07 367.12,210.93 366.67,210.68 366.13,210.61 365.57,210.56 365.34,209.91 364.73,209.96 364.34,209.6 363.85,209.43 363.46,209.09 362.91,209.01 362.79,208.21 362.09,208.38 361.92,207.67 361.33,207.65 360.69,207.72 360.59,206.9 360.02,206.85 359.62,206.53 359.17,206.29 358.79,205.94 358.46,205.51 357.74,205.66 357.43,205.21 357.18,204.67 356.42,204.85 356.02,204.53 355.81,203.95 355.22,203.88 354.79,203.6 354.74,202.82 354.18,202.7 353.54,202.7 353.24,202.25 352.8,201.98 352.41,201.64 352.08,201.24 351.79,200.78 351.39,200.46 350.93,200.22 350.51,199.92 350.22,199.47 349.78,199.2 349.46,198.79 349.12,198.4 348.51,198.32 348.35,197.73 347.71,197.67 347.38,197.27 347.05,196.87 346.51,196.7 346.39,196.08 346.13,195.61 345.83,195.19 345.1,195.2 344.81,194.76 344.53,194.32 344.37,193.76 343.71,193.69 343.7,193 343.28,192.68 342.77,192.46 342.64,191.88 342.06,191.72 341.54,191.5 341.49,190.86 340.97,190.63 340.56,190.31 340.54,189.65 340.35,189.15 339.89,188.86 339.57,188.47 339.12,188.17 338.91,187.69 338.47,187.38 338.34,186.83 337.64,186.73 337.5,186.19 337.2,185.77 336.68,185.53 336.74,184.84 336.06,184.7 335.84,184.23 335.74,183.67 335.28,183.37 335.12,182.86 334.92,182.37 334.28,182.19 334,181.75 334.23,180.99 333.93,180.58 333.64,180.15 333.26,179.79 333.13,179.27 332.86,178.84 332.29,178.59 331.96,178.19 331.64,177.79 331.8,177.09 331.48,176.69 331.12,176.31 330.97,175.81 330.58,175.44 330.55,174.87 330.01,174.58 329.76,174.13 329.69,173.6 329.2,173.27 328.79,172.9 328.59,172.43 328.36,171.97 328.41,171.37 328.07,170.97 327.89,170.49 328.01,169.87 327.24,169.66 327.57,168.95 326.82,168.72 327.2,167.99 326.58,167.71 326.44,167.21 327.06,166.4 325.91,166.32 325.69,165.85 325.82,165.25 325.85,164.69 325.5,164.28 325.15,163.86 324.87,163.42 324.98,162.83 324.85,162.34 324.63,161.88 324.11,161.51 324.3,160.91 324.13,160.43 323.97,159.94 323.86,159.44 323.63,158.98 323.19,158.58 323,158.1 323.33,157.46 323.08,157.01 322.83,156.55 322.72,156.05 322.22,155.65 322.44,155.06 322.04,154.64 322.22,154.06 322.07,153.57 321.81,153.11 321.77,152.59 321.97,152.02 321.61,151.58 321.14,151.16 321.52,150.55 320.9,150.16 321.23,149.57 321.27,149.04 320.62,148.64 321.09,148.04 320.49,147.62 320.35,147.12 320.67,146.55 320.66,146.04 320.73,145.51 320.46,145.03 320.42,144.52 320.48,144 320.13,143.53 319.91,143.04 319.73,142.54 320.17,141.98 320.06,141.48 319.59,141.01 320.07,140.45 319.74,139.96 319.55,139.46 319.74,138.94 319.44,138.44 319.86,137.9 319.29,137.42 319.41,136.9 319.89,136.37 319.78,135.86 320.41,135.33 319.31,134.85 319.41,134.34 320.2,133.82 319.82,133.31 319.42,132.8 319.52,132.29 319.63,131.78 319.24,131.26 319.58,130.75 319.56,130.24 319.26,129.72 319.27,129.2 319.33,128.69 319.61,128.19 319.8,127.69 319.52,127.16 319.66,126.66 319.44,126.13 320.07,125.66 319.94,125.14 319.88,124.62 319.92,124.11 320.33,123.64 320.2,123.11 320,122.57 320.44,122.11 320.23,121.57 319.96,121.02 320.4,120.56 320.22,120.02 320.28,119.5 320.75,119.06 320.66,118.53 320.71,118.02 320.84,117.52 321.07,117.04 321.02,116.51 321.33,116.05 320.99,115.46 320.99,114.94 321.3,114.48 321.39,113.97 321.44,113.46 321.54,112.95 322.05,112.55 322.32,112.09 322.22,111.54 322.16,111 322.07,110.44 322.79,110.1 322.9,109.6 322.52,108.97 323.12,108.6 322.88,108 323.11,107.54 323.19,107.02 323.25,106.51 323.46,106.03 323.76,105.59 323.87,105.09 324.21,104.66 324.61,104.26 324.27,103.6 324.53,103.15 324.68,102.66 325.1,102.27 325.37,101.82 325.22,101.22 325.64,100.83 325.45,100.2 325.61,99.72 325.8,99.24 326.4,98.93 326.48,98.41 327,98.07 326.88,97.47 326.95,96.94 327.51,96.63 327.69,96.15 328.02,95.74 328.05,95.19 327.9,94.55 328.46,94.25 328.8,93.85 328.57,93.16 329.13,92.87 329.16,92.31 329.47,91.89 329.55,91.35 330.02,91.02 330.27,90.58 330.37,90.05 331,89.81 331.17,89.32 331.15,88.72 331.39,88.26 331.68,87.84 332.11,87.5 332.35,87.05 332.37,86.46 333.13,86.33 333.03,85.66 333.64,85.44 333.65,84.84 334.03,84.48 334.15,83.95 334.81,83.77 335.05,83.31 335.98,83.34 335.48,82.37 335.93,82.07 335.81,81.35 336.26,81.04 336.34,80.46 337.02,80.33 337.02,79.69 337.58,79.47 337.63,78.86 337.99,78.5 338.5,78.24 338.82,77.85 339.21,77.5 339.48,77.06 339.61,76.51 340.1,76.25 340.44,75.86 340.54,75.27 340.93,74.94 341.33,74.6 341.87,74.39 341.87,73.71 342.36,73.46 342.71,73.09 343,72.66 343.25,72.18 343.88,72.08 344.06,71.54 344.5,71.25 344.96,70.99 345.42,70.72 345.85,70.43 345.85,69.69 346.42,69.55 346.64,69.04 346.99,68.67 347.6,68.57 347.83,68.06 348.01,67.49 348.49,67.26 348.89,66.94 349.49,66.84 349.75,66.37 350.31,66.23 350.37,65.51 351.03,65.5 351.36,65.1 351.68,64.68 352.11,64.39 352.49,64.05 352.98,63.85 353.5,63.69 353.64,63.03 353.99,62.65 354.64,62.65 354.93,62.19 355.41,61.98 355.92,61.81 356.04,61.09 356.71,61.15 357.18,60.93 357.33,60.25 357.96,60.27 358.21,59.73 358.59,59.37 359.25,59.45 359.5,58.88 359.86,58.5 360.44,58.46 360.89,58.21 361.28,57.86 361.56,57.34 362.28,57.54 362.74,57.32 363.11,56.94 363.52,56.63 363.8,56.08 364.5,56.28 364.77,55.71 365.16,55.35 365.83,55.51 366.28,55.27 366.79,55.14 367.23,54.9 367.54,54.36 368.13,54.41 368.51,54.02 368.89,53.64 369.52,53.76 369.99,53.57 370.41,53.25 370.73,52.72 371.29,52.73 371.77,52.54 372.22,52.29 372.71,52.16 373.36,52.37 373.56,51.54 374.16,51.65 374.54,51.23 375.06,51.14 375.42,50.66 375.92,50.54 376.44,50.46 376.95,50.36 377.41,50.13 377.88,49.91 378.28,49.5 378.96,49.91 379.44,49.74 379.79,49.19 380.37,49.31 380.72,48.73 381.24,48.67 381.78,48.68 382.25,48.46 382.66,48.02 383.18,47.98 383.78,48.24 384.22,47.9 384.76,47.93 385.22,47.66 385.79,47.83 386.29,47.74 386.73,47.37 387.27,47.44 387.64,46.76 388.16,46.76 388.69,46.77 389.21,46.75 389.68,46.5 390.21,46.55 390.73,46.53 391.32,46.89 391.7,46.12 392.27,46.43 392.74,46.16 393.22,45.92 393.72,45.79 394.21,45.59 394.72,45.55 395.3,45.98 395.79,45.84 396.31,45.85 396.78,45.47 397.3,45.52 397.77,45.11 398.29,45.19 398.78,44.93 399.32,45.14 399.81,44.91 400.33,44.94 400.85,45.05 401.37,45.2 401.85,44.69 402.4,45.25 402.9,45.1 403.39,44.65 403.9,44.54 404.43,44.76 404.94,44.69 405.46,45.13 405.97,44.89 406.48,45.12 406.99,44.46 407.5,44.92" fill="none" stroke="#1c1ca8" stroke-width="1.3" stroke-linejoin="round"/>
<polygon points="407.5,53.74 407.96,53.99 408.42,53.81 408.88,53.77 409.33,54.01 409.79,54.09 410.25,54.13 410.72,53.88 411.18,53.81 411.64,53.75 412.08,54.2 412.54,54.17 412.99,54.27 413.49,53.8 413.91,54.31 414.4,53.89 414.87,53.89 415.28,54.42 415.74,54.42 416.19,54.46 416.65,54.53 417.13,54.37 417.56,54.65 418.04,54.5 418.49,54.58 418.96,54.57 419.53,53.88 419.87,54.72 420.32,54.82 420.73,55.14 421.24,54.88 421.69,54.96 422.07,55.44 422.55,55.37 423.06,55.17 423.53,55.18 423.91,55.59 424.41,55.47 424.89,55.44 425.32,55.61 425.73,55.87 426.22,55.8 426.67,55.92 427.11,56.06 427.57,56.11 427.93,56.55 428.33,56.83 428.76,56.99 429.24,56.99 429.73,56.93 430.15,57.15 430.68,56.97 431.01,57.46 431.42,57.7 431.86,57.84 431.94,59.04 432.69,58.24 433.18,58.23 433.68,58.18 434.13,58.29 434.52,58.57 435.03,58.52 435.36,58.93 435.79,59.1 436.29,59.08 436.71,59.28 437.16,59.4 437.45,59.89 437.87,60.09 438.35,60.13 438.85,60.13 439.25,60.35 439.52,60.87 439.94,61.07 440.55,60.83 440.9,61.18 441.27,61.47 441.75,61.52 442.06,61.94 442.45,62.18 442.96,62.19 443.39,62.36 443.73,62.7 444.23,62.74 444.7,62.84 445.02,63.22 445.45,63.39 445.74,63.82 446.24,63.86 446.46,64.41 446.93,64.51 447.4,64.61 447.66,65.08 448.22,65.03 448.73,65.07 448.91,65.67 449.37,65.8 449.72,66.1 450.14,66.3 450.52,66.56 451.08,66.55 451.26,67.1 451.74,67.22 451.94,67.74 452.47,67.77 452.79,68.11 453.14,68.42 454,68.01 453.93,68.9 454.18,69.33 454.76,69.31 455.11,69.62 455.39,70.01 455.61,70.48 456.08,70.63 456.6,70.7 456.68,71.33 457.21,71.42 457.68,71.56 457.75,72.2 458.27,72.3 458.79,72.39 459.04,72.81 459.5,72.99 459.72,73.43 460.11,73.68 460.48,73.96 460.7,74.4 461.06,74.69 461.53,74.86 461.73,75.31 461.91,75.8 462.49,75.86 462.67,76.33 463.13,76.52 463.2,77.1 463.54,77.4 464.01,77.59 464.27,77.98 464.51,78.39 465.01,78.54 465.37,78.84 465.64,79.21 465.95,79.55 466.42,79.75 466.58,80.22 466.78,80.66 467.19,80.91 467.36,81.38 467.86,81.55 468.18,81.89 468.38,82.32 468.52,82.8 469.03,82.97 469.09,83.52 469.29,83.94 469.82,84.11 469.84,84.68 470.44,84.8 470.77,85.12 470.85,85.63 471.04,86.07 471.3,86.44 471.45,86.9 472.1,87.01 472.06,87.59 472.27,88.01 472.69,88.27 473.04,88.59 473.02,89.16 473.43,89.44 473.68,89.82 474.19,90.04 474.06,90.67 474.29,91.07 474.53,91.45 474.93,91.75 475.47,91.96 475.66,92.39 475.82,92.82 475.9,93.31 476.23,93.65 476.39,94.09 476.6,94.5 476.92,94.85 477.19,95.22 477.04,95.83 477.23,96.24 477.92,96.4 477.86,96.95 478.13,97.33 478.45,97.68 478.69,98.08 478.44,98.71 478.68,99.1 478.86,99.52 479.44,99.76 479.57,100.21 479.68,100.66 479.84,101.1 480.14,101.47 480.02,102.02 480.42,102.35 480.3,102.89 480.93,103.13 480.73,103.71 481.35,103.96 481.4,104.43 481.66,104.83 481.36,105.43 481.58,105.84 482.12,106.13 481.83,106.72 482.05,107.13 482.47,107.47 482.45,107.96 482.62,108.39 482.75,108.83 483.03,109.23 483.09,109.69 482.92,110.22 483.23,110.61 483.2,111.09 483.82,111.4 483.42,111.98 483.73,112.37 483.72,112.85 484.24,113.19 483.96,113.74 483.98,114.2 484.21,114.62 484.65,114.99 484.4,115.52 484.83,115.89 484.66,116.4 484.78,116.84 485.13,117.24 485.23,117.69 485.19,118.17 485.48,118.58 485.59,119.03 485.56,119.5 485.34,120.01 485.73,120.41 485.42,120.92 485.88,121.32 485.46,121.84 485.67,122.28 486.12,122.68 486.1,123.15 485.81,123.65 485.92,124.1 485.81,124.57 486.06,125 486.1,125.46 486.49,125.89 486.14,126.38 486.2,126.84 486.04,127.31 486.22,127.76 486.08,128.22 486.1,128.68 486.33,129.13 486.45,129.58 486.21,130.05 486.5,130.5 486.38,130.96 486.49,131.42 486.7,131.88 486.63,132.34 486.48,132.8 486.55,133.26 486.69,133.72 486.22,134.17 486.55,134.64 486.71,135.1 486.44,135.56 486.7,136.03 486.45,136.48 486.54,136.94 486.51,137.4 485.91,137.82 486.45,138.32 486.44,138.78 485.99,139.21 486.34,139.7 486.42,140.17 485.84,140.57 485.97,141.05 486.25,141.54 485.74,141.95 485.78,142.41 485.62,142.85 485.74,143.33 485.69,143.79 485.93,144.29 485.84,144.74 485.37,145.13 485.43,145.61 485.44,146.08 485.59,146.57 484.93,146.92 484.96,147.39 485.25,147.91 484.8,148.29 485.04,148.81 484.63,149.2 484.95,149.73 484.7,150.15 484.62,150.6 484.38,151.02 484.28,151.47 484.05,151.89 483.84,152.3 483.76,152.76 484.07,153.32 483.93,153.76 483.77,154.19 483.48,154.59 483.45,155.06 483.38,155.52 482.8,155.82 482.91,156.33 483.05,156.86 482.73,157.24 482.6,157.69 482.42,158.11 482.42,158.6 482.22,159.01 481.73,159.33 481.84,159.86 481.13,160.08 481.27,160.63 481.1,161.05 481.2,161.58 481.02,162.01 480.95,162.48 480.7,162.87 480.32,163.21 479.98,163.57 479.79,163.98 480.08,164.61 479.73,164.96 479.73,165.47 479.56,165.89 478.83,166.06 478.98,166.64 478.77,167.05 478.24,167.3 478.37,167.88 478.15,168.28 478.04,168.74 477.66,169.06 477.04,169.26 477.17,169.85 476.98,170.26 476.92,170.75 476.49,171.04 476.17,171.39 476.1,171.88 475.83,172.25 475.53,172.61 474.9,172.77 475.42,173.61 474.97,173.88 474.62,174.2 474.27,174.53 474.14,174.98 474.14,175.53 473.8,175.86 473.62,176.29 473.07,176.47 473.16,177.09 472.87,177.45 472.51,177.76 472.26,178.15 472.18,178.65 471.57,178.78 471.36,179.19 471.22,179.67 470.73,179.87 470.64,180.38 470.39,180.77 470.27,181.25 469.95,181.59 469.62,181.92 469.22,182.19 468.71,182.36 468.43,182.73 468.87,183.69 467.82,183.41 467.87,184.06 467.4,184.26 467.21,184.71 466.83,184.98 466.59,185.39 466.31,185.75 465.82,185.93 465.62,186.37 465.29,186.69 464.87,186.93 464.58,187.28 464.27,187.62 463.79,187.8 463.79,188.44 463.4,188.7 462.89,188.84 462.75,189.36 462.57,189.82 461.94,189.83 461.57,190.11 461.38,190.57 460.99,190.83 460.63,191.12 460.37,191.52 459.83,191.6 459.82,192.29 459.41,192.51 459.05,192.81 458.72,193.12 458.15,193.16 458.09,193.8 457.59,193.92 457.17,194.13 456.7,194.28 456.33,194.55 456.08,194.98 455.72,195.27 455.39,195.58 455.1,195.97 454.69,196.18 454.29,196.41 453.85,196.6 453.47,196.86 453.36,197.5 452.83,197.53 452.59,198 451.96,197.9 451.67,198.28 451.31,198.58 450.98,198.9 450.38,198.83 450.28,199.52 449.87,199.74 449.52,200.04 449.04,200.15 448.02,199.36 448.06,200.3 447.83,200.81 447.28,200.79 446.89,201.03 446.63,201.49 446.29,201.83 445.69,201.7 445.29,201.93 444.86,202.09 444.64,202.65 444.18,202.76 443.87,203.16 443.45,203.35 442.91,203.31 442.61,203.74 442.26,204.07 441.7,203.97 441.42,204.46 440.98,204.61 440.41,204.47 439.94,204.54 439.74,205.22 439.13,204.96 438.69,205.1 438.27,205.29 438.02,205.87 437.6,206.07 437.08,206.01 436.73,206.38 436.22,206.34 435.8,206.53 435.3,206.5 434.94,206.84 434.59,207.22 434.16,207.4 433.59,207.15 433.29,207.69 432.81,207.73 432.26,207.53 431.9,207.89 431.56,208.33 430.99,208.07 430.61,208.38 430.23,208.73 429.35,207.36 429.33,208.92 428.83,208.84 428.35,208.84 428.01,209.35 427.47,209.1 427.03,209.22 426.58,209.31 426.19,209.67 425.7,209.58 425.28,209.82 424.84,209.96 424.32,209.75 423.94,210.14 423.43,209.93 422.98,210.05 422.55,210.21 422.17,210.69 421.71,210.72 421.23,210.66 420.78,210.75 420.29,210.65 419.86,210.87 419.42,210.98 418.97,211.1 418.46,210.75 418.03,211.05 417.59,211.18 417.14,211.27 416.68,211.37 416.22,211.35 415.73,211.14 415.32,211.64 414.83,211.33 414.39,211.51 413.91,211.35 413.45,211.33 413,211.48 412.54,211.45 412.09,211.68 411.64,211.78 411.18,211.79 410.72,211.8 410.26,211.73 409.79,211.6 409.34,211.83 408.88,211.86 408.42,211.96 407.96,211.72 407.5,211.94 407.04,211.61 406.58,212.08 406.12,212.09 405.66,211.71 405.21,211.48 404.74,211.88 404.28,211.9 403.82,211.86 403.36,211.77 402.9,211.77 402.46,211.39 401.98,211.73 401.51,211.86 401.09,211.34 400.62,211.41 400.14,211.69 399.69,211.54 399.24,211.38 398.81,211.07 398.36,210.97 397.84,211.45 397.41,211.24 396.99,210.89 396.51,211 396.08,210.74 395.6,210.88 395.11,211 394.71,210.65 394.22,210.74 393.78,210.63 393.38,210.25 392.88,210.43 392.47,210.15 391.98,210.22 391.51,210.23 391.06,210.14 390.59,210.15 390.21,209.72 389.72,209.8 389.32,209.53 388.84,209.53 388.42,209.31 387.98,209.2 387.51,209.19 387.04,209.15 386.6,209.02 386.09,209.13 385.79,208.5 385.36,208.33 384.79,208.66 384.49,208.08 383.96,208.21 383.61,207.8 383.18,207.66 382.69,207.68 382.13,207.91 381.71,207.7 381.26,207.58 380.97,207.04 380.48,207.02 379.96,207.12 379.68,206.55 379.12,206.72 378.74,206.44 378.39,206.07 377.9,206.05 377.54,205.72 377.04,205.75 376.52,205.79 376.09,205.61 375.79,205.16 375.47,204.74 375.05,204.56 374.63,204.36 374.19,204.23 373.63,204.35 373.37,203.81 372.74,204.07 372.47,203.57 371.99,203.51 371.56,203.34 371.15,203.13 370.92,202.57 370.5,202.39 370.07,202.22 369.62,202.08 369.07,202.13 368.72,201.81 368.43,201.39 367.95,201.3 367.55,201.08 367.2,200.76 366.85,200.46 366.57,200.03 366.02,200.04 365.56,199.91 365.28,199.5 364.83,199.35 364.41,199.15 364,198.95 363.84,198.35 363.41,198.17 362.79,198.26 362.48,197.89 362.14,197.58 361.91,197.11 361.6,196.75 360.9,196.94 360.87,196.21 360.27,196.25 359.86,196.02 359.69,195.49 359.13,195.46 358.86,195.06 358.46,194.82 358.26,194.34 357.9,194.05 357.39,193.95 357.02,193.67 356.66,193.38 356.24,193.18 355.87,192.9 355.54,192.57 355.25,192.21 355.08,191.7 354.57,191.58 354.25,191.25 353.92,190.94 353.73,190.46 353.21,190.35 353.03,189.87 352.64,189.61 352.24,189.36 351.85,189.1 351.54,188.76 351.34,188.31 350.93,188.07 350.53,187.82 350.33,187.37 350.48,186.59 349.73,186.67 349.57,186.19 348.89,186.19 348.21,186.18 348.68,185.15 347.98,185.15 347.73,184.76 347.72,184.16 347.46,183.77 346.98,183.58 346.79,183.15 346.56,182.74 346.31,182.35 345.78,182.19 345.57,181.77 345.14,181.52 344.79,181.21 344.78,180.63 344.36,180.38 344.05,180.04 343.64,179.76 343.73,179.13 343.26,178.91 343.03,178.51 342.8,178.1 342.6,177.68 342.44,177.24 342.2,176.85 341.74,176.6 341.55,176.18 341.19,175.86 341.1,175.37 340.83,175 340.63,174.58 340.17,174.33 339.9,173.95 339.84,173.45 339.63,173.04 339.49,172.59 339.3,172.18 338.93,171.86 338.67,171.48 338.21,171.21 338,170.8 337.74,170.42 337.7,169.91 337.6,169.44 336.71,169.39 337.34,168.55 336.91,168.25 336.63,167.88 336.41,167.48 336.23,167.05 335.85,166.72 336.03,166.13 335.46,165.88 335.66,165.29 335.24,164.97 335.38,164.41 334.84,164.14 334.67,163.71 334.83,163.15 334.6,162.75 334.43,162.32 334.3,161.88 333.9,161.55 333.94,161.04 333.46,160.73 333.63,160.18 333.38,159.78 333.1,159.39 333.03,158.93 332.62,158.58 332.47,158.15 332.55,157.64 332.56,157.15 331.98,156.85 331.8,156.43 331.82,155.94 331.83,155.45 331.61,155.04 331.46,154.6 331.55,154.1 331.16,153.73 331.32,153.21 331.06,152.81 332.04,152.08 331.12,151.84 330.52,151.52 330.37,151.08 330.42,150.6 330.46,150.11 330.38,149.66 330.32,149.21 330.3,148.74 330.08,148.32 330.21,147.82 329.74,147.45 329.8,146.97 329.64,146.53 329.46,146.09 329.61,145.6 329.32,145.18 329.42,144.7 329.3,144.25 329.05,143.82 329.09,143.35 329.05,142.9 329.02,142.44 329.03,141.97 329.17,141.49 328.76,141.08 329.16,140.57 328.64,140.16 328.99,139.67 328.95,139.21 328.75,138.77 328.83,138.3 328.86,137.84 328.55,137.4 328.76,136.93 328.63,136.47 328.31,136.03 328.57,135.56 328.39,135.1 328.78,134.63 328.36,134.18 328.74,133.72 328.7,133.26 328.43,132.8 328.76,132.34 328.37,131.88 328.79,131.43 328.31,130.96 328.7,130.51 328.35,130.04 328.44,129.58 329.22,129.15 328.72,128.67 328.91,128.22 328.52,127.74 328.83,127.3 328.51,126.81 328.52,126.35 329.05,125.94 328.75,125.45 328.73,124.98 328.65,124.51 329.01,124.09 328.86,123.61 328.83,123.14 328.91,122.69 329.3,122.27 329.21,121.8 329.06,121.31 329.27,120.88 329.67,120.47 329.58,119.99 329.75,119.56 329.56,119.06 329.89,118.65 329.7,118.15 329.75,117.69 330.3,117.33 330.15,116.83 330.04,116.33 330.61,115.99 330.69,115.54 330.46,115.01 330.6,114.58 330.7,114.13 330.96,113.72 331.16,113.29 331.15,112.82 331.09,112.33 331.25,111.89 331.29,111.43 331.51,111.01 331.52,110.53 331.58,110.07 331.78,109.65 332.22,109.31 332.44,108.89 332.6,108.46 332.57,107.97 332.48,107.46 332.89,107.11 333.21,106.73 332.9,106.14 333.54,105.88 333.49,105.37 333.61,104.93 333.98,104.58 333.83,104.03 333.85,103.54 334.15,103.17 334.66,102.88 334.44,102.29 334.55,101.83 335.19,101.61 335.14,101.09 335.26,100.64 335.7,100.33 335.94,99.94 336.02,99.47 336.34,99.11 336.5,98.68 336.27,98.06 336.65,97.73 336.96,97.37 337.3,97.03 337.39,96.56 337.36,96.03 337.79,95.73 337.74,95.18 338.34,94.99 338.66,94.64 338.85,94.23 338.85,93.7 339.23,93.39 339.41,92.96 339.78,92.64 339.81,92.13 340.13,91.78 340.47,91.45 340.65,91.03 340.97,90.68 340.76,90.01 341.41,89.88 341.43,89.34 341.89,89.1 342.14,88.71 342.17,88.18 342.37,87.76 342.93,87.59 343,87.08 343.26,86.69 343.72,86.46 344.06,86.14 344.09,85.6 344.23,85.12 344.85,85.02 345.13,84.65 345.31,84.21 345.73,83.96 346.04,83.62 346.11,83.09 346.2,82.57 346.69,82.37 347.05,82.08 347.15,81.56 347.47,81.23 348.03,81.1 348.35,80.78 348.6,80.38 348.65,79.81 348.92,79.43 349.33,79.18 349.64,78.84 350,78.55 350.33,78.23 350.48,77.74 351.13,77.72 351.39,77.34 352.07,77.37 351.91,76.56 352.22,76.22 352.78,76.14 352.76,75.45 353.24,75.29 353.58,74.97 353.96,74.71 354.15,74.24 354.51,73.95 354.86,73.65 355.5,73.67 355.78,73.3 355.85,72.68 356.37,72.59 356.63,72.18 356.92,71.81 357.58,71.89 357.86,71.5 358.05,71 358.57,70.92 358.76,70.41 359.37,70.46 359.5,69.87 359.88,69.6 360.47,69.62 360.78,69.28 361.13,68.97 361.58,68.82 361.7,68.2 362.18,68.08 362.61,67.89 362.84,67.41 363.2,67.12 363.63,66.93 364.09,66.8 364.62,66.77 364.81,66.23 365.36,66.23 365.65,65.82 366.01,65.53 366.56,65.55 366.79,65.04 367.33,65.06 367.66,64.71 368.05,64.47 368.53,64.38 368.67,63.69 369.08,63.49 369.57,63.42 369.91,63.08 370.38,62.99 370.69,62.59 371.24,62.65 371.62,62.38 371.99,62.1 372.59,62.26 372.97,62 373.28,61.58 373.63,61.25 374.21,61.41 374.62,61.21 375.05,61.04 375.38,60.66 375.75,60.36 376.25,60.35 376.7,60.24 377.09,59.98 377.55,59.9 377.83,59.37 378.26,59.21 378.74,59.17 379.21,59.1 379.71,59.12 380.1,58.86 380.51,58.66 380.9,58.37 381.4,58.4 381.84,58.28 382.18,57.85 382.72,58.02 383.12,57.77 383.46,57.33 384.24,58.26 384.43,57.35 384.93,57.4 385.35,57.2 385.77,57.03 386.22,56.92 386.67,56.84 387.1,56.65 387.42,56.09 387.91,56.12 388.32,55.87 388.82,55.96 389.34,56.19 389.73,55.83 390.11,55.43 390.66,55.77 391.06,55.46 391.56,55.6 391.94,55.17 392.41,55.16 392.83,54.91 393.3,54.92 393.78,55.01 394.19,54.67 394.7,54.91 395.17,54.97 395.61,54.81 395.9,53.58 396.48,54.38 397,54.77 397.4,54.28 397.9,54.63 398.32,54.29 398.79,54.36 399.23,54.09 399.67,53.89 400.14,53.99 400.59,53.85 401.09,54.26 401.51,53.8 401.97,53.76 402.45,54.05 402.9,53.8 403.37,53.98 403.82,53.7 404.27,53.6 404.74,53.81 405.21,54 405.66,53.59 406.12,53.68 406.58,53.84 407.04,54.05 407.5,53.68" fill="none" stroke="#f0142e" stroke-width="1.3" stroke-linejoin="round"/>
<circle cx="407.5" cy="132.8" r="65.2" fill="none" stroke="#e8f4f0" stroke-width="1.1"/>
<path d="M407.7,67.7L407.7,70.7M407.8,67.7L407.8,71.0M408.2,67.3L408.2,67.8M408.8,67.3L408.6,74.4M409.1,67.6L409.1,67.7M409.4,67.8L409.3,68.6M409.9,67.8L409.9,68.8M410.1,67.7L410.1,68.8M410.7,67.8L410.6,69.2M410.7,67.5L410.6,69.4M411.3,67.7L411.1,70.3M411.8,67.9L411.8,67.8M411.8,67.8L411.8,68.3M412.3,67.8L412.2,69.6M412.8,67.7L412.6,70.1M413.0,67.7L412.9,69.4M413.4,67.9L413.3,68.6M413.9,67.8L413.8,68.6M414.2,67.7L413.9,70.6M414.4,68.1L414.4,68.6M415.0,68.2L415.0,68.1M415.4,67.8L415.2,69.1M415.8,67.9L415.3,71.9M415.9,68.2L415.6,70.5M416.6,68.1L416.2,71.2M416.7,68.4L416.6,69.4M417.1,68.2L417.0,68.7M417.6,68.1L417.1,71.4M417.7,68.4L417.6,68.7M418.4,68.5L418.3,69.5M418.8,68.4L418.6,69.4M418.9,68.4L418.6,70.5M419.4,68.7L419.3,69.0M419.9,68.8L419.8,69.2M420.0,68.7L419.4,71.7M420.5,68.8L420.4,68.9M420.7,69.0L420.7,69.2M421.2,69.2L420.9,70.8M421.4,68.9L420.0,75.6M422.0,69.1L421.9,69.5M422.2,69.2L422.0,69.7M422.4,69.5L422.4,69.4M422.8,69.5L422.5,70.8M423.1,69.6L422.7,71.5M423.9,69.8L422.7,74.4M424.0,69.5L423.8,70.2M424.3,69.5L423.7,71.6M425.0,69.8L424.3,72.5M425.1,69.8L424.9,70.5M425.8,70.0L424.3,75.1M426.0,70.2L425.8,70.9M426.4,70.3L425.8,72.5M426.4,70.2L425.2,74.4M427.0,70.3L426.5,71.9M427.5,70.5L427.2,71.2M427.5,70.5L426.4,73.9M428.0,70.9L427.9,71.1M428.2,71.1L428.2,71.3M428.9,70.9L428.5,72.0M428.9,71.3L427.9,74.1M429.5,71.1L429.0,72.3M429.9,71.5L428.7,74.8M430.3,71.6L429.8,72.7M430.7,71.6L429.8,74.1M430.7,71.7L429.5,75.0M431.1,71.8L430.8,72.6M431.7,72.1L431.4,72.8M431.9,72.4L431.5,73.4M432.5,72.3L432.0,73.4M432.4,72.4L430.8,76.3M432.9,72.7L432.1,74.6M433.2,72.6L432.6,74.0M433.6,72.8L433.3,73.5M433.8,73.0L433.6,73.4M434.4,73.4L433.9,74.6M434.5,73.2L433.3,75.8M434.9,73.8L434.8,73.8M435.2,73.6L434.9,74.3M435.4,73.9L434.5,75.8M436.2,74.0L435.9,74.5M436.2,74.1L436.1,74.3M436.6,74.6L435.7,76.3M437.0,74.5L435.9,76.5M437.3,74.8L436.8,75.8M437.6,75.1L436.9,76.3M437.8,75.1L436.4,77.7M438.6,75.2L436.8,78.4M438.7,75.5L437.3,78.1M439.0,75.7L436.4,80.5M439.4,75.8L439.3,75.9M439.6,76.0L439.0,77.1M440.0,76.1L438.7,78.5M440.2,76.1L439.5,77.3M440.5,76.6L439.9,77.6M441.1,76.8L440.6,77.6M441.0,76.9L438.8,80.5M441.3,77.0L440.3,78.7M442.0,77.4L441.2,78.7M442.0,77.4L441.2,78.7M442.4,77.7L440.8,80.3M442.6,78.1L442.0,79.0M443.0,78.2L441.6,80.4M443.6,78.1L441.4,81.4M443.8,78.5L443.3,79.3M443.9,78.9L442.5,81.0M444.3,78.9L442.9,80.9M444.7,78.9L443.5,80.6M444.8,79.3L443.5,81.0M445.2,79.5L443.5,81.9M445.7,79.9L444.8,81.1M445.7,80.1L445.8,80.0M446.2,80.5L444.6,82.6M446.4,80.2L443.5,84.2M446.9,80.7L446.1,81.7M447.0,80.9L446.8,81.2M447.5,81.2L446.7,82.3M447.8,81.5L447.3,82.2M448.0,81.4L446.2,83.7M448.4,81.8L447.0,83.6M448.5,81.9L445.8,85.4M448.8,82.2L448.2,83.0M449.4,82.5L447.6,84.6M449.4,82.7L447.6,84.8M449.5,82.9L448.0,84.7M449.8,83.3L449.3,83.8M450.1,83.5L449.4,84.3M450.6,83.7L449.1,85.3M450.8,84.1L449.3,85.9M451.1,84.1L450.4,84.9M451.6,84.5L450.6,85.5M451.3,84.7L450.5,85.6M451.9,85.1L451.4,85.6M452.1,85.1L450.6,86.7M452.5,85.5L451.2,86.8M452.9,85.7L452.3,86.3M453.0,85.9L450.6,88.5M453.2,86.1L451.6,87.7M453.6,86.3L452.6,87.3M453.9,86.6L451.9,88.5M453.8,87.0L453.8,87.1M454.2,87.5L453.4,88.3M454.7,87.8L453.5,88.8M454.7,88.0L454.7,88.0M455.0,88.3L451.3,91.8M455.3,88.4L453.5,90.1M455.5,89.0L452.1,92.1M455.6,89.0L454.1,90.3M455.9,89.2L455.8,89.3M456.3,89.5L455.3,90.5M456.4,89.9L455.6,90.6M456.9,90.0L454.9,91.8M456.9,90.4L456.0,91.2M457.4,90.8L456.3,91.7M457.4,91.0L456.5,91.7M457.9,91.3L457.1,91.9M457.9,91.4L455.8,93.1M458.3,91.5L455.4,93.9M458.5,92.4L457.8,92.8M458.9,92.2L457.8,93.0M459.1,92.5L457.5,93.8M459.2,92.7L457.0,94.4M459.5,93.1L457.6,94.6M459.7,93.6L457.3,95.4M459.9,93.6L458.3,94.8M460.3,94.2L459.1,95.0M460.2,94.3L459.3,94.9M460.5,94.7L458.7,96.0M460.8,95.0L460.6,95.1M460.9,95.5L460.7,95.6M461.1,95.6L459.9,96.4M461.3,96.0L460.8,96.3M461.5,96.2L456.3,99.7M461.7,96.4L461.3,96.7M462.0,97.0L461.6,97.2M462.1,97.5L462.1,97.5M462.4,97.4L462.0,97.7M462.5,98.0L460.3,99.4M462.8,98.0L459.6,100.0M463.2,98.4L462.5,98.8M463.3,98.8L461.6,99.8M463.6,99.0L462.8,99.5M463.4,99.3L461.1,100.7M463.8,99.6L463.6,99.8M464.0,99.9L460.6,101.9M464.3,100.5L463.8,100.8M464.4,100.9L464.2,101.0M464.7,100.9L462.4,102.2M464.8,101.3L463.3,102.2M464.9,101.7L462.3,103.0M464.9,102.0L462.7,103.2M465.3,102.5L464.8,102.8M465.4,102.6L464.7,103.0M465.7,102.8L463.6,103.9M465.8,103.2L464.4,103.9M466.1,103.6L463.8,104.7M466.1,104.0L465.4,104.3M466.2,104.3L464.6,105.0M466.1,104.7L465.9,104.8M466.3,105.0L463.6,106.3M466.7,105.6L466.2,105.8M466.9,105.6L465.2,106.3M467.2,105.9L466.4,106.2M467.2,106.1L463.1,107.9M467.3,106.6L465.8,107.3M467.5,107.0L465.8,107.7M467.8,107.4L467.5,107.5M467.9,107.6L465.3,108.7M468.1,108.0L466.7,108.6M468.3,108.5L466.3,109.3M468.2,108.8L467.0,109.3M468.4,109.2L466.3,110.0M468.3,109.4L466.8,110.0M468.6,109.6L467.7,109.9M468.9,110.3L464.9,111.8M468.6,110.4L466.7,111.1M469.2,111.0L464.7,112.5M469.1,111.0L468.1,111.4M469.1,111.4L465.8,112.5M469.0,111.9L467.6,112.4M469.2,112.3L467.4,112.9M469.4,112.9L467.0,113.6M469.6,113.2L467.5,113.9M469.6,113.5L469.5,113.5M470.0,113.6L467.1,114.4M469.9,113.9L466.4,115.0M470.1,114.2L466.6,115.3M470.3,114.7L469.6,114.9M470.2,115.3L468.3,115.8M470.6,115.5L469.3,115.8M470.5,115.8L470.1,115.9M470.6,116.0L464.8,117.5M470.7,116.4L468.8,116.9M470.6,117.0L469.3,117.3M471.0,117.4L470.6,117.5M471.0,117.8L470.8,117.8M471.1,117.9L468.8,118.5M471.1,118.4L470.7,118.5M471.0,118.6L469.4,119.0M471.2,119.0L469.0,119.5M471.2,119.7L471.1,119.7M471.4,120.1L468.1,120.7M471.6,120.1L469.2,120.6M471.7,120.5L470.4,120.7M471.9,121.0L471.5,121.1M471.7,121.2L471.4,121.2M471.7,121.6L469.8,121.9M472.1,122.2L471.8,122.2M472.1,122.4L469.6,122.8M472.1,122.8L469.9,123.1M472.3,123.1L469.2,123.5M472.2,123.3L470.0,123.6M472.3,123.9L469.3,124.3M472.1,124.1L470.0,124.3M472.3,124.7L468.4,125.2M472.1,125.0L471.9,125.0M472.5,125.4L469.8,125.7M472.1,125.6L468.3,126.0M472.3,126.3L471.4,126.4M472.3,126.4L471.5,126.5M472.4,126.7L469.7,126.9M472.6,127.4L469.0,127.7M472.8,127.7L472.4,127.7M472.3,127.8L469.9,128.0M472.5,128.3L469.2,128.6M472.4,128.9L471.5,129.0M472.7,129.1L471.5,129.1M472.6,129.4L471.9,129.5M472.6,130.0L472.3,130.0M472.9,130.0L470.4,130.1M472.6,130.5L468.0,130.7M472.9,130.9L469.1,131.0M472.8,131.5L469.4,131.5M472.9,131.5L471.4,131.5M472.5,132.0L472.2,132.0M472.6,132.5L472.6,132.5M472.7,132.9L468.1,132.9M472.9,133.0L472.3,133.0M473.0,133.7L470.8,133.6M472.7,133.8L472.2,133.8M472.9,134.2L470.6,134.1M472.6,134.4L471.5,134.4M472.7,134.9L472.4,134.9M472.9,135.6L472.4,135.6M472.5,135.7L470.3,135.6M472.7,136.2L472.2,136.2M472.6,136.6L469.1,136.4M472.6,137.1L472.3,137.1M472.6,137.5L468.6,137.2M472.5,137.8L467.5,137.5M472.6,138.0L470.6,137.9M472.4,138.4L470.1,138.2M472.5,138.8L468.9,138.5M472.7,139.1L468.8,138.7M472.4,139.6L469.2,139.3M472.2,139.7L471.5,139.6M472.3,140.2L470.5,140.0M472.5,140.6L471.2,140.4M472.1,141.0L471.7,140.9M472.0,141.3L470.5,141.1M472.3,141.9L470.2,141.6M472.1,142.1L468.2,141.6M472.1,142.5L471.0,142.3M472.1,142.8L469.8,142.4M471.7,143.2L470.8,143.1M471.7,143.7L469.3,143.3M471.7,143.8L471.0,143.7M471.7,144.3L470.6,144.1M471.5,144.4L467.3,143.7M471.5,144.8L470.6,144.7M471.7,145.3L470.5,145.0M471.3,145.7L467.7,144.9M471.2,146.1L470.8,146.0M471.2,146.5L468.7,145.9M471.2,146.9L469.9,146.6M471.3,147.3L468.9,146.7M471.2,147.8L468.4,147.2M470.8,148.0L469.3,147.7M471.1,148.2L467.4,147.3M470.6,148.6L467.3,147.7M470.9,149.0L470.2,148.8M470.8,149.3L469.8,149.0M470.6,149.7L469.0,149.3M470.5,150.2L470.1,150.1M470.2,150.3L468.9,149.9M470.0,150.9L468.9,150.6M469.9,151.2L468.3,150.7M470.0,151.5L467.7,150.8M469.8,151.7L469.6,151.6M469.7,152.0L468.9,151.8M469.8,152.5L468.8,152.2M469.4,153.0L469.0,152.9M469.5,153.3L467.6,152.7M469.3,153.5L467.7,152.9M469.0,154.0L466.7,153.3M469.2,154.2L465.4,152.9M469.0,154.5L467.2,153.9M468.6,155.0L468.0,154.8M468.7,155.5L464.8,154.0M468.4,155.6L466.0,154.7M468.2,156.1L468.1,156.1M468.1,156.5L466.7,156.0M468.4,156.7L465.7,155.6M468.1,157.4L467.3,157.1M468.1,157.4L463.3,155.4M467.7,157.6L467.2,157.4M467.4,158.1L466.3,157.7M467.3,158.7L466.6,158.4M467.3,159.1L464.2,157.7M467.1,159.2L466.9,159.1M467.2,159.5L464.4,158.3M466.8,160.0L461.0,157.3M466.5,160.3L465.3,159.7M466.8,160.6L465.5,160.0M466.3,161.2L465.1,160.6M466.3,161.4L465.7,161.1M466.1,161.6L462.7,159.9M465.7,161.9L465.8,162.0M465.8,162.3L465.1,161.9M465.4,162.7L465.3,162.6M465.3,162.7L464.2,162.2M465.1,163.2L464.8,163.0M465.0,163.6L464.2,163.1M465.1,163.9L463.5,163.0M464.6,164.4L462.4,163.2M464.5,164.3L463.0,163.5M464.5,164.8L464.2,164.6M464.3,165.4L463.8,165.1M464.0,165.6L462.5,164.7M463.8,165.8L460.9,164.1M463.6,166.0L462.5,165.4M463.3,166.2L462.6,165.8M463.2,166.7L460.0,164.7M462.9,167.3L461.8,166.7M462.9,167.3L461.2,166.2M462.9,167.7L462.0,167.1M462.3,168.0L460.9,167.1M462.2,168.3L461.9,168.1M461.9,168.7L460.9,168.1M461.8,168.9L458.7,166.8M461.8,169.3L460.8,168.7M461.4,169.9L460.5,169.3M460.9,169.9L460.8,169.9M460.9,170.1L459.9,169.4M460.5,170.6L458.8,169.4M460.7,170.8L458.7,169.4M460.2,170.8L455.4,167.4M460.0,171.2L457.8,169.6M459.9,171.9L455.9,168.9M459.7,171.8L458.5,170.9M459.3,172.5L458.4,171.8M459.0,172.6L456.8,170.9M459.0,173.1L458.0,172.4M458.8,173.4L455.7,171.0M458.4,173.6L454.7,170.6M458.2,173.5L457.7,173.1M458.2,174.3L457.9,174.1M457.7,174.3L457.7,174.3M457.5,174.6L457.2,174.3M457.5,175.0L452.7,170.9M457.2,175.2L452.7,171.3M456.8,175.4L455.0,173.7M456.4,175.8L456.0,175.5M456.1,176.1L456.0,176.0M456.3,176.3L453.9,174.2M455.8,176.9L455.5,176.6M455.3,176.9L453.0,174.8M455.4,177.0L453.1,174.9M454.9,177.4L454.0,176.6M454.8,177.8L454.5,177.5M454.3,178.0L452.7,176.5M454.3,178.4L453.2,177.4M454.3,178.5L453.8,178.1M453.7,179.0L453.1,178.4M453.4,179.2L450.9,176.8M453.4,179.4L452.4,178.4M453.0,179.5L452.1,178.7M452.7,180.0L452.5,179.9M452.2,180.2L451.3,179.2M452.1,180.3L450.8,178.9M451.8,180.5L449.9,178.4M451.4,180.7L450.3,179.5M451.1,181.1L449.0,178.7M450.8,181.3L450.3,180.8M450.8,181.4L449.6,180.1M450.2,181.8L450.2,181.8M450.2,182.1L449.9,181.7M449.8,182.2L448.4,180.6M449.5,182.7L447.2,180.0M449.3,182.7L448.7,182.1M449.2,183.0L448.3,182.0M448.8,183.1L448.8,183.1M448.3,183.6L447.7,182.8M448.1,183.6L445.5,180.4M447.7,183.9L444.9,180.4M447.8,184.3L446.2,182.2M447.4,184.6L447.2,184.3M447.2,184.6L446.9,184.2M446.7,184.7L445.7,183.5M446.6,185.1L446.1,184.5M446.0,185.5L445.8,185.2M445.9,185.4L444.8,183.9M445.4,185.8L444.4,184.5M445.4,186.1L444.4,184.7M445.0,186.3L444.7,185.8M444.6,186.5L444.5,186.2M444.4,186.6L443.2,184.9M444.2,186.7L443.7,186.0M443.8,187.3L443.3,186.5M443.2,187.3L442.2,185.8M442.9,187.4L442.1,186.3M442.9,187.8L440.8,184.5M442.2,187.9L441.5,186.7M442.0,188.1L441.5,187.4M441.7,188.3L440.3,186.1M441.4,188.6L440.3,186.9M441.3,188.8L440.7,187.8M440.7,188.9L439.8,187.4M440.5,189.2L439.8,188.0M440.1,189.1L438.5,186.4M440.0,189.5L439.7,189.0M439.6,189.9L439.2,189.1M439.1,190.0L438.4,188.6M438.7,189.9L438.6,189.6M438.7,190.3L437.9,188.9M438.2,190.1L436.5,186.9M438.3,190.6L437.3,188.9M437.6,190.6L437.2,189.9M437.6,190.9L435.5,186.9M436.7,190.9L435.6,188.7M436.5,191.3L435.6,189.5M436.0,191.3L435.7,190.7M436.0,191.7L435.1,189.7M435.5,191.5L434.9,190.3M435.3,191.7L435.2,191.4M434.9,191.9L434.2,190.5M434.6,192.4L434.2,191.6M434.3,192.1L434.1,191.6M434.1,192.4L433.2,190.4M433.7,192.6L433.5,192.1M433.2,192.8L431.6,189.1M432.7,192.8L430.8,188.2M432.4,192.9L431.4,190.5M432.3,193.0L432.3,193.0M432.0,193.4L431.5,192.2M431.4,193.6L430.4,190.9M431.1,193.4L431.1,193.5M430.9,194.0L430.6,193.0M430.6,193.7L429.7,191.6M430.1,194.0L429.7,193.0M429.9,194.3L429.2,192.6M429.7,194.4L428.9,192.1M429.1,194.4L428.5,192.6M428.9,194.4L428.7,193.9M428.4,194.9L427.3,191.6M428.0,194.6L427.5,193.4M427.4,194.9L426.7,192.5M427.5,194.8L426.9,192.9M426.9,194.9L426.7,194.0M426.4,195.3L425.9,193.5M426.2,195.3L426.1,195.0M425.8,195.6L424.4,190.8M425.4,195.4L425.0,194.2M425.0,195.4L424.0,191.7M424.8,195.4L424.8,195.1M424.4,195.9L423.7,193.3M424.1,196.0L423.5,193.7M423.7,196.0L423.6,195.6M423.3,195.9L423.0,194.9M423.0,196.3L422.8,195.4M422.6,196.5L422.4,195.8M422.1,196.4L421.6,194.5M422.0,196.5L421.4,194.2M421.6,196.5L421.4,195.6M421.2,196.7L420.6,194.0M420.6,196.6L420.4,195.3M420.6,196.5L420.0,193.5M420.3,196.8L420.1,195.9M419.6,196.9L419.6,196.8M419.2,196.9L418.9,195.4M419.2,197.0L418.8,195.0M418.8,197.2L418.6,195.9M418.0,197.1L417.8,195.7M418.0,197.3L417.5,194.3M417.3,197.4L417.2,196.7M417.2,197.1L416.6,192.7M416.6,197.5L416.5,196.8M416.6,197.6L416.3,195.5M416.1,197.3L416.0,197.1M415.5,197.7L415.4,196.8M415.5,197.6L415.3,196.3M415.0,197.7L414.5,193.6M414.8,197.8L414.3,193.8M414.1,197.5L414.0,196.0M413.9,197.6L413.6,194.3M413.3,197.9L413.1,195.0M412.9,197.8L412.8,196.9M412.7,197.7L412.6,196.6M412.5,198.0L412.0,191.5M412.2,197.8L412.1,197.0M411.6,197.7L411.5,195.3M411.1,197.7L411.1,196.3M410.8,197.8L410.7,197.1M410.5,197.9L410.3,195.2M409.9,197.9L409.9,197.4M409.8,198.0L409.8,197.4M409.4,197.9L409.4,197.4M409.1,197.8L409.1,197.4M408.7,198.0L408.7,198.0M408.4,198.1L408.3,197.4M407.8,198.2L407.8,195.8M407.3,198.1L407.3,194.9M407.3,198.2L407.3,196.7M406.7,198.0L406.8,194.5M406.2,198.0L406.2,197.1M406.0,198.2L406.1,194.0M405.7,198.0L405.7,194.9M405.2,198.1L405.2,196.0M404.9,198.0L404.9,196.5M404.6,198.2L404.7,197.6M404.4,197.8L404.4,196.3M403.9,197.9L404.0,196.6M403.6,198.0L403.8,194.9M402.9,197.9L403.1,195.6M402.9,198.0L403.1,195.1M402.1,198.1L402.2,196.7M401.7,197.9L401.9,195.9M401.4,197.9L401.6,195.3M401.3,198.0L401.7,194.0M400.7,197.5L401.1,193.6M400.6,197.8L400.8,195.3M400.2,197.8L400.5,195.4M399.7,197.5L400.1,194.4M399.2,197.4L399.6,194.4M399.1,197.3L399.1,197.4M398.5,197.6L398.6,197.1M398.2,197.4L398.4,195.8M397.8,197.3L397.9,197.0M397.4,197.5L397.4,197.0M396.9,197.4L397.0,196.4M396.7,197.4L397.0,196.1M396.2,196.8L396.3,196.4M395.9,197.0L396.0,196.6M395.6,196.8L395.8,195.6M395.4,197.0L395.9,194.3M395.0,197.1L395.5,194.4M394.3,196.9L394.8,194.6M394.1,196.7L394.4,195.4M393.8,196.8L393.8,196.5M393.6,196.7L393.8,195.9M393.3,196.5L393.4,195.8M392.6,196.5L393.5,192.5M392.4,196.4L392.5,195.9M392.0,196.2L392.7,193.3M391.7,196.2L391.7,196.0M391.2,196.1L392.5,191.1M391.1,196.0L391.3,195.1M390.6,195.7L390.9,194.6M390.4,195.9L391.6,191.2M389.6,195.5L390.1,194.0M389.5,195.6L390.2,193.0M389.0,195.4L389.5,193.7M388.7,195.5L389.1,194.1M388.5,195.0L389.9,190.3M388.0,194.9L388.8,192.3M387.7,195.0L387.9,194.3M387.3,194.8L387.5,194.2M387.0,194.6L387.3,193.7M386.4,194.6L386.7,193.8M386.2,194.6L386.7,193.1M386.0,194.4L387.3,190.6M385.7,194.1L387.2,189.9M385.2,194.3L386.0,192.2M385.0,193.9L385.1,193.6M384.5,193.9L384.6,193.6M384.1,193.5L385.2,190.6M383.7,193.3L384.5,191.2M383.5,193.3L383.6,193.2M382.8,193.5L383.1,192.8M382.9,193.0L384.2,189.8M382.5,192.9L382.4,193.0M382.2,192.9L382.3,192.6M382.0,192.8L382.6,191.4M381.5,192.6L381.8,191.9M381.2,192.7L381.5,191.9M380.8,192.5L381.1,191.8M380.6,192.0L380.8,191.6M380.1,192.0L381.9,188.2M379.8,191.6L380.8,189.5M379.1,191.8L379.3,191.5M379.2,191.6L379.9,190.1M378.8,191.4L379.5,190.0M378.6,191.0L378.8,190.6M378.2,191.1L378.5,190.5M377.7,190.7L378.7,188.7M377.5,190.9L378.9,188.0M377.0,190.6L378.0,188.7M376.7,190.5L378.2,187.7M376.4,190.2L376.9,189.3M376.0,189.8L377.8,186.7M375.7,189.7L376.0,189.0M375.3,189.8L376.1,188.4M375.4,189.4L376.2,188.0M374.7,189.3L375.7,187.6M374.3,189.1L375.8,186.5M374.4,188.7L375.2,187.4M373.7,188.9L374.1,188.2M373.6,188.3L373.6,188.3M373.0,188.5L374.8,185.6M372.7,188.1L373.6,186.8M372.3,187.9L374.9,183.9M372.2,187.6L373.7,185.4M371.9,187.2L372.1,186.9M371.4,187.2L372.1,186.1M371.3,187.2L372.5,185.4M371.0,187.1L371.6,186.4M370.5,186.7L371.0,185.9M370.4,186.2L370.9,185.4M369.9,186.3L371.5,184.0M369.8,186.2L370.4,185.3M369.5,185.6L369.6,185.4M369.0,185.7L369.7,184.7M369.1,185.2L369.5,184.6M368.6,185.4L368.8,185.2M368.4,184.8L369.2,183.8M368.0,184.4L368.2,184.1M367.7,184.5L368.4,183.7M367.5,184.0L367.9,183.6M367.0,183.9L367.2,183.5M366.6,183.8L368.2,181.9M366.7,183.5L367.8,182.2M366.3,183.2L369.9,178.8M365.9,183.0L366.2,182.6M365.7,182.8L366.6,181.8M365.5,182.5L370.0,177.2M365.0,182.2L367.3,179.5M365.0,182.0L366.3,180.6M364.6,181.8L365.9,180.4M364.2,181.4L364.5,181.1M364.0,181.1L366.7,178.1M363.5,181.1L364.2,180.3M363.2,180.8L363.9,180.1M363.1,180.6L363.5,180.2M362.7,180.3L363.4,179.6M362.3,180.2L363.8,178.5M362.2,179.7L362.3,179.6M362.2,179.5L363.7,177.9M361.7,179.5L363.2,178.0M361.4,178.9L362.0,178.3M361.1,178.7L361.3,178.4M360.9,178.3L360.9,178.3M360.7,178.3L362.7,176.5M360.4,178.0L363.1,175.4M360.1,177.6L362.1,175.7M359.8,177.7L360.2,177.3M359.6,177.2L360.4,176.5M359.6,177.1L359.6,177.0M359.4,176.6L360.2,175.9M359.1,176.3L359.7,175.7M358.6,176.3L358.9,176.0M358.6,175.7L359.2,175.1M358.3,175.3L359.3,174.4M357.9,175.5L359.2,174.4M357.9,174.8L359.8,173.2M357.4,174.9L358.5,174.0M357.3,174.3L358.6,173.1M356.9,174.2L360.1,171.6M356.8,173.6L357.6,172.9M356.6,173.6L361.4,169.7M356.2,173.3L358.2,171.7M356.2,173.0L356.7,172.6M355.8,172.5L356.9,171.8M355.7,172.3L356.5,171.7M355.2,172.1L356.6,171.1M355.1,171.6L355.6,171.2M354.8,171.6L356.7,170.3M354.8,171.1L356.3,170.1M354.3,170.8L355.7,169.8M354.4,170.5L356.2,169.1M353.9,170.3L355.5,169.2M353.7,169.9L356.1,168.2M353.7,169.8L354.1,169.5M353.4,169.2L356.1,167.3M353.3,169.2L353.9,168.8M353.3,168.6L353.4,168.6M352.6,168.3L354.3,167.2M352.7,167.9L353.3,167.5M352.3,167.6L355.6,165.5M352.0,167.5L353.3,166.7M351.9,167.4L354.4,165.9M351.9,166.7L352.9,166.1M351.8,166.6L352.8,166.0M351.5,165.9L351.7,165.7M351.1,166.1L352.4,165.3M351.0,165.7L353.1,164.4M351.0,165.2L355.2,162.8M350.7,164.9L350.9,164.8M350.7,164.5L353.0,163.2M350.1,164.3L351.9,163.3M350.1,164.0L350.4,163.8M350.2,163.7L351.6,162.9M349.8,163.3L351.1,162.7M349.8,163.0L352.7,161.5M349.4,162.8L351.8,161.6M349.4,162.3L349.4,162.3M349.2,162.1L351.5,160.9M349.1,161.6L351.0,160.7M348.6,161.5L349.0,161.3M348.7,160.7L349.8,160.2M348.5,160.8L348.9,160.6M348.3,160.2L348.9,160.0M348.0,159.9L351.5,158.3M348.2,159.7L348.5,159.6M347.6,159.1L348.2,158.9M347.4,158.8L348.7,158.2M347.8,158.6L347.8,158.6M347.2,158.4L347.7,158.2M347.2,157.8L348.1,157.4M347.4,157.6L349.1,156.9M346.8,157.4L347.2,157.2M346.8,156.6L347.3,156.4M346.7,156.5L350.4,155.1M346.3,156.0L347.8,155.4M346.6,155.8L351.0,154.1M346.2,155.2L348.7,154.3M346.1,155.0L347.9,154.4M345.9,154.9L347.3,154.4M346.0,154.4L349.3,153.2M345.7,154.0L347.3,153.4M345.6,153.6L346.5,153.3M345.6,153.3L347.3,152.8M345.6,152.9L345.5,152.9M345.4,152.8L346.6,152.4M345.3,152.4L346.6,152.0M345.2,151.7L345.7,151.6M345.1,151.7L345.5,151.6M345.0,150.9L348.2,150.0M344.9,150.9L346.8,150.3M344.7,150.6L344.9,150.6M344.5,150.0L348.8,148.8M344.6,149.8L349.0,148.6M344.4,149.5L346.5,148.9M344.5,148.8L345.7,148.5M344.2,148.9L346.0,148.4M344.2,148.1L345.2,147.9M344.1,148.1L344.5,148.0M344.0,147.8L345.8,147.4M343.7,147.3L344.3,147.2M343.8,146.7L345.2,146.4M343.8,146.6L344.8,146.3M343.8,145.9L345.3,145.6M343.6,145.8L346.4,145.2M343.5,145.3L344.4,145.1M343.3,145.2L344.7,144.9M343.5,144.4L344.1,144.3M343.0,144.2L343.7,144.1M343.2,144.1L345.3,143.7M343.2,143.3L347.5,142.6M343.1,143.1L343.8,143.0M342.9,142.7L343.4,142.7M342.9,142.6L346.5,142.1M342.9,142.0L343.0,141.9M342.7,142.0L344.3,141.7M342.9,141.3L342.9,141.3M342.6,141.0L345.8,140.6M342.7,140.4L345.9,140.1M342.8,140.2L343.1,140.2M342.5,140.1L347.2,139.6M342.5,139.6L346.5,139.2M342.4,139.3L344.3,139.1M342.4,139.0L346.1,138.6M342.6,138.3L342.9,138.3M342.6,137.9L343.7,137.8M342.6,137.8L343.8,137.7M342.6,137.4L342.6,137.4M342.6,137.1L344.1,137.0M342.4,136.7L343.5,136.6M342.2,136.4L342.6,136.3M342.3,136.0L343.0,135.9M342.2,135.6L344.8,135.5M342.4,135.2L347.7,135.0M342.1,134.8L343.0,134.8M342.1,134.2L342.9,134.2M342.2,134.0L344.1,133.9M342.2,133.6L343.3,133.5M342.4,133.2L343.9,133.2M342.4,132.8L344.8,132.8M342.3,132.2L344.4,132.3M342.5,132.0L343.0,132.0M342.4,131.6L343.5,131.6M342.0,131.5L343.6,131.5M342.1,131.1L345.1,131.2M342.3,130.5L344.3,130.6M342.5,130.2L344.2,130.3M342.2,129.8L343.0,129.8M342.5,129.2L344.9,129.4M342.5,129.1L344.0,129.1M342.5,128.5L342.5,128.5M342.4,128.2L344.6,128.3M342.6,128.2L343.6,128.2M342.6,127.4L344.5,127.6M342.6,127.4L344.2,127.5M342.3,126.8L342.9,126.9M342.3,126.4L346.4,126.8M342.9,125.9L344.4,126.1M342.5,125.6L343.2,125.7M342.8,125.3L346.1,125.7M342.7,124.8L343.2,124.9M342.9,124.8L344.4,125.0M342.8,124.2L343.0,124.2M342.7,123.8L343.1,123.9M342.7,123.7L343.3,123.8M343.2,123.0L344.1,123.2M343.0,122.8L344.2,123.0M343.2,122.4L345.9,122.9M343.3,122.3L344.6,122.5M343.3,121.5L345.4,121.9M343.1,121.5L345.2,121.9M343.1,120.9L345.9,121.4M343.5,120.5L347.0,121.2M343.6,120.3L345.1,120.6M343.6,119.8L345.4,120.2M343.6,119.6L345.2,120.0M343.7,119.0L344.4,119.2M343.8,118.7L344.8,118.9M343.8,118.2L347.3,119.0M344.0,117.8L345.4,118.1M344.1,117.7L344.6,117.8M344.2,117.4L346.0,117.9M344.2,117.1L346.4,117.6M344.2,116.4L346.0,116.9M344.4,116.0L345.4,116.3M344.7,115.7L345.1,115.8M344.3,115.6L345.9,116.0M344.9,115.0L345.0,115.0M344.8,115.0L348.1,115.9M345.0,114.4L347.6,115.2M345.2,114.2L348.3,115.1M345.0,113.7L348.9,114.9M345.5,113.3L346.5,113.6M345.3,113.1L346.6,113.5M345.6,112.5L347.9,113.3M345.4,112.1L347.1,112.7M345.8,112.0L347.3,112.5M346.1,111.5L347.9,112.1M346.0,111.3L348.4,112.1M346.1,111.0L347.3,111.5M346.0,110.3L347.5,110.9M346.4,110.3L348.9,111.2M346.3,109.7L349.4,110.9M346.8,109.4L348.0,109.9M346.6,109.0L346.8,109.1M347.0,108.7L350.0,109.9M346.9,108.4L349.1,109.4M347.1,108.1L350.4,109.4M347.1,107.6L348.6,108.2M347.4,107.3L347.9,107.5M347.8,107.1L348.0,107.2M347.6,106.6L349.2,107.3M347.9,106.5L348.6,106.8M348.2,106.0L350.1,106.9M348.0,105.7L351.4,107.3M348.4,105.6L350.5,106.6M348.5,105.3L349.8,105.9M348.4,104.7L351.1,106.0M348.6,104.5L349.2,104.8M348.8,104.0L352.6,105.9M349.2,103.5L351.8,104.8M349.2,103.1L350.4,103.7M349.5,102.9L350.5,103.5M349.5,102.7L349.7,102.8M349.7,102.3L349.9,102.4M349.9,101.9L351.3,102.7M350.2,101.9L351.0,102.3M350.4,101.5L350.7,101.6M350.8,101.0L352.5,101.9M350.9,100.7L352.2,101.4M351.1,100.3L351.7,100.7M351.3,100.1L352.8,101.0M351.2,99.6L352.8,100.6M351.7,99.5L351.8,99.6M351.5,98.8L354.1,100.4M351.9,98.9L354.2,100.3M352.2,98.6L354.5,100.0M352.1,98.0L353.7,99.0M352.4,97.9L354.7,99.3M352.6,97.4L355.7,99.4M353.0,97.2L353.5,97.5M353.1,96.9L353.9,97.5M353.0,96.5L355.2,98.0M353.5,96.4L353.5,96.3M353.7,96.1L354.0,96.3M353.9,95.7L354.1,95.9M353.9,95.2L354.6,95.6M354.3,94.9L354.9,95.3M354.5,94.7L354.9,95.0M354.8,94.4L355.7,95.1M355.0,94.2L358.8,97.0M355.0,93.8L357.2,95.4M355.4,93.3L356.8,94.4M355.8,93.4L357.1,94.4M355.9,93.2L355.9,93.1M356.0,92.4L356.3,92.6M356.2,92.1L356.9,92.7M356.4,92.3L357.9,93.5M356.5,91.7L356.9,91.9M357.1,91.3L359.7,93.5M357.3,91.1L358.3,91.9M357.2,90.9L358.1,91.6M357.7,90.5L359.8,92.2M358.2,90.4L359.5,91.5M358.3,90.1L359.6,91.3M358.4,89.9L359.5,90.8M358.8,89.6L360.3,90.9M359.2,89.3L360.3,90.4M359.0,88.8L362.1,91.6M359.5,88.6L359.6,88.7M359.7,88.5L359.7,88.5M360.0,88.3L360.6,88.8M360.1,87.8L360.7,88.4M360.6,87.7L361.2,88.3M360.8,87.4L361.1,87.6M361.0,87.0L363.1,89.0M361.1,87.0L362.5,88.3M361.5,86.3L363.9,88.7M361.9,86.1L361.9,86.2M362.0,86.2L363.5,87.8M362.2,85.8L363.0,86.7M362.7,85.4L365.2,88.1M362.9,85.2L363.1,85.4M363.2,84.9L363.5,85.1M363.6,84.7L364.4,85.6M363.7,84.6L364.4,85.3M363.7,84.2L365.2,85.9M364.3,84.1L367.6,87.8M364.6,83.8L365.5,84.9M364.7,83.4L366.6,85.5M365.0,83.3L365.3,83.7M365.4,82.8L367.3,85.1M365.6,82.7L368.1,85.8M365.8,82.7L365.9,82.8M366.0,82.3L367.3,83.9M366.4,82.2L368.5,84.8M366.7,82.1L367.6,83.2M367.3,81.7L369.3,84.2M367.2,81.4L368.1,82.6M367.7,80.9L368.3,81.6M368.0,81.1L369.2,82.6M368.3,80.6L369.0,81.4M368.7,80.5L369.6,81.7M368.6,80.2L368.9,80.5M369.2,80.1L371.8,83.7M369.5,79.9L371.7,83.1M369.7,79.7L369.7,79.7M369.9,79.2L371.6,81.6M370.2,79.0L371.5,80.9M370.6,78.7L371.7,80.3M370.8,78.6L371.2,79.2M371.2,78.7L372.0,79.8M371.8,78.3L373.5,80.9M371.7,78.0L372.6,79.3M372.3,77.8L372.5,78.1M372.3,77.6L373.0,78.8M372.8,77.6L373.0,77.8M373.3,77.5L373.6,77.9M373.5,76.9L375.7,80.6M374.0,76.9L374.2,77.2M374.1,76.8L374.8,78.1M374.4,76.8L375.2,78.1M374.5,76.2L376.3,79.3M375.1,76.3L376.8,79.4M375.3,76.1L376.9,78.9M375.8,76.0L376.9,78.1M376.3,75.8L377.1,77.3M376.6,75.4L379.0,79.9M376.6,75.1L377.5,76.8M377.0,75.1L377.1,75.1M377.6,75.0L378.6,76.9M377.7,74.9L379.3,78.0M378.1,74.7L378.2,74.9M378.4,74.5L380.4,78.7M378.6,74.1L378.9,74.9M378.9,74.0L380.1,76.4M379.4,73.7L381.4,77.7M379.6,73.8L380.9,76.5M380.3,73.6L380.5,74.1M380.6,73.4L382.4,77.4M381.0,73.4L381.6,74.7M381.1,73.1L381.8,74.5M381.3,73.0L382.1,74.9M381.6,72.8L382.1,74.0M382.2,72.8L383.4,75.7M382.2,72.5L383.9,76.5M382.7,72.4L383.1,73.2M383.2,72.1L384.1,74.3M383.4,72.3L384.1,74.0M384.0,72.0L384.6,73.5M384.1,71.9L384.7,73.3M384.5,71.9L384.8,72.7M384.8,71.6L384.9,71.9M385.4,71.7L385.7,72.5M385.8,71.5L385.8,71.4M385.7,71.1L386.3,72.9M386.1,71.1L386.8,73.4M386.6,71.0L387.2,72.8M387.0,71.0L387.0,71.0M387.3,70.8L387.7,71.8M387.8,70.8L389.1,75.0M388.3,70.7L389.3,73.9M388.6,70.4L389.0,71.8M389.0,70.4L389.3,71.3M389.1,70.1L389.3,70.9M389.7,69.9L390.4,72.4M389.7,69.9L390.1,71.3M390.4,69.7L391.1,72.3M390.6,69.6L391.4,72.4M391.1,69.8L391.6,71.8M391.2,69.7L392.4,74.3M391.8,69.6L392.5,72.6M392.1,69.4L393.2,73.9M392.4,69.5L393.5,74.0M392.8,69.0L392.9,69.5M393.1,69.2L393.4,70.3M393.3,68.9L394.0,72.1M393.8,69.0L394.1,70.6M394.2,68.9L394.3,69.3M394.4,68.7L394.5,69.1M395.0,68.9L395.3,70.2M395.3,68.6L395.8,71.2M395.5,68.6L395.7,69.5M396.0,68.7L396.0,68.8M396.5,68.7L396.6,69.0M396.7,68.2L397.0,69.9M396.9,68.3L397.1,69.4M397.3,68.4L397.7,71.2M397.6,68.2L398.6,74.5M398.2,68.1L398.6,70.4M398.4,68.2L398.7,70.4M398.8,68.3L398.8,68.4M399.5,67.9L399.6,69.0M399.8,68.0L400.1,70.5M400.2,68.0L400.2,68.8M400.5,67.8L400.6,69.3M400.8,68.0L401.0,69.5M401.3,67.8L401.4,68.2M401.4,67.6L401.6,69.6M402.0,67.6L402.1,68.6M402.3,67.9L402.5,70.4M402.8,67.6L403.0,70.6M403.2,67.9L403.4,70.6M403.3,67.9L403.4,69.1M403.6,67.7L403.6,68.5M404.0,67.8L404.0,67.9M404.7,67.6L404.8,70.8M404.7,67.6L404.8,67.9M405.4,67.7L405.5,69.6M405.5,67.8L405.5,68.6M406.1,67.7L406.2,71.0M406.5,67.6L406.6,73.0M406.9,67.7L406.9,73.5M407.2,67.6L407.2,69.9" stroke="#cfe9e0" stroke-width="0.3" fill="none"/>
<circle cx="407.5" cy="132.8" r="53.2" fill="none" stroke="#e8f4f0" stroke-width="1.1"/>
<path d="M407.3,79.8L407.3,79.0M407.8,79.4L407.8,79.5M408.3,79.8L408.3,78.1M408.4,79.9L408.5,78.7M409.1,79.6L409.1,79.6M409.2,79.9L409.3,79.5M409.6,79.8L409.7,79.0M410.0,79.7L410.0,79.2M410.6,79.7L410.6,79.1M410.7,79.9L410.8,79.0M411.3,79.7L411.3,79.7M411.4,80.0L411.4,79.4M412.1,79.9L412.2,78.6M412.3,79.9L412.3,79.0M412.7,79.7L412.8,79.3M413.1,79.7L413.1,79.1M413.4,80.0L413.6,77.6M414.0,80.2L414.0,79.8M414.4,79.9L414.4,79.3M414.6,80.2L414.7,79.4M414.8,80.3L415.0,79.4M415.1,80.4L415.3,78.6M415.8,80.2L415.8,80.0M416.1,80.5L416.5,78.1M416.5,80.4L416.6,79.7M416.6,80.4L416.7,80.0M417.3,80.4L417.4,79.9M417.6,80.6L417.6,80.2M417.7,80.4L417.8,79.9M418.3,80.9L418.4,80.5M418.4,81.0L418.9,78.2M419.0,81.1L419.4,79.6M419.4,81.2L419.8,79.5M419.7,81.1L420.0,79.9M420.1,81.4L420.2,81.0M420.5,81.1L421.2,78.6M420.7,81.2L420.7,81.2M421.1,81.7L421.2,81.4M421.4,81.5L421.6,80.9M422.0,81.6L422.0,81.5M422.2,81.7L422.4,81.2M422.6,81.7L422.9,80.6M422.8,81.8L422.8,81.8M423.3,82.2L423.5,81.6M423.6,82.0L423.9,81.0M423.9,82.4L424.3,81.3M424.2,82.5L424.6,81.3M424.7,82.4L425.4,80.6M425.1,82.8L426.2,79.5M425.2,82.5L425.7,81.3M425.8,82.9L426.0,82.4M426.1,83.1L426.2,82.8M426.6,83.0L426.7,82.6M426.9,83.2L427.1,82.8M427.1,83.6L427.6,82.3M427.3,83.5L427.4,83.1M427.6,83.6L427.8,83.1M427.8,84.0L428.1,83.2M428.4,84.1L428.7,83.5M428.8,84.1L429.1,83.4M428.9,84.3L429.3,83.3M429.4,84.1L429.8,83.4M429.9,84.4L429.9,84.5M430.1,84.7L430.3,84.4M430.4,84.7L430.5,84.7M430.9,84.9L431.0,84.7M431.2,85.5L431.6,84.6M431.5,85.2L432.0,84.3M431.8,85.4L432.8,83.5M431.9,85.8L432.1,85.5M432.3,86.0L432.9,84.8M432.7,86.2L433.1,85.4M433.2,86.3L433.8,85.2M433.3,86.4L434.4,84.4M433.7,86.5L434.2,85.7M434.3,86.6L435.4,84.7M434.5,86.8L435.2,85.7M434.6,87.2L435.8,85.1M435.2,87.2L436.7,84.7M435.6,87.4L436.0,86.7M435.5,87.8L435.7,87.5M435.8,88.0L436.1,87.6M436.2,88.3L436.4,88.0M436.8,88.2L437.9,86.6M437.0,88.4L437.6,87.5M437.1,88.9L437.6,88.3M437.6,89.0L437.7,88.9M437.7,89.2L438.1,88.8M438.3,89.4L439.7,87.5M438.3,89.5L438.4,89.4M438.8,89.8L440.0,88.1M439.0,90.2L439.5,89.6M439.2,90.4L439.8,89.6M439.7,90.6L440.7,89.2M439.8,90.7L440.0,90.4M440.4,90.7L441.2,89.6M440.5,91.0L440.8,90.6M440.9,91.2L441.0,91.0M441.0,91.6L442.6,89.6M441.3,91.7L441.8,91.1M441.7,92.2L443.0,90.7M442.0,92.1L441.9,92.2M442.3,92.4L442.8,91.8M442.3,92.8L443.5,91.5M442.7,92.9L443.3,92.2M443.1,93.2L443.5,92.8M443.4,93.7L444.4,92.6M443.8,93.7L444.3,93.3M443.7,94.2L445.3,92.6M444.1,94.2L444.3,93.9M444.5,94.6L444.8,94.3M444.6,94.8L444.7,94.7M445.1,95.2L446.0,94.2M445.3,95.2L445.7,94.8M445.5,95.5L446.4,94.6M445.9,95.9L446.7,95.1M445.8,96.2L446.5,95.5M446.3,96.5L447.7,95.3M446.7,96.6L447.2,96.1M446.9,97.0L447.7,96.2M447.1,97.1L447.9,96.4M447.5,97.5L448.1,97.0M447.5,97.8L448.0,97.2M447.6,98.0L448.0,97.7M447.9,98.4L448.1,98.3M448.1,98.7L449.1,97.9M448.5,99.2L449.2,98.5M448.8,99.0L449.9,98.1M448.8,99.6L450.2,98.4M449.0,99.8L449.2,99.6M449.4,100.1L449.5,100.1M449.5,100.6L450.4,99.9M449.7,100.7L451.0,99.8M449.9,100.9L450.2,100.6M450.4,101.1L452.1,99.9M450.3,101.7L451.3,101.0M450.6,101.9L451.3,101.3M451.1,102.1L451.5,101.8M450.9,102.4L451.7,101.9M451.4,102.9L452.4,102.3M451.7,102.8L453.8,101.4M451.9,103.3L452.4,102.9M452.1,103.7L452.1,103.7M452.2,104.0L452.5,103.8M452.3,104.5L452.8,104.2M452.5,104.5L454.0,103.6M452.6,104.9L453.3,104.5M452.7,105.3L453.5,104.8M453.3,105.4L453.5,105.2M453.4,105.8L454.7,104.9M453.7,106.2L454.2,105.9M453.5,106.7L455.0,105.8M453.9,106.8L454.1,106.7M454.0,107.4L454.4,107.2M454.4,107.5L454.4,107.5M454.3,107.9L455.5,107.3M454.5,108.0L455.3,107.6M454.7,108.7L455.0,108.5M455.0,108.7L455.1,108.7M455.0,109.1L455.2,109.0M455.4,109.4L455.6,109.3M455.4,110.0L455.7,109.8M455.7,110.3L457.0,109.7M455.9,110.6L456.5,110.3M455.9,110.8L456.2,110.7M455.8,111.1L457.1,110.6M456.2,111.5L456.9,111.2M456.5,111.7L456.5,111.7M456.7,112.1L457.5,111.7M456.6,112.8L458.0,112.2M456.9,112.6L458.5,112.0M456.8,113.5L457.5,113.1M457.1,113.4L458.3,112.9M457.1,114.1L459.9,113.0M457.1,114.2L458.3,113.7M457.3,114.5L457.6,114.4M457.3,114.9L458.6,114.4M457.6,115.5L458.6,115.2M457.9,115.7L459.0,115.4M457.7,116.2L459.1,115.7M458.1,116.4L459.0,116.1M458.3,116.8L459.4,116.5M458.3,117.0L458.8,116.9M458.5,117.4L459.9,117.0M458.3,117.7L459.8,117.2M458.7,118.1L459.2,117.9M458.6,118.7L459.5,118.5M459.0,118.7L459.3,118.7M458.9,119.3L461.6,118.6M459.0,119.4L459.4,119.3M459.2,120.0L459.3,120.0M459.4,120.3L460.9,119.9M459.0,120.8L459.6,120.7M459.5,120.8L460.5,120.6M459.4,121.6L460.1,121.4M459.4,121.7L460.9,121.4M459.6,122.2L460.4,122.1M459.8,122.3L460.5,122.2M459.8,122.9L461.9,122.5M459.5,123.2L460.0,123.1M460.0,123.7L460.3,123.6M460.0,124.0L460.2,124.0M460.0,124.4L460.9,124.2M460.2,124.5L461.6,124.3M459.8,125.0L461.3,124.8M460.3,125.3L461.1,125.2M460.2,125.8L460.3,125.8M460.2,126.1L460.4,126.1M460.5,126.5L461.5,126.4M460.1,126.7L460.9,126.6M460.3,127.4L462.3,127.2M460.4,127.6L461.0,127.6M460.2,127.9L461.4,127.8M460.6,128.3L461.5,128.2M460.6,128.8L460.9,128.7M460.4,128.9L461.9,128.8M460.4,129.3L461.3,129.3M460.4,129.8L461.7,129.7M460.5,130.1L461.1,130.1M460.4,130.5L460.7,130.5M460.5,131.0L460.8,131.0M460.7,131.2L462.2,131.2M460.8,131.7L461.6,131.7M460.8,131.9L461.1,131.9M460.5,132.3L461.9,132.2M460.6,133.0L461.1,133.0M460.7,133.2L463.1,133.2M460.7,133.7L462.6,133.7M460.8,133.9L460.7,133.9M460.7,134.2L462.7,134.3M460.8,134.5L460.7,134.5M460.5,135.2L460.7,135.2M460.8,135.2L460.9,135.2M460.6,135.7L461.8,135.7M460.7,136.3L462.3,136.4M460.8,136.6L461.2,136.6M460.3,137.0L460.9,137.0M460.5,137.4L460.7,137.4M460.7,137.6L461.2,137.7M460.5,137.9L460.5,137.9M460.6,138.2L461.1,138.3M460.2,138.6L460.7,138.6M460.4,139.1L462.4,139.3M460.5,139.4L461.5,139.5M460.2,140.0L461.7,140.2M459.9,140.3L460.7,140.4M460.2,140.7L461.9,141.0M460.0,141.1L460.4,141.1M460.1,141.1L461.4,141.4M459.7,141.5L462.5,142.0M460.0,142.0L460.9,142.2M459.6,142.3L460.3,142.4M459.8,142.8L460.1,142.8M459.4,143.2L461.2,143.6M459.8,143.4L461.4,143.7M459.5,144.0L460.1,144.1M459.5,144.2L459.7,144.3M459.4,144.4L460.9,144.7M459.0,145.0L459.9,145.2M459.3,145.2L460.4,145.4M458.9,145.6L459.6,145.7M458.9,146.0L459.1,146.0M459.0,146.3L461.2,146.9M458.9,146.6L460.3,147.0M458.6,147.0L460.1,147.4M458.5,147.6L459.8,147.9M458.6,148.0L458.8,148.0M458.6,148.1L458.8,148.2M458.3,148.4L459.3,148.7M458.1,148.9L459.9,149.4M458.0,149.3L459.1,149.6M458.1,149.7L458.4,149.8M457.9,149.9L459.8,150.6M457.5,150.4L457.7,150.5M457.6,150.7L458.3,150.9M457.5,150.9L457.5,150.9M457.6,151.3L461.3,152.6M457.3,151.6L457.8,151.8M457.0,152.2L457.5,152.4M456.7,152.3L457.7,152.7M456.6,152.7L458.9,153.7M456.5,152.9L457.8,153.4M456.5,153.6L457.9,154.1M456.2,153.7L458.5,154.7M456.1,154.2L458.0,155.0M455.9,154.3L457.5,155.0M456.0,154.8L457.9,155.6M455.5,155.1L457.2,155.9M455.5,155.5L455.9,155.7M455.3,155.7L456.4,156.2M455.5,156.1L457.1,156.9M455.0,156.5L455.8,156.9M454.7,156.7L455.3,157.0M454.8,157.2L455.5,157.5M454.8,157.3L454.8,157.4M454.7,157.7L454.8,157.8M454.5,158.0L455.0,158.3M454.3,158.4L454.6,158.6M453.9,158.6L454.9,159.1M453.7,158.9L454.3,159.3M453.7,159.4L454.3,159.7M453.4,159.9L453.6,160.1M453.4,160.0L453.6,160.0M453.1,160.3L453.3,160.4M452.7,160.5L453.3,160.9M452.4,160.8L453.4,161.4M452.4,161.4L453.2,161.9M452.0,161.5L452.9,162.1M452.0,161.8L452.9,162.3M451.6,162.0L453.6,163.2M451.8,162.6L452.6,163.2M451.4,162.9L451.9,163.2M451.2,163.1L452.9,164.2M450.8,163.4L452.3,164.5M450.5,163.6L450.9,163.9M450.3,164.0L451.8,165.1M450.5,164.3L451.0,164.6M450.0,164.4L450.3,164.6M449.7,164.8L451.6,166.2M449.7,165.5L450.2,165.8M449.3,165.3L450.8,166.4M449.3,165.9L449.4,166.0M449.0,166.0L450.1,166.9M448.6,166.2L449.9,167.2M448.4,166.6L448.6,166.8M448.1,167.0L448.5,167.4M448.0,167.5L448.0,167.5M447.7,167.5L447.8,167.6M447.3,167.6L447.7,167.9M447.3,168.1L448.0,168.7M446.8,168.3L447.2,168.6M446.9,168.7L448.4,170.1M446.3,168.8L446.6,169.0M446.4,169.2L447.1,169.8M446.1,169.5L446.3,169.7M445.8,169.6L446.3,170.0M445.5,170.0L446.4,170.9M445.1,170.1L446.3,171.4M445.1,170.6L445.6,171.1M444.7,171.0L445.1,171.4M444.4,170.8L445.3,171.7M444.4,171.3L444.5,171.4M443.8,171.4L444.7,172.4M443.5,171.9L444.1,172.6M443.5,171.9L443.8,172.3M442.9,172.2L443.4,172.8M442.7,172.5L442.8,172.6M442.6,172.8L442.9,173.2M442.4,173.2L442.8,173.7M441.8,173.3L442.8,174.5M441.6,173.7L442.1,174.3M441.3,173.5L442.4,174.9M441.2,174.0L441.7,174.6M440.6,174.3L441.0,174.8M440.6,174.6L441.3,175.4M440.1,174.5L440.3,174.8M440.1,175.0L441.5,176.8M439.5,175.1L440.3,176.2M439.3,175.1L440.1,176.1M439.0,175.4L439.9,176.6M438.8,175.9L439.5,176.9M438.6,176.0L439.4,177.1M438.1,175.9L438.4,176.4M437.6,176.4L437.8,176.8M437.5,176.7L437.7,177.0M437.3,177.0L437.3,176.9M437.0,177.3L437.2,177.6M436.6,177.1L437.3,178.3M436.0,177.4L436.2,177.7M436.0,177.9L436.0,177.9M435.6,177.8L437.0,179.9M435.2,178.2L436.7,180.6M435.1,178.3L435.4,178.7M434.9,178.6L434.8,178.5M434.3,178.7L435.2,180.2M434.2,178.9L434.6,179.6M433.9,179.1L434.2,179.6M433.4,179.4L433.7,179.9M432.8,179.2L433.4,180.2M432.8,179.3L433.6,180.9M432.5,179.7L433.1,180.9M432.0,179.8L432.2,180.2M431.8,180.0L432.2,180.8M431.5,180.3L432.5,182.3M431.3,180.4L431.6,181.1M430.7,180.7L430.9,181.2M430.4,180.5L430.9,181.6M430.3,180.9L430.9,182.1M429.8,180.9L430.2,181.7M429.4,181.4L429.7,182.2M429.1,181.6L429.3,181.9M428.8,181.3L429.4,182.6M428.4,181.9L429.4,184.0M428.1,181.7L428.2,181.9M427.9,182.0L428.4,183.0M427.5,182.2L427.7,182.5M427.1,182.3L427.4,183.0M426.6,182.2L427.1,183.7M426.4,182.7L426.6,183.2M425.9,182.8L426.3,183.8M425.8,182.7L425.8,182.7M425.4,183.1L425.6,183.4M424.9,182.8L425.5,184.4M424.6,183.1L425.1,184.3M424.4,183.3L425.1,185.7M424.0,183.6L424.5,185.1M423.4,183.6L423.8,184.7M423.2,183.7L423.3,184.0M422.9,183.4L423.6,185.8M422.6,183.9L422.7,184.2M422.2,183.7L422.7,185.7M421.9,183.8L422.4,185.6M421.4,184.0L421.8,185.5M421.2,184.2L421.4,185.1M420.7,184.4L421.0,185.6M420.4,184.3L420.8,185.8M420.0,184.2L420.7,187.4M419.4,184.4L419.6,185.1M419.1,184.5L419.6,186.7M419.1,184.9L419.2,185.4M418.4,184.9L418.5,185.0M418.3,184.9L418.3,185.2M418.0,185.1L418.4,187.1M417.4,184.8L417.6,185.7M417.0,185.2L417.3,186.7M416.8,184.9L416.9,185.4M416.3,185.5L416.3,185.5M416.1,185.3L416.1,185.3M415.7,185.1L416.0,186.5M415.4,185.4L415.5,186.1M415.1,185.6L415.4,188.0M414.6,185.2L414.7,186.0M414.1,185.5L414.3,186.9M413.7,185.8L413.8,186.6M413.4,185.7L413.4,185.9M413.1,185.6L413.1,185.9M412.5,185.5L412.6,186.2M412.4,185.6L412.5,185.9M412.1,185.8L412.2,187.2M411.5,186.0L411.5,186.9M411.4,186.0L411.4,187.0M411.0,185.9L411.0,186.5M410.4,185.9L410.4,186.2M410.2,185.8L410.2,187.1M409.8,186.0L409.8,186.1M409.3,186.2L409.4,186.5M408.8,186.1L408.9,186.7M408.7,186.0L408.7,187.1M408.3,186.2L408.3,186.6M408.0,186.1L408.0,186.3M407.6,186.1L407.6,186.6M407.1,185.9L407.1,186.3M406.8,186.1L406.8,186.4M406.3,185.9L406.2,187.4M406.1,186.0L406.1,186.4M405.5,186.0L405.5,186.0M405.3,185.7L405.2,187.2M404.8,185.9L404.7,186.2M404.4,185.7L404.3,186.5M404.3,185.8L404.2,186.0M403.8,185.6L403.8,186.0M403.3,185.8L403.2,186.6M402.9,185.6L402.9,186.2M402.5,185.8L402.4,186.9M402.2,185.5L402.1,186.3M401.8,185.8L401.8,186.3M401.5,185.8L401.4,186.8M401.0,185.4L400.8,187.3M400.9,185.5L400.7,186.7M400.3,185.7L400.2,186.2M400.3,185.3L400.2,186.1M399.8,185.6L399.6,186.8M399.6,185.1L399.4,186.2M399.0,185.4L399.0,185.3M398.7,185.4L398.6,186.1M398.3,185.2L398.2,185.5M397.7,185.3L397.7,185.4M397.5,185.0L397.4,185.2M397.1,185.1L396.9,185.9M396.9,184.6L396.8,185.2M396.3,184.9L395.9,186.6M396.1,184.9L395.9,185.5M395.7,184.4L395.6,185.0M395.5,184.4L395.1,186.1M394.9,184.5L394.7,185.5M394.7,184.3L394.4,185.5M394.4,184.1L393.9,186.1M394.0,184.2L393.9,184.5M393.5,183.9L393.3,184.6M393.0,184.0L393.0,184.1M392.9,183.9L392.5,185.3M392.5,183.9L392.2,184.9M392.0,183.8L391.2,186.2M391.8,183.7L391.6,184.3M391.5,183.7L391.4,184.1M391.1,183.5L391.1,183.7M390.8,183.1L390.3,184.4M390.5,183.0L390.1,183.9M390.1,183.1L389.9,183.7M389.8,182.6L389.5,183.5M389.3,182.6L388.9,183.5M389.0,182.4L388.7,183.2M388.4,182.6L387.6,184.6M388.3,182.5L387.9,183.5M388.0,182.3L387.8,182.9M387.7,182.1L387.4,182.7M387.0,182.0L386.9,182.4M387.1,181.6L386.9,182.1M386.4,181.8L384.8,185.5M386.3,181.7L386.1,182.3M385.9,181.1L385.6,181.8M385.6,181.2L385.1,182.2M385.1,181.1L385.1,181.1M385.0,181.0L384.3,182.4M384.4,180.6L383.3,182.9M384.4,180.7L384.3,180.8M383.7,180.3L382.9,181.9M383.5,180.2L383.4,180.4M383.2,180.1L382.0,182.4M382.9,179.7L382.1,181.2M382.5,179.9L382.5,179.9M382.3,179.6L382.2,179.8M382.1,179.4L381.4,180.6M381.4,179.2L381.0,179.9M381.3,178.9L380.0,181.3M381.1,178.7L380.7,179.5M380.6,178.9L380.2,179.8M380.5,178.3L379.9,179.4M379.9,178.4L379.2,179.7M379.5,178.1L378.6,179.6M379.5,177.7L379.2,178.3M379.0,177.9L378.7,178.5M378.7,177.7L378.3,178.3M378.3,177.5L378.2,177.6M378.2,176.9L376.9,178.8M377.8,176.8L377.1,177.9M377.3,176.5L376.3,178.1M377.2,176.7L376.0,178.4M376.7,176.3L376.6,176.4M376.6,175.8L376.4,176.0M376.4,175.8L375.6,176.9M376.0,175.6L375.3,176.5M375.7,175.1L375.0,175.9M375.4,175.3L375.0,175.7M375.2,174.8L374.9,175.1M374.7,174.6L374.5,174.9M374.5,174.4L374.5,174.5M374.3,174.3L373.0,176.0M373.9,174.2L372.4,176.0M373.5,173.7L373.1,174.1M373.4,173.4L372.7,174.2M373.2,173.3L371.9,174.8M372.7,173.2L372.4,173.6M372.4,173.1L372.5,173.0M372.3,172.7L371.4,173.7M371.9,172.5L371.5,173.1M371.8,172.1L371.3,172.8M371.6,171.7L371.0,172.3M371.1,171.6L370.8,171.9M371.0,171.1L369.3,172.8M370.6,171.2L370.2,171.6M370.4,170.9L369.8,171.6M370.1,170.3L368.3,172.2M369.7,170.5L369.6,170.6M369.5,170.0L369.2,170.2M369.4,169.7L369.2,169.8M368.8,169.5L368.8,169.5M368.8,169.0L367.1,170.6M368.7,168.8L366.9,170.5M368.4,168.8L368.0,169.1M368.2,168.3L367.8,168.7M367.6,168.1L366.6,168.9M367.6,167.7L367.2,168.0M367.4,167.4L366.9,167.9M366.8,167.2L366.5,167.5M366.6,167.2L365.8,167.8M366.7,166.5L366.4,166.8M366.6,166.4L366.1,166.8M366.1,166.2L365.9,166.3M366.0,165.7L363.7,167.6M365.3,165.5L364.1,166.5M365.3,165.2L365.1,165.4M365.2,164.8L364.8,165.1M364.9,164.7L363.5,165.7M364.6,164.6L363.4,165.5M364.7,164.0L363.7,164.7M364.2,163.9L362.8,164.9M364.2,163.4L363.7,163.8M363.9,163.0L363.5,163.3M363.7,162.7L362.4,163.6M363.5,162.5L362.1,163.4M363.2,162.0L362.5,162.5M363.2,161.8L362.7,162.1M362.8,161.6L362.7,161.7M362.7,161.4L362.1,161.7M362.2,161.0L361.5,161.5M362.3,160.7L362.0,160.9M362.1,160.1L361.7,160.4M361.9,160.0L361.4,160.2M361.5,159.7L359.3,160.9M361.6,159.5L361.3,159.6M361.4,159.0L361.1,159.2M361.3,158.6L360.9,158.8M360.7,158.5L360.9,158.4M360.8,158.0L360.4,158.2M360.3,157.8L360.3,157.9M360.4,157.5L359.5,158.0M360.3,157.1L359.4,157.6M359.9,156.7L358.9,157.2M359.8,156.5L359.7,156.5M359.8,156.0L359.1,156.3M359.6,155.9L359.2,156.1M359.3,155.4L358.9,155.6M359.3,155.2L358.8,155.4M359.2,154.9L358.2,155.4M359.1,154.4L357.1,155.3M359.0,154.2L358.7,154.3M358.5,153.9L357.8,154.2M358.5,153.5L358.0,153.7M358.2,152.9L358.1,153.0M358.4,152.6L356.9,153.2M358.0,152.5L358.0,152.5M357.9,152.2L357.4,152.4M357.9,151.8L357.1,152.1M357.6,151.4L357.2,151.6M357.7,151.0L357.0,151.3M357.5,150.7L357.2,150.8M357.4,150.3L356.7,150.6M357.4,149.9L356.0,150.4M357.3,149.6L356.2,150.0M356.8,149.4L355.3,149.9M356.8,149.0L356.2,149.1M356.7,148.7L356.7,148.7M356.8,148.2L356.0,148.5M356.5,147.7L356.1,147.9M356.3,147.3L355.0,147.7M356.4,146.9L355.9,147.0M356.2,146.9L355.0,147.2M356.0,146.3L355.8,146.4M356.0,145.9L355.8,145.9M355.7,145.8L355.9,145.7M355.7,145.2L353.8,145.7M355.9,144.9L354.7,145.2M355.5,144.7L353.8,145.1M355.5,144.1L354.6,144.3M355.7,143.9L355.1,144.0M355.6,143.4L353.6,143.8M355.2,143.2L354.6,143.4M355.2,142.8L353.5,143.1M355.4,142.4L354.5,142.6M354.9,142.2L353.4,142.5M355.1,141.5L353.3,141.8M355.0,141.5L354.8,141.5M354.7,140.8L354.0,140.9M355.0,140.6L353.7,140.8M355.1,140.3L354.2,140.5M354.6,139.8L354.4,139.8M354.9,139.5L354.3,139.6M354.7,139.3L352.4,139.5M354.7,138.8L353.6,138.9M354.4,138.3L354.0,138.4M354.4,137.8L353.4,137.9M354.5,137.5L353.1,137.6M354.5,137.1L354.3,137.1M354.4,137.0L354.1,137.0M354.7,136.6L354.1,136.6M354.4,136.2L354.4,136.2M354.5,135.7L354.1,135.7M354.2,135.2L352.4,135.3M354.4,135.0L352.9,135.1M354.4,134.7L351.9,134.8M354.3,134.1L352.8,134.2M354.6,134.0L353.3,134.0M354.3,133.7L354.2,133.7M354.2,133.1L354.1,133.1M354.2,133.0L354.1,133.0M354.4,132.4L354.2,132.4M354.6,132.2L353.7,132.2M354.6,131.6L352.2,131.5M354.3,131.2L352.7,131.1M354.3,131.1L354.2,131.1M354.5,130.6L354.3,130.6M354.5,130.2L353.3,130.2M354.2,129.8L353.8,129.8M354.4,129.5L354.3,129.5M354.7,129.0L353.7,128.9M354.6,128.8L353.7,128.7M354.4,128.2L354.1,128.2M354.5,128.0L353.3,127.9M354.5,127.8L353.9,127.7M354.8,127.2L354.5,127.2M354.5,126.9L354.6,126.9M354.7,126.4L353.9,126.3M354.9,126.2L354.7,126.2M354.6,125.9L354.2,125.9M354.7,125.5L354.7,125.5M355.1,125.2L352.0,124.8M354.8,124.7L352.1,124.3M355.0,124.3L354.3,124.2M355.1,123.9L353.2,123.6M355.1,123.7L354.6,123.6M355.0,123.2L354.6,123.1M355.5,122.9L355.0,122.8M355.1,122.5L353.5,122.1M355.5,122.1L354.4,121.9M355.4,121.6L354.8,121.5M355.7,121.5L355.5,121.4M355.5,121.1L355.2,121.0M355.9,120.6L355.6,120.5M355.9,120.4L354.6,120.1M355.9,119.9L353.8,119.4M355.8,119.6L355.0,119.4M356.2,119.1L355.4,118.9M356.4,119.1L355.6,118.9M356.4,118.5L355.5,118.2M356.5,118.4L355.3,118.0M356.4,117.6L354.8,117.2M356.5,117.5L356.5,117.5M357.0,117.1L356.0,116.8M356.7,116.6L356.6,116.6M356.9,116.3L356.9,116.2M357.2,116.2L356.7,116.1M357.1,115.8L357.1,115.8M357.2,115.3L356.8,115.1M357.3,114.9L356.8,114.7M357.5,114.7L357.2,114.6M357.9,114.4L356.8,114.0M357.6,113.8L356.6,113.4M357.8,113.5L356.6,113.1M358.0,113.2L357.7,113.1M358.2,112.8L357.0,112.4M358.1,112.6L358.2,112.6M358.4,112.3L356.9,111.7M358.9,111.8L358.1,111.5M358.7,111.5L358.0,111.2M358.9,111.3L357.8,110.8M359.2,110.8L357.9,110.2M359.1,110.6L358.0,110.1M359.5,110.2L359.2,110.0M359.7,110.0L359.0,109.6M359.8,109.5L357.8,108.5M359.8,109.2L359.5,109.0M360.2,109.0L357.4,107.6M360.1,108.4L358.2,107.4M360.4,108.0L359.0,107.2M360.4,107.6L360.4,107.6M360.8,107.6L358.4,106.3M360.9,107.2L359.8,106.5M361.3,106.9L359.0,105.6M361.3,106.5L360.9,106.4M361.6,106.3L359.7,105.2M361.5,105.9L360.8,105.5M361.9,105.5L361.0,104.9M361.9,105.3L360.5,104.4M362.0,105.0L361.0,104.4M362.3,104.5L361.7,104.2M362.8,104.2L362.2,103.9M362.7,103.9L362.2,103.6M363.2,103.8L361.5,102.6M363.4,103.4L362.8,103.0M363.5,103.3L362.8,102.8M363.6,102.6L363.5,102.5M363.8,102.5L362.8,101.8M364.3,102.1L363.0,101.2M364.2,102.0L363.1,101.3M364.6,101.6L363.8,101.1M364.8,101.2L363.1,99.9M364.9,100.8L363.7,99.9M365.3,100.8L362.2,98.4M365.4,100.2L364.2,99.3M365.6,100.1L365.2,99.8M365.9,99.7L364.2,98.4M365.9,99.6L365.5,99.2M366.2,99.2L365.6,98.7M366.7,98.8L365.8,98.1M366.8,98.7L366.5,98.5M367.0,98.2L366.2,97.5M367.4,98.2L366.1,97.1M367.5,98.0L366.3,97.0M367.7,97.6L367.4,97.3M368.1,97.3L366.7,96.1M368.2,96.9L366.9,95.7M368.5,96.5L367.9,96.0M368.7,96.2L368.4,95.9M369.2,96.1L368.4,95.4M369.2,95.6L368.0,94.5M369.7,95.8L369.3,95.4M369.7,95.4L369.0,94.7M369.8,95.1L369.0,94.2M370.4,94.7L369.2,93.4M370.6,94.4L369.4,93.1M370.8,94.3L370.3,93.8M371.3,94.0L371.2,93.9M371.6,93.8L370.1,92.2M371.8,93.7L369.6,91.3M371.9,93.2L371.7,92.9M372.0,93.1L370.6,91.5M372.3,92.8L371.3,91.6M372.9,92.5L371.7,91.1M373.1,92.3L371.5,90.5M373.2,91.9L371.8,90.2M373.7,91.8L373.4,91.4M373.9,91.4L373.6,91.1M374.1,91.1L373.9,90.8M374.6,91.2L374.0,90.5M375.0,90.9L374.3,90.0M375.1,90.8L374.3,89.8M375.3,90.2L374.6,89.4M375.8,90.3L374.9,88.9M376.1,89.9L376.1,89.9M376.2,89.6L375.6,88.9M376.6,89.4L376.4,89.1M376.7,89.4L375.6,87.8M377.3,89.1L376.9,88.7M377.5,88.8L377.5,88.8M377.7,88.7L377.6,88.7M378.0,88.7L377.4,87.9M378.3,88.5L377.9,87.9M378.7,88.1L378.4,87.6M379.0,87.7L379.0,87.7M379.5,87.9L378.5,86.4M379.5,87.6L379.4,87.4M380.0,87.4L379.7,86.9M380.3,87.2L380.1,86.9M380.6,87.1L380.3,86.6M381.2,86.9L380.7,86.1M381.3,86.8L380.0,84.5M381.6,86.5L380.4,84.5M381.8,86.0L381.1,84.6M382.1,85.8L381.9,85.5M382.6,85.8L382.6,85.8M382.9,85.6L382.7,85.1M383.1,85.3L382.5,84.2M383.8,85.5L383.5,84.9M384.0,85.4L383.5,84.4M384.2,85.0L384.2,84.9M384.6,84.7L384.1,83.5M384.8,84.9L384.1,83.4M385.2,84.6L384.8,83.6M385.5,84.6L385.2,83.9M385.9,84.3L385.7,83.8M386.1,83.9L385.7,83.0M386.5,84.0L386.2,83.3M386.8,83.6L386.7,83.4M387.0,83.5L386.5,82.2M387.5,83.5L387.3,83.1M387.9,83.3L387.1,81.3M388.4,83.3L387.8,81.8M388.7,83.1L388.4,82.0M388.9,83.2L388.6,82.2M389.2,83.1L388.7,81.7M389.7,82.8L389.5,82.3M390.1,82.7L389.9,82.1M390.3,82.6L389.0,78.7M390.7,82.6L390.3,81.5M390.9,82.2L390.2,79.8M391.6,82.1L391.3,81.0M391.7,82.1L391.4,81.3M392.3,81.9L392.2,81.5M392.6,81.9L392.3,80.9M392.9,81.9L392.2,79.4M393.0,81.5L393.1,81.6M393.5,81.7L393.2,80.6M393.8,81.3L393.7,81.1M394.2,81.4L393.7,79.3M394.5,81.2L394.4,80.7M395.1,81.2L394.7,79.7M395.2,81.1L395.0,80.2M395.8,80.7L395.7,80.3M396.0,81.1L395.8,80.1M396.5,80.7L396.2,79.1M396.9,80.8L396.7,80.2M397.2,80.6L397.0,79.8M397.7,80.5L397.6,80.1M397.9,80.7L397.9,80.4M398.3,80.6L398.1,79.5M398.7,80.4L398.7,80.3M398.8,80.3L398.4,77.5M399.5,80.3L399.5,79.9M399.8,80.3L399.8,79.9M399.9,80.1L399.8,79.3M400.6,79.9L400.3,77.4M400.8,80.1L400.6,78.5M401.1,80.2L400.9,78.5M401.4,80.1L401.3,79.2M402.0,80.1L401.8,78.6M402.5,79.9L402.3,78.2M402.5,79.8L402.4,78.4M402.9,79.6L402.8,79.1M403.3,79.8L403.3,79.2M403.8,80.0L403.7,79.0M404.0,79.7L403.9,78.4M404.7,79.7L404.7,79.7M404.9,79.7L404.9,79.1M405.2,79.8L405.1,78.3M405.5,79.8L405.5,78.5M406.1,79.5L406.1,78.9M406.5,79.7L406.5,78.9M406.7,79.5L406.6,79.1M407.3,79.7L407.3,78.7" stroke="#cfe9e0" stroke-width="0.3" fill="none"/>
<path d="M386.21,84.04L385.79,83.07M390.81,82.29L390.18,80.36M391.81,81.97L391.6,81.3M391.88,81.94L391.71,81.4M387.96,83.32L386.39,79.33M389.99,82.56L389.3,80.56M388.94,82.94L387.41,78.83M385.91,84.18L385.28,82.76M391.48,82.07L391.17,81.09M386.18,84.06L385.77,83.1M389.24,82.83L388.26,80.13M390.69,82.33L390.11,80.58M390.15,82.51L389.31,80.07M389.38,82.78L388.38,80.03M386.13,84.08L385.65,82.98M388.43,83.13L387.25,80.06M391.14,82.18L390.49,80.19M390.32,82.45L389.43,79.85M385.43,84.39L385.1,83.66M385.7,84.27L385.38,83.56M387.9,83.34L386.24,79.14M389.21,82.84L388.37,80.56M388.56,83.09L386.84,78.57M389.48,82.75L387.98,78.58M392.17,81.86L392.01,81.32M385.66,84.29L385.09,83.04M429.21,84.23L429.43,83.74M427.82,83.63L428.66,81.62M428.97,84.12L429.3,83.36M426.13,82.97L427.81,78.47M425.84,82.86L427.96,77.11M423.73,82.14L424.33,80.28M428.62,83.97L429.36,82.27M422.71,81.82L422.99,80.91M423.6,82.09L424.29,79.91M428.98,84.13L429.41,83.15M424.94,82.54L425.77,80.13M428.41,83.88L429.34,81.71M427.55,83.52L429.01,79.94M425.06,82.58L425.88,80.23M427.97,83.7L428.93,81.4M424.94,82.54L426.29,78.65M426.19,82.99L427.85,78.58M427.62,83.55L428.43,81.57M427.6,83.54L428.33,81.77M423.22,81.98L423.56,80.87M427.02,83.31L428.27,80.14M427.3,83.42L428.18,81.22M428.12,83.76L429.07,81.51M426.47,83.1L427.78,79.67M424.72,82.46L426.12,78.39M423.07,81.93L423.54,80.38M447.31,97.51L449.02,96M447.95,98.25L449.4,97.01M448.02,98.32L449.83,96.78M447.8,98.07L449.49,96.62M448.62,99.04L450.21,97.74M446.14,96.23L446.62,95.77M450.6,101.61L451.04,101.28M447.55,97.78L448.96,96.55M446.29,96.39L446.73,95.97M450.07,100.89L451.46,99.85M447.16,97.34L448.42,96.22M446.8,96.94L447.81,96.02M448.08,98.4L450.16,96.64M449.35,99.95L451.51,98.25M446.23,96.33L446.78,95.81M450.57,101.57L451.18,101.14M449.62,100.3L450.8,99.39M450.57,101.57L451.12,101.16M448.94,99.44L450.65,98.07M449.2,99.77L450.8,98.5M450.47,101.43L451.27,100.85M449.26,99.84L451.43,98.13M450.39,101.33L451.18,100.75M446.82,96.96L447.95,95.94M447.04,97.21L448.5,95.9M447.41,97.63L449.46,95.83M459.04,119.62L462.18,118.82M457.87,115.67L460.72,114.7M459.22,120.34L461.21,119.86M459.11,119.91L461.65,119.28M459.12,119.95L461.11,119.46M459.41,121.16L460.01,121.03M459.05,119.67L461.87,118.95M457.76,115.35L459.15,114.87M459.31,120.72L460.61,120.41M458.01,116.1L461.24,115.03M458.5,117.65L463.65,116.12M458.42,117.4L463.89,115.74M459.19,120.23L460.4,119.93M459.08,119.79L461.36,119.21M457.42,114.4L458.08,114.15M459.16,120.11L460.93,119.68M457.71,115.23L459.41,114.63M457.55,114.76L458.38,114.47M457.94,115.89L459.49,115.37M458.41,117.35L463.51,115.8M459.04,119.63L461.81,118.92M459.19,120.21L461.57,119.63M458.11,116.41L461.34,115.36M458.84,118.86L461.38,118.17M458.88,119L461.75,118.23M457.78,115.43L459.47,114.84M458.76,147.04L463.29,148.3M458.05,149.39L460.43,150.17M459.24,145.18L461.68,145.76M459.5,144.03L459.9,144.12M457.56,150.8L458.67,151.2M458.11,149.19L461.25,150.21M458.35,148.45L461.28,149.35M457.89,149.86L459.76,150.49M458.06,149.36L461.97,150.64M459.38,144.58L460.73,144.88M459.44,144.32L460,144.44M458.28,148.66L462.9,150.11M458.23,148.83L460.96,149.7M457.76,150.25L459.18,150.74M458.66,147.39L464.72,149.12M458.78,146.97L461.99,147.85M459,146.16L461.4,146.78M457.62,150.64L458.73,151.03M459.46,144.23L459.9,144.33M457.97,149.61L460.72,150.53M458.55,147.77L462.35,148.89M458.04,149.41L461.7,150.61M457.34,151.41L457.62,151.52M458.1,149.22L460.87,150.12M458.56,147.74L462.62,148.92M459.32,144.82L461.03,145.21M451.06,163.34L451.21,163.44M449.83,165.03L450.82,165.78M448.25,167.01L449.83,168.34M449.21,165.82L451.3,167.48M446.57,168.9L446.94,169.24M449.53,165.42L451.04,166.6M448.56,166.62L450.96,168.6M450.88,163.6L451.32,163.91M450.59,164L451.48,164.64M448.92,166.18L450.94,167.8M449.13,165.92L451.19,167.56M448.76,166.38L451.17,168.34M449.7,165.19L451.28,166.4M447.53,167.84L448.8,168.95M447.37,168.03L448.75,169.25M449.18,165.86L451.31,167.55M447.37,168.02L448.39,168.92M447.37,168.02L448.84,169.32M449.12,165.93L450.49,167.02M449.84,165.01L451.39,166.2M446.78,168.68L447.52,169.35M447.78,167.56L449.4,168.96M449.21,165.83L451.59,167.71M447.05,168.38L448.23,169.44M446.88,168.57L447.67,169.29M448.22,167.03L449.96,168.49M419.36,184.66L420.19,188.3M421.47,184.13L422.33,187.3M420.71,184.33L421.76,188.43M423.9,183.41L424.25,184.5M421.48,184.13L422.52,187.96M419.02,184.74L419.37,186.34M417.47,185.06L417.65,186.03M417.76,185L417.93,185.88M419.51,184.63L420.29,187.98M424.03,183.37L424.22,183.95M417.61,185.03L417.82,186.15M417.49,185.05L417.66,185.9M421.02,184.25L422.13,188.5M417.44,185.06L417.56,185.7M423.43,183.56L424.01,185.42M424.4,183.24L424.57,183.74M422.13,183.95L423.13,187.44M418.22,184.91L418.45,186M421.29,184.18L422.32,188.03M424.23,183.3L424.48,184.07M421.04,184.25L421.98,187.82M421.79,184.04L422.44,186.38M417.95,184.96L418.28,186.63M418.19,184.91L418.41,185.97M418.16,184.92L418.36,185.94M421.96,184L422.96,187.56M401.84,185.7L401.73,186.68M398.52,185.24L397.72,189.9M398.75,185.28L398.2,188.58M401.02,185.6L400.71,188.1M398.66,185.26L397.99,189.24M398.98,185.31L398.29,189.57M397.31,185.01L396.91,187.08M399.91,185.46L399.41,188.88M399.39,185.38L398.71,189.73M399.81,185.44L399.31,188.92M399.13,185.34L398.23,190.97M401.63,185.68L401.47,187.16M396.84,184.92L396.38,187.2M402.87,185.8L402.84,186.18M397.55,185.06L397.23,186.73M396.69,184.89L396.4,186.3M396.28,184.8L395.9,186.55M398.88,185.3L398.17,189.63M398.21,185.18L397.54,188.95M401.22,185.63L400.91,188.19M399.73,185.43L399.07,189.89M397.37,185.03L396.94,187.27M396.26,184.8L395.99,186.06M399.76,185.43L399.43,187.7M401.76,185.69L401.65,186.71M398.35,185.21L397.64,189.27M376.93,176.34L376.82,176.49M382.86,179.95L382.57,180.51M380.92,178.88L380.12,180.27M377.24,176.56L376.94,177M378.11,177.14L377.39,178.23M379.1,177.79L378.45,178.81M383.29,180.17L383.17,180.4M379.38,177.96L378.17,179.92M378.7,177.53L378.1,178.46M380.62,178.71L379.92,179.9M381.84,179.4L381.16,180.65M382.68,179.85L382.43,180.32M381.28,179.09L380.33,180.77M383.46,180.26L383.35,180.47M381.39,179.15L380.85,180.12M382.81,179.92L382.46,180.59M381.17,179.03L380.35,180.46M378.55,177.43L377.99,178.29M381.43,179.17L380.78,180.32M377.1,176.46L376.89,176.76M380.36,178.56L379.52,179.97M378.85,177.63L377.97,179.01M377.61,176.81L377.19,177.43M380.29,178.52L379.5,179.85M381.54,179.24L380.94,180.3M379.24,177.88L378.11,179.69M366.96,167.25L366.46,167.68M364.26,163.8L360.31,166.63M363.61,162.87L361.92,164.03M366.47,166.66L364.87,167.99M365.17,165.02L361.65,167.69M367.02,167.32L366.44,167.81M365.46,165.4L362.22,167.91M366.78,167.03L365.84,167.82M365.73,165.74L363.89,167.19M365.26,165.15L360.99,168.42M364.3,163.85L362.19,165.37M366.87,167.15L366.06,167.84M364.81,164.54L361.23,167.2M362.88,161.78L361.63,162.59M362.65,161.41L362.32,161.62M365.43,165.36L361.72,168.23M363.56,162.79L361.86,163.94M363.07,162.05L361.4,163.15M362.72,161.53L361.95,162.02M366.92,167.2L366.52,167.54M362.96,161.9L361.96,162.55M365.45,165.38L362.11,167.97M364.3,163.84L361.38,165.93M365.22,165.09L362.27,167.35M362.69,161.47L362.27,161.74M364.94,164.71L361.38,167.38M356.06,146.38L352.15,147.41M356.53,148.05L353.01,149.1M356.99,149.49L353.66,150.59M357.26,150.3L355.39,150.95M357.5,150.98L356.92,151.19M357.01,149.55L353.78,150.62M355.99,146.09L353.07,146.85M355.5,144.02L355.15,144.09M355.89,145.71L353.31,146.35M356.35,147.42L352.7,148.46M356.65,148.43L354,149.24M357.53,151.05L356.81,151.32M355.65,144.72L354.69,144.94M356.49,147.92L351.74,149.33M355.9,145.74L353.95,146.23M356.69,148.56L353.29,149.61M355.51,144.07L355.09,144.16M355.76,145.18L353.54,145.71M356.96,149.42L354.21,150.32M356.64,148.39L354.05,149.18M356.75,148.76L354.46,149.48M356.09,146.48L352.04,147.56M357.43,150.78L356.55,151.1M355.67,144.8L354.17,145.15M355.64,144.65L354.83,144.84M356.22,146.95L351.03,148.38M359.07,110.78L357.92,110.26M359.09,110.73L357.86,110.17M358.3,112.57L355.23,111.31M358.3,112.56L354.87,111.15M358.09,113.07L356.21,112.32M357.92,113.51L355.52,112.57M357.9,113.57L355.56,112.66M356.93,116.27L356.76,116.21M359.29,110.31L358.3,109.85M357.39,114.95L356.12,114.5M356.97,116.15L356.74,116.08M358.08,113.12L355.96,112.27M357.65,114.22L356.49,113.79M358.16,112.9L355.92,112M358.93,111.09L356.85,110.17M359.08,110.76L358.13,110.33M358.21,112.79L356.22,111.98M357.74,113.98L355.69,113.2M357.03,115.98L356.7,115.87M359.85,109.15L359.69,109.07M359.73,109.39L359.5,109.28M357.54,114.51L356.44,114.11M358.99,110.96L357.84,110.44M357.19,115.51L356.15,115.15M359.03,110.87L357.66,110.26M358.82,111.34L356.46,110.29M372.69,92.57L372.03,91.8M371.84,93.32L370.77,92.13M372.83,92.45L371.82,91.27M371.57,93.57L369.37,91.16M369.03,96.05L367.03,94.14M371.39,93.73L368.44,90.53M373.27,92.08L373,91.76M370.14,94.92L368.46,93.21M371.95,93.22L370.89,92.04M370.37,94.7L368.38,92.65M371.13,93.97L369.22,91.93M368.5,96.61L367.63,95.8M368.55,96.57L367.39,95.49M369.02,96.06L367.1,94.23M368.18,96.97L367.73,96.56M370.11,94.95L366.58,91.37M373.17,92.16L372.86,91.8M370.71,94.37L367.35,90.85M370.66,94.42L367.94,91.6M373.12,92.2L372.81,91.83M371.29,93.83L369.83,92.26M373.03,92.28L372.29,91.4M372.53,92.71L371.55,91.59M369.4,95.67L367.46,93.78M370.61,94.47L367.83,91.59M369.75,95.31L366.92,92.5M406.75,79.61L406.74,78.9M407.88,79.6L407.89,78.41M409.38,79.63L409.42,78.59M411.99,79.79L412.01,79.56M406.5,79.61L406.48,78.55M409.18,79.63L409.22,78.1M406.5,79.61L406.49,78.94M407.94,79.6L407.96,78.22M406.9,79.6L406.89,78.4M406.1,79.62L406.08,78.97M409.91,79.65L409.96,78.42M410.81,79.7L410.84,79.12M410.63,79.69L410.68,78.94M406.47,79.61L406.46,79.13M411.5,79.75L411.53,79.39M408.8,79.62L408.82,78.53M412.16,79.8L412.18,79.61M405.49,79.64L405.47,79.2M405.42,79.64L405.4,79.28M407.72,79.6L407.73,78.06M412.15,79.8L412.17,79.68M405.67,79.63L405.65,79.24M407.75,79.6L407.75,78.83M407.62,79.6L407.62,78.58M408.47,79.61L408.49,78.05M407.27,79.6L407.27,78.65M460.64,135.22L461.58,135.27M460.7,132.47L461.37,132.47M460.62,135.78L461.65,135.84M460.66,134.9L462.12,134.96M460.7,132.35L461.18,132.34M460.59,136.2L461.56,136.26M460.69,133.84L462.04,133.87M460.69,131.83L461.12,131.82M460.66,130.84L460.78,130.84M460.6,136.07L461.55,136.13M460.55,136.82L461,136.85M460.64,135.29L461.92,135.35M460.68,134.19L462.08,134.22M460.7,132.59L461.48,132.59M460.54,136.98L460.95,137.01M460.68,131.23L460.89,131.23M460.67,134.68L462.52,134.74M460.63,135.61L462.03,135.68M460.69,133.64L461.96,133.66M460.42,138.25L460.66,138.27M460.69,131.95L461.15,131.94M460.7,132.51L461.58,132.5M460.59,136.25L461.25,136.29M460.64,135.38L462.03,135.45M460.57,136.56L461.56,136.63M460.51,137.28L461.19,137.34M436.9,177.14L437.49,178.02M440.03,174.9L440.32,175.28M436.09,177.67L436.39,178.14M439.36,175.41L439.81,176.02M435.92,177.77L436.19,178.21M440.88,174.23L441.02,174.4M436.88,177.15L437.51,178.11M437.22,176.92L437.64,177.55M440.45,174.57L440.69,174.87M434.81,178.46L434.89,178.59M437.56,176.7L438.11,177.51M436.34,177.5L436.79,178.2M441.06,174.08L441.11,174.15M436.52,177.39L437.1,178.28M436.32,177.52L436.66,178.04M440.31,174.68L440.52,174.95M438.34,176.15L439.35,177.56M438.89,175.75L439.58,176.69M440.48,174.54L440.65,174.76M438.28,176.19L439,177.2M439.25,175.49L439.87,176.31M439.84,175.04L440.16,175.46M438.8,175.82L439.55,176.84M438.83,175.8L439.3,176.45M434.81,178.46L434.87,178.57M438.96,175.7L439.51,176.45" stroke="#f25a5a" stroke-width="0.55" fill="none" opacity="0.6"/>
<text x="484.5" y="240" font-family="Liberation Serif, Times New Roman, serif" font-size="4.2" fill="#222">Gene Density (gene per 100Kb)</text>
<defs><linearGradient id="gd" x1="0" x2="1"><stop offset="0" stop-color="#d0102a"/><stop offset="0.5" stop-color="#900018"/><stop offset="1" stop-color="#000"/></linearGradient></defs>
<rect x="484.5" y="243.2" width="24" height="4.3" fill="url(#gd)"/>
<text x="484.8" y="252" font-family="Liberation Serif, Times New Roman, serif" font-size="4.2" fill="#222" xml:space="preserve">5  10 15 20 25</text>
<text x="7.6" y="271.8" font-family="Liberation Serif, Times New Roman, serif" font-size="19.6" fill="#000">C</text>
<path d="M46.5,263.5 H271.3 V419.5" fill="none" stroke="#6a6a6a" stroke-width="0.9"/>
<path d="M46.5,263.5 V419.5 H271.3" fill="none" stroke="#7a7a7a" stroke-width="1.4"/>
<text x="41.2" y="421.7" font-family="Liberation Serif, Times New Roman, serif" font-size="6.6" fill="#606060" text-anchor="end">0%</text>
<line x1="46.5" y1="397.21" x2="48.3" y2="397.21" stroke="#444" stroke-width="0.9"/>
<text x="41.2" y="399.41" font-family="Liberation Serif, Times New Roman, serif" font-size="6.6" fill="#606060" text-anchor="end">10%</text>
<line x1="46.5" y1="374.93" x2="48.3" y2="374.93" stroke="#444" stroke-width="0.9"/>
<text x="41.2" y="377.13" font-family="Liberation Serif, Times New Roman, serif" font-size="6.6" fill="#606060" text-anchor="end">20%</text>
<line x1="46.5" y1="352.64" x2="48.3" y2="352.64" stroke="#444" stroke-width="0.9"/>
<text x="41.2" y="354.84" font-family="Liberation Serif, Times New Roman, serif" font-size="6.6" fill="#606060" text-anchor="end">30%</text>
<line x1="46.5" y1="330.36" x2="48.3" y2="330.36" stroke="#444" stroke-width="0.9"/>
<text x="41.2" y="332.56" font-family="Liberation Serif, Times New Roman, serif" font-size="6.6" fill="#606060" text-anchor="end">40%</text>
<line x1="46.5" y1="308.07" x2="48.3" y2="308.07" stroke="#444" stroke-width="0.9"/>
<text x="41.2" y="310.27" font-family="Liberation Serif, Times New Roman, serif" font-size="6.6" fill="#606060" text-anchor="end">50%</text>
<line x1="46.5" y1="285.79" x2="48.3" y2="285.79" stroke="#444" stroke-width="0.9"/>
<text x="41.2" y="287.99" font-family="Liberation Serif, Times New Roman, serif" font-size="6.6" fill="#606060" text-anchor="end">60%</text>
<text x="41.2" y="265.7" font-family="Liberation Serif, Times New Roman, serif" font-size="6.6" fill="#606060" text-anchor="end">70%</text>
<rect x="51.42" y="404.12" width="4.7" height="15.38" fill="#2b3192"/>
<rect x="57.32" y="408.13" width="4.7" height="11.37" fill="#c8002a"/>
<text x="56.72" y="429.2" font-family="Liberation Serif, Times New Roman, serif" font-size="6.7" fill="#606060" text-anchor="middle">≥10k</text>
<rect x="71.85" y="417.72" width="4.7" height="1.78" fill="#2b3192"/>
<rect x="77.75" y="418.16" width="4.7" height="1.34" fill="#c8002a"/>
<text x="77.15" y="429.2" font-family="Liberation Serif, Times New Roman, serif" font-size="6.7" fill="#606060" text-anchor="middle">10~9</text>
<rect x="92.29" y="417.27" width="4.7" height="2.23" fill="#2b3192"/>
<rect x="98.19" y="417.27" width="4.7" height="2.23" fill="#c8002a"/>
<text x="97.59" y="429.2" font-family="Liberation Serif, Times New Roman, serif" font-size="6.7" fill="#606060" text-anchor="middle">9~8</text>
<rect x="112.73" y="417.27" width="4.7" height="2.23" fill="#2b3192"/>
<rect x="118.63" y="417.05" width="4.7" height="2.45" fill="#c8002a"/>
<text x="118.03" y="429.2" font-family="Liberation Serif, Times New Roman, serif" font-size="6.7" fill="#606060" text-anchor="middle">8~7</text>
<rect x="133.16" y="415.49" width="4.7" height="4.01" fill="#2b3192"/>
<rect x="139.06" y="415.71" width="4.7" height="3.79" fill="#c8002a"/>
<text x="138.46" y="429.2" font-family="Liberation Serif, Times New Roman, serif" font-size="6.7" fill="#606060" text-anchor="middle">7~6</text>
<rect x="153.6" y="414.82" width="4.7" height="4.68" fill="#2b3192"/>
<rect x="159.5" y="414.82" width="4.7" height="4.68" fill="#c8002a"/>
<text x="158.9" y="429.2" font-family="Liberation Serif, Times New Roman, serif" font-size="6.7" fill="#606060" text-anchor="middle">6~5</text>
<rect x="174.04" y="413.26" width="4.7" height="6.24" fill="#2b3192"/>
<rect x="179.94" y="412.81" width="4.7" height="6.69" fill="#c8002a"/>
<text x="179.34" y="429.2" font-family="Liberation Serif, Times New Roman, serif" font-size="6.7" fill="#606060" text-anchor="middle">5~4</text>
<rect x="194.47" y="410.36" width="4.7" height="9.14" fill="#2b3192"/>
<rect x="200.37" y="410.14" width="4.7" height="9.36" fill="#c8002a"/>
<text x="199.77" y="429.2" font-family="Liberation Serif, Times New Roman, serif" font-size="6.7" fill="#606060" text-anchor="middle">4~3</text>
<rect x="214.91" y="405.46" width="4.7" height="14.04" fill="#2b3192"/>
<rect x="220.81" y="405.24" width="4.7" height="14.26" fill="#c8002a"/>
<text x="220.21" y="429.2" font-family="Liberation Serif, Times New Roman, serif" font-size="6.7" fill="#606060" text-anchor="middle">3~2</text>
<rect x="235.35" y="396.32" width="4.7" height="23.18" fill="#2b3192"/>
<rect x="241.25" y="395.43" width="4.7" height="24.07" fill="#c8002a"/>
<text x="240.65" y="429.2" font-family="Liberation Serif, Times New Roman, serif" font-size="6.7" fill="#606060" text-anchor="middle">2~1</text>
<rect x="255.78" y="281.77" width="4.7" height="137.73" fill="#2b3192"/>
<rect x="261.68" y="278.88" width="4.7" height="140.62" fill="#c8002a"/>
<text x="261.08" y="429.2" font-family="Liberation Serif, Times New Roman, serif" font-size="6.7" fill="#606060" text-anchor="middle">1~0</text>
<rect x="58" y="271.6" width="3.6" height="3.9" fill="#2b3192"/>
<text x="63.8" y="276.6" font-family="Liberation Serif, Times New Roman, serif" font-size="8.8" fill="#555">GL3</text>
<rect x="86" y="271.6" width="3.6" height="3.9" fill="#c8002a"/>
<text x="91.8" y="276.6" font-family="Liberation Serif, Times New Roman, serif" font-size="8.8" fill="#555">DGL3</text>
<text x="23.6" y="349" font-family="Liberation Serif, Times New Roman, serif" font-size="10.2" fill="#474747" text-anchor="middle" transform="rotate(-90 23.6 349)">Percentage of upstream THSs</text>
<text x="148.6" y="443.5" font-family="Liberation Serif, Times New Roman, serif" font-size="8.75" fill="#474747" text-anchor="middle" xml:space="preserve">Distance upstream  of TSS (kb)</text>
<text x="282.1" y="272.8" font-family="Liberation Serif, Times New Roman, serif" font-size="19.6" fill="#000">D</text>
<path d="M311.3,261.6 H538 V423" fill="none" stroke="#6a6a6a" stroke-width="0.9"/>
<path d="M311.3,261.6 V423 H538" fill="none" stroke="#7a7a7a" stroke-width="1.4"/>
<text x="306.5" y="425.2" font-family="Liberation Serif, Times New Roman, serif" font-size="6.2" fill="#606060" text-anchor="end">0%</text>
<line x1="311.3" y1="399.94" x2="313.1" y2="399.94" stroke="#444" stroke-width="0.9"/>
<text x="306.5" y="402.14" font-family="Liberation Serif, Times New Roman, serif" font-size="6.2" fill="#606060" text-anchor="end">10%</text>
<line x1="311.3" y1="376.89" x2="313.1" y2="376.89" stroke="#444" stroke-width="0.9"/>
<text x="306.5" y="379.09" font-family="Liberation Serif, Times New Roman, serif" font-size="6.2" fill="#606060" text-anchor="end">20%</text>
<line x1="311.3" y1="353.83" x2="313.1" y2="353.83" stroke="#444" stroke-width="0.9"/>
<text x="306.5" y="356.03" font-family="Liberation Serif, Times New Roman, serif" font-size="6.2" fill="#606060" text-anchor="end">30%</text>
<line x1="311.3" y1="330.77" x2="313.1" y2="330.77" stroke="#444" stroke-width="0.9"/>
<text x="306.5" y="332.97" font-family="Liberation Serif, Times New Roman, serif" font-size="6.2" fill="#606060" text-anchor="end">40%</text>
<line x1="311.3" y1="307.71" x2="313.1" y2="307.71" stroke="#444" stroke-width="0.9"/>
<text x="306.5" y="309.91" font-family="Liberation Serif, Times New Roman, serif" font-size="6.2" fill="#606060" text-anchor="end">50%</text>
<line x1="311.3" y1="284.66" x2="313.1" y2="284.66" stroke="#444" stroke-width="0.9"/>
<text x="306.5" y="286.86" font-family="Liberation Serif, Times New Roman, serif" font-size="6.2" fill="#606060" text-anchor="end">60%</text>
<text x="306.5" y="263.8" font-family="Liberation Serif, Times New Roman, serif" font-size="6.2" fill="#606060" text-anchor="end">70%</text>
<rect x="318.07" y="422.88" width="6.6" height="0.12" fill="#2b3192"/>
<rect x="326.27" y="422.88" width="6.6" height="0.12" fill="#c8002a"/>
<text x="325.47" y="432.4" font-family="Liberation Serif, Times New Roman, serif" font-size="6.7" fill="#606060" text-anchor="middle">≥8</text>
<rect x="346.41" y="422.88" width="6.6" height="0.12" fill="#2b3192"/>
<rect x="354.61" y="422.88" width="6.6" height="0.12" fill="#c8002a"/>
<text x="353.81" y="432.4" font-family="Liberation Serif, Times New Roman, serif" font-size="6.7" fill="#606060" text-anchor="middle">7</text>
<rect x="374.74" y="422.31" width="6.6" height="0.69" fill="#2b3192"/>
<rect x="382.94" y="422.08" width="6.6" height="0.92" fill="#c8002a"/>
<text x="382.14" y="432.4" font-family="Liberation Serif, Times New Roman, serif" font-size="6.7" fill="#606060" text-anchor="middle">6</text>
<rect x="403.08" y="420.92" width="6.6" height="2.08" fill="#2b3192"/>
<rect x="411.28" y="420.69" width="6.6" height="2.31" fill="#c8002a"/>
<text x="410.48" y="432.4" font-family="Liberation Serif, Times New Roman, serif" font-size="6.7" fill="#606060" text-anchor="middle">5</text>
<rect x="431.42" y="417.24" width="6.6" height="5.76" fill="#2b3192"/>
<rect x="439.62" y="416.08" width="6.6" height="6.92" fill="#c8002a"/>
<text x="438.82" y="432.4" font-family="Liberation Serif, Times New Roman, serif" font-size="6.7" fill="#606060" text-anchor="middle">4</text>
<rect x="459.76" y="405.71" width="6.6" height="17.29" fill="#2b3192"/>
<rect x="467.96" y="402.25" width="6.6" height="20.75" fill="#c8002a"/>
<text x="467.16" y="432.4" font-family="Liberation Serif, Times New Roman, serif" font-size="6.7" fill="#606060" text-anchor="middle">3</text>
<rect x="488.09" y="367.66" width="6.6" height="55.34" fill="#2b3192"/>
<rect x="496.29" y="362.59" width="6.6" height="60.41" fill="#c8002a"/>
<text x="495.49" y="432.4" font-family="Liberation Serif, Times New Roman, serif" font-size="6.7" fill="#606060" text-anchor="middle">2</text>
<rect x="516.43" y="274.51" width="6.6" height="148.49" fill="#2b3192"/>
<rect x="524.63" y="284.2" width="6.6" height="138.8" fill="#c8002a"/>
<text x="523.83" y="432.4" font-family="Liberation Serif, Times New Roman, serif" font-size="6.7" fill="#606060" text-anchor="middle">1</text>
<rect x="315.5" y="270.6" width="3.6" height="3.9" fill="#2b3192"/>
<text x="321.3" y="275.6" font-family="Liberation Serif, Times New Roman, serif" font-size="8.8" fill="#555">GL3</text>
<rect x="341.1" y="270.6" width="3.6" height="3.9" fill="#c8002a"/>
<text x="346.9" y="275.6" font-family="Liberation Serif, Times New Roman, serif" font-size="8.8" fill="#555">DGL3</text>
<text x="290.3" y="344.5" font-family="Liberation Serif, Times New Roman, serif" font-size="9" fill="#474747" text-anchor="middle" transform="rotate(-90 290.3 344.5)">Percentage of genes</text>
<text x="432" y="442.8" font-family="Liberation Serif, Times New Roman, serif" font-size="8.75" fill="#474747" text-anchor="middle" xml:space="preserve">Number of upstream  THSs per gene</text>
</svg>
</body></html>
